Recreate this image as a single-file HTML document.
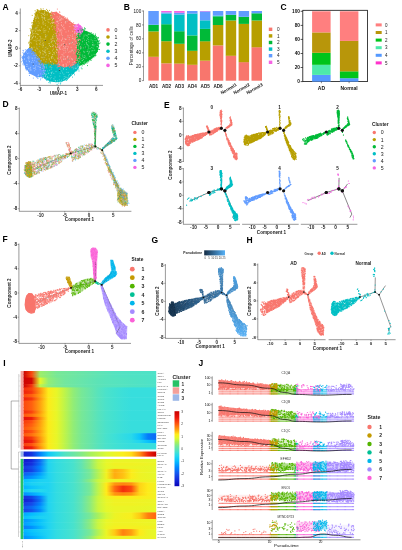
<!DOCTYPE html>
<html><head><meta charset="utf-8"><style>
html,body{margin:0;padding:0;background:#fff;width:402px;height:550px;overflow:hidden}
svg{display:block;will-change:transform}
text{font-family:"Liberation Sans",sans-serif}
path{fill:none;stroke-linecap:round}
</style></head><body>
<svg width="402" height="550" viewBox="0 0 402 550">
<rect width="402" height="550" fill="#fff"/>
<text x="2.5" y="9.5" font-size="8.5" font-weight="bold">A</text>
<line x1="20.3" y1="8.5" x2="20.3" y2="85.6" stroke="#333" stroke-width=".5"/>
<line x1="20.3" y1="85.4" x2="103" y2="85.4" stroke="#333" stroke-width=".5"/>
<line x1="18.8" y1="13" x2="20.3" y2="13" stroke="#333" stroke-width=".4"/>
<text x="17.8" y="14.6" font-size="4.6" text-anchor="end" font-weight="bold" fill="#222">4</text>
<line x1="18.8" y1="30.6" x2="20.3" y2="30.6" stroke="#333" stroke-width=".4"/>
<text x="17.8" y="32.2" font-size="4.6" text-anchor="end" font-weight="bold" fill="#222">2</text>
<line x1="18.8" y1="48.2" x2="20.3" y2="48.2" stroke="#333" stroke-width=".4"/>
<text x="17.8" y="49.8" font-size="4.6" text-anchor="end" font-weight="bold" fill="#222">0</text>
<line x1="18.8" y1="65.8" x2="20.3" y2="65.8" stroke="#333" stroke-width=".4"/>
<text x="17.8" y="67.4" font-size="4.6" text-anchor="end" font-weight="bold" fill="#222">-2</text>
<line x1="18.8" y1="83.3" x2="20.3" y2="83.3" stroke="#333" stroke-width=".4"/>
<text x="17.8" y="84.9" font-size="4.6" text-anchor="end" font-weight="bold" fill="#222">-4</text>
<line x1="20.4" y1="85.4" x2="20.4" y2="86.9" stroke="#333" stroke-width=".4"/>
<text x="20.4" y="91.1" font-size="4.6" text-anchor="middle" font-weight="bold" fill="#222">-6</text>
<line x1="39.1" y1="85.4" x2="39.1" y2="86.9" stroke="#333" stroke-width=".4"/>
<text x="39.1" y="91.1" font-size="4.6" text-anchor="middle" font-weight="bold" fill="#222">-3</text>
<line x1="58.3" y1="85.4" x2="58.3" y2="86.9" stroke="#333" stroke-width=".4"/>
<text x="58.3" y="91.1" font-size="4.6" text-anchor="middle" font-weight="bold" fill="#222">0</text>
<line x1="77.3" y1="85.4" x2="77.3" y2="86.9" stroke="#333" stroke-width=".4"/>
<text x="77.3" y="91.1" font-size="4.6" text-anchor="middle" font-weight="bold" fill="#222">3</text>
<line x1="96.2" y1="85.4" x2="96.2" y2="86.9" stroke="#333" stroke-width=".4"/>
<text x="96.2" y="91.1" font-size="4.6" text-anchor="middle" font-weight="bold" fill="#222">6</text>
<text x="58.3" y="95.3" font-size="4.5" text-anchor="middle" font-weight="bold" fill="#222">UMAP-1</text>
<text x="11.5" y="48" font-size="4.5" text-anchor="middle" font-weight="bold" fill="#222" transform="rotate(-90 11.5 48)">UMAP-2</text>
<polygon points="50.9,14.6 53.1,13.5 56.2,12.7 59.3,15 63.9,18.1 68.5,21.2 73.1,24.3 76.2,26.6 78.3,32.5 78.4,39 77.8,46.7 77.3,54.4 77.4,62.5 74.5,66 65.4,66.7 57.7,66 57,59 56.7,51.3 56.3,43.6 55.5,35.9 54.7,28.1 53.2,20.4" fill="#F8766D" stroke="#F8766D" stroke-width="1.6" stroke-linejoin="round"/>
<polygon points="36.3,12.9 38.8,11.2 43.1,10.9 47,12.4 50.9,14.6 53.2,20.4 54.7,28.1 55.5,35.9 56.3,43.6 56.7,51.3 57,59 56.3,64.4 50.9,63.5 46.2,63.2 43.5,65.5 39.5,60.5 34.5,54.3 30.3,48.8 30.3,42 31.3,35 32.8,27 34.6,19.5" fill="#B79F00" stroke="#B79F00" stroke-width="1.6" stroke-linejoin="round"/>
<polygon points="78.3,32.5 80.9,30.5 84,31.2 88.6,32.8 92.6,35.1 96.1,38.2 97.8,42 98,46.7 96.6,51.3 93.9,55.9 89.6,59 85.5,62.1 80.9,64.4 78.8,65.4 77.4,62.5 77.3,54.4 77.8,46.7 78.4,39" fill="#00BA38" stroke="#00BA38" stroke-width="1.6" stroke-linejoin="round"/>
<polygon points="43.5,65.5 46.2,64.2 50.9,64.8 56.3,66 57.7,67.5 65.4,68 74.5,67 77.4,63.5 78.8,65.4 77.5,68.3 73.1,72.9 68.5,77.5 62.3,80.6 56.2,81.4 50,80.6 44.7,77.5 43.1,76 43.9,69.8" fill="#00BFC4" stroke="#00BFC4" stroke-width="1.6" stroke-linejoin="round"/>
<polygon points="23.1,57.5 24.8,53.5 27.5,50 30.3,48.8 34.5,54.3 39.5,60.5 43.5,65.5 44.3,70.5 43.1,76 37,76.3 30.8,73.2 26.2,67.5 23.7,62" fill="#619CFF" stroke="#619CFF" stroke-width="1.6" stroke-linejoin="round"/>
<polygon points="74.7,25.8 78.5,24.8 81.6,27.4 82.4,30.5 80.1,32.8 77,32 75.5,28.9" fill="#F564E3" stroke="#F564E3" stroke-width="1.6" stroke-linejoin="round"/>
<path d="M53.8 26.2h0m-.2-7.6h0m-.7-1.5h0m.2-.2h0m0-1.5h0m1-1.8h0m1 5.3h0m1 .1h0m-.3 1.7h0m-.3 .7h0m-1.5 .3h0m2.6 2.4h0m-2.4 .7h0m.9 0h0m1.7 0h0m-.6 4.9h0m.5 1.1h0m3 25.4h0m-.3-.3h0m-2-5.8h0m-.2-6.1h0m.6-.3h0m1.1-1h0m-1.9-3.7h0m.3-1h0m1.4-2.8h0m0-.5h0m-.3-3.2h0m-.3-3.1h0m.5-1.2h0m1.2-2.6h0m-1.2-5h0m1.3-1h0m.6-.1h0m-.3 2.5h0m1 6.7h0m1.5 2.1h0m-1.1 3.4h0m-.7 4.8h0m-.1 .7h0m.1 2h0m.3 .2h0m-.6 2.7h0m.7 5.7h0m1.1 4.6h0m-.2 3.4h0m-.3 3.1h0m-1.3 .5h0m1.4 1.1h0m.3 1.6h0m2.5 1.3h0m-1.1 0h0m1.9-1h0m.3-.3h0m-.2-.9h0m-2.5-.4h0m.1-2h0m2.3-.2h0m-.8-5.3h0m1.1-.6h0m-.9-3.9h0m-1.2-.2h0m1.1-4.9h0m-.6-3h0m-.1-.6h0m-.5-2.6h0m1.7-6.1h0m-1.7-.6h0m2.1-1.6h0m-.7-5h0m-1.7-2.7h0m1.2-2.7h0m3.6-.6h0m-1.4 6h0m.5 7.1h0m-.6 .6h0m-.6 2.4h0m.6 2.2h0m1.4 1.5h0m-.8 1h0m-.2 10h0m-.8 4.3h0m2.2 1.5h0m-2 4.1h0m1.5 .4h0m-1.2 .7h0m1.4 2.5h0m1.2 2.2h0m2-4h0m-1.3-1.7h0m-.8-4.4h0m.6-10.9h0m.5-1.4h0m.9-5.7h0m-2.2-1.9h0m.2-.7h0m2.6-6.8h0m1.2-1.1h0m1.7 1.4h0m-1.2 .6h0m.3 9h0m-1.4 1.2h0m.4 4.4h0m-.4 5.4h0m2.1 .7h0m-1.2 1.9h0m1.4 4.2h0m-.9 3.3h0m.5 4.6h0m-1.2 1.1h0m-.7 0h0m3.5-1.2h0m.4-7.9h0m-.8-1h0m1.1-.2h0m-1.2-1h0m2-4.1h0m-1.2-13h0m.5-.4h0m.5-2.5h0m0-2.5h0m-1.7-2.6h0m2.4 20.2h0" stroke="#F8766D" stroke-width="1.1"/>
<path d="M30.8 31.1h0m.7 5.5h0m.5 1.5h0m-1.6 2h0m1.1 .9h0m-1.1 1h0m1.6 3.7h0m-1 3.9h0m2.8-.4h0m-.3-11.3h0m2.4-4.1h0m-.1-.7h0m-1.4-1.1h0m1.5-.9h0m-.6-4.2h0m-1.1-2h0m-.1-1.2h0m-.1-3.1h0m1.7-2.7h0m2.3-7h0m-.3 3.6h0m1.1 1.6h0m-1.2 .2h0m.4 5h0m-.6 3.2h0m-.5 0h0m.6 .6h0m1.4 .2h0m-1.6 4.4h0m1.2 1.2h0m-2.4 .6h0m.3 2.6h0m.6 1.9h0m-.8 1.1h0m2.6 5.5h0m-1.7 .5h0m.2 7.3h0m-.3 2h0m-.5 0h0m1.2 .9h0m.9 2.4h0m2.5 5.7h0m-.3-.3h0m.5-2h0m.3-1.9h0m-.2-1.2h0m.4-9.5h0m-.1-4h0m-2-1.3h0m1.3-1.6h0m.4-2.3h0m-.7 0h0m.1-2.2h0m.2-.8h0m-1.1-1h0m.2-3.9h0m.5-.3h0m-1.1-2.7h0m1.3-.3h0m-.7-1.7h0m.7-1.6h0m-.7-1h0m2.3-8.8h0m-.1 6h0m1.1 2.7h0m-.5 .2h0m.6 .5h0m-1.4 3h0m2.7 6.3h0m-2 9.1h0m1.9 1.6h0m-.5 3.3h0m-.1 1.3h0m0 1.6h0m-1.7 6.8h0m5.3 5.6h0m-2.2-.3h0m-.4-1.3h0m1-6.7h0m1.2-4h0m-1-4h0m-.5-3h0m-.4-11.1h0m-.2-1h0m2-.6h0m-.6-1.5h0m1.3-1.4h0m-.5-5h0m-.4-6.3h0m2.2 2.8h0m-1.1 4h0m1.9 .5h0m-1.5 .2h0m2.3 .6h0m-2.8 8.7h0m2.4 .8h0m-1 2.6h0m1.3 4.4h0m-2.6 8.7h0m2.4 8.1h0m-.6 3.5h0m.4 .3h0m-2.2 .9h0m0 1.6h0m4.8-2.4h0m.6-1.4h0m.1-2.7h0m-1.3-1.6h0m.8-2h0m-.5-1.6h0m-.8-4.7h0m1.6-9.3h0m.2-.1h0m-.3-.4h0m-.8-1.5h0m.2-8.5h0m-1.7-2.7h0m1.3-.5h0m1.6-.1h0m-1.7-1.2h0m.1-2.6h0m2.4 12.5h0m.8 13.1h0m-.8 .1h0m2.1 .7h0m-.8 .9h0m.7 4.1h0m-.7 1.3h0m-.3 4.3h0m1 6.8h0m-.6 .3h0" stroke="#B79F00" stroke-width="1.1"/>
<path d="M77.5 48.5h0m2.2-12.2h0m-.4 1h0m.8 7.5h0m-.7 .7h0m1.1 .6h0m.4 .5h0m-2.1 3.3h0m1.5 2.5h0m.6 .3h0m-.7 5.5h0m-1 .9h0m1.6 .3h0m-.5 4.1h0m-.6 .5h0m2.2-.1h0m-.9-9.6h0m1.2-.9h0m.6-.5h0m.5-.6h0m-2.3-3.9h0m.6-1.1h0m-.6-5.6h0m1.1-.3h0m-.2-2.5h0m1-.5h0m2.7-6.5h0m-.5 5.6h0m1.2 1.8h0m-2.1 2.5h0m2.1 3.2h0m-.9 1.4h0m-.5 9.3h0m.7 1.3h0m.1 2.1h0m-.6 .5h0m.3 3.3h0m1.9-4.4h0m1.5-2.7h0m.5-.1h0m.2-.2h0m-2.2-4h0m2.1-4.7h0m-.4-2.3h0m.2-8.9h0m.8 3.7h0m0 3.9h0m2.7 1h0m-.3 1.4h0m-1.1 .5h0m.2 2.2h0m.4 .6h0m.5 4.3h0m0 1.5h0m-1.1 1.3h0m2-.6h0m-.3-4.5h0m.6-.7h0m1.6-2.1h0m.3-3.7h0m0-5.2h0m1.5 9.4h0" stroke="#00BA38" stroke-width="1.1"/>
<path d="M44.1 65.3h0m-.5 10h0m-.2 .5h0m1.1 1.4h0m.6-1.1h0m0-2.8h0m.3-4.9h0m4.2 2.5h0m-1.1 6.8h0m.7 1.3h0m3.6 .4h0m2.3-10.9h0m.5 2.3h0m-1.1 .2h0m.6 .7h0m0 1.7h0m-.4 .4h0m0 .8h0m.9 .1h0m1 1.2h0m-2.3 1h0m1.5 1.1h0m1 .3h0m.6-2.3h0m1.1-1.6h0m.7-1.1h0m3.2-5.7h0m-1.7 .9h0m1 9h0m-1.5 1.5h0m.3 .9h0m5.3-2.2h0m0-.6h0m-.1-1.5h0m-.4-.5h0m.6-4.6h0m-1.7-1.4h0m-.9-.8h0m.3-.1h0m3.1 3.8h0m-.3 .3h0m2 2.7h0m-2 3.7h0m5.5-4.9h0m0-3.6h0m0-1.1h0m-2.7-1.8h0m3.8 1.3h0" stroke="#00BFC4" stroke-width="1.1"/>
<path d="M26.9 52.1h0m-.9 3.7h0m0 .7h0m.2 .1h0m-.1 5h0m.3 .7h0m3.2 6h0m-.8-7.5h0m-1.3-1.2h0m1.4-5.2h0m-.3-.3h0m-1.6-.5h0m2.3-.5h0m-1.2-.5h0m.4-2h0m-1.4-.3h0m3.5 3.8h0m2 2.9h0m.2 5.2h0m-1.2 3.5h0m-.2 4h0m4.4 5.5h0m-.2-5.9h0m.3-1.5h0m-2.1-3.8h0m-.6-1.2h0m-.1-5.9h0m.6-4.1h0m4.3 7.1h0m-1.9 2.4h0m-.1 1.3h0m3.6 11.7h0m.7-2h0m1.3-.6h0m-.2-.3h0m-1.9-3.9h0m-.1-1.8h0m-.4-2.2h0m.6-.8h0m1.9-.7h0m-.5-2.1h0m1 6.9h0" stroke="#619CFF" stroke-width="1.1"/>
<path d="M77.7 29.7h0m-1.9-1h0m1.6-2.3h0m2.6 2.2h0" stroke="#F564E3" stroke-width="1.1"/>
<path d="M49.8 14h0m-.1 .4h0m.7 .6h0m0 1.3h0m-.3 0h0m.7 1h0m-.3 .5h0m2.8 30.5h0m-.2-1.5h0m-.3-6.4h0m.9-12.1h0m-.1-1.1h0m-1.8-4h0m.4-.3h0m1.2-.6h0m-.3-1h0m-1.7-.7h0m1-.1h0m.4-.5h0m1.1-1.6h0m-2 0h0m0-.7h0m-.9-.5h0m1.2-.1h0m-.7 0h0m1.8-.1h0m-.8-.2h0m.9-.2h0m-1.6-.4h0m.8 0h0m1.1-.7h0m-1.2-.9h0m.5 0h0m-.3-.1h0m.2 0h0m-1.4-.3h0m-.4-.2h0m1.9-.1h0m-2-.2h0m1.3-.3h0m1.5 0h0m-1.6 0h0m.7-.4h0m-1.8-.1h0m2.1-.2h0m.1-.1h0m.4-.1h0m-1.2 0h0m-.5-.3h0m4.1-.2h0m-1.1 .3h0m1.4 .1h0m-2.1 .4h0m.2 0h0m1.7 .5h0m-.5 0h0m-1.2 .4h0m.4 .1h0m1.6 .6h0m-1.1 .2h0m-.3 .5h0m1.2 .6h0m-2 .4h0m.1 3.5h0m.2 1.4h0m-.3 .1h0m.3 .7h0m.7 .7h0m-.1 .7h0m-.2 .4h0m.2 1.2h0m1.5 1.8h0m-1.6 1.3h0m-.8 .4h0m.6 .5h0m-.8 .8h0m1.2 .1h0m-.5 .1h0m-.1 .2h0m2.2 .2h0m-1.7 .4h0m.5 .2h0m-1.7 1.3h0m.4 .9h0m.9 .2h0m1.3 .3h0m-.9 .2h0m.5 1.9h0m-.6 1.1h0m-.4 2.1h0m-1.1 .2h0m2.7 2.6h0m-.2 0h0m-.8 1.2h0m.9 .9h0m-1.4 .4h0m1.6 .7h0m-1.6 1h0m.4 1.4h0m-.3 .3h0m1.4 .5h0m-1.3 1.7h0m1.2 0h0m-.3 2.9h0m.3 1.1h0m-.7 1.8h0m.7 .4h0m0 .6h0m-.4 .2h0m-1.3 2.6h0m1.1 2.1h0m.8 .4h0m-.6 1h0m.6 1.4h0m-.9 .6h0m.9 .1h0m-.9 1.1h0m3.8 3.5h0m-2.8-2.8h0m1.6 0h0m-.2-.1h0m-.5-.6h0m-.3-.1h0m1.2-.6h0m-1-.6h0m-.4-.1h0m1 0h0m-.9-.7h0m-.3-1.5h0m.3-1.1h0m-.2-1.7h0m-.2-2.6h0m1.6-4.3h0m-1.3-4.5h0m.6-1.2h0m-.4-.5h0m.6-1h0m-.2-1.3h0m-.9-2h0m1.6-.5h0m-1.1-5.1h0m.4-5h0m1.3-15.3h0m-.8-.2h0m-1.4-.1h0m1.4-.6h0m-.5-.7h0m.6-.3h0m.4-.1h0m.9-2h0m-.5-.4h0m-2.1-2.8h0m2.9 5.7h0m1.9 1h0m-.6 1.8h0m-1.4 .8h0m0 42.5h0m1.2 3.5h0m-.3 1.8h0m-.8 .8h0m2.3 .5h0m-2 .3h0m4.1-.8h0m-.6-.1h0m.2-1.4h0m-.6-.4h0m-.5-.1h0m1-.2h0m1.6-43.4h0m-1.7-.6h0m.2-.5h0m.5-.1h0m.5-.1h0m.6-.5h0m-.5-1.9h0m-1.6-1.1h0m.4-.2h0m3 1.6h0m.1 .6h0m-.5 1h0m.7 .5h0m.1 0h0m-.6 .1h0m-.9 0h0m1.4 0h0m-.7 1.2h0m1.1 0h0m.6 .2h0m-2.4 .1h0m2.8 .4h0m-2.5 .2h0m1 .3h0m-.8 43.1h0m2 .1h0m-.7 .3h0m-1.4 0h0m1.3 .5h0m-1.3 .8h0m4.9 .3h0m-1.7-.1h0m.2-1.9h0m1.7-40.6h0m-1.8-.6h0m1.9-1.3h0m-1-.4h0m-1.2 0h0m-.1-.2h0m-.3-.5h0m1-1.1h0m3.7 1.8h0m-1.2 1.8h0m1.8 .1h0m-1.1 .2h0m.3 .1h0m-.4 .1h0m-.1 .2h0m0 .7h0m.7 .3h0m.1 .2h0m.6 1h0m-1.8 .2h0m2.3 3.8h0m-1.8 29.5h0m1.4 0h0m.1 3.2h0m-.5 .7h0m-.9 .3h0m.7 1.7h0m1.9-.8h0m1.2-.6h0m.9-.9h0m-2.5-.3h0m.2-.8h0m.8-.1h0m.3-1.1h0m.5-.4h0m-.5-.3h0m-.1-1.3h0m1-.4h0m-1-1.7h0m0-.6h0m1.2-.4h0m-1.4-.4h0m0-2.1h0m.9-.1h0m-1.6-.6h0m1.8-.6h0m-.8-1.7h0m.7-.2h0m-2.3-2h0m2.7-3.8h0m-1.7-.4h0m1.7-1.3h0m-1.1-4.2h0m1.2-.6h0m-.2-.5h0m-1.4-1.1h0m-.8-1.3h0m2.3 0h0m.1-4.3h0m-.3-.3h0m-2.2-1.4h0m-.1-1.1h0m0-.4h0m1.2-.8h0m.2 0h0m-1.1-.1h0m-.6-1.7h0m1.2-.5h0m1-.5h0m-1.6-.2h0m-.6-.1h0m4.2 9.2h0m-.7 .1h0m1.4 .3h0m-.4 1.2h0m.1 1.5h0m-1.6 .3h0m.4 .8h0m1.2 .5h0m-.5 .7h0m.7 .1h0m.5 .7h0m-1.8 .1h0m-.2 1.8h0m.9 1h0m-1.1 1.3h0m-.1 1.7h0m1 .9h0m-.2 2.9h0m.8 .7h0m-1.6 .3h0m.5 .2h0m0 1.3h0m1.6 .4h0m-1.9 1.5h0m1.4 .4h0m.1 1.8h0m-.6 .4h0m.9 .6h0m-1 0h0m-.5 .9h0m1.5 .6h0m-1.9 1.8h0m.4 2.3h0m2.5-15.8h0" stroke="#F8766D" stroke-width="1"/>
<path d="M29.5 47.8h0m.2-.1h0m.1-.1h0m.1-2.6h0m-1.4-2h0m.6-.9h0m-.3-6.4h0m3.4-20.3h0m0 7h0m-.3 .6h0m-.2 2.9h0m-1.6 2.7h0m1.1 1.1h0m-.8 .4h0m2.4 1.5h0m-.1 .9h0m-.7 .3h0m-1.3 2.1h0m1.3 2.4h0m.3 1.7h0m-1.8 1h0m.4 .3h0m.6 .2h0m-.5 1.2h0m-.9 3.1h0m1.8 .3h0m-1 .7h0m.9 3h0m-.8 .3h0m1.2 1.3h0m.1 1.1h0m-.3 1.1h0m.8 1.7h0m3 .2h0m-1-.7h0m0-1.5h0m-1.7 0h0m0-13.6h0m.1 0h0m.7-1h0m-.9-4.8h0m.2-3.3h0m.2-2.2h0m.7-.4h0m-.2-.5h0m-.9-.5h0m2.3-.3h0m-1.5-.4h0m-.8-.2h0m1.1-.2h0m-.6-4.2h0m.1-.2h0m.5-1.7h0m1.6-.2h0m-.4-2.5h0m-.8-2.2h0m.6-3.2h0m1.9-.9h0m.9 .1h0m-.3 .1h0m.2 1h0m-.4 0h0m1 .1h0m-1 0h0m-.2 .2h0m.6 .1h0m1.1 .3h0m-2.9 .3h0m2.6 .2h0m-1.9 .1h0m1.5 .5h0m.1 .3h0m-2.3 .1h0m2.4 .1h0m-2.1 .4h0m1.8 .4h0m-.2 .1h0m-1.8 .4h0m2 4.3h0m-1.9 2.1h0m1.8 34.2h0m-1.5 1.1h0m2.2 .1h0m-1.5 .9h0m-.6 .4h0m1.6 .5h0m-.3 2.3h0m.7 .3h0m.4 3h0m1.9-.4h0m0-.2h0m-.6 0h0m1.5-.6h0m-1.7-.3h0m-1.1-.7h0m.4-.8h0m1.9-.8h0m-.4-.6h0m-.8-.8h0m.2-1.6h0m-.4-43.1h0m-.4-.6h0m1.8-.7h0m-.8-.3h0m-1.3-.4h0m2.5-.3h0m-.1-.2h0m-2.5 0h0m2.4-.5h0m-.6-.2h0m.2-1.2h0m-.2-.8h0m2.3 .2h0m.6 1.6h0m-.3 .1h0m-.1 .1h0m.8 .1h0m.1 .2h0m-.7 .1h0m-.3 .4h0m1.1 .4h0m-.6 0h0m.1 .5h0m-1.4 .9h0m.7 48.9h0m-1.1 .2h0m-.1 .9h0m2 .9h0m-.3 .2h0m0 .2h0m-1.6 .6h0m1.6 .1h0m-1.2 .4h0m.9 1.1h0m2.7 1.5h0m-.7-3.8h0m-.4-.2h0m2.9-.5h0m-1.2-.2h0m.9-.5h0m.1-.2h0m-.6-.2h0m-.8-.1h0m-.4-2.2h0m1.7-44.4h0m-.6-.5h0m.5-2.1h0m-.4 0h0m-1.9-.1h0m2.5-.7h0m-.2-.3h0m-1-.2h0m.9-1.1h0m-1.9-.3h0m2.2-.2h0m-1-1.1h0m2.9 1h0m-1.1 1.5h0m.2 1h0m-.7 .3h0m2.2 0h0m.2 .5h0m-1.3 .8h0m.1 .1h0m-.3 .2h0m1.1 .9h0m-1 1.4h0m.6 44.1h0m.1 1.3h0m.2 1.2h0m-.6 .7h0m1.3 0h0m-2.4 0h0m1.5 .9h0m-1.4 .5h0m2.4 .9h0m3.1-1.9h0m-2.3-.2h0m.9-.1h0m-1.2-.2h0m2.6-.2h0m-.8 0h0m.9-.5h0m-2-.7h0m1.8-.5h0m-.3-20.5h0m.5-5.3h0m-.9-7.3h0m-1.7-.3h0m1.8-1.1h0m-.8-.8h0m1.4-2.3h0m-1.7-.7h0m1.4-.1h0m-.3-1.5h0m.3-.6h0m-1.3-.6h0m1.5-.7h0m0-.1h0m-1.1 0h0m-.6-1.1h0m.7-.9h0m-1.5-1.3h0m.5-1.3h0m-.1-.6h0m1.6-.4h0m-1.7-2.8h0m3.1 7.9h0m.4 1h0m-.9 .3h0m1.1 3.4h0m-.1 .3h0m1 0h0m-1.7 .6h0m-.3 .3h0m1.9 .3h0m-.9 .9h0m.6 .4h0m-.4 0h0m-.2 1.8h0m.2 .2h0m-.9 1.2h0m-.1 .3h0m1.6 1h0m-.3 0h0m-1.2 .3h0m1 .9h0m-.5 .2h0m-.5 .9h0m1.4 .2h0m0 .9h0m.3 .8h0m-.7 .8h0m-1.1 1.3h0m2 .2h0m.6 .3h0m-2.1 .8h0m.1 .2h0m1.7 .6h0m-1.4 .9h0m.6 .3h0m-.3 .4h0m1.1 0h0m-1.6 1.8h0m.7 .4h0m-.7 0h0m1.3 1.1h0m.6 .2h0m-1.5 3.8h0m0 .2h0m1.4 1.2h0m-.2 .7h0m-.5 2h0m.4 2.2h0m.5 .2h0m-.2 .3h0m-.6 .1h0m-.3 .1h0m.4 1h0m.7 .8h0m-.2 2.7h0m-2 0h0m.8 .4h0m1.2 .3h0m-.4 .2h0m.2 0h0m.3 .1h0m-2.8 .2h0m1.5 .9h0m.3 .3h0m-.8 .3h0m-.2 .1h0m1 0h0m-1.7 .1h0m1.3 .3h0m-1 1.2h0m-.4 0h0m4.4-.9h0m-1.4-1.8h0m.3-.5h0m.4-.2h0m2-.1h0m-2.6 0h0m.1-1.1h0m2.7-.2h0m-2.3 0h0m.4-1.6h0m1.4-.4h0m-2.3-.3h0m.4-.1h0m-.5-.3h0m.1-1h0m2.6-.6h0m-1.5-6.5h0m.6-.5h0m-1.2-.4h0m-.4-.1h0m1.1-3.5h0m.1-2.5h0m-1.2-.4h0m.5-2.7h0m-.1-5.4h0m1.1-1.7h0" stroke="#B79F00" stroke-width="1"/>
<path d="M74.3 50.9h0m2.8 14.7h0m.1-.4h0m-.5-1h0m.9-.1h0m-.6-.8h0m.9-.5h0m-.6-.9h0m-.7-.3h0m-.5-.1h0m.4-3.1h0m1-.5h0m.4-2.4h0m-.3-.4h0m-1.2-.4h0m-.3-.7h0m.5-.8h0m.7-.3h0m0-.6h0m.1-.5h0m-.1-4.5h0m0-1h0m.4-.1h0m-1.2-1.4h0m.4-5h0m.8-1.2h0m-1.1-.1h0m1.2-.3h0m-.9-1.6h0m-.5-.9h0m1.1-.1h0m2.7-6.7h0m0 .3h0m.2 .8h0m-2.1 1.8h0m1.2 .1h0m.2 .2h0m-.9 .6h0m1.1 .5h0m-1.5 .7h0m-.3 .1h0m2.7 1.5h0m-1.3 .1h0m-1 1.1h0m.7 .5h0m-.7 .1h0m1.1 0h0m-.4 .9h0m-.1 .3h0m-1.1 6.6h0m1.4 1.2h0m.4 .5h0m-.4 .3h0m.7 .6h0m-2 2.8h0m0 6.5h0m.1 5h0m0 2.5h0m.8 .4h0m0 .3h0m1.1 0h0m-1.9 .5h0m-.1 .2h0m3.9 2.9h0m.1-3h0m-.5-1.4h0m.2-.2h0m1.9 0h0m-2.3-.3h0m2.2-.5h0m-.9-2h0m-1.2-29.8h0m.4-.7h0m-.9-.5h0m1.3-.4h0m.3-.1h0m.5-.2h0m-1.6-.8h0m.4-.7h0m2.7-.3h0m.5 .8h0m-.1 .2h0m-1 1h0m0 .1h0m.8 .8h0m1.9 .6h0m-2.3 .3h0m2.5 .4h0m-1.6 0h0m1.1 .7h0m-1.6 24.2h0m2 3.2h0m-1.3 .4h0m.6 2.2h0m-2 0h0m.7 .5h0m-.6 1.2h0m3.2 1.1h0m-.2-2.7h0m1-1.1h0m.7-.8h0m-.2-.6h0m-.3-.8h0m.3-.5h0m-.4-.1h0m1.6-.7h0m-1.9-.8h0m.4-.2h0m-1.2-1.3h0m1.4-20.7h0m0-.6h0m-.8 0h0m1.2-.3h0m-.1-.2h0m.7-.1h0m.3-.4h0m-2.3-.6h0m1.1-.3h0m-1.1-.4h0m3.5 .1h0m.3 1.6h0m1.1 .8h0m-.8 .3h0m-1.1 .1h0m2.2 .4h0m-2.6 1.4h0m2.5 0h0m.2 1.6h0m-1.3 17.1h0m.6 .6h0m-1.9 .3h0m.8 .3h0m-.9 1.6h0m.8 0h0m.9 .1h0m-1.9 .1h0m0 .8h0m.7 .2h0m.4 .6h0m2.8-3.4h0m-.7-.4h0m-.2-.7h0m2.3 0h0m.5-.5h0m0-.3h0m-2-.4h0m1.8-2h0m-.4-.6h0m.3-1.6h0m.3-1.2h0m.1-4.7h0m-.1-5.7h0m-1.2-.9h0m-.5-.2h0m1.1-1.4h0m-1.1-.7h0m1.5-.2h0m-.6-.3h0m-1.8-.4h0m2.2-.7h0m-2.3-.4h0m3.4 3h0m1.7 .7h0m-.2 .5h0m-.2 .1h0m.2 .1h0m-1.6 .1h0m0 .8h0m-.1 .3h0m.4 0h0m.2 .6h0m-.6 .2h0m1.5 .1h0m.3 .7h0m.3 .5h0m-.6 .9h0m-.1 1.1h0m.8 0h0m-1.5 .7h0m0 .7h0m1 .3h0m.3 1h0m.5 .6h0m-1.2 1.2h0m-1.3 .5h0m.6 .2h0m1 .4h0m.3 .5h0m-1.6 .6h0m1 .7h0m-.9 .1h0m.8 .7h0m-.9 .6h0m-.4 .2h0m3.2-2.9h0m0-5.8h0m.6-.8h0m-.4-2h0" stroke="#00BA38" stroke-width="1"/>
<path d="M39.7 76.8h0m2.2-9.4h0m-.4-1.3h0m-.9-1.8h0m1.6-1.4h0m2 1.3h0m0 .1h0m-1.4 1.2h0m1.4 .7h0m-1.3 2.2h0m-.6 .4h0m-.2 .6h0m2.5 .3h0m-.8 2.1h0m-1.3 .5h0m1.1 1.7h0m-1.2 1.2h0m2 .1h0m-2.1 .4h0m1.7 1.2h0m-1.6 .4h0m2.4 .6h0m.1 .2h0m2.1 2.2h0m.1-.5h0m-.5 0h0m.1-1h0m-1.3-.5h0m.4-.4h0m.7-.2h0m-1.5 0h0m.8-.8h0m.6-1.8h0m-.8-.5h0m.4-.6h0m-.8-2.9h0m-.1-1.3h0m1.9-2.3h0m-.7-2.2h0m1.1 0h0m-.8-.1h0m-.9 0h0m1.9-.2h0m-2.6-.1h0m1.3-.4h0m1.3-.3h0m-1.5-2h0m2.3 .9h0m1.6 1.1h0m.7 .2h0m-2.7 .5h0m2.6 .1h0m-1.1 .7h0m-.5 1.8h0m-.8 9.9h0m2.4 1.3h0m-2.2 .5h0m2.3 .2h0m-1.1 1.8h0m.6 .7h0m-1.3 .7h0m1.3 .4h0m3.5-1.5h0m-.1-1h0m-1.6-.5h0m-.8-1.1h0m2-13.2h0m-1.7-.1h0m2.1-.4h0m-1.3-.1h0m-.1-1.4h0m-.1-.7h0m2.7 1.3h0m-.2 .7h0m1.8 0h0m-.8 0h0m.8 .9h0m-2.1 .1h0m.3 .2h0m.4 .3h0m1.3 .4h0m.5 0h0m-.2 .5h0m-.4 .3h0m-.7 0h0m.8 1.1h0m-1.1 11.2h0m-1 .1h0m2.6 .1h0m-.1 1h0m-1.2 .3h0m.3 0h0m0 .2h0m1.3 2.7h0m1.7-1.4h0m-1.1-1.4h0m-.2-12.6h0m.3-.3h0m1.7-.2h0m-1.1-.4h0m-.3 0h0m-1.1-2.3h0m1-.7h0m0-.1h0m.3-.9h0m2.2 2.6h0m.7 0h0m-1 .3h0m2.1 .2h0m.4 1.3h0m-.1 .4h0m-.7 10.2h0m-.4 .3h0m-.5 1h0m1.8 0h0m-.9 1h0m-1.1 1.5h0m-.4 1h0m2.7-3.3h0m1.7-.4h0m0-.5h0m-.8-10.1h0m1.7-1.8h0m-2.6-.1h0m5.1-.6h0m-.9 .1h0m1.1 0h0m-1 .2h0m-1 0h0m.9 .9h0m-.2 1.7h0m1.1 6.8h0m-1.9 .9h0m2.2 .2h0m-1.1 1.5h0m-.6 .6h0m-.6 .5h0m2.8-3.3h0m2.5-2.4h0m-.1-1.5h0m-.3-1.3h0m-.8-3.6h0m-1.2-.1h0m1.3-1h0m-.8-1.5h0m4.3-1.9h0m.7 1.4h0m-1.2 .6h0m-.3 .3h0m1.1 .1h0m-.5 .2h0m-1 0h0m-.6 .1h0m2.7 0h0m-2.3 .1h0m1.4 1.9h0m-1.7 .9h0m1.2 3.1h0m-.1 .2h0m-1.1 .2h0m.7 0h0m1 .4h0m-.8 .1h0m-.4 0h0m1.7 1.3h0m-1.8 2.3h0m3.3-6.1h0m.8-.3h0m0-.5h0m1.1-.5h0m-2.8-.1h0m1.9-.8h0m-.6 0h0m.9-1.6h0m.1-.2h0m-.4-.1h0m-.5-.5h0m.5 0h0m.7-.1h0m.2-.1h0m-.8-.5h0m-.2-.3h0m-.5 0h0m1.6-.2h0m-2.6-.4h0m.5-.3h0m1.4-.3h0m.7-.1h0m-1.9-.2h0m1.9-1h0m.5-1.2h0m.1 1.9h0m-.2 0h0m0 .4h0m.8 .7h0m-1 .7h0m1.1 .1h0m-.1 .2h0m-1.1 .7h0m.3 .3h0m.2 .3h0m.3 2h0m.2 2h0m2.2-3.1h0" stroke="#00BFC4" stroke-width="1"/>
<path d="M20.8 55.4h0m-.1 3.5h0m2.6 6h0m-.5-.9h0m-1.5-2.2h0m1.6-1.1h0m-.5-2.3h0m1.5-1h0m-1.8-.1h0m-.1-.1h0m1.1 0h0m.7-.6h0m-1 0h0m.4-.5h0m.2-1.3h0m.1-1.4h0m-.6-.7h0m.7-1.8h0m-.6-.5h0m2.3-.6h0m1.6 2.9h0m-.7 .3h0m.5 1.1h0m-.3 1.7h0m-.6 1h0m-1.3 .1h0m0 .4h0m-.2 .3h0m.2 .6h0m-.2 .9h0m.8 .8h0m-.3 0h0m-.2 0h0m-.2 .8h0m-.4 1.1h0m.4 .7h0m.9 .6h0m-1.3 0h0m.1 0h0m.9 .1h0m.6 .1h0m-.6 1.1h0m1.7 .4h0m-.7 1.2h0m-.6 1.5h0m1.5 .8h0m-1.3 .1h0m.5 1.3h0m.5 .2h0m3 5.6h0m.3-1.9h0m-.8-.2h0m-.2-1.6h0m.3-.4h0m.3-.3h0m-.3 0h0m.3-1.5h0m-2.4-.3h0m.3-.8h0m.2-.1h0m-.4 0h0m1.2-.9h0m1.3-.7h0m-2.7-.3h0m1.4-.8h0m-.9-13.6h0m.1-.2h0m1.5-.7h0m.2-.5h0m.5-.4h0m.1-.1h0m-2.6-.2h0m.9-.3h0m.7-1.1h0m-.3-.1h0m1.4 .4h0m2.3 .1h0m.4 .3h0m-1.6 .2h0m-1 .7h0m.8 1.1h0m1.1 .4h0m.8 .7h0m-.1 .4h0m.2 .3h0m-2.1 1.2h0m1.2 .3h0m-1.9 15.7h0m-.1 1.6h0m.1 .2h0m1.3 .1h0m-.7 1.1h0m-.7 .1h0m3.3 4.7h0m1.4-3.4h0m-.9-2.3h0m1.9-14.6h0m-1.7-1.3h0m.7-.7h0m-1.1-1.4h0m2.1-.2h0m-2-.4h0m.2-.8h0m1.3-.3h0m-.6 0h0m-1.4-.7h0m0-.4h0m3.6 3.1h0m.6 1.8h0m-1.2 .5h0m2.4 .3h0m-2.4 .6h0m1.1 .5h0m.8 2.3h0m-.4 .2h0m1.1 2.5h0m-2.5 10.1h0m.4 1.3h0m1.5 .3h0m.2 1.1h0m-2.3 .2h0m.8 1.1h0m1 .5h0m0 .2h0m2.5 1.6h0m.5-1.6h0m.9-1.4h0m-1.4-.3h0m.9-2.2h0m-.2-2.4h0m.7-.3h0m-1.8-1.1h0m1.2-7h0m-.8-1.5h0m-.9-3.1h0m-.1-.2h0m-.3-.2h0m3.2 5.2h0m1.7 .2h0m-1.6 .8h0m-.1 .5h0m.2 .5h0m.1 .3h0m1.1 0h0m-.5 .1h0m.4 .6h0m-.4 .3h0m1.2 .5h0m-2 .5h0m2.3 .5h0m-1.1 .9h0m1.1 .8h0m-1.2 1.5h0m-.1 1.3h0m-.8 .3h0m1.1 2.9h0m-.4 .9h0m-.6 .7h0m2.9 1.4h0m-.3-2.7h0m.6-2.7h0m-.8-2.4h0m.4-.9h0m1.3-2.2h0" stroke="#619CFF" stroke-width="1"/>
<path d="M74 26.3h0m0 3h0m.7 .3h0m-.3 2.9h0m3.1-.7h0m-.1-.1h0m-2-.3h0m1.5-.6h0m0-.8h0m-.2 0h0m1.1-.2h0m-2.4-.2h0m2-1.2h0m-2.4-.2h0m1.4-.2h0m-.1-.3h0m-1-1h0m1.7 0h0m-1.8-.1h0m.9-.7h0m-.9-.2h0m.9-.1h0m-.7-.5h0m2.9-1.2h0m1.9 1.8h0m-1.1 .3h0m.7 .1h0m.7 .5h0m-2.2 .2h0m2.2 .1h0m.2 .8h0m-.5 1.1h0m.4 1.1h0m-1.7 .4h0m1.4 .6h0m-.9 .5h0m-.5 .8h0m-.4 .1h0m.9 0h0m1.3 .6h0m.2 1.1h0m-1.2 .8h0m.3 1.3h0m1.2-3h0m.8-1h0m.4-.2h0m-1.4-.3h0m1.3-.1h0m-.5-.3h0m.9-.7h0m-1.6-1.6h0m.7-.3h0" stroke="#F564E3" stroke-width="1"/>
<path d="M32.7 32.8h0m-1.7 5h0m.8 11.9h0m2.6-20.9h0m-1.4-.7h0m.9-3.6h0m3.7-6.8h0m-.9 5.5h0m-.2 5h0m0 18.5h0m1.9 2.9h0m1.2-3.1h0m-.5 0h0m1.8-4.6h0m-1.1-.8h0m2-7.6h0m.1-15.7h0m-.1-4.7h0m2.7 27.3h0m-2.4 4.5h0m2.4 3.3h0m-.6 1.6h0m-.8 6.3h0m1.6 .9h0m-1.4 .2h0m1.9-3.5h0m1.1-6.7h0m-.9-2.8h0m.7-8.8h0m1.5-.2h0m-.7-17.2h0m.8-4.7h0m1.4 27.7h0m1.5 1.4h0m-1.8 4.4h0m.8 5.3h0m-1.1 10.9h0m4.5-5.3h0m.5-12.5h0m-1.9-29.3h0m4.3 13.2h0m-.9 6.7h0m-.3 .7h0m1.5 2.6h0m-1.5 1.2h0m.5 2.3h0m1 12.5h0m1.1-.3h0m.9-5.7h0m.2-3.5h0m.6-1.7h0m-1.5-11.2h0m1.5-10.5h0m2.1-4.8h0m-.9 9.8h0m3.2 31.3h0m2.5-2.2h0m-1.3-11.3h0m-1.4-8.3h0m1.8-16.7h0m1.9 1.6h0m.7 15.8h0m1.1 4.6h0m-2 6h0m-.6 3h0m2.7 6.9h0m-.6 1.5h0m-.1 0h0m.1 .2h0m3.2 4.5h0m-2.4-20.5h0m2.4-.3h0m.2-.7h0m-1.2-12.4h0m1.6 4h0m.6 7.1h0m1.7 4.1h0m-1.8 3.9h0m-.2 5.6h0m1.1 4.6h0m2.1-16.9h0m1.8-2h0m.2-.5h0m-.5-4.8h0m3.8 11.1h0m-1.5 17.2h0m2.5-18.8h0m.8-2.7h0m-.4-3.2h0m1.6-.7h0m-.6-7.2h0m1.2 13.5h0m.5 7.3h0m-.9 .9h0m.1 2.8h0m1.2 1.2h0m3-1.9h0m.9-2.3h0m.6-10.5h0m-1.4-8.9h0m2.7 4.7h0m3.9 6.7h0m-1.4-.4h0m1.7-5.5h0" stroke="#8FA898" stroke-width=".8" stroke-opacity="0.7"/>
<path d="M35.1 50h0m3.1-38.2h0m-1.1 4.5h0m1.1 5.1h0m-1.2 23.3h0m4.2 12.4h0m-1.8-1.4h0m1.1-13.4h0m-1.2-2.3h0m.2-27.8h0m5.3 5.7h0m-2.5 5.9h0m.2 19.5h0m.5 10.2h0m1.8 4.2h0m.8-2.1h0m-.5-5.9h0m-.1-9.9h0m2.4-24.9h0m1.1 41h0m3.4 6.1h0m-.7-4.8h0m1.2-27.5h0m1.7-7.3h0m1.1 10.8h0m.7 18.2h0m-1.3 .9h0m2.6 5.4h0m.9-32h0m-.9-.6h0m2.5-9.1h0m.3 .5h0m1.3 3.6h0m-.2 24.8h0m1.1 20.5h0m1.4-.4h0m-.4-8.2h0m-.1-12.1h0m1.4-2.9h0m-1.3-.2h0m3.1-2.2h0m4.3 26.5h0m-1-14.5h0m3.7-25.9h0m-.5 12.6h0m1.9 1.4h0m-.2 .4h0m-1.7 18.9h0m3.7-11.6h0m0-19h0" stroke="#F0C8A0" stroke-width=".8" stroke-opacity="0.7"/>
<path d="M26.4 52.1h0m-2 3.6h0m0 2.9h0m0 .9h0m1.9 1.6h0m0 3.3h0m.3 2h0m2.1 2.6h0m1.2-.2h0m-1.4-.5h0m-.7-2.1h0m-.6-1.7h0m2-2.8h0m.3-.1h0m-.7-1.4h0m.1-1.3h0m0-.7h0m-.9-.2h0m0-.4h0m1.8-.5h0m-1.4-.8h0m-1-2.7h0m1.5-.5h0m3.9-22.8h0m-.6 .8h0m.6 .2h0m-.5 1.4h0m.2 1.5h0m-1.1 1.6h0m1.4 1.5h0m-.5 .5h0m-.1 .1h0m-.3 1h0m-1 .8h0m-.2 2.7h0m.6 .7h0m.4 4.2h0m.2 .2h0m-.6 1.2h0m1 .2h0m-.3 4.9h0m-.1 4.3h0m.8 .1h0m-.2 2.1h0m-.8 2h0m-1 5h0m-.5 .7h0m0 1.6h0m1 .4h0m-1.2 .6h0m4.7 .2h0m1.1-1.4h0m-2.4-1.1h0m1.1 0h0m.7-.1h0m.4-1.1h0m-2.2-1.6h0m-.2-3.3h0m1.1-1.9h0m.5-2.3h0m1-.2h0m-1.8-2.5h0m1.9-1.4h0m-.6-3.7h0m-1.2-3h0m0-6.8h0m1.5-3.2h0m-.3-.8h0m-1.7-.2h0m-.4 0h0m.1-2.5h0m1.7-.4h0m.4-1.9h0m-1.5-1.2h0m1.9-1.9h0m-.5-7.4h0m.4-2.1h0m0-2.5h0m1.6-1.3h0m.8 2.2h0m-2 .4h0m2.6 .8h0m-2.6 .1h0m1.9 7.1h0m-.9 1.6h0m-1.1 .8h0m0 1.9h0m1.9 .2h0m.3 .6h0m-1.4 2.9h0m1 .7h0m.3 .2h0m-.9 4.2h0m-1.2 1.5h0m2.1 .2h0m-1.9 1.3h0m.5 2.2h0m.1 4.2h0m.5 .8h0m-1 6.5h0m1.6 3.2h0m-1.7 3.2h0m-.2 3.9h0m2.1 .9h0m.3 8.4h0m0 .1h0m-.5 .6h0m2.8-1.8h0m-.6-4.2h0m.4-2.2h0m-1.1-.3h0m1.7-2.4h0m-1.9-.6h0m-.1-.3h0m2.1-3.6h0m.7-2.6h0m-1.7-3.8h0m.2-1.4h0m-1.3-.5h0m.8-1h0m.3-6.8h0m-.8-.3h0m.6-3.2h0m.4-1.8h0m1.5-.1h0m-1.2-1.6h0m-.7-.8h0m.4-5.8h0m-.4 0h0m-.4-.8h0m2-2.7h0m-2.5-4h0m2.2-7.5h0m-.2-2.3h0m3.4-1.6h0m-.1 1.3h0m-2.1 .8h0m2.4 0h0m-1.6 .3h0m.4 .2h0m.9 1.3h0m-2.3 1.4h0m-.1 .1h0m.7 .8h0m1.8 0h0m-.7 .1h0m.9 .2h0m0 1.5h0m-2.2 .3h0m1 2h0m-.7 .2h0m.6 1.9h0m.6 4.3h0m-.8 1.6h0m1.6 .5h0m-1 1.6h0m.2 7.1h0m-1.8 1.7h0m1.5 2h0m-.4 2h0m-1.2 .2h0m1.3 .5h0m-.5 1.5h0m-.2 3.6h0m2.1 .6h0m-1.6 .2h0m1.2 .6h0m-1.3 2.5h0m-.2 3.1h0m1 2.1h0m0 4.6h0m-.2 .9h0m.5 1.5h0m-.1 .1h0m-1.3 1.6h0m.5 1.8h0m-.2 1.9h0m1.3 1.1h0m.2 .6h0m-1.6 .9h0m3.9 3.3h0m.7-.7h0m0-.7h0m-2.4-.1h0m.3-1.2h0m.7-.8h0m-.3-.5h0m1.8-3.1h0m-2.6-.4h0m1.1-3.2h0m0-1.2h0m-.3-1.6h0m0-2.8h0m.8-2.5h0m-.4-4.5h0m-.5-2h0m-.7-.2h0m.1-1.9h0m1.8-1.7h0m.8-.4h0m-2-1.2h0m0-9.6h0m-.1-1.3h0m.3-.3h0m-.7-1.5h0m-.3-2.7h0m.9-1.8h0m1.9-3.2h0m-2.2-1.5h0m-.5-1.6h0m.6-3.4h0m.2-5.6h0m4.6 .6h0m-.3 3.6h0m-1 .1h0m-1.1 .3h0m-.1 1.7h0m.8 1.4h0m1.6 1.1h0m-1.1 5h0m.2 .4h0m-1.2 2.7h0m1.2 11.9h0m-.7 0h0m.8 1.8h0m1 1h0m.3 .3h0m-1.9 4.8h0m1.3 1.4h0m-1.2 .5h0m.2 0h0m-.1 5.2h0m.1 1.1h0m1.3 1.6h0m0 .3h0m.2 5.1h0m-.9 .2h0m-.3 3.3h0m-.8 2.8h0m-.5 .3h0m2.5 2.2h0m-1.9 2.2h0m1.8 1h0m3.2-.2h0m-2.7-1h0m.3-3.9h0m2.3-.3h0m-2.1-.6h0m-.6-.1h0m1.1-.7h0m-1-2.8h0m.6-1.6h0m-.5-2.6h0m2.3-1.2h0m-2.2-5.4h0m1.7-.2h0m-1.4-.7h0m.4-1h0m-.1-.1h0m.8-1.7h0m0-.1h0m.6-1.9h0m-.8-1.9h0m.6-1.4h0m-.8-2.9h0m1.3-.8h0m-1-.9h0m-1.4-2.1h0m.1-1.3h0m.8-.3h0m-1.1-1.4h0m0-.9h0m2-.5h0m-.7-.2h0m.6-1.2h0m-.4-.7h0m1.1-1.5h0m-2.4-8h0m.8-1.2h0m.8-2.4h0m-.4 0h0m.5-.4h0m.7-.4h0m-2 0h0m.7-1.5h0m.2-1.4h0m-.1-.3h0m.9-.2h0m0-.5h0m-1.6-.5h0m0-2.3h0m1.5-1.8h0m1.2 .5h0m2 7.3h0m.4 3.4h0m-2.3 1.9h0m1.4 6.9h0m.3 1.7h0m.3 1.5h0m-.1 3.6h0m-2.5 .2h0m.7 .7h0m.7 1.8h0m.2 3.4h0m1.1 1.1h0m-.2 1.5h0m.3 .8h0m-.4 2.5h0m-1.9 1.3h0m.2 6.1h0m.6 1.1h0m1.3 .2h0m-.6 10.3h0m-1 5.4h0m-.9 3.1h0m1.5 .5h0m0 .4h0m1.8-.2h0m1.9-.9h0m.5-3.8h0m-2.7-8.3h0m2.6-3.2h0m-1.4 0h0m.4-1.6h0m.5-1.4h0m-.3-2.9h0m-1.6-.2h0m1.5-6.3h0m-1.4-2.2h0m-.4-.2h0m2.2-.4h0m.5-1h0m.1-.5h0m-.6-.3h0m-1.4-.5h0m1.3-1.1h0m-1.7-1.2h0m1.7-5.7h0m-1.5 0h0m-.3-.2h0m2.4-3.9h0m-2.2-3.6h0m2-1.2h0m-1.2-1.2h0m-.2-.2h0m-1-1.7h0m1.5-3.7h0m-1.3-1.3h0m.5-.7h0m.1-.3h0m2-.5h0m-1.2-2.2h0m1.2-1.1h0m-2.8-.4h0m4.3 1.3h0m.6 .8h0m-1.2 .1h0m-.8 .7h0m0 .3h0m1.3 2.4h0m.3 2.6h0m-.3 0h0m1.1 1.3h0m-1.3 3h0m-.7 .9h0m1.5 .6h0m-1.9 .9h0m1.7 1.1h0m-.4 1.3h0m.9 1.4h0m.5 2.4h0m-.3 1.2h0m-1.2 .8h0m.2 .8h0m.6 3.2h0m-.6 1.2h0m-1.2 .9h0m2 3h0m-1.8 .2h0m1.6 5.1h0m-1 2.5h0m-.3 1.1h0m.9 2.1h0m.3 1.7h0m-.1 9.2h0m.8 1.9h0m-2.4 .4h0m1.3 6.9h0m1.8-1h0m1.4-.6h0m1.1-1.6h0m-1.6-.4h0m-.3-2.4h0m-.3-4.9h0m0-.8h0m-.2-2.4h0m-.4-1h0m.2-.4h0m.6-5.2h0m1.5-.5h0m-.2 0h0m-1.4-.1h0m.5-2.2h0m-1.2-1.6h0m.9-2.1h0m1.9-.9h0m-.6-1.9h0m-1.4 0h0m.1-2h0m1.6 0h0m-.8-.2h0m.8-1.3h0m-2-.2h0m1.1-1.3h0m-.9-1.7h0m1.9-3.9h0m.2-.6h0m-1.5-.1h0m.5-9.5h0m-1-1.2h0m.2-.5h0m-.3-2.6h0m2.1-2.2h0m-.6-.1h0m.3-1.3h0m-2.4-2.5h0m4 2.2h0m1.5 9.8h0m-2.6 1h0m2 3.4h0m0 1.7h0m-1.6 7.1h0m.6 2.1h0m1.3 .7h0m-1 1.5h0m.3 1.4h0m1.2 2.4h0m-.7 3.8h0m-.6 .3h0m0 .6h0m-.3 .8h0m.6 4.3h0m-1.8 1.8h0m.4 1.2h0m-.1 1.5h0m0 2.8h0m.6 2.9h0m1.4 .1h0m.3 2.9h0m.1 1.7h0m-2.6 .3h0m1.6 .6h0m1.7-3.3h0m2.1-.3h0m-1.9-12.5h0m.2-2.9h0m1.6-.5h0m-1.3-1.4h0m.7-5.1h0m.4-.9h0m-.1-3.7h0m-1.9-3.3h0m.2-.3h0m1.6-.5h0m-1.8-3.5h0m.4-2h0m.6-2.3h0m-.3-8.9h0m.2-2.9h0m3.2 2h0m1.5 1.2h0m-.7 2h0m-1.6 2.5h0m2.1 .1h0m.1 2.1h0m-2.2 1.5h0m-.3 1.5h0m.4 2.1h0m1.2 .2h0m-1.2 3.7h0m1.4 1.7h0m-2 5.8h0m.3 .3h0m2.4 0h0m-.9 1h0m.1 1.7h0m-1.9 6.4h0m.3 .5h0m2.4 2h0m-.4 .1h0m-1.4 .7h0m.6 1.6h0m-1.4 .5h0m.7 2.4h0m.5 1.7h0m2-.4h0m1.1-.3h0m-1.2-.2h0m2.3-1.1h0m.4-1.6h0m-.1-.6h0m-.2-4.5h0m.1-1.6h0m-1.1-.2h0m.7-4.9h0m-1.3-6h0m.8-2h0m.7-2.1h0m-2.2-2.1h0m-.2-3.3h0m2.4-1.7h0m-.9-.9h0m.6-1.3h0m-.3-.2h0m-.4-.4h0m.9-.6h0m-2.4-.3h0m.7-3.2h0m-.5-2.2h0m2.1-.6h0m-.4-.2h0m-1.5-.4h0m1.1-.1h0m.7 0h0m2.4 5.4h0m.6 1.2h0m-2 6.9h0m1.8 .3h0m-1.9 .3h0m.5 .5h0m1.2 2.7h0m-.2 1.2h0m-1.4 1.1h0m2.4 1.3h0m.2 1.1h0m-.4 1h0m-2 .3h0m.5 3.6h0m1.2 2.1h0m-1.2 3.8h0m1 .1h0m-.4 2.4h0m-.9 .9h0m1.9 .2h0m-2.2 4h0m5.6-3.9h0m-1.9-1.7h0m.4-.3h0m1-.9h0m-1.6-.9h0m2.1-1.2h0m-1.1-.6h0m-.5-1.7h0m1.2-3.8h0m-2.5-2.7h0m2.3-.7h0m-.9-6.6h0m.8-3.3h0m-2.2-4.3h0m1.6-2.1h0m-1.1-4.3h0m4.3 7.7h0m-1.7 .1h0m2.6 .6h0m-2.7 .6h0m.3 3.8h0m2.2 .3h0m-.2 2.3h0m.1 .4h0m.4 1.1h0m-1.2 2.8h0m-.2 1h0m-1.1 4.1h0m.6 3.7h0m-.2 1.6h0m1.4 .8h0m-1.3 3.7h0m4.8-5.5h0m-1.3-2.7h0m.6-.8h0m-1-1.4h0m-.8 0h0m2.5-.1h0m-1.7-1.4h0m.5-2h0m.4-1.9h0m-.8-.4h0m-.7-1.2h0m1.1-2.8h0m.3-2h0m-1.2-.9h0m1-1.5h0m-.9-1.3h0m1.2-1.4h0m-.7-.3h0m1.9 0h0m1.1 5.5h0m1.7 1h0m0 1.7h0m-.1 2.3h0m-.4 .1h0m-.5 2.6h0m-1.7 1.1h0m2.8 2h0m-1 .3h0m0 4.3h0m-1.8 1.4h0m4-2.2h0m.6-4.2h0m-1.6-2h0m.9-2.4h0m-1-.8h0m2-4.4h0m-.2-2.5h0m1.5 2.7h0m1.3 1.8h0m-.3 1.4h0m-.2 2.5h0m.1 .2h0m0 .2h0" stroke="#fff" stroke-width=".8" stroke-opacity="0.55"/>
<circle cx="45.2" cy="40.5" r=".5" fill="#333"/>
<circle cx="64.7" cy="44.8" r=".5" fill="#333"/>
<circle cx="85.8" cy="47.9" r=".5" fill="#333"/>
<circle cx="33.1" cy="64.1" r=".5" fill="#333"/>
<circle cx="59.3" cy="70.6" r=".5" fill="#333"/>
<circle cx="78.1" cy="30.5" r=".5" fill="#333"/>
<circle cx="108" cy="29.9" r="1.8" fill="#F8766D"/>
<text x="114.5" y="31.7" font-size="5.2" fill="#222">0</text>
<circle cx="108" cy="37" r="1.8" fill="#B79F00"/>
<text x="114.5" y="38.8" font-size="5.2" fill="#222">1</text>
<circle cx="108" cy="44.1" r="1.8" fill="#00BA38"/>
<text x="114.5" y="45.9" font-size="5.2" fill="#222">2</text>
<circle cx="108" cy="51.2" r="1.8" fill="#00BFC4"/>
<text x="114.5" y="53" font-size="5.2" fill="#222">3</text>
<circle cx="108" cy="58.3" r="1.8" fill="#619CFF"/>
<text x="114.5" y="60.1" font-size="5.2" fill="#222">4</text>
<circle cx="108" cy="65.4" r="1.8" fill="#F564E3"/>
<text x="114.5" y="67.2" font-size="5.2" fill="#222">5</text>
<text x="123.8" y="9.5" font-size="8.5" font-weight="bold">B</text>
<line x1="143.5" y1="10.5" x2="143.5" y2="80.8" stroke="#333" stroke-width=".5"/>
<line x1="142" y1="80.6" x2="143.5" y2="80.6" stroke="#333" stroke-width=".5"/>
<text x="141.2" y="82.2" font-size="4.6" text-anchor="end" fill="#111">0</text>
<line x1="142" y1="66.7" x2="143.5" y2="66.7" stroke="#333" stroke-width=".5"/>
<text x="141.2" y="68.3" font-size="4.6" text-anchor="end" fill="#111">20</text>
<line x1="142" y1="52.8" x2="143.5" y2="52.8" stroke="#333" stroke-width=".5"/>
<text x="141.2" y="54.4" font-size="4.6" text-anchor="end" fill="#111">40</text>
<line x1="142" y1="38.8" x2="143.5" y2="38.8" stroke="#333" stroke-width=".5"/>
<text x="141.2" y="40.4" font-size="4.6" text-anchor="end" fill="#111">60</text>
<line x1="142" y1="24.9" x2="143.5" y2="24.9" stroke="#333" stroke-width=".5"/>
<text x="141.2" y="26.5" font-size="4.6" text-anchor="end" fill="#111">80</text>
<line x1="142" y1="11" x2="143.5" y2="11" stroke="#333" stroke-width=".5"/>
<text x="141.2" y="12.6" font-size="4.6" text-anchor="end" fill="#111">100</text>
<text x="132.8" y="45.8" font-size="4.6" text-anchor="middle" fill="#222" transform="rotate(-90 132.8 45.8)">Percentage of cells</text>
<rect x="148.3" y="56.7" width="10.5" height="23.9" fill="#F8766D"/>
<rect x="148.3" y="31.4" width="10.5" height="25.4" fill="#B79F00"/>
<rect x="148.3" y="24.9" width="10.5" height="6.5" fill="#00BA38"/>
<rect x="148.3" y="24.6" width="10.5" height=".3" fill="#00BFC4"/>
<rect x="148.3" y="11" width="10.5" height="13.7" fill="#619CFF"/>
<text x="153.6" y="88" font-size="4.6" text-anchor="middle" font-weight="bold" fill="#222">AD1</text>
<rect x="161.2" y="63.3" width="10.5" height="17.4" fill="#F8766D"/>
<rect x="161.2" y="41.2" width="10.5" height="22.1" fill="#B79F00"/>
<rect x="161.2" y="24.2" width="10.5" height="17" fill="#00BA38"/>
<rect x="161.2" y="13.5" width="10.5" height="10.8" fill="#00BFC4"/>
<rect x="161.2" y="12.4" width="10.5" height="1.2" fill="#619CFF"/>
<rect x="161.2" y="11" width="10.5" height="1.4" fill="#F564E3"/>
<text x="166.5" y="88" font-size="4.6" text-anchor="middle" font-weight="bold" fill="#222">AD2</text>
<rect x="174.1" y="63.5" width="10.5" height="17.1" fill="#F8766D"/>
<rect x="174.1" y="43.8" width="10.5" height="19.8" fill="#B79F00"/>
<rect x="174.1" y="31.2" width="10.5" height="12.6" fill="#00BA38"/>
<rect x="174.1" y="14.5" width="10.5" height="16.8" fill="#00BFC4"/>
<rect x="174.1" y="12.7" width="10.5" height="1.8" fill="#619CFF"/>
<rect x="174.1" y="11" width="10.5" height="1.8" fill="#F564E3"/>
<text x="179.4" y="88" font-size="4.6" text-anchor="middle" font-weight="bold" fill="#222">AD3</text>
<rect x="187" y="64.7" width="10.5" height="15.9" fill="#F8766D"/>
<rect x="187" y="50.7" width="10.5" height="14.1" fill="#B79F00"/>
<rect x="187" y="35.4" width="10.5" height="15.4" fill="#00BA38"/>
<rect x="187" y="13.5" width="10.5" height="21.9" fill="#00BFC4"/>
<rect x="187" y="11" width="10.5" height="2.6" fill="#619CFF"/>
<text x="192.2" y="88" font-size="4.6" text-anchor="middle" font-weight="bold" fill="#222">AD4</text>
<rect x="199.9" y="60.7" width="10.5" height="20" fill="#F8766D"/>
<rect x="199.9" y="41.2" width="10.5" height="19.5" fill="#B79F00"/>
<rect x="199.9" y="28.9" width="10.5" height="12.4" fill="#00BA38"/>
<rect x="199.9" y="20.3" width="10.5" height="8.6" fill="#00BFC4"/>
<rect x="199.9" y="11.3" width="10.5" height="9" fill="#619CFF"/>
<rect x="199.9" y="11" width="10.5" height=".4" fill="#F564E3"/>
<text x="205.2" y="88" font-size="4.6" text-anchor="middle" font-weight="bold" fill="#222">AD5</text>
<rect x="212.8" y="45.4" width="10.5" height="35.3" fill="#F8766D"/>
<rect x="212.8" y="24.9" width="10.5" height="20.5" fill="#B79F00"/>
<rect x="212.8" y="16.3" width="10.5" height="8.7" fill="#00BA38"/>
<rect x="212.8" y="15.6" width="10.5" height=".7" fill="#00BFC4"/>
<rect x="212.8" y="11" width="10.5" height="4.6" fill="#619CFF"/>
<text x="218.1" y="88" font-size="4.6" text-anchor="middle" font-weight="bold" fill="#222">AD6</text>
<rect x="225.7" y="55.7" width="10.5" height="25" fill="#F8766D"/>
<rect x="225.7" y="20.5" width="10.5" height="35.3" fill="#B79F00"/>
<rect x="225.7" y="14.9" width="10.5" height="5.6" fill="#00BA38"/>
<rect x="225.7" y="14.8" width="10.5" height=".2" fill="#00BFC4"/>
<rect x="225.7" y="11" width="10.5" height="3.8" fill="#619CFF"/>
<text x="237.3" y="85.6" font-size="4.5" text-anchor="end" font-weight="bold" fill="#222" transform="rotate(-30 237.3 85.6)">Normal1</text>
<rect x="238.6" y="62.1" width="10.5" height="18.6" fill="#F8766D"/>
<rect x="238.6" y="23.9" width="10.5" height="38.3" fill="#B79F00"/>
<rect x="238.6" y="16.9" width="10.5" height="7" fill="#00BA38"/>
<rect x="238.6" y="16.8" width="10.5" height=".2" fill="#00BFC4"/>
<rect x="238.6" y="11" width="10.5" height="5.8" fill="#619CFF"/>
<text x="250.2" y="85.6" font-size="4.5" text-anchor="end" font-weight="bold" fill="#222" transform="rotate(-30 250.2 85.6)">Normal2</text>
<rect x="251.5" y="47.2" width="10.5" height="33.5" fill="#F8766D"/>
<rect x="251.5" y="20.5" width="10.5" height="26.8" fill="#B79F00"/>
<rect x="251.5" y="13.3" width="10.5" height="7.2" fill="#00BA38"/>
<rect x="251.5" y="13.2" width="10.5" height=".2" fill="#00BFC4"/>
<rect x="251.5" y="11" width="10.5" height="2.2" fill="#619CFF"/>
<text x="263.1" y="85.6" font-size="4.5" text-anchor="end" font-weight="bold" fill="#222" transform="rotate(-30 263.1 85.6)">Normal3</text>
<rect x="268.8" y="27.6" width="3.5" height="3.4" fill="#F8766D"/>
<text x="277" y="31" font-size="4.7" fill="#222">0</text>
<rect x="268.8" y="34.2" width="3.5" height="3.4" fill="#B79F00"/>
<text x="277" y="37.6" font-size="4.7" fill="#222">1</text>
<rect x="268.8" y="40.8" width="3.5" height="3.4" fill="#00BA38"/>
<text x="277" y="44.2" font-size="4.7" fill="#222">2</text>
<rect x="268.8" y="47.4" width="3.5" height="3.4" fill="#00BFC4"/>
<text x="277" y="50.8" font-size="4.7" fill="#222">3</text>
<rect x="268.8" y="54" width="3.5" height="3.4" fill="#619CFF"/>
<text x="277" y="57.4" font-size="4.7" fill="#222">4</text>
<rect x="268.8" y="60.6" width="3.5" height="3.4" fill="#F564E3"/>
<text x="277" y="64" font-size="4.7" fill="#222">5</text>
<text x="280.5" y="9.5" font-size="8.5" font-weight="bold">C</text>
<rect x="302.8" y="10.3" width="64.6" height="71.3" fill="none" stroke="#111" stroke-width=".8"/>
<line x1="300.6" y1="81.6" x2="302.8" y2="81.6" stroke="#111" stroke-width=".7"/>
<text x="300" y="83.3" font-size="4.8" text-anchor="end" font-weight="bold" fill="#111">0</text>
<line x1="300.6" y1="67.5" x2="302.8" y2="67.5" stroke="#111" stroke-width=".7"/>
<text x="300" y="69.2" font-size="4.8" text-anchor="end" font-weight="bold" fill="#111">20</text>
<line x1="300.6" y1="53.5" x2="302.8" y2="53.5" stroke="#111" stroke-width=".7"/>
<text x="300" y="55.2" font-size="4.8" text-anchor="end" font-weight="bold" fill="#111">40</text>
<line x1="300.6" y1="39.4" x2="302.8" y2="39.4" stroke="#111" stroke-width=".7"/>
<text x="300" y="41.1" font-size="4.8" text-anchor="end" font-weight="bold" fill="#111">60</text>
<line x1="300.6" y1="25.4" x2="302.8" y2="25.4" stroke="#111" stroke-width=".7"/>
<text x="300" y="27.1" font-size="4.8" text-anchor="end" font-weight="bold" fill="#111">80</text>
<line x1="300.6" y1="11.3" x2="302.8" y2="11.3" stroke="#111" stroke-width=".7"/>
<text x="300" y="13" font-size="4.8" text-anchor="end" font-weight="bold" fill="#111">100</text>
<rect x="312.1" y="74.9" width="18.5" height="6.7" fill="#5599FF"/>
<rect x="312.1" y="64.7" width="18.5" height="10.2" fill="#4DEAAA"/>
<rect x="312.1" y="52.8" width="18.5" height="12" fill="#00C41A"/>
<rect x="312.1" y="32.4" width="18.5" height="20.4" fill="#B8960A"/>
<rect x="312.1" y="11.3" width="18.5" height="21.1" fill="#FF7F7F"/>
<line x1="321.4" y1="81.6" x2="321.4" y2="83.2" stroke="#111" stroke-width=".5"/>
<rect x="339.9" y="78.2" width="18.5" height="3.4" fill="#5599FF"/>
<rect x="339.9" y="71.3" width="18.5" height="6.9" fill="#00C41A"/>
<rect x="339.9" y="40.8" width="18.5" height="30.6" fill="#B8960A"/>
<rect x="339.9" y="11.3" width="18.5" height="29.6" fill="#FF7F7F"/>
<line x1="349.1" y1="81.6" x2="349.1" y2="83.2" stroke="#111" stroke-width=".5"/>
<text x="321.4" y="89.6" font-size="5" text-anchor="middle" font-weight="bold" fill="#111">AD</text>
<text x="349.1" y="89.6" font-size="5" text-anchor="middle" font-weight="bold" fill="#111">Normal</text>
<rect x="375.7" y="23.4" width="6" height="3" fill="#FF7F7F"/>
<text x="385" y="26.5" font-size="4.5" fill="#222">0</text>
<rect x="375.7" y="31" width="6" height="3" fill="#B8960A"/>
<text x="385" y="34.1" font-size="4.5" fill="#222">1</text>
<rect x="375.7" y="38.6" width="6" height="3" fill="#00C41A"/>
<text x="385" y="41.7" font-size="4.5" fill="#222">2</text>
<rect x="375.7" y="46.2" width="6" height="3" fill="#4DEAAA"/>
<text x="385" y="49.3" font-size="4.5" fill="#222">3</text>
<rect x="375.7" y="53.8" width="6" height="3" fill="#5599FF"/>
<text x="385" y="56.9" font-size="4.5" fill="#222">4</text>
<rect x="375.7" y="61.4" width="6" height="3" fill="#FF33CC"/>
<text x="385" y="64.5" font-size="4.5" fill="#222">5</text>
<text x="2.5" y="106.5" font-size="8.5" font-weight="bold">D</text>
<line x1="19.3" y1="107.5" x2="19.3" y2="211.5" stroke="#333" stroke-width=".5"/>
<line x1="19.3" y1="211.3" x2="131.4" y2="211.3" stroke="#333" stroke-width=".5"/>
<line x1="18" y1="108.5" x2="19.3" y2="108.5" stroke="#333" stroke-width=".4"/>
<text x="17.4" y="110.1" font-size="4.5" text-anchor="end" font-weight="bold" fill="#222">8</text>
<line x1="18" y1="133.6" x2="19.3" y2="133.6" stroke="#333" stroke-width=".4"/>
<text x="17.4" y="135.2" font-size="4.5" text-anchor="end" font-weight="bold" fill="#222">4</text>
<line x1="18" y1="158.6" x2="19.3" y2="158.6" stroke="#333" stroke-width=".4"/>
<text x="17.4" y="160.2" font-size="4.5" text-anchor="end" font-weight="bold" fill="#222">0</text>
<line x1="18" y1="183.6" x2="19.3" y2="183.6" stroke="#333" stroke-width=".4"/>
<text x="17.4" y="185.2" font-size="4.5" text-anchor="end" font-weight="bold" fill="#222">-4</text>
<line x1="18" y1="208.7" x2="19.3" y2="208.7" stroke="#333" stroke-width=".4"/>
<text x="17.4" y="210.3" font-size="4.5" text-anchor="end" font-weight="bold" fill="#222">-8</text>
<line x1="40.4" y1="211.3" x2="40.4" y2="212.6" stroke="#333" stroke-width=".4"/>
<text x="40.4" y="216.5" font-size="4.5" text-anchor="middle" font-weight="bold" fill="#222">-10</text>
<line x1="64.7" y1="211.3" x2="64.7" y2="212.6" stroke="#333" stroke-width=".4"/>
<text x="64.7" y="216.5" font-size="4.5" text-anchor="middle" font-weight="bold" fill="#222">-5</text>
<line x1="88.9" y1="211.3" x2="88.9" y2="212.6" stroke="#333" stroke-width=".4"/>
<text x="88.9" y="216.5" font-size="4.5" text-anchor="middle" font-weight="bold" fill="#222">0</text>
<line x1="113.2" y1="211.3" x2="113.2" y2="212.6" stroke="#333" stroke-width=".4"/>
<text x="113.2" y="216.5" font-size="4.5" text-anchor="middle" font-weight="bold" fill="#222">5</text>
<text x="79.5" y="221" font-size="4.6" text-anchor="middle" font-weight="bold" fill="#222">Component 1</text>
<text x="11" y="160" font-size="4.6" text-anchor="middle" font-weight="bold" fill="#222" transform="rotate(-90 11 160)">Component 2</text>
<polygon points="26.5,163.6 28.4,161.1 30.1,161.6 31.5,164.1 32.2,168.8 32.4,174.4 31.7,177.3 29.6,178 27.4,177 25.7,174.5 25.2,170.8 25.5,166.2" fill="#B79F00" fill-opacity="0.8"/>
<polygon points="117,192.9 121.6,188.8 127.7,193.2 127.5,205.5 122.4,205.9 117.5,201" fill="#B79F00" fill-opacity="0.55"/>
<polyline points="34.6,168.6 70.7,153.3 95.4,146.4 102.2,150.1 121.1,193.8 117.3,200.4" fill="none" stroke="#111" stroke-width="0.4"/>
<polyline points="95.4,146.4 95.9,126" fill="none" stroke="#111" stroke-width="0.4"/>
<polyline points="102.2,150.1 112.7,137.3" fill="none" stroke="#111" stroke-width="0.4"/>
<circle cx="70.7" cy="153.3" r=".9" fill="#111"/>
<circle cx="95.4" cy="146.4" r=".9" fill="#111"/>
<circle cx="102.2" cy="150.1" r=".9" fill="#111"/>
<path d="M26.8 162.6h0m-.1 1.9h0m-1.7 2.4h0m-.5 .1h0m-.1 1.5h0m.2 3.9h0m-.1 0h0m1.6 1.8h0m2.4 2.7h0m.4-2.2h0m-.7-1.6h0m1.3-5.6h0m-.7-.5h0m-.2-.4h0m1-1.6h0m.3-.5h0m-2.3-.1h0m3.2-.3h0m-.8 1.6h0m2.6 6.5h0m-2 4.4h0m4-2.6h0m.1-5.2h0m1.1-.9h0m-.9-1.3h0m2.9-5.4h0m.2 1.8h0m.3 6.2h0m-.7 1.7h0m-.9 .5h0m5.2 .1h0m-2.1-.9h0m-.2-.3h0m2.3-.9h0m-2.9-.1h0m2.5-.1h0m-1.5-.3h0m-.7-2.3h0m2.3 0h0m-1.3-7.1h0m1.7-1.3h0m.3 2.1h0m2.3 .1h0m-.4 1.6h0m-1.4 .6h0m1.9 7h0m-2.5 1h0m4.3-2.2h0m-.5-1.1h0m-.2-1.6h0m1.9-3h0m-1.5-2.2h0m-1.2-2.5h0m4.4-.9h0m-1 2.6h0m1.7 2.1h0m-2 3h0m0 .3h0m.8 .2h0m-.8 .3h0m1.5 0h0m-1.1 2.2h0m3.3-1.3h0m.2-.3h0m-.9-3.4h0m2.7-2h0m-2.2-.1h0m-.2-.9h0m4.8-4.5h0m-2.2 1.3h0m.5 2h0m1.6 2.4h0m.8 .5h0m-1.1 3.5h0m1.8-.2h0m2.9-9.8h0m1.7 3.7h0m-.3 .4h0m3.6-1.2h0m-2.1-1.5h0m2.7-2.7h0m1.2 2h0m-.2 1.3h0m.2 .5h0m5.9-5.6h0m-.4 9.6h0m3.1-2.2h0m1.7-2.9h0m-.9-7.5h0m1.6 3.7h0m3.2 .7h0m1.6-.2h0m-.4 0h0m-1.6-.4h0m.1-4h0m2.4-2.4h0m2.4 6h0m3.7-5.1h0m-2-1.3h0m1.4-2.2h0" stroke="#619CFF" stroke-width="1" stroke-opacity="0.5"/>
<path d="M26.2 162.6h0m0 .1h0m-.4 .1h0m.9 .2h0m-1 .6h0m.5 .4h0m-1 1.1h0m-.5 .4h0m1.3 .1h0m-.6 .1h0m1.1 0h0m.2 .7h0m.2 .1h0m-2.5 .6h0m1.3 0h0m.4 .5h0m.8 .8h0m-1 .4h0m-.4 .2h0m-.6 .1h0m1.4 .6h0m-1.1 0h0m-1.2 .1h0m.5 .4h0m1.1 .1h0m-.7 0h0m-.1 .2h0m1.4 .3h0m-.4 .1h0m.6 .8h0m-.6 .1h0m-1.3 .1h0m1 1.5h0m1.3 .2h0m-1.3 .4h0m1 1h0m-.3 .7h0m3.4 1.4h0m.1-.2h0m0-.5h0m-1.6-.1h0m.9-.2h0m-1.6-.4h0m2.5 0h0m-2-.1h0m1.8-.1h0m-.8-.2h0m.5-.1h0m-.1-.3h0m-.9-.5h0m1-.3h0m-1.5-1h0m.2-.2h0m.1-.1h0m-.9-.1h0m2.3-.1h0m-.1-.4h0m-1.1 0h0m.6-1.2h0m.9-.2h0m-2.5-.2h0m2.1-.1h0m-.7-.1h0m.1-.1h0m.3-.2h0m.7-.2h0m-2.8-.2h0m.3-.1h0m1.9-.2h0m.6-.1h0m-.9-.1h0m.6 0h0m-.5-.2h0m-.9-.7h0m-.8-.2h0m1.3-.3h0m.8-.7h0m.4-.4h0m-2.7-.5h0m1.6-.6h0m-1.6 0h0m1.3-.1h0m1.3-.1h0m0-.3h0m-1.1 0h0m-.4-.1h0m-1.3-.4h0m.6-.1h0m1.4 0h0m-1-.7h0m0-.1h0m1.2-.2h0m-1.9-.6h0m.8 0h0m-.6-.1h0m2.4-.2h0m-.1-.2h0m.9-.4h0m.4 .4h0m-.6 .2h0m.5 .2h0m-.3 .6h0m1.7 .7h0m-1.4 .1h0m.1 .5h0m-.5 .3h0m1.4 .9h0m-1.1 .2h0m1.1 .1h0m.2 .7h0m-2.2 .3h0m1.7 0h0m-1.5 .2h0m1.9 0h0m.3 .2h0m-1.9 .3h0m.5 0h0m-.3 .2h0m-.5 0h0m.3 .1h0m1.6 .1h0m-.7 .4h0m-.8 .2h0m-.6 0h0m.6 .4h0m2.1 .4h0m-1.8 0h0m1 .8h0m-.6 .3h0m-.3 0h0m-.1 .2h0m1.2 .1h0m.3 0h0m-.2 .6h0m-1.9 .2h0m1.1 .1h0m-.9 .5h0m.5 1h0m.3 .4h0m1.5 .1h0m-2.7 0h0m.4 .1h0m.7 .1h0m.4 .2h0m-.8 0h0m.8 .1h0m-.1 .8h0m1.4 .5h0m-.2 .1h0m-1 .2h0m-.3 0h0m-.5 .1h0m-.4 .1h0m.6 .2h0m1.3 .1h0m.7-.7h0m1-1.8h0m-.8-.7h0m.7-.3h0m.1-1.3h0m1-.4h0m-.2-.1h0m-1.5-.4h0m-.3-1.1h0m.2-.8h0m0-.2h0m-.3-1.3h0m2.5-.3h0m-1.1-.4h0m-.8-.4h0m.9-.1h0m1.1-2.1h0m-2.6-3.1h0m5.3-1.3h0m-.9 .3h0m.9 1.3h0m.3 .8h0m-1.4 2.3h0m.5 2h0m.8 1.1h0m-.1 .4h0m-1.7 .2h0m1.1 .2h0m-.4 .3h0m-.9 4.1h0m2.7-.2h0m0-2.4h0m2.2-.3h0m-.6-1.4h0m.7-.4h0m-1-.5h0m-.5 0h0m-.7-.2h0m1.4-1.2h0m-.4-.1h0m-1-3.1h0m2.2-.5h0m-1.6-.2h0m.1-1.2h0m-.6-.3h0m1.4-2.3h0m3.8-.1h0m-1.3 .5h0m-1 0h0m2 .3h0m-1.2 .1h0m.2 .7h0m-.5 .1h0m.1 .9h0m-.9 3h0m2.3 1.9h0m.4 .9h0m-2 2.2h0m2.1 .8h0m1.7-.8h0m.4 0h0m.6-.3h0m-.8-.2h0m1.2-.3h0m-.8-.7h0m-.5-.1h0m-.1-1.6h0m1.3-1.1h0m-1.1-4.2h0m.2-1.3h0m-.3-.3h0m-1.5-.7h0m1.2-.6h0m1.4-.4h0m1.7-.7h0m-.7 .3h0m-.1 .4h0m.7 .7h0m.8 .5h0m-2.1 3.2h0m1.3 1.9h0m.6 1.2h0m-1.7 1.4h0m.1 .2h0m1.8 1.7h0m-.3 .3h0m-1.3 .8h0m4.5-4.3h0m-1.7-.3h0m1.2-.1h0m.7-1.8h0m-.9-4.2h0m-1.1-.2h0m3-1.1h0m.4 2.6h0m1.1 0h0m.2 2.4h0m-.7 1.6h0m-.2 1.1h0m3.9-1.1h0m.3-.6h0m.3-.2h0m.3-1.6h0m-2.1-3.4h0m1.2-.5h0m-1.1-.3h0m2.1 0h0m-2.6-.9h0m.8-.4h0m2 .7h0m1.6 .6h0m1.2 .4h0m-2.2 .4h0m1.3 .9h0m-.8 3h0m1.9-3h0m1.4-1.4h0m.1-.1h0m.1-.1h0m.4-.5h0m.8-.2h0m-1.7-.3h0m.7-.1h0m.8 0h0m2.1-2.6h0m-.5 1h0m1.8 .6h0m1.3-.5h0m-.7-.3h0m.4-1h0" stroke="#B79F00" stroke-width="1" stroke-opacity="0.5"/>
<path d="M25.6 165.5h0m.4 .4h0m-.2 .7h0m-.2 .7h0m-.3 2h0m-.4 .7h0m.9 .6h0m1 .6h0m-2.5 2.4h0m1.4 1h0m-.2 .2h0m4.3-2h0m-1.9-1.5h0m-.5-1.3h0m1.7-.9h0m0-2h0m1.5-5.4h0m.9 5.5h0m-.2 3.6h0m.1 2.2h0m.8 .6h0m2.8-.3h0m-.8-.7h0m-.5-.5h0m-.5-.3h0m1.9-2.2h0m-1.8-1.3h0m1.4-3.3h0m-1.3-.4h0m-.4-.7h0m2.6-1.1h0m-2.4-1.1h0m4.8 .6h0m-1 .3h0m-.1 .9h0m0 1.9h0m.8 .9h0m.2 2.1h0m-.5 .2h0m-.9 .4h0m2.3 .7h0m-.3 1.2h0m-.6 .9h0m-.5 .7h0m-.6 1.3h0m2.2-.7h0m0-1h0m2-2.1h0m.4 0h0m.2-1.3h0m-.6 0h0m-1.5-.4h0m.8-1.2h0m.3-1.8h0m-.1-.4h0m-1.4-.8h0m.8-3.2h0m.6-1.1h0m1.4-.3h0m2.3-1.3h0m.4 .8h0m-1.9 2.5h0m-.3 .6h0m-.1 .1h0m.8 .7h0m-.2 1h0m2 .3h0m-.2 .7h0m-.8 .3h0m.3 1h0m-.1 .3h0m-.6 1.2h0m.9 1.6h0m3.1 0h0m0-.6h0m-1.2-.8h0m1.3-.5h0m-.3-.3h0m.6-.4h0m-2.4-.8h0m.8-3.5h0m0-.7h0m.1-.7h0m-.8-1.5h0m-.4 0h0m.3-.2h0m1.8-1.5h0m-2-.3h0m5.3 .3h0m-.7 .8h0m1 2.3h0m-1.8 1.1h0m-.9 1.1h0m.2 .1h0m.9 1.7h0m-.5 1.7h0m.2 .3h0m1.7 .5h0m1.1 .3h0m.4-.8h0m-.9 0h0m-.3-.8h0m.8-1.2h0m1-.6h0m.6-1.5h0m-1.6-.2h0m1.1-.3h0m-1.8-.2h0m1.5-1.7h0m2.1-5.1h0m.9 .6h0m.1 .9h0m.6 1.3h0m-.4 .8h0m-1.6 4.1h0m2.1 .6h0m.4 1.4h0m1-3.7h0m.7-.9h0m.8-.5h0m-1.1-.2h0m.2-1h0m-.3-1.2h0m-.4-2.2h0m.6-.7h0m1.2-.1h0m3.4 .6h0m0 .1h0m-2.1 .3h0m2 .1h0m-1.1 1.3h0m-.5 1.3h0m-.9 1.3h0m4.3-1.9h0m-.5-1.6h0m1.2-.5h0m1-12.5h0m.1 1h0m.8 9.7h0m1.1 2.7h0m-.7 .2h0m-.2 .8h0m4.3 .5h0m-.1-1.4h0m-2.3-.7h0m2.1-.5h0m-2.1-.8h0m.4-.6h0m.2-.5h0m-.1-1.9h0m-.7-2.3h0m1.3-1.7h0m4 2.9h0m-2.3 1.4h0m.3 .4h0m.5 .9h0m1.2 3.1h0m-.3 1.2h0m.1 .6h0m1.3 1h0m.3-2.7h0m.3-.3h0m-.6-.8h0m-.1-.1h0m.5-3h0m1.2-1.7h0m-.5-.1h0m-.5-.3h0m.5-.9h0m4.3-3h0m-1.7 1.1h0m-.5 .5h0m1.3 .7h0m1 .5h0m-2.7 2.4h0m.6 .4h0m.3 .5h0m.7 .8h0m-.3 .7h0m.4 1.4h0m-.7 1.1h0m1.2 .9h0m.1 .2h0m-1.2 .7h0m-.9 .4h0m2.9-4.1h0m2.1-1.9h0m-2.2-.2h0m.6-1.1h0m.4 0h0m1.4-1.1h0m-2.3-1.9h0m1.4-.1h0m0-.3h0m-.1-1.4h0m4.3-.4h0m-.5 1.5h0m-2.1 .7h0m.8 1.6h0m-.5 .5h0m1.2 .7h0m-.6 .4h0m-.2 .3h0m1.1 .6h0m-1.7 2.9h0m3.9-2.6h0m.1-.9h0m0-.4h0m-.5-.4h0m.1-.7h0m.2-.5h0m1.2-2.7h0m-1.7-1.2h0m1-.3h0m4.1 2.1h0m-.7 .2h0m-1.7 .9h0m1.3 .5h0m-.2 .1h0m-.3 .1h0m2.9-1.5h0m.6-1.1h0m.2-.1h0m-1.7-.5h0" stroke="#00BA38" stroke-width="1" stroke-opacity="0.5"/>
<path d="M24.5 166.4h0m.5 2.9h0m.4 2.1h0m.4 1.7h0m3.2-2.5h0m1.6-6.9h0m0 1.2h0m2.1 1.7h0m2.6 3.4h0m-2.2-.6h0m4.3-5.4h0m-.4 2.9h0m.1 6h0m4-3.1h0m-1.9-.2h0m5.6-11.6h0m2.6 9.2h0m6.1-5.9h0m-.8-4.2h0m3.8 1.5h0m.1 6.8h0m5.5-6.3h0m-1.4 2.8h0" stroke="#F564E3" stroke-width="1" stroke-opacity="0.5"/>
<path d="M25.5 170h0m-.7 3.3h0m.8 .3h0m1 2.5h0m2.3 .3h0m-.5-2.8h0m-1.2-.7h0m2.7-1.8h0m-2-1.5h0m1.4-.1h0m-1.6-3.3h0m.1-1.7h0m4.6-.1h0m.1 .3h0m-1.5 1.2h0m1.3 2.2h0m-2.3 .7h0m.5 3.3h0m2 3.1h0m-.8 1.1h0m-.3 .6h0m3-3.6h0m-1.3-2.8h0m1.4-7h0m-.5-2.2h0m-1-.1h0m5.6-.5h0m-1.7 1.2h0m1.3 1.5h0m-.5 3.3h0m-.9 1.9h0m0 3.2h0m0 1.9h0m-.1 .1h0m3.7-3.4h0m.3-8.1h0m.7-1.7h0m-2-.9h0m.1-.7h0m2.2-.1h0m1.3 2h0m0 .8h0m-.6 2.7h0m1 .8h0m1.1 2.2h0m-.6 .6h0m1.2 1.2h0m1.5-.8h0m.1-2.2h0m.6-3.8h0m-1.8-2.7h0m1.2-.6h0m-.6-.7h0m-.6-.9h0m5.1 3.8h0m-1.4 3.8h0m1.8 1.4h0m1.7-2.9h0m3.8-3.8h0m-1.2 1.1h0m.2 .7h0m-.3 .7h0m.7 .8h0m-1.6 2.9h0m.4 .1h0m3.5-3.1h0m-.8-1.9h0m.3-.8h0m1.3-3.7h0m2.4-.2h0m-.9 3.8h0m1.6 .6h0m2-2.1h0m-1.1-1h0m3 .3h0m8.8-8.2h0m-.8 1.2h0m-1.6 1.6h0m-.1 3.9h0m2.2 .3h0m-2.3 .2h0m2.1 1.6h0m1.2 1.5h0m2.1-3.9h0m-1.3-1.3h0m1.5-1.2h0m.1-2h0m-.6-.7h0m-1.8-.8h0m3.7-3h0m.7 2.9h0m-.9 .7h0m1 2h0m.9 .7h0m2.3 1.5h0m.3-.3h0m-.6-.6h0m-1.4-1.6h0m1.6-.4h0m-1-6.5h0m2.2-.7h0m2.4 3.7h0m-.7 3.3h0m-1.4 1.9h0m3.5-4.8h0m-1-.6h0m3-2.6h0m.4 2.3h0m0 1.6h0m4-3h0m1.3-.6h0m1.5 2.6h0m7.6-2h0m-2.1 1.6h0m7.2-5.6h0m-.7 .6h0m-.6 1h0m4.3-3.3h0m.7-.5h0m-.1-.9h0m.2-5.1h0m-1.4-5.4h0m-.6-1.4h0m2.7 13.2h0m-.5 .3h0m3.1-3.2h0" stroke="#00BFC4" stroke-width="1" stroke-opacity="0.5"/>
<path d="M26.8 162.4h0m0 1.3h0m-.3 1.8h0m-2 2.4h0m2.4 1.9h0m-.5 .6h0m-.6 2.6h0m.3 1.1h0m.3 .5h0m-.8 0h0m4.3-4.5h0m-1-2.5h0m-1.7-.3h0m.9-.8h0m.6-.3h0m.4-1.3h0m.3-1.6h0m-.5-1.1h0m2.1-.1h0m1 1.5h0m-.9 .2h0m1.7 .4h0m-.2 0h0m.3 .2h0m-.2 1.7h0m-2.5 2.2h0m2.7 1.5h0m-1.1 1h0m-.1 .6h0m.2 2.1h0m1 1.7h0m2.6-.7h0m-.7-.2h0m-.6-.9h0m-.9-2h0m.1-.2h0m.2-1.1h0m1.4-.2h0m-1.8-.4h0m1.7-.1h0m.6-.4h0m-.5-.3h0m-1.3-.3h0m-.2-.7h0m-.5-.1h0m1.5-1.4h0m-.6-.1h0m-.4-1h0m.9-.8h0m-.2-.1h0m.1-1.2h0m.7-.1h0m-1.8-.4h0m1.2-.2h0m4.2-1.9h0m-1 2.7h0m-.7 .2h0m-.4 1.9h0m.6 .6h0m.7 5.1h0m-1.6 1.4h0m1.1 .1h0m1.6 .7h0m-1.7 .4h0m2.4-.5h0m-.5-.9h0m2.5-1.5h0m-2.3-.4h0m1.6-3h0m-.5-1.8h0m-.8-.1h0m1-.1h0m.6 0h0m-1.3-.3h0m-.5-.1h0m1.6-.3h0m.3-.1h0m-1.4-1.1h0m1.4-1h0m-1.3-.8h0m.2-.3h0m-.4-.9h0m1.2-1.1h0m3-1.3h0m-.5 1.8h0m1.2 2h0m-2.1 .8h0m.8 .2h0m-.4 .3h0m-.7 .6h0m1.9 .2h0m-.3 .2h0m.2 .2h0m.3 0h0m-2.4 .4h0m2.2 .7h0m-1 1.3h0m-.8 .6h0m1.8 .1h0m-1 1.6h0m.3 .9h0m-.2 1.4h0m3.1-1.6h0m-.5-.4h0m.6-.5h0m1.1-.3h0m-2.2-.1h0m-.2-.7h0m.1-1.6h0m1.1-.4h0m-.2-.6h0m-.2-1.5h0m-.3-.7h0m1.3-.8h0m-.6-.1h0m1.5-1.2h0m-.1-.1h0m-1.9-2.4h0m1.1-.5h0m3.7-.8h0m-1.6 1.3h0m-.1 1.7h0m.1 .7h0m-.1 .9h0m.9 1.8h0m-.8 2.2h0m1.4 .7h0m-.1 1.1h0m.5 .1h0m-.6 .9h0m-1.7 0h0m3.4-1.6h0m1.5-.3h0m-1.7-.6h0m2.1-.7h0m-.6-.6h0m-.2-1.1h0m-.3 0h0m-1.5-.7h0m2-.5h0m-1.9-1.5h0m.2-2.6h0m1.5-1.7h0m-1.2-.1h0m1.6-.3h0m2.7-1h0m-1.7 .6h0m.4 .3h0m.4 2.7h0m.1 .6h0m-.2 .7h0m.6 .1h0m.7 .5h0m.1 .9h0m-.5 .2h0m-1.7 .1h0m.9 .3h0m.3 .5h0m-.4 .6h0m-.9 .1h0m.6 1.4h0m2 .3h0m1.4-3.2h0m.4-.2h0m.6-2.5h0m-.9-.1h0m3.4-.5h0m-1 .9h0m-.3 1.1h0m2.7-1.7h0m2.3-.6h0m-1-.1h0m1.1 0h0m0-.3h0m-1.4-1.2h0m1.5-2.3h0m-.1 0h0m.3-.6h0m2.7-.3h0m.2 0h0m-1.6 .6h0m-1 .4h0m.4 1.4h0m2.1 .4h0m2-2h0" stroke="#F8766D" stroke-width="1" stroke-opacity="0.5"/>
<path d="M74.9 157.4h0m.7-5.1h0m1.4-2.9h0m2.9-.6h0m-1.3 4.3h0m-.1 1h0m2.4 .9h0m2.1-1.6h0m-.8-1.8h0m5.9 .1h0m3.5-6.4h0m1.5 .6h0m1.1-31.5h0m4 33.1h0m-1.9 .6h0m2.3 .6h0m1.7 .5h0m.2-.5h0m4.1-2h0m-.2 .4h0m.2 .1h0m-.2 0h0m-.1 0h0m.1 .3h0m-1.5 .4h0m1.4 0h0m-1.5 0h0m.1 0h0m.5 0h0m.6 .1h0m1-.9h0m.4-.1h0m.1-.5h0m.2-.4h0m1.1-.2h0m-.5 0h0m.8-.2h0m-.3-.1h0m-1.2-.2h0m.5 0h0m-.4-.2h0m2.1 0h0m-1.3 0h0m-.3-.1h0m1.1-.1h0m.4 0h0m-1.2-.1h0m1 0h0m.1-.1h0m.2-.1h0m-1.7-.1h0m1.4-.1h0m-.2 0h0m-.3-.1h0m-.5-.2h0m1.4-.1h0m-.2 0h0m-.2 0h0m.3-.2h0m0-.3h0m-.2-.1h0m2.9-1.9h0m-.3 .1h0m.5 .2h0m-.3 .3h0m-.4 0h0m.7 0h0m-1.9 .3h0m1.6 .1h0m-1.4 .3h0m-.1 .3h0m1.8 0h0m-1.8 .2h0m-.9 .1h0m1.6 0h0m.3 .1h0m.2 .1h0m-.1 0h0m.1 .1h0m-2.1 .1h0m1.3 0h0m-.9 0h0m1.3 .1h0m-1.2 0h0m.1 .2h0m-.3 .2h0m.3 .4h0m2.4-1.5h0m.6-.4h0m-.4-.1h0m.6-.6h0m-.8-.1h0m1.1-.1h0m-.7 0h0m.9 0h0m-1.3-.1h0m.8-.1h0m-.3-.2h0m.1 0h0m-.5-.2h0m2.8-.1h0m-1.8-.2h0m1.3-.1h0m-.1-.1h0m-1.7 0h0m2.1 0h0m-1.5-.2h0m-.3 0h0m1.2 0h0m-1.4 0h0m2.1-.1h0m-.8-.1h0m.2-.2h0m-1.5 0h0m1 0h0m-.9-.1h0m.3-.5h0m-.3-.1h0m2.1-.5h0m-1.1-.3h0m.2 0h0m.4-.5h0m.2-.1h0m.3-2.1h0m-.6-.3h0m.5-1.2h0m.1-.4h0m-1.1-1.3h0m.3-.4h0m.1-.1h0m.2-.2h0m-.9-.3h0m.9-.4h0m.5-.1h0m-.7-.1h0m.1 0h0m.1-.6h0m-.5-.2h0m-.6-.3h0m.6-.2h0m.8-.1h0m-1-.1h0m.5 0h0m-.3 0h0m-.6-.2h0m1.4 0h0m-1.1-.3h0m.3-.1h0m-.3-.1h0m.3-.3h0m-1 0h0m1.8-.1h0m-.3 0h0m-1.5-.3h0m.5 0h0m.7-.1h0m-1-.1h0m1.1-.3h0m-.1 0h0m0-.3h0m-.4-.2h0m1.1 0h0m-2-.5h0m2-.3h0m-1-.2h0m-1-.5h0m2.4 2.7h0m.2 .2h0m-.4 .1h0m.2 1.2h0m.2 .2h0m.1 .2h0m.2 .5h0m.3 0h0m.2 .1h0m-.6 .1h0m.3 0h0m-.3 .5h0m.7 .5h0m-.9 .3h0m1.1 .7h0m-.2 .1h0m.2 0h0m-.5 .2h0m.7 0h0m-1.6 .1h0m.9 0h0m-.5 .2h0m.1 .2h0m-.1 0h0m0 .4h0m-.1 .3h0m.4 .5h0m-.2 .2h0m1 .1h0m.5 .1h0m-.2 .2h0m-1.6 .1h0m.6 .7h0m.9 .3h0m.4 .1h0m-.3 .1h0m.3 .5h0m.7 .8h0m-.3 .2h0m-.5 .1h0m.3 0h0m-.7 .1h0m.2 .2h0m-.2 0h0m-1.7 0h0m1.7 0h0m-.1 0h0m-1.6 .1h0m1 .2h0m1.5 0h0m-1.4 .1h0m.6 0h0m-1.5 0h0m-.1 .8h0m.6 .4h0m-.4 .1h0m.9 0h0m-.8 .4h0" stroke="#00BA38" stroke-width="1" stroke-opacity="0.5"/>
<path d="M74.1 152.1h0m.8 2.1h0m-2.6 3.2h0m.8 2.2h0m2.4-.4h0m.4-1h0m2-.6h0m-2.4-2.5h0m1-3.2h0m1.1-2.2h0m1.3-.2h0m.1 6.4h0m-.9 .2h0m.2 .7h0m1.5 .8h0m3.1-10.4h0m7 1.2h0m1.4-35h0m-.5 30.6h0m1.8 .9h0m-2.6 2.6h0m4.7-1.4h0m-1.4-.5h0m1.6-3.2h0m.5-12.3h0m-.1-3.8h0m-2-2.3h0m.2-3.4h0m.4-4.7h0m-.8-2h0m1.6-1.1h0m1.7 4.2h0m.7 .5h0m-1.1 2.4h0m1.8 29.5h0m6.7-3.3h0m0 1.3h0m-1.2 0h0m.1 .6h0m-1.2 .5h0m3.1-1.7h0m1.3-.8h0m-.8 0h0m-.4-.2h0m1.5-.5h0m.5 0h0m-1.2-.1h0m.7 0h0m-.2-.3h0m.8-.3h0m2.1-2.8h0m.4 1h0m.7 .2h0m-.8 .2h0m-.8 0h0m-.6 .3h0m.6 0h0m1 .1h0m-1.6 .4h0m-.3 .3h0m2.5 27h0m-.3 2.5h0m3.2 3h0m-1.7-.7h0m-.7-33.4h0m-.1-.2h0m2.8-1.3h0m-1.1 0h0m0-2.3h0m.8-3.3h0m-.7-7.5h0m-1.1-.2h0m.6-.6h0m-.6-.9h0m1-1.6h0m1.4 2.7h0m-.1 5.9h0m1.5 1.1h0m-.1 .6h0m.5 .1h0m-.7 1h0m-.3 .2h0m1.2 1.8h0m-1.8 .3h0m.5 0h0m1.1 .3h0m-.7 0h0m.8 1h0m-2.1 41h0m2 .4h0m2.5 17.1h0m.4-4.5h0m-1.5-4.1h0m1.4-2.9h0m1.5 5.2h0m-.2 1.3h0m.9 1h0m1.2 5.6h0m5.3 3.9h0m.1 1.3h0" stroke="#619CFF" stroke-width="1" stroke-opacity="0.5"/>
<path d="M91.5 114.3h0m1.4 2.7h0m-.2 .9h0m2.1 27.9h0m0-1.1h0m.2-2.8h0m.5-2.1h0m-.8-1.3h0m.6-1.7h0m-.6-3h0m.9-1.4h0m-.8-.8h0m.8-.1h0m0-1.3h0m-1.4-.1h0m1.7-2.9h0m-.2-.8h0m-.4-.1h0m-.7-.7h0m1.1-.4h0m-1.8-.7h0m-.3-.7h0m.6-.3h0m-.8-.5h0m.1-.5h0m1-.1h0m.7-.7h0m-1-1.3h0m-1.2-.5h0m.2-.1h0m2.6-1h0m-.5-.9h0m-1.5-.4h0m-.2-.3h0m.2-.5h0m.9-1.9h0m-.6-2.3h0m2.1 .7h0m.8 2.7h0m0 1h0m-.3 2.8h0m-.7 .3h0m8.7 26.1h0m-.8 .9h0m-.2 .2h0m-.1 .4h0m-.3 .1h0m.4 .5h0m-.9 .2h0m-.1 .6h0m3.2-2.6h0m-.6-.1h0m1.5-.5h0m-1.7 0h0m1.6-.4h0m-.2-.9h0m1.2-.7h0m.1-.4h0m.1-.2h0m2.4-1.8h0m-.8 .7h0m.7 .2h0m-1.6 .3h0m-.3 .3h0m-.2 .1h0m2.2 .2h0m-.9 .4h0m.2 .5h0m-1.3 .7h0m3-1.8h0m-.2-.1h0m.7-.1h0m-.5-1.3h0m2.1-.2h0m-1.3-.1h0m.9-1.5h0m-.8-.3h0m1.5-.1h0m-.5-.1h0m-.8-.1h0m-.2-.1h0m.3-.2h0m1.3-.4h0m-.6-.4h0m.6-3.6h0m-.1-.3h0m-1.2-2.4h0m.7-.5h0m-.9-.4h0m.6-.3h0m1-.2h0m-1.4-1h0m-.2-.1h0m.8-.6h0m.1-.3h0m-1.2-.5h0m1.3 0h0m-1-1.3h0m-.5-.5h0m1.9-.7h0m-1.1-.3h0m1.4 3.2h0m.8 2.5h0m-.4 .5h0m.5 .9h0m0 .2h0m-.9 .3h0m1.1 .7h0m.4 .1h0m.5 1.2h0m-.8 .1h0m-.1 .1h0m0 .1h0m-.3 .5h0m.5 0h0m-.1 .5h0m-.9 0h0m2 .2h0m-1.3 .2h0m1 1.1h0m-.1 .2h0m-1.3 .6h0m1.9 .8h0m-.1 .1h0m-1.6 .9h0m2.2-1.5h0" stroke="#00BFC4" stroke-width="1" stroke-opacity="0.5"/>
<path d="M33.7 169.6h0m3.9-8.6h0m-.8 3.9h0m.1 .5h0m.2 2.1h0m.4 3.5h0m3.8-6.3h0m1.4-5.6h0m1.2 2.6h0m1 2.7h0m.9 4.6h0m.9-8.4h0m.4-1.2h0m2.3 4.2h0m-1.1 3h0m4.7 .4h0m-.6-4.7h0m3.6-.9h0m-.2 3.3h0m-.1 .1h0m1.4-.5h0m6.9-5.3h0m21-4.3h0m6.5-8.9h0" stroke="#F564E3" stroke-width="1" stroke-opacity="0.5"/>
<path d="M32.7 165.2h0m1.8 9.2h0m1.2-2.2h0m-1.8-.3h0m1.9-.2h0m-1.8-.7h0m.1-2h0m-.3-2.3h0m1.4-.7h0m-1.2-1.3h0m1.6-2.4h0m2.7 .3h0m.2 .1h0m3.4 5.6h0m-1.8-3h0m-.2-.7h0m-.2-1.2h0m2-1.9h0m-.6-2.5h0m-.8-.1h0m3.1-.7h0m1.4 2.8h0m-1.3 5h0m.5 .5h0m-.3 2.2h0m2.2-1.2h0m1.3-6.6h0m1.4-3.6h0m-.6 3.5h0m1 .7h0m1.4 5.6h0m1 .6h0m1.4-1.6h0m-1.6-7.3h0m1.4-1.9h0m3.9 4.9h0m-2.5 4.4h0m4.7-3.2h0m.8-1h0m-1.3-.3h0m.6-4.6h0m-.2-.8h0m0-1.1h0m.1-.4h0m2.6 3.3h0m.2 3.4h0m2.5-3.5h0m1.2-.8h0m.1-.4h0m-1.9-.1h0m1.4-.1h0m3.5-14.2h0m-1.9 .2h0m1.3 0h0m-1.7 .1h0m2.7 .3h0m-2.2 .1h0m-.5 0h0m2.3 .9h0m.3 .1h0m.2 0h0m-1.4 .5h0m.5 0h0m-1.3 .2h0m1.1 .1h0m.1 .4h0m.4 .1h0m-.6 .7h0m-.3 .1h0m.4 0h0m1.2 1.1h0m-.9 .1h0m.9 1.4h0m-.3 .9h0m.3 .6h0m-2.2 3.9h0m4.8 .3h0m.1-.5h0m-.1-1.4h0m0-.1h0m-1.5-.1h0m1.6-.1h0m-.2-.2h0m.2 0h0m-1.3-.1h0m-.5-.1h0m.7-.2h0m1-.2h0m-2.1-.5h0m.3-.2h0m1.5-.1h0m-.3 0h0m-1.7-.1h0m.4-.3h0m-.3 0h0m-.2-.7h0m.3-.1h0m0-.1h0m1-.2h0m-.2-.1h0m-.2-.2h0m-.2-.2h0m-.4-.2h0m1.3-.4h0m-.3-.1h0m-1-1h0m0-.8h0m0-.1h0m-.4-.2h0m.3-.2h0m-.1-.1h0m.2-.7h0m-.1-.2h0m5.6 5.5h0m-2.5 1.5h0m.4 .3h0m.3 1.4h0m.9 .3h0m.3 1.1h0m-1.2 .3h0m-.5 2.5h0m-.4 .3h0m.7 1.5h0m-.8 .9h0m3.1-2.7h0m2.7-1.2h0m-1.6-.5h0m.7-.1h0m-1-1h0m.9-1.3h0m-1.3-1h0m1.7-2.5h0m-.6-1.2h0m3.9-.3h0m-1.3 5.3h0m.1 .1h0m1.3 0h0m-.6 .3h0m-1.9 .2h0m.1 1.6h0m.9 .1h0m1.3 .1h0m-2.3 2.8h0m4.3-3.1h0m-.6-.9h0m-.6-.8h0m1.7-8.4h0m3.5-1.1h0m-.7 .7h0m-1.7 2h0m2.8 .3h0m0 .8h0m-2.2 .5h0m.2 .1h0m-.6 .7h0m.9 1.4h0m1 1.2h0m-1.6 0h0m0 .8h0m-.1 .6h0m2.8-.7h0m2.4-1.7h0m-.8-.7h0m-1.8-.6h0m2.1-.4h0m.6-.1h0m-.2 0h0m-.9-.9h0m-.9-1.8h0m.5-1.4h0m1.9-1.3h0m1.7 .1h0m.3 .3h0m-1.2 .8h0m.7 .7h0m1 1.4h0m-.7 .2h0m-1.4 2.4h0m4-2.1h0m.8-1.4h0m-2.2-.3h0m.1-.3h0m2-.4h0" stroke="#F8766D" stroke-width="1" stroke-opacity="0.5"/>
<path d="M32.7 162.4h0m1.3 12.5h0m1.8-.4h0m.1-1.1h0m-1.4-.2h0m-.1-.7h0m.3-1.2h0m.1-1.9h0m-1.4-3.5h0m1.8-.1h0m-.6-.8h0m-.9-1h0m2.9-3.1h0m2 .4h0m-1.2 .8h0m.5 .5h0m-.1 0h0m-.1 1.7h0m1.2 .7h0m-1 .9h0m0 .8h0m.9 .7h0m-2.4 .5h0m2.3 3.8h0m-2 1.9h0m4.3-3.1h0m.2 0h0m.6-1.6h0m-.4 0h0m.4-5.9h0m-1-1.6h0m-.6-.5h0m1.3-.1h0m1.8-2.9h0m-.5 2.3h0m-.4 1.6h0m1.1 2.6h0m.4 1.1h0m-1.1 1.9h0m2.6 3h0m0-4.9h0m.6-.7h0m-.1-.1h0m1.2-1.3h0m.3-.2h0m.2-.3h0m-.2-.8h0m-1-1.3h0m1.4-.6h0m-1.2-.8h0m-.8-1.4h0m4.6-1.7h0m-1.4 .4h0m.4 .3h0m1.5 2.1h0m-1 .8h0m.2 1h0m1.3 5.1h0m.6-2.1h0m1.8-.6h0m-.8-1h0m-.7-3h0m-.4-2.1h0m3.7 .9h0m.7 .4h0m-1.6 2.6h0m-.6 2h0m5-.5h0m.1-2.8h0m-.4 0h0m-1.7-2.6h0m4-1.4h0m-.4 .7h0m.7 1.2h0m-1.1 .2h0m-.3 .3h0m1.7 2.6h0m-1 1.7h0m4.5-5.2h0m-2.2-.6h0m.1-.2h0m.7-1.9h0m4.8-8.8h0m-1.4 .1h0m-.8 7.5h0m2.5 .9h0m-2 .2h0m1 0h0m-1.3 0h0m-.5 2h0m1.9 0h0m3.9 1h0m-2.3-2.4h0m2.2-.3h0m-1.6-2.4h0m-1.1-5.4h0m.1-3h0m3.7 7.2h0m.6 .3h0m-1.3 1.3h0m.6 .3h0m1.2 4.2h0m-.4 .7h0m.9 .1h0m-.5 1.5h0m-.6 .1h0m-.7 .5h0m0 .7h0m5-2.1h0m-1.3-.3h0m-.4-.1h0m-.8-.8h0m1.4-.3h0m-.9-.7h0m-.2-1.2h0m.2-.1h0m.2-1h0m1.4-.3h0m.2-1.2h0m-1.8-.6h0m-.2-.5h0m0-.4h0m1.3-1.2h0m-1.6-.1h0m.4-.6h0m0-.2h0m4.7-2.1h0m-2.3 2.3h0m2.9 .1h0m-2 1.9h0m2 .1h0m-.9 .5h0m-.8 3h0m-.2 .7h0m-.5 0h0m.3 .7h0m1.5 .3h0m-1.4 .1h0m-.4 .4h0m1.4 .1h0m-.9 .7h0m-1 .2h0m.3 .6h0m5.4-4.6h0m-.5 0h0m.7-.3h0m-2-.5h0m.5-.3h0m-1.3-1.8h0m1.8 0h0m1-2h0m-2.3-.1h0m1.9-.8h0m-.9-1.4h0m-.6-.2h0m0-.5h0m-.1-.1h0m4.6-.8h0m-1 .1h0m.4 2.4h0m-1.2 .1h0m-.3 .2h0m.8 1.6h0m-.1 2.1h0m-.8 .2h0m.5 .5h0m1.2 0h0m-1.7 1.3h0m1.3 .2h0m-1.6 .2h0m5.4-2.8h0m-2.2-.2h0m.7-.1h0m0-.7h0m-.5-.2h0m-.2-.1h0m1.6-1.5h0m-1.1-.3h0m.3-.1h0m.7-1.8h0m.6-1.9h0m-.3-.2h0m-.2-.3h0m3.9-23.6h0m-2.5 25.3h0m1.2 .3h0m.2 .1h0m-.3 .3h0m.7 .1h0m-1.5 1.5h0m-.1 .3h0m1.4 0h0m.9 .1h0m-2.5 .9h0m1.3 .6h0m4.1-2.6h0m-2.1-1.1h0m2.3-.3h0m-1.5-.1h0m.8-4.3h0m.3-1h0m.1-2.2h0m-.2-4.1h0m-.2-.9h0m-.7-5.2h0m1.2-5.5h0m-2.4-3.1h0m2.3-2.8h0m-.3-.1h0m0-1.7h0m1.4 .6h0m4.3 34.4h0m-1-1h0m3.9 6.4h0m.3 .7h0m.5 1.5h0m2.6 8.4h0m-.3-1.4h0m-1.4-4.8h0m1.8-14.3h0m-1.6 0h0m2.1-1h0m1.4 24.1h0m-.3 .8h0m1.1 1.2h0m-.8 .2h0m1.4 2.9h0m3.3 8.4h0m-1.1-7.2h0m-1-1.4h0m-.8-1.6h0m0-.4h0m.5-29.1h0m.5 0h0m-.7-1.5h0m2.4-9.5h0m-1-.4h0m-.6-.6h0m1.2-2.6h0m.1-.5h0m-1.3-2.3h0m2.2 5.7h0m-.1 2.3h0m.6 2.8h0m1.3 1.2h0m-1 2.5h0m-.9 38.4h0m0 2.2h0m.2 .4h0m1.7 1.3h0m-1.4 .4h0m.7 1.2h0m1.5 .7h0m-1.1 2.5h0m3.3 11.9h0m-.5-2.7h0m.5-.4h0m.5-2.4h0m-1.4-.2h0m.9-4.6h0m-1.3-.9h0m-.6-3.2h0m3.3 5.9h0m.7 .3h0m.9 .6h0m-.2 1.1h0m-.2 1.1h0m0 2.8h0m-1.4 1.2h0m2.4 .6h0m-1.7 .7h0m-.4 2.3h0m.1 .1h0m.5 .4h0m1.5 .8h0m.6 1.5h0m2.6 0h0m-1.2-5.7h0m-1.7-1.6h0m.8-3h0m3 5.4h0m-.1 .1h0m.2 5.1h0m.4 1.7h0" stroke="#B79F00" stroke-width="1" stroke-opacity="0.5"/>
<path d="M92.9 112.1h0m-1 .8h0m.9 .5h0m-.5 .2h0m0 .2h0m-.8 .4h0m-.1 1.1h0m.3 0h0m.2 .2h0m.6 .3h0m0 .1h0m.4 1.4h0m-1.1 .3h0m.7 1.9h0m-.4 .1h0m.6 .3h0m-.1 .4h0m.2 .7h0m2.1 25.7h0m.2-.7h0m-.1 0h0m.1-.1h0m-.2 0h0m0-.1h0m.3-.2h0m-.5-.1h0m.3-.1h0m.2-.3h0m-.4-.1h0m.3-.4h0m.1-.1h0m-.1-1h0m-.3 0h0m-.1-.1h0m.2-.1h0m.4-.2h0m-.5-.5h0m.2-.3h0m.1-.4h0m0-.1h0m.2-.1h0m0-.1h0m.1-.6h0m-.3-.2h0m-.2-.2h0m.3 0h0m0-.8h0m.1-.6h0m-.2-.1h0m-.1 0h0m0-.2h0m-.3-.3h0m0-.8h0m.6-.4h0m-.1 0h0m.2-.9h0m-.1 0h0m-.1-.3h0m-.6-.3h0m.6 0h0m.1-.1h0m-.5-.3h0m.3-.5h0m.2-.3h0m-.6-.1h0m.7-.1h0m-.9-.1h0m.9-.7h0m-.8-.1h0m.1-.3h0m.3-.1h0m-.6 0h0m.8-.2h0m-.4-.4h0m.6 0h0m.3-.8h0m-1.4 0h0m.7-.1h0m.4-.1h0m-.3-.1h0m.7-.6h0m-1.1-.6h0m.7-.2h0m-.5-.3h0m.9-.5h0m-.8-.1h0m.8-.4h0m-1-.1h0m1-.1h0m-.4-.3h0m.2-.2h0m-1-.4h0m-.3-.1h0m1.2 0h0m.4-.3h0m-2-.1h0m.3-.1h0m.4 0h0m.2-.1h0m-.2-.2h0m.4-.1h0m-.6-.1h0m1.5-.1h0m-1.3-.3h0m-.6 0h0m1.7 0h0m-.9-.1h0m.8 0h0m-1.5-.3h0m1.7 0h0m-1.4-.2h0m.7-.5h0m-1.1-.1h0m1.7-.1h0m-1.8-.1h0m-.2 0h0m-.1-.1h0m2.1 0h0m-.1-.2h0m-1.5 0h0m-.8-.7h0m-.1 0h0m.8-.2h0m.2-.1h0m1.6-.2h0m-.2-.6h0m-.3-.1h0m-2.3-.6h0m1.5 0h0m.8 0h0m.4-.3h0m-1.6-.5h0m-.1-.3h0m-.3-.2h0m-.5-.2h0m1.4-.1h0m-.2-.2h0m-1.2 0h0m1.4 0h0m-1-.4h0m1.4-.1h0m-2-.3h0m2.4-.2h0m-.2-.5h0m-1.2-.2h0m1.4 0h0m-1-.7h0m-.1 0h0m-.2-1.1h0m-1-.1h0m1.4-.2h0m.7-.1h0m.6-.2h0m-1.9-.2h0m.2-.3h0m.9-.4h0m-.3-.1h0m-.3 0h0m.1-.1h0m-.4-.1h0m-1 0h0m1.5-.4h0m-1.2-.1h0m2.4 0h0m-2-.1h0m1 0h0m-.2 0h0m.4-.1h0m.6-.1h0m.2-.2h0m-1.2-.2h0m.8 0h0m-2.2-.1h0m2-.2h0m-1.8-.2h0m-.1-.5h0m.9-.1h0m-1-.2h0m3.9 2.5h0m-.1 .2h0m-.5 .2h0m-.5 .4h0m.1 .3h0m1 .3h0m-.1 .1h0m-.7 .3h0m.3 .4h0m.3 .1h0m-.8 .2h0m.4 1h0m-.5 1.4h0m.2 .7h0m-.1 0h0m0 1.3h0m0 1.3h0m-.1 3.1h0m4.9 26.4h0m5.9 12.7h0m.6-1.1h0m-.6-.3h0m-1.7-3.4h0m4.6 8.7h0m2 .5h0m2.8 12.2h0m.9 .6h0m2.5 19.5h0m0-3.2h0m.1-3.2h0m-.7-3.9h0m1.3-4.1h0m-.8-2.8h0m2.9 3.3h0m0 .6h0m2.1 4.2h0m-2.1 1.8h0m.9 .6h0m-.3 .5h0m-1.1 .3h0m2 1.3h0m-1.5 .3h0m1.7 6.8h0m2.1-4.5h0m.6-1.1h0m.8-5h0" stroke="#00BA38" stroke-width="1" stroke-opacity="0.5"/>
<path d="M74.8 157.4h0m-.3 .7h0m-2.1 .5h0m1.4 .9h0m-1.5 1.8h0m5.4-6h0m-2.5-1.2h0m.2-1h0m1.1-4.4h0m2 8.1h0m1.2 .1h0m2.7-4.4h0m.4-.5h0m-1.7-5.7h0m8.5-.6h0m2.1-30h0m.2 1h0m-.1 27.1h0m.4 .7h0m-.7 3.1h0m-.2 .9h0m-1.3 1.3h0m4.8-4.4h0m.3-.7h0m-.2-3h0m-.2-3h0m.4-.6h0m-.3-1.2h0m.4-.1h0m-.7-2.4h0m.6-1.8h0m-.9-1.1h0m.8-.2h0m-.5-.3h0m0-.8h0m1.2-.6h0m-.8-.2h0m-.2-.6h0m-.2-.8h0m.1-1.7h0m-.3-.9h0m1.4-.8h0m-1.7-1.5h0m.7-.1h0m-.9-1h0m.3-.1h0m-.1-.2h0m-.1-.7h0m.8-1.9h0m-.2-.1h0m-1.4-.3h0m1-.6h0m1.1-.3h0m-.5-1.4h0m.4-.4h0m.6-2.5h0m-2.6-1.1h0m1.9-.1h0m1.7 2.8h0m-.1 33.8h0m4.9 4.7h0m-.7-1.6h0m.9-1.2h0m-2-1.6h0m.3-.9h0m4.6-2h0m.1 .3h0m-.4 1.2h0m-1.8 5.1h0m1.2 2.5h0m-1.3 1h0m2.3 1.8h0m-.6 1.9h0m3.3 10.3h0m.5-3.1h0m-.2-2.7h0m-2-.7h0m.2 0h0m1.2-.4h0m-2.1-.3h0m1.4-1.6h0m-1.1-1.7h0m0-.5h0m1.1-13.3h0m1.4-1.3h0m-1.2-.5h0m2.5-1.9h0m.9 .6h0m.1 .2h0m-1.6 1.2h0m.7 23.9h0m.4 2.4h0m-1.3 .6h0m.1 1h0m1.4 .3h0m-1 .1h0m.9 2.2h0m1.2 .1h0m-.4 .5h0m.1 .1h0m.1 1.5h0m2.8 7.2h0m.4 0h0m-.2-1.7h0m-1.7-2.9h0m0-.7h0m1.6-.1h0m-1.8-.4h0m1.4-1.4h0m.2-.8h0m-.6-1.3h0m0-33.1h0m-1.1-.3h0m.2-.4h0m1.8-.7h0m-1.9-.4h0m2-.3h0m-.7-6.2h0m.3-1.9h0m.3-1.6h0m-.1-.4h0m-.6-2h0m-.3-1.4h0m-.5-.6h0m1.9 4.4h0m.4 .4h0m.6 .3h0m.7 4.4h0m-1.1 .1h0m1.3 4.3h0m-.9 40h0m-.2 3.4h0m-.6 1.7h0m1.3 .6h0m.3 2.1h0m.9 1.5h0m3.1 10.8h0m-1.6-4.2h0m1.2-.4h0m.2-1.8h0m-.1-.1h0m-2.1-1.3h0m2.3-1.4h0m-.5-1.5h0m-1.7-1.3h0m.8-.1h0m.4-1.8h0m2.5 4.3h0m.7 3.1h0m-1.3 .5h0m.6 .2h0m.2 .6h0m-.4 .4h0m1 1h0m.6 3.1h0m-.4 .5h0m.3 .3h0m-1.8 1.1h0m.5 3.4h0m.9 .4h0m.1 1.6h0m2.1 .2h0m.6-.8h0m.4-.9h0m-.3-.3h0m.3-1.2h0m-1.7-.6h0m.1-.7h0m.2-1.7h0m1.6-.1h0m-1.7-.4h0m1-2.6h0m-.3-.1h0m.6-.2h0m-1.5-.3h0m.8-.9h0m-.4-.1h0m-.7-.1h0m1.6-.1h0m.9-.1h0m-2.8-.3h0m-.1-.2h0m1.2-1h0m2.5 3.3h0m.8 4.5h0m-1 2.3h0" stroke="#F8766D" stroke-width="1" stroke-opacity="0.5"/>
<path d="M92.5 114.4h0m0 1.9h0m0 .6h0m.1 5.3h0m2.3 21.1h0m.2-5.3h0m-.5-10.1h0m.4-.4h0m.2-2.3h0m-2.1-1.8h0m2.5-.4h0m-.6-4.5h0m.8-4.4h0m1.1 2.9h0m-.5 0h0m7.3 34.2h0m3.7 14.2h0m.5-4h0m-1.9-.8h0m1.5-.5h0m-.8-.4h0m0-.4h0m.4-.2h0m-1.1-2.1h0m-.8-1.7h0m3.1 7.5h0m.9 2.3h0m.1 .2h0m.6 1.1h0m.3 .5h0m-.7 .9h0m-.4 .4h0m.6 1.4h0m1.1 1.6h0m3.1 10.9h0m-.5-1.5h0m.1-.3h0m-.3-1.1h0m-.6-2.4h0m.8-1.2h0m-.1-.8h0m-1.3-.5h0m1.4-1.2h0m-1.4-.3h0m1.1-.2h0m-1.5-.1h0m.1-.6h0m-.5-.9h0m3.1 4.4h0m.3 1.1h0m.6 1h0m.1 .4h0m-.1 2.4h0m1.7 .5h0m-1.4 .2h0m-1.5 .2h0m2.5 1.3h0m-1.5 0h0m-.4 .1h0m1.7 1h0m-1 1.9h0m.6 1.7h0m2.8 11.5h0m.4-.5h0m.1-2.8h0m-.5-2.1h0m.4-1h0m.3-.8h0m-1.1-1.3h0m1.4-1.6h0m-1.3-1h0m-1.1-.2h0m-.1-.3h0m.1-1.1h0m.8 0h0m-.8-2.2h0m.1-2.7h0m3.7 8h0m1 .6h0m-1.9 0h0m2.1 .9h0m-1.1 0h0m-1 1.2h0m1 .2h0m.4 .4h0m.7 0h0m-1.7 .6h0m1.9 .3h0m-1.6 .4h0m-.2 .2h0m-.1 .3h0m1.4 1.1h0m-.4 2.2h0m-.1 3.1h0m.1 .1h0m.3 1.2h0m3.3 2.4h0m-1.1-1.1h0m.8-.6h0m.5-.3h0m.2-.2h0m-.2-.6h0m-2.3-.1h0m1.1-.6h0m-1.2-.9h0m.5-1.3h0m0-.3h0m-.2-1h0m2-1.2h0m.4-3.5h0m-2.7-.9h0m1.3-1h0m-1.1-1.8h0m3.9 4.8h0m-.5 .1h0m-.1 .3h0m0 .8h0m.4 2.4h0m.1 .5h0m.7 .6h0m-.1 2.5h0m-.6 .9h0m1.5 .3h0m-.9 1.1h0m-1.6 .1h0m2.9 .1h0" stroke="#00BFC4" stroke-width="1" stroke-opacity="0.5"/>
<path d="M101.2 153.3h0m.6-2.6h0m.4 1h0m.1 .2h0m.6 1.8h0m.2 .2h0m-.1 .4h0m.2 .6h0m.9 1.4h0m0 .3h0m.4 1.6h0m.4 .4h0m0 .4h0m-1.2 .3h0m4.2 9.1h0m-.1-1.5h0m-.5-.2h0m.5-1.6h0m-.9-.1h0m0-.2h0m.4-.7h0m-.7 0h0m.1-.2h0m-.1-.3h0m-.1-.1h0m-.7-.9h0m-.6-.1h0m.5-.4h0m.2-.5h0m-.2-1.2h0m-.7-.5h0m.3-1.1h0m-.3-.3h0m.8-2.4h0m2.2 10.9h0m1.7 .1h0m-1 .2h0m-.1 .4h0m.4 .2h0m-.1 .7h0m-.4 0h0m-.2 .5h0m.3 0h0m-.2 .2h0m0 .3h0m.2 .1h0m1.4 .1h0m-.3 0h0m-.2 .1h0m-.8 .2h0m.4 .2h0m1.4 .3h0m-.2 .6h0m.3 0h0m-1.5 0h0m.2 0h0m-.2 .1h0m.1 0h0m1.2 .3h0m-.2 .3h0m-.2 .5h0m.3 0h0m0 .3h0m.6 2.2h0m2.7 9.8h0m-.1-1.4h0m-.6-3.3h0m.4-.9h0m.6-.3h0m-1.9-.9h0m1.5-.2h0m-.9-.1h0m1.1-.6h0m-1.7-.2h0m1.5-.2h0m-.7 0h0m-.1-.6h0m.2-.2h0m-.4-.2h0m0-.6h0m-.4-.3h0m-.2-.8h0m-.9-.1h0m.3-.2h0m.1-.7h0m.4-.6h0m3.2 6.2h0m-.9 .1h0m.6 .5h0m-.7 .8h0m.7 .1h0m.5 .1h0m-.6 .2h0m.5 .2h0m-.4 0h0m.2 .1h0m.8 .3h0m.3 .2h0m-.2 .4h0m-.9 .5h0m1.3 .2h0m-1.4 .1h0m1.7 .1h0m-.8 .1h0m.2 .1h0m.8 .2h0m-.5 .3h0m-1.6 0h0m1.3 .5h0m.9 .2h0m-.6 .2h0m.2 .1h0m-1.3 .2h0m.7 .2h0m-.6 0h0m1.7 .7h0m-1.1 0h0m.5 .3h0m-.4 0h0m.8 .1h0m-.6 .1h0m-.3 0h0m.7 .4h0m-.7 0h0m.6 0h0m-.6 1h0m1.1 0h0m-1.7 .9h0m1.7 2.2h0m3 12.8h0m0-.4h0m-.7-.8h0m.2-1.6h0m.3-1.3h0m-.6 0h0m.3-1.1h0m-2-2.7h0m1.8-.7h0m.3-.3h0m-.6-.2h0m-.8-.1h0m1.4-.3h0m-1.2-.6h0m-.2-.9h0m.6-.1h0m.6-.2h0m.5-.1h0m-.6-.3h0m-.7-.3h0m.5-.1h0m-1.1-.3h0m.4-.1h0m-.4-.4h0m-.8-.2h0m1.6 0h0m-.5-.7h0m-1.1-.3h0m0-.4h0m1.1-.5h0m-.4 0h0m1.4-.6h0m-1.8-.8h0m.5-.2h0m.3-.2h0m-.8-.2h0m1.1 0h0m.5 0h0m-1.9-.2h0m1.5-.4h0m-1.6 0h0m1.2-.5h0m-.4-.2h0m-.6-.2h0m.1 0h0m-.1-.7h0m-.1-.5h0m3.1 5h0m.2 .6h0m.1 .8h0m.9 .5h0m-.7 .5h0m1.2 .1h0m-1.1 .1h0m-.6 0h0m1 .3h0m1.1 .3h0m-.6 .2h0m-1.1 0h0m1.7 .2h0m-1.3 .2h0m0 .1h0m-.5 .2h0m2.2 .2h0m-2.1 1h0m.9 0h0m-1.4 .1h0m2.5 1.2h0m-1.8 .1h0m-.8 .1h0m2.1 .1h0m-.4 .4h0m0 1.4h0m-1.3 .1h0m2.3 .1h0m-2.5 .8h0m.8 0h0m1.2 .4h0m-2 .3h0m1.4 .3h0m-1.1 .3h0m-.4 .7h0m1.1 .5h0m-.4 0h0m.7 .1h0m-.3 0h0m-.7 .1h0m1.3 .3h0m-.3 .5h0m-1.4 .1h0m1 .1h0m1.6 0h0m-1.2 .6h0m-.1 .2h0m1.2 .3h0m0 .2h0m-2.4 .6h0m1.9 .3h0m-.2 .2h0m.8 .5h0m1.9 1.5h0m.4-.9h0m.1-.4h0m-.7 0h0m.5 0h0m.3-.2h0m-2-.2h0m1.5-.4h0m-.5-.6h0m.8 0h0m-1.9-.1h0m2.3-.4h0m.1-.1h0m-.6-.1h0m-.3-1h0m-1.6-1.7h0m2.3-.4h0m-.3-.3h0m-.3-.1h0m-1.6-.1h0m.6-.4h0m.8 0h0m.5-.3h0m-.6-.2h0m-.9-1h0m.9-.2h0m-.1-.7h0m-.4-.3h0m-.1-.1h0m.1-.3h0m-.4-.5h0m1.5-.1h0m.9-.2h0m-1.5-1.3h0m-1.1-.1h0m.4-.2h0m1.5 0h0m-.9-.3h0m.5-.4h0m-1-.1h0m.6-.1h0m1.7 2.8h0m.7 .4h0m-.8 0h0m.6 .5h0m-.1 .6h0m.3 .6h0m-.5 .6h0m-.2 1.1h0m1.3 1h0m-.4 .5h0m.6 1.5h0m-1.5 1.2h0m.5 .1h0m.3 2.1h0" stroke="#B79F00" stroke-width="1" stroke-opacity="0.5"/>
<path d="M74 153.3h0m-.8 .1h0m.9 1.4h0m-.8 .1h0m.1 .8h0m2.9-3.2h0m.1-1.1h0m.1-1.8h0m3.7-1.6h0m-1.3 1h0m-.3 1.1h0m2.1 4.7h0m-.7 .7h0m3.4-2.9h0m2.9-6h0m-2.1 5.7h0m1.9 .9h0m2.2-2h0m1.5-1.1h0m-.7-2h0m.4-3.4h0m2.7 5.2h0m1.9-1.4h0m-.2-2.1h0" stroke="#F564E3" stroke-width="1" stroke-opacity="0.5"/>
<path d="M103.2 154.3h0m1.5 0h0m-1 1.6h0m4.1 9.6h0m-.8-.7h0m-.8-3.3h0m1.7-.4h0m-1.5-1.9h0m-.1-1.7h0m-1.3-2.6h0m3.5 9h0m.2 1.6h0m0 4.3h0m1.5 .2h0m-.2 2.1h0m.9 1.8h0m1.5 4.7h0m.7-3.5h0m-1.6-.5h0m2.1-.3h0m-1.8-3.1h0m3 4.8h0m-.3 1.9h0m.3 .8h0m.8 2.1h0m-.1 .8h0m.1 .2h0m-1.3 1.1h0m1.4 .3h0m-1.2 .3h0m1.8 .2h0m.6 .8h0m-.2 .7h0m-.1 1.1h0m1.4 4.5h0m-.9-.3h0m-.1-2.1h0m.9-.8h0m-.2-1.9h0m2.1-.8h0m-2.6-.7h0m1.5-.6h0m-1.6-.7h0m1.2-.2h0m3.2 5.6h0m-.4 .2h0m.9 1.2h0m-.1 0h0m.7 .6h0m-.8 .6h0m-1.6 .4h0m-.1 .1h0m.4 .1h0m1.5 .4h0m.2 0h0m.4 .1h0m-.8 1.4h0m-1.3 .1h0m-.4 .1h0m.1 2.4h0m1.7 .1h0m-.7 .1h0m1.5 .4h0m.2 .6h0m-.1 2.1h0m-.8 1.6h0m-1.9 1.5h0m2.5 .5h0m1.7 1.7h0m-.7-1.7h0m.9-1.9h0m-.1-2.1h0m-1.4-.9h0m.4-.1h0m0-.4h0m1-.1h0m-.9-.5h0m-.3-.3h0m-.1-1.4h0m.3-1.2h0m2.4-.7h0m-1.3-.2h0m.2-.3h0m-1.6-.2h0m2.1-.4h0m-1.2 0h0m1.8-.3h0m-2.6-2.5h0m3.6 3h0m.3 .9h0m-.8 .9h0m.1 .1h0m-.2 2h0m.2 .9h0m-.2 2.8h0m2 .5h0m-1.8 2.6h0m2.5 .2h0m-1.4 .8h0" stroke="#619CFF" stroke-width="1" stroke-opacity="0.5"/>
<circle cx="70.7" cy="153.3" r=".9" fill="#111"/>
<circle cx="95.4" cy="146.4" r=".9" fill="#111"/>
<circle cx="102.2" cy="150.1" r=".9" fill="#111"/>
<text x="131.4" y="125.2" font-size="4.8" font-weight="bold" fill="#222">Cluster</text>
<circle cx="134.9" cy="132.4" r="1.7" fill="#F8766D"/>
<text x="141.5" y="134.3" font-size="5.2" fill="#222">0</text>
<circle cx="134.9" cy="139.4" r="1.7" fill="#B79F00"/>
<text x="141.5" y="141.3" font-size="5.2" fill="#222">1</text>
<circle cx="134.9" cy="146.4" r="1.7" fill="#00BA38"/>
<text x="141.5" y="148.3" font-size="5.2" fill="#222">2</text>
<circle cx="134.9" cy="153.4" r="1.7" fill="#00BFC4"/>
<text x="141.5" y="155.3" font-size="5.2" fill="#222">3</text>
<circle cx="134.9" cy="160.4" r="1.7" fill="#619CFF"/>
<text x="141.5" y="162.3" font-size="5.2" fill="#222">4</text>
<circle cx="134.9" cy="167.4" r="1.7" fill="#F564E3"/>
<text x="141.5" y="169.3" font-size="5.2" fill="#222">5</text>
<text x="164" y="107.5" font-size="8.5" font-weight="bold">E</text>
<line x1="183.4" y1="107.6" x2="183.4" y2="162" stroke="#333" stroke-width=".5"/>
<line x1="182.1" y1="108.1" x2="183.4" y2="108.1" stroke="#333" stroke-width=".4"/>
<text x="181.6" y="109.8" font-size="4.7" text-anchor="end" font-weight="bold" fill="#222">8</text>
<line x1="182.1" y1="121.4" x2="183.4" y2="121.4" stroke="#333" stroke-width=".4"/>
<text x="181.6" y="123.1" font-size="4.7" text-anchor="end" font-weight="bold" fill="#222">4</text>
<line x1="182.1" y1="134.8" x2="183.4" y2="134.8" stroke="#333" stroke-width=".4"/>
<text x="181.6" y="136.5" font-size="4.7" text-anchor="end" font-weight="bold" fill="#222">0</text>
<line x1="182.1" y1="148.2" x2="183.4" y2="148.2" stroke="#333" stroke-width=".4"/>
<text x="181.6" y="149.9" font-size="4.7" text-anchor="end" font-weight="bold" fill="#222">-4</text>
<line x1="182.1" y1="161.5" x2="183.4" y2="161.5" stroke="#333" stroke-width=".4"/>
<text x="181.6" y="163.2" font-size="4.7" text-anchor="end" font-weight="bold" fill="#222">-8</text>
<text x="211.8" y="109" font-size="4.6" text-anchor="middle" font-weight="bold" fill="#222">0</text>
<path d="M185.9 144.1h0m-.1-.2h0m-.2-.4h0m-.1-1h0m.3-.1h0m-.2-.3h0m-.2-.4h0m.1-.2h0m.1-.4h0m-.4-1.5h0m.7 0h0m-.2-.4h0m-.4-.3h0m.1-.5h0m.5-1.2h0m2.6-1.5h0m-.1 .1h0m-.5 0h0m-1.4 0h0m2.2 .1h0m-2.2 .1h0m.1 0h0m.3 .1h0m1.9 .2h0m-2.4 .1h0m.8 .1h0m1.7 .2h0m-.7 .6h0m-1.4 .1h0m-.3 .2h0m1.4 .1h0m.9 .1h0m-2 .1h0m.6 .1h0m1.4 .2h0m-1 .1h0m-.8 0h0m1 0h0m-1.2 .1h0m.9 .1h0m.2 .1h0m-1.9 .2h0m1.9 .1h0m-1.7 0h0m1.1 .7h0m0 .1h0m-1.3 .2h0m1.6 .1h0m-.6 .2h0m.3 .4h0m1.5 0h0m-2.1 .1h0m-.5 0h0m2.5 0h0m-1.4 .1h0m-1 .3h0m2.6 0h0m-.5 .2h0m-2.3 0h0m.3 .1h0m1 .1h0m-1.4 0h0m2.7 .1h0m-.4 0h0m.3 .3h0m-1.7 .1h0m2 .1h0m-2 .4h0m.3 .2h0m1.7 0h0m-.4 .6h0m-2.3 .1h0m2.1 0h0m-.9 .2h0m-.7 .1h0m.3 0h0m0 .3h0m1.3 .2h0m-.1 .1h0m.2 .1h0m-.5 .1h0m-1 0h0m-.2 .1h0m.1 .2h0m1.3 .4h0m-1 .2h0m.6 .1h0m1 .1h0m-.3 .1h0m-.7 0h0m.4 0h0m.9-.2h0m.6-.4h0m-.5-1h0m-.1-.4h0m.5-.1h0m.3 0h0m0-.4h0m-.8-.1h0m1.7 0h0m-1.6-.1h0m1-.1h0m.2 0h0m-.3-.1h0m-.9-.3h0m.1 0h0m-.2-.1h0m1.3 0h0m-.1 0h0m-1.2-.2h0m.2-.1h0m0-.1h0m2.4 0h0m.1 0h0m-1.8-.2h0m1.4 0h0m.5-.2h0m-.8-.1h0m.1-.2h0m.5 0h0m-.9 0h0m-1.4-.1h0m2.2-.2h0m.2-.1h0m.2-.1h0m-.3-.1h0m.2 0h0m0-.1h0m.1 0h0m-.8 0h0m-.8 0h0m-.7-.1h0m1 0h0m-.7-.2h0m-.8-.1h0m1.6 0h0m1.2 0h0m-1.2-.1h0m1.1 0h0m-2 0h0m2.1-.1h0m-1.1-.2h0m-.5-.1h0m-.3-.2h0m1.3 0h0m-.2-.2h0m-.7 0h0m.7-.3h0m-1.8-.1h0m0-.2h0m1.5-.3h0m-1.6-.1h0m2.1 0h0m-1.6-.2h0m.8-.1h0m-.4-.1h0m-.2 0h0m.2-.1h0m.8 0h0m-1.8-.1h0m.6-.1h0m.9 0h0m.1-.1h0m-1.1 0h0m.1-.1h0m.5-.1h0m.6-.2h0m-.1 0h0m.8 0h0m-.8-.1h0m-1.4-.1h0m2 0h0m-2.1-.1h0m1.8-.1h0m-1.4 0h0m1.7-.3h0m-.5-.2h0m.8-.2h0m3.2-1.1h0m-.1 0h0m-.6 .1h0m-1.1 .3h0m-.3 .3h0m1.8 0h0m-2 0h0m.2 0h0m1.7 .1h0m-.3 .1h0m-1.2 0h0m-.8 0h0m2 0h0m-1.1 .1h0m.2 0h0m-.3 0h0m1.2 .1h0m-1.2 .2h0m-.6 .2h0m2.6 .1h0m-.3 .1h0m.2 .1h0m-.9 0h0m-1.8 0h0m0 .2h0m2.5 0h0m-.4 .1h0m-1.8 .1h0m1 .1h0m-.9 .2h0m-.5 .1h0m.1 0h0m1.4 .1h0m-1.5 .1h0m1 .1h0m-.5 0h0m.6 .1h0m-.4 0h0m1.5 .1h0m-1.8 0h0m.6 0h0m.6 .1h0m.5 0h0m-1.7 .2h0m.8 0h0m-.8 .2h0m1.3 0h0m1 .1h0m-1.7 0h0m.5 .1h0m-1.2 .2h0m.8 .1h0m.1 .1h0m-.2 .1h0m-1 .1h0m2.1 .3h0m-.9 .1h0m-.3 0h0m1.9 0h0m-2.6 .1h0m1.2 .1h0m1.5 0h0m-.8 0h0m-1.6 .1h0m1.9 0h0m-2.2 .1h0m1.6 0h0m-1.3 0h0m-.5 0h0m2.2 .1h0m-1.1 .1h0m-.4 0h0m-.5 .2h0m2.3 0h0m-1.3 0h0m1.1 .4h0m-.2 0h0m-1.6 0h0m1.7 .6h0m-1.6 0h0m1 .1h0m-.6 0h0m.7 0h0m-1.3 .2h0m.6 0h0m-.3 .1h0m-.2 .2h0m0 .1h0m-.3 0h0m2.9-1.4h0m.6-.2h0m-.6-.1h0m-.1-.1h0m.5-.1h0m.7-.1h0m.8 0h0m-.1-.1h0m.6-.1h0m-1.6 0h0m1.8-.2h0m-1.9-.3h0m1.8 0h0m-2-.1h0m2-.1h0m-2.6-.1h0m.3-.1h0m2.1 0h0m-1.9-.1h0m.4-.3h0m.5 0h0m-.6-.2h0m.9-.2h0m.9 0h0m-.2-.1h0m-1.7-.2h0m.3-.1h0m.6 0h0m-.2 0h0m-.2-.1h0m.9-.1h0m.1 0h0m0-.2h0m-1.6 0h0m.7-.1h0m-.3-.2h0m.8-.1h0m-1.2 0h0m1.2 0h0m.8 0h0m-1.3-.1h0m1.2-.2h0m-1 0h0m.5-.2h0m-1.9-.1h0m.8 0h0m1.3-.1h0m-1.8 0h0m.6 0h0m-.3-.2h0m2.1-.1h0m-1.9 0h0m-.7-.3h0m.3 0h0m-.2 0h0m1.5-.2h0m1-.1h0m-1.7-.1h0m.3-.1h0m.2-.1h0m1.1-.1h0m-.2 0h0m-.4 0h0m-1.9 0h0m.3 0h0m0-.1h0m2.4-.2h0m-1.8-.1h0m-.8-.1h0m2.4 0h0m-1.3 0h0m-.6-.1h0m1.6-.1h0m-.4-.1h0m.5-.1h0m3.2-.8h0m-.2 .1h0m-1.5 .2h0m1.9 .1h0m-1.3 0h0m-.8 .2h0m1.2 .3h0m-.1 0h0m-.4 .1h0m1.2 .1h0m-1 0h0m-1.3 0h0m1.8 .1h0m-.6 .1h0m-.4 0h0m-1.1 .1h0m2 .1h0m-.8 .1h0m-.5 .1h0m0 .1h0m.6 0h0m1.5 .1h0m-.9 .1h0m.7 .1h0m-1.2 .3h0m-.6 .1h0m-.6 0h0m2.1 0h0m-.8 0h0m1 .1h0m-1.5 0h0m-.2 0h0m1.2 0h0m-.7 .1h0m-1 0h0m2.5 0h0m-.7 0h0m-.2 .1h0m-.8 .1h0m-.5 0h0m-.1 0h0m2.2 .2h0m-1.5 0h0m-.3 .1h0m1.3 0h0m-1.1 0h0m1 0h0m-.6 0h0m.8 .2h0m-.8 .2h0m-.6 .2h0m-.1 0h0m1.1 0h0m-1.5 0h0m2.1 .1h0m-.4 .2h0m0 .2h0m-2.1 0h0m1.9 .2h0m-.8 0h0m.1 .1h0m-1.3 .1h0m1.6 0h0m-1.4 0h0m2.3 .1h0m0 .1h0m-2 0h0m1.8 .1h0m-.6 0h0m-1.6 0h0m.8 .1h0m-.5 0h0m.7 0h0m-.2 .1h0m-.3 .1h0m-.3 .1h0m.1 .1h0m1.3 .1h0m-1.4 .4h0m.5 0h0m-.8 .2h0m.6 0h0m2.5-1.4h0m.4-.1h0m.4-.2h0m-.4-.5h0m-.4-.1h0m1.3 0h0m-.3-.2h0m1.2-.7h0m-.6-.2h0m-.1 0h0m.3 0h0m.8-.3h0m-1.1 0h0m-.9 0h0m1.2 0h0m-.4 0h0m.9-.1h0m.1 0h0m-1.6-.1h0m-.1 0h0m2 0h0m-.7-.1h0m-.9-.1h0m-.6 0h0m0-.2h0m.9-.1h0m.7 0h0m-1.5-.1h0m-.5-.1h0m2.7 0h0m-1.5-.1h0m-1.2 0h0m1.9 0h0m-.7-.1h0m-1.4 0h0m1.7-.3h0m.7 0h0m.3-.1h0m-.3-.1h0m.3 0h0m-1.4-.3h0m1.6-.2h0m-1.3 0h0m.4-.1h0m-1.1-.1h0m.3 0h0m-.6 0h0m-.6-.1h0m2.7 0h0m-2-.1h0m-.2 0h0m2.4-.2h0m-1.1 0h0m.7-.1h0m-.7-.2h0m4.1-7h0m-.2 .1h0m-.2 .7h0m.2 .1h0m-1.5 5.7h0m.9 .1h0m-1.1 .2h0m.9 0h0m-1 .2h0m1.7 0h0m-1.1 .1h0m1 0h0m-.4 0h0m-.7 .2h0m-.4 .1h0m-.2 0h0m-.2 .1h0m.9 .1h0m-1.2 .1h0m1.8 0h0m-1.3 0h0m-.7 .3h0m.4 0h0m2.4 0h0m-1.9 .1h0m1 .1h0m-1.9 0h0m2.8 .1h0m-2.1 0h0m0 .1h0m1.3 .1h0m-2 0h0m-.1 .1h0m1.9 0h0m-1.8 .3h0m1.6 .1h0m-1.3 .1h0m1 .1h0m-1.2 0h0m1.3 .1h0m-.5 0h0m.1 .2h0m-.8 .2h0m5.6-.4h0m-.3-.9h0m-.2-.2h0m-2.4-.6h0m.2-.1h0m2.3 0h0m-2.5-.4h0m1.1-.2h0m-1-.1h0m1.2-.1h0m-.2 0h0m-.2-.1h0m-.4 0h0m-.2-.2h0m2.6 0h0m-2.5-.2h0m-.3 0h0m.7-.1h0m.8-.1h0m-.4 0h0m1.3 0h0m-.3-.8h0m0-.1h0m-.3-.1h0m0-.1h0m-.4-.1h0m.5-.3h0m-.8-.1h0m-.2 0h0m.2-.1h0m.9-.1h0m-.5-.1h0m.4-.1h0m-.4 0h0m-.2-.2h0m.6 0h0m-.9-.1h0m.1 0h0m.6 0h0m-.2 0h0m.2-.2h0m-1.2-.6h0m.8-.1h0m-.3-.4h0m-.6-.4h0m-.2 0h0m-.2-.1h0m.9-.1h0m-.9-.2h0m1-.1h0m-1 0h0m1.1 0h0m-.8-.4h0m.2 0h0m-.1-.8h0m.1 0h0m-.2-.2h0m4.8 3.9h0m.1 .3h0m-.4 .4h0m-1.1 .1h0m1.1 0h0m.6 .1h0m-.9 .2h0m-.8 0h0m.8 0h0m-1 .1h0m.1 .2h0m1.2 .1h0m.7 .1h0m.2 0h0m-.6 .1h0m-1.5 0h0m1.5 .1h0m-2 .1h0m2.2 0h0m-1.1 .2h0m-.1 .2h0m.5 .2h0m-1 .1h0m-.6 0h0m2.8 .1h0m-2.7 0h0m-.1 .4h0m2.5 .2h0m-2.4 0h0m1.1 .2h0m-1.1 0h0m.5 0h0m.4 .2h0m1.7 .2h0m-2.4 .2h0m.5 .3h0m.8 0h0m-1.2 .1h0m-.3 .1h0m1 .2h0m2.2-1.2h0m.8-.7h0m-.6-.1h0m-.1-.4h0m-.4 0h0m2.2 0h0m-.6 0h0m.5-.2h0m-1.2 0h0m1.2-.3h0m-1.1-.3h0m-.1-.2h0m.5 0h0m1.3 0h0m-2.5-.3h0m1.4-.1h0m-1.2 0h0m.2-.1h0m1.9 0h0m-.9-.1h0m1.2-.3h0m-2.6 0h0m1 0h0m1.4-.1h0m-.9-.2h0m.1-.3h0m.6-.1h0m-1.8 0h0m.6-.1h0m1.6 0h0m-2.1-.1h0m1.6-.5h0m-.2 0h0m-.1-.1h0m-1.1 0h0m.7-.2h0m1.1-.1h0m-.2-.1h0m-.6 0h0m3.9-1.3h0m-.3 .2h0m.1 .1h0m-1.9 .2h0m2 0h0m-.2 0h0m-.7 .1h0m.3 0h0m-1 .2h0m-1.1 0h0m.7 0h0m-.7 .1h0m2.6 .2h0m-.4 .1h0m-1.2 .2h0m-.7 0h0m2.3 0h0m-2.3 0h0m-.4 0h0m1.4 .2h0m.5 0h0m-.8 .3h0m-1.1 .1h0m2.1 0h0m-.1 .1h0m.2 .1h0m-1.9 .1h0m.1 0h0m1 .1h0m1.4 .2h0m-1.3 .3h0m-.8 0h0m.2 .1h0m-.5 .1h0m1.1 .2h0m-.5 0h0m.2 .1h0m-.5 .1h0m.1 .1h0m.6 .3h0m-.8 .4h0m2.8-1.9h0m.6-.2h0m0-.2h0m.2-.1h0m-.6-.6h0m.8-.1h0m-1 0h0m-.4-.2h0m.7 0h0m1.1 0h0m-1.1-.2h0m-.6 0h0m1 0h0m.2-.1h0m-.4-.1h0m-.7 0h0m2-.1h0m.1 0h0m-2-.1h0m.1-.2h0m.4-.1h0m1.7-.3h0m0-.1h0m0-.2h0m.1 0h0m-.4-.1h0m-.1-.1h0m.2-.2h0m.4-1.4h0m-.8-.4h0m.3-.6h0m.2-.5h0m.1-.2h0m-.6-.3h0m.5-.6h0m.1 0h0m.1-.4h0m-.3 0h0m0-.2h0m.2-.1h0m-.6-.3h0m-.1-.2h0m.9 0h0m.1 0h0m-.2-.1h0m-.1-.1h0m.3-.3h0m-.1-.2h0m-.9-.1h0m.1-.6h0m.1-.3h0m.4-.1h0m-.8-.8h0m.8 0h0m-.4-.1h0m0-.1h0m-.1-.1h0m-.4 0h0m1 0h0m-.1-.1h0m-.6-.3h0m.9-.3h0m-.7-.4h0m.4-.1h0m-1.1-.2h0m.1-.1h0m-.1 0h0m.9-.2h0m.2-.1h0m.3-.1h0m-.4-.1h0m-.9-.4h0m1-.5h0m-1.4 0h0m0-.2h0m1.3-.3h0m0-.1h0m.6 0h0m-1.8-.1h0m1.8 0h0m-.7 0h0m.7-.6h0m-1.4 0h0m.8 0h0m.3-.1h0m-.7-.1h0m-1 0h0m1-.1h0m-.1 0h0m.2-.4h0m-.1-.1h0m.7 0h0m-.8-.2h0m-.1-.1h0m-.4-.2h0m.1-.3h0m.1-.1h0m-.4 0h0m1.4-.2h0m-1.3 0h0m1.1 0h0m-.1-.3h0m0-.1h0m.5-.2h0m.2-.2h0m-1-.5h0m-.3 0h0m-.3 0h0m1-.7h0m.7 4.6h0m2.9 16h0m0 .1h0m3 10.2h0m-.8-1.1h0m0-.1h0m0-.1h0m-.3-.3h0m.5-.1h0m0-.2h0m.2 0h0m.2-.1h0m-.9-.3h0m.2-.4h0m-.3 0h0m.4-.2h0m-.3-.5h0m0-.1h0m.3-.2h0m-.1-.2h0m-.1-.1h0m-.3-.7h0m-.2-.3h0m-.6-.4h0m0-.2h0m.6-.5h0m-.2-.3h0m.1-.1h0m-.6-.1h0m.6-.2h0m-.3-.4h0m-.4-.1h0m.1-.4h0m-.2-.3h0m-.5-.9h0m.4-.1h0m.2-2.8h0m0-.2h0m1.5-.8h0m-.5-.3h0m-.7 0h0m2-.2h0m-1.8 0h0m-.1 0h0m.7-.1h0m1.1-.1h0m-1.1-.1h0m.4-.1h0m.5-.1h0m-.7-.3h0m.3-.2h0m.5-.5h0m2.7-9.4h0m-.5 .4h0m0 .1h0m0 .3h0m.3 .2h0m-.2 .1h0m.2 .1h0m-.1 .3h0m.2 .4h0m.6 .3h0m0 .5h0m-.4 .2h0m-.1 0h0m.1 0h0m-.4 .4h0m.1 .1h0m0 .1h0m.1 .1h0m.5 0h0m-.2 .1h0m-.3 .4h0m.4 .1h0m.2 .3h0m-.2 .5h0m-.2 .1h0m.4 .2h0m-.3 .1h0m.2 .2h0m-.8 1.3h0m.1 .2h0m-.1 .1h0m.6 .1h0m-.7 .4h0m.4 .2h0m.2 .1h0m-.6 .2h0m.5 .1h0m-1.2 .2h0m.8 .1h0m.9 .2h0m-2.1 0h0m-.2 .1h0m.7 .1h0m-.9 0h0m.5 0h0m1.2 0h0m-.6 .1h0m.8 .1h0m-1.7 0h0m1 0h0m-1.5 .1h0m1.3 0h0m.6 0h0m-1.5 0h0m1.2 .1h0m-.3 .1h0m-1.3 .3h0m1.4 0h0m-1.4 .1h0m.2 .3h0m.8 0h0m-.7 .3h0m-.4 11.1h0m0 .2h0m.1 .2h0m-.1 .7h0m.5 .3h0m-.3 .3h0m.5 .1h0m-.1 .1h0m.4 0h0m-.2 .2h0m.4 .3h0m-.8 .1h0m0 .1h0m-.1 .2h0m.6 .4h0m-.1 .3h0m-.8 .1h0m.8 .1h0m-.7 0h0m.5 0h0m.7 0h0m-.3 .1h0m1 .4h0m-.1 0h0m-.2 .2h0m.5 .2h0m-1.8 0h0m.1 .1h0m-.1 .1h0m1.8 0h0m-.4 .1h0m.8 .3h0m-1.5 .1h0m-.6 .1h0m.4 .2h0m1.4 .1h0m-.5 0h0m-.2 .2h0m-.3 0h0m-.1 .1h0m-.2 .2h0m1.8 .1h0m-1.8 .2h0m.6 0h0m.5 .1h0m-.2 .1h0m.7 .6h0m.3 0h0m-.9 .1h0m.4 .1h0m.2 .1h0m-.3 .1h0m-.1 0h0m0 .2h0m-.4 .1h0m-.1 0h0m1.2 .3h0m-.2 .2h0m0 .3h0m.1 .2h0m.1 .7h0m-.2 .1h0m0 .5h0m3.1 8.7h0m-.2-.8h0m0-.2h0m-.1-.3h0m.3-.4h0m.1-.5h0m-.6-1.5h0m-.5-.2h0m.2-.2h0m.4-.1h0m-.7 0h0m.2-.2h0m0-.2h0m.2-.4h0m-1-.4h0m.1-.1h0m-.1 0h0m.5 0h0m1.3 0h0m-.5-.1h0m-.7 0h0m.9-.6h0m-.9 0h0m1-.1h0m-.7 0h0m-.3-.4h0m-1.2 0h0m1.9-.1h0m-1.1-.1h0m-.6-.2h0m-.5 0h0m1.4-.1h0m-.2 0h0m-1.2-.1h0m.5-.1h0m1.1-.2h0m.5-.4h0m-1.7-.1h0m1.1-.2h0m.8 0h0m-2.2 0h0m.2 0h0m1.4-.2h0m.2 0h0m-.3-.3h0m-1.2-.1h0m1.2-.2h0m-.6 0h0m.2-.1h0m0-.1h0m-1 0h0m.1-.1h0m1-.1h0m-.1-.2h0m-1.4-.3h0m.5-.2h0m-.2 0h0m.6-.2h0m-.2-.1h0m-.7 0h0m.5-.1h0m-.1-.2h0m0-.3h0m.4 0h0m-.3-.1h0m0-.1h0m.1-.1h0m-.6-.1h0m.1-.2h0m-.1-.2h0m.2-20h0m.4-.4h0m.2-.3h0m-.3-.3h0m.5-.1h0m-.1 0h0m-.1-.3h0m-.5-.2h0m-.2-.2h0m.8-.4h0m-.3-.1h0m-.2 0h0m.6-.7h0m-.5-.1h0m0-.6h0m-.2-.5h0m.2-.6h0m-.1-.6h0m-.2-.1h0m2.8 30.4h0m.5 .4h0m-.1 .5h0m-.4 .3h0m.4 0h0m-.4 .4h0m0 .1h0m.3 .3h0m.5 .2h0m.2 .2h0m1.2 .1h0m.1 0h0m-1.8 .2h0m-.2 .1h0m2 0h0m.4 0h0m-1 .2h0m.4 0h0m-.8 .1h0m-1.1 0h0m1.3 .5h0m1.4 .1h0m-2.9 .1h0m.6 0h0m.2 0h0m.6 .1h0m.3 .1h0m.5 .1h0m-.2 0h0m-1.3 .1h0m.5 0h0m-1 .1h0m.9 0h0m.9 .1h0m-.1 .1h0m-1.6 .2h0m1.1 0h0m-1 .4h0m2.5 0h0m-2.9 .4h0m2.5 .1h0m-1.7 .1h0m1.4 0h0m-1.6 .1h0m1.8 0h0m-.2 .1h0m.1 0h0m-.4 .1h0m-1 .1h0m.6 .1h0m-.6 .1h0m.6 .1h0m.3 .1h0m.2 0h0m-.4 .1h0m-1.1 0h0m1.4 .1h0m.7 .2h0m-2.5 .1h0m2.6 .1h0m-.2 0h0m-1.3 .1h0m-1.2 0h0m2.6 .1h0m-.9 0h0m-.6 .1h0m1.8 0h0m-1.7 .1h0m-.4 0h0m.2 .2h0m1 .2h0m.2 0h0m-.6 .1h0m.7 .1h0m-1.2 .5h0m1 .2h0m.3 .1h0m.1 .1h0m-.1 .2h0m-.2 0h0m.8-.7h0m.2-.3h0m0-.2h0m.1-.5h0m-.1-.2h0m-.2-.4h0m0-.5h0m0-1h0m.2-1.8h0m-.2-.6h0" stroke="#F8766D" stroke-width="1.2"/>
<circle cx="208.9" cy="132" r="1.6" fill="#111"/>
<circle cx="221.4" cy="128.3" r="1.6" fill="#111"/>
<circle cx="224.9" cy="130.3" r="1.6" fill="#111"/>
<text x="279.5" y="109" font-size="4.6" text-anchor="middle" font-weight="bold" fill="#222">1</text>
<path d="M245.2 145h0m.5-.1h0m-.3-.3h0m-.7-.1h0m.1-.1h0m-.4-.2h0m.8 0h0m-.7 0h0m.7 0h0m.6-.6h0m-.7 0h0m.6 0h0m-1.1 0h0m.3-.3h0m.5-.2h0m-1-.2h0m.4 0h0m.9-.1h0m-1.1-.3h0m-.6-.1h0m1.9-.4h0m-1.9 0h0m1-.1h0m-.9-.1h0m.6-.1h0m-.3-.1h0m-.3 0h0m-.3 0h0m.7-.1h0m.9 0h0m.5-.3h0m-1.4-.2h0m-.5-.7h0m1.6-.1h0m-.8-.1h0m.7-.1h0m0-.1h0m0-.1h0m-.4 0h0m.5 0h0m-.1-.2h0m-.5 0h0m-1 0h0m1.7 0h0m-.8-.3h0m.2 0h0m-.9-.1h0m1.6-.4h0m-1.5 0h0m.6-.1h0m.4 0h0m.6-.2h0m-.7 0h0m.1-.1h0m-1-1h0m1.2 0h0m-.2-.3h0m-.9 0h0m1.5-.2h0m-1-.2h0m.6-.2h0m-.5-.2h0m0-.2h0m-.2 0h0m.4-.1h0m-.2 0h0m.7-.2h0m0-.2h0m.6-.4h0m-.2 0h0m.6 .1h0m.4 .2h0m-.9 0h0m.7 .1h0m-.6 .2h0m1.1 0h0m-1.4 .1h0m1.1 0h0m-1 .1h0m.5 0h0m2.3 .1h0m-.6 .1h0m.6 0h0m-1.6 .3h0m1.2 .2h0m-2.2 .1h0m1.9 0h0m-.7 .2h0m-1.1 .3h0m2.2 0h0m.3 .1h0m-1.6 .5h0m-.9 .1h0m1.5 .1h0m-.1 0h0m1.1 0h0m-2.9 .2h0m2.3 0h0m-2.2 .1h0m1.3 0h0m0 .3h0m-1.1 0h0m-.2 .1h0m-.1 0h0m1 0h0m1.7 0h0m-2.2 .1h0m.1 0h0m-.4 .2h0m2.7 .1h0m-.5 0h0m-.2 .1h0m-1.6 .1h0m2.2 0h0m-2.1 .1h0m1.5 0h0m-1.8 .1h0m.5 0h0m1.9 0h0m-.4 .1h0m-1.8 0h0m2 0h0m-.1 .1h0m-.6 0h0m.3 .1h0m.6 .1h0m-2.7 .1h0m1.9 0h0m.2 0h0m-.1 0h0m-.5 .1h0m-.4 0h0m1.6 .2h0m.1 0h0m-2.6 .1h0m2.2 0h0m-1.1 .1h0m.6 .1h0m-.8 0h0m1.5 0h0m-1 .1h0m.1 0h0m-.9 0h0m.2 .1h0m.8 0h0m.6 0h0m-2.4 0h0m2.2 .2h0m-.6 .1h0m-.2 0h0m.5 .1h0m-2 .2h0m.1 .1h0m1.3 .1h0m-.6 .6h0m.8 .1h0m-1.4 0h0m.2 .1h0m-.2 0h0m.3 0h0m0 .1h0m.7 .1h0m1.6 0h0m-.1 .2h0m-2.3 .1h0m-.1 .2h0m.5 0h0m.3 .1h0m1.7 0h0m-1.2 .1h0m-1.3 .1h0m1.7 0h0m.4 1h0m.1 .2h0m-2.2 .1h0m1.4 .2h0m-1.2 0h0m1.3 .3h0m2.2-2.2h0m-.8 0h0m1.4-.1h0m0-.1h0m-1 0h0m.2-.2h0m-.1-.1h0m1.8 0h0m.2 0h0m-1.9 0h0m.2-.1h0m.6-.1h0m-1.3 0h0m.8-.1h0m0-.2h0m1.3 0h0m-2.3-.1h0m1.4 0h0m-.6 0h0m1.2 0h0m.5 0h0m-1.6-.1h0m.3-.2h0m.3-.2h0m.9-.2h0m-2.2-.1h0m.5 0h0m1.3-.1h0m.4 0h0m-.7 0h0m-.3-.1h0m-.4 0h0m-.4 0h0m.9-.1h0m-1 0h0m2.3 0h0m-1.1 0h0m-.6-.1h0m-.6-.1h0m1.5 0h0m.4 0h0m-.6 0h0m-1.2-.1h0m2.2 0h0m-2.9-.2h0m2.2 0h0m-.5-.1h0m-.7 0h0m1.5-.1h0m-.1-.1h0m-.7 0h0m-.1-.1h0m-1.3 0h0m1.5-.1h0m-.9 0h0m-.1 0h0m1-.1h0m1-.1h0m-2.3-.2h0m1.8-.4h0m-1.2-.2h0m-.9 0h0m.3 0h0m1.9-.1h0m-2.1 0h0m-.3-.1h0m1.8 0h0m.7-.1h0m-2.3-.1h0m2.2-.1h0m-.1-.1h0m-1.6-.1h0m1 0h0m.9-.4h0m-.9 0h0m-1.7 0h0m2.4-.1h0m-1.5 0h0m1.5 0h0m-2.4 0h0m2.4-.1h0m-2.2-.2h0m.2 0h0m1.1-.1h0m-.1 0h0m-.5-.1h0m.5-.2h0m.5 0h0m.9-.2h0m-.6 0h0m-.1-.2h0m.2-.2h0m-.4-.1h0m-.1-.2h0m-.2-.2h0m-.4-.2h0m1.7-.1h0m-.4-.5h0m3.1-.8h0m-1 .1h0m1.1 .1h0m-.5 0h0m.4 .2h0m-.8 .1h0m-1.7 0h0m1.7 0h0m-1 0h0m1.1 .1h0m-1.3 .1h0m-.6 .1h0m2 .1h0m-1.9 .2h0m-.1 0h0m.3 .1h0m2.5 0h0m-1.6 .1h0m1.7 .1h0m-1.2 0h0m.7 0h0m-1.1 .2h0m-.9 0h0m2 .1h0m-2.4 0h0m1.5 .2h0m.1 .2h0m-.9 .1h0m.8 0h0m.8 0h0m-1.5 .2h0m1 0h0m-1.5 .2h0m1.4 .1h0m.9 0h0m.3 .2h0m-.9 0h0m-1.9 .3h0m.4 .2h0m2.2 0h0m-2.1 .1h0m-.4 0h0m2.6 0h0m-2 .1h0m1 .1h0m0 .1h0m-.7 .2h0m-.3 0h0m.1 .1h0m.3 0h0m1.1 .1h0m-.2 .1h0m-2 0h0m1.7 0h0m.8 .2h0m-2.4 0h0m2.7 0h0m-1.8 0h0m-.2 .1h0m-.3 .1h0m.3 .3h0m.6 0h0m.5 .1h0m-1.5 .1h0m.4 .1h0m1.7 .3h0m-.6 0h0m.6 0h0m-.8 0h0m-1.6 0h0m1.9 .2h0m-1.5 0h0m.8 0h0m-.4 .1h0m1.2 0h0m.2 .2h0m-1.6 0h0m2.1 .2h0m-.5 .1h0m.5 0h0m-.2 0h0m-.9 .1h0m.9 0h0m-.6 .1h0m-1.7 .2h0m1.4 0h0m-1.7 .1h0m2.2 .1h0m-.2 .1h0m-1 .1h0m.2 0h0m-.2 0h0m-.2 .3h0m-.5 0h0m.7 .2h0m-1.1 .5h0m3.9-2.1h0m-.9 0h0m.8 0h0m-.8-.1h0m.1 0h0m1.7-.1h0m.2-.2h0m-.1-.1h0m-1 0h0m0-.1h0m-.4-.1h0m2.3 0h0m-.9 0h0m-.9-.1h0m-.3-.1h0m-.6 0h0m2.4-.1h0m-.5 0h0m.8 0h0m-1.5 0h0m-1.3-.1h0m2.8-.1h0m-.9 0h0m-1.1-.1h0m.6-.2h0m1.4 0h0m-2.4-.1h0m1.3-.2h0m.6-.1h0m-1.1 0h0m.1-.1h0m-.6-.1h0m1.7-.1h0m-1 0h0m-1.3-.1h0m2.5 0h0m-2.3-.1h0m.5 0h0m-.6-.1h0m1.7-.1h0m-.9 0h0m1.1-.2h0m-.5-.1h0m-.9-.1h0m1.8-.1h0m.3 0h0m-.1 0h0m-1.8-.1h0m-.5 0h0m2.2 0h0m.3-.2h0m-1.6-.1h0m-.4-.1h0m.4 0h0m-.7-.2h0m2.1 0h0m-1.8-.1h0m1.4-.2h0m-1.3 0h0m1.7 0h0m-1.6-.4h0m-.2 0h0m1.1 0h0m-1.3 0h0m2.2-.1h0m-2.6 0h0m1.1 0h0m1.3-.1h0m-2.2-.1h0m-.3 0h0m.1 0h0m.6 0h0m1.7-.1h0m-.8-.1h0m.7-.1h0m-1 0h0m.8-.2h0m-1 0h0m.8 0h0m.6 0h0m-.7-.2h0m.7 0h0m-1.3 0h0m-1.1-.1h0m1.3 0h0m.9-.1h0m-.3-.1h0m-.5 0h0m-.6 0h0m-.4 0h0m-.4-.1h0m1.7 0h0m.5 0h0m-.2 0h0m-.1-.2h0m-2-.1h0m-.2-.1h0m.2 0h0m.6-.1h0m1.4 0h0m-1-.1h0m1.4-.1h0m-.6-.1h0m-.4 0h0m1.1 0h0m-.2-.2h0m3.1-.7h0m.1 .2h0m-1.7 .1h0m-.4 .1h0m.2 0h0m1 0h0m.4 0h0m-.8 0h0m.6 .1h0m-.2 .1h0m.3 0h0m.3 .4h0m-.1 .4h0m-2.2 0h0m2 .1h0m-.3 .3h0m.3 0h0m-.5 .1h0m1 0h0m-.6 .1h0m-.3 .1h0m.3 0h0m-.5 .1h0m.9 0h0m.4 .1h0m-1 0h0m.9 .2h0m-2.5 .1h0m2.3 .1h0m-1.6 .1h0m-.9 0h0m2.7 .1h0m-.1 0h0m-2.6 .1h0m1.7 0h0m-1.6 .1h0m2.8 .1h0m-2.1 0h0m1.4 .1h0m.7 0h0m-1.4 .1h0m-.2 0h0m-.4 .1h0m1.2 .1h0m-.6 .1h0m1.4 .1h0m-1.8 0h0m-.2 .2h0m.4 0h0m1.5 .1h0m-2.2 .1h0m.3 0h0m.5 0h0m-.8 0h0m-.1 .1h0m.3 0h0m-.7 0h0m.4 .1h0m2 .1h0m-1.2 0h0m-1.3 .1h0m.6 .1h0m.3 0h0m.7 0h0m.2 .2h0m.3 0h0m-1.3 0h0m.2 .1h0m-.9 0h0m2.7 .1h0m.1 0h0m-2.1 0h0m1.1 0h0m-.7 .1h0m-1.2 0h0m1.3 .1h0m-.9 0h0m1.4 0h0m.3 .2h0m.5 0h0m-.5 .1h0m.3 0h0m.1 0h0m-.2 0h0m-.3 .2h0m.1 0h0m-1.6 0h0m1.3 .2h0m-1 0h0m-.8 0h0m.1 .3h0m3.2-1.2h0m.2-.3h0m.8-.6h0m-.8-.1h0m.8 0h0m-1-.1h0m1.1 0h0m-.2 0h0m-.8 0h0m1.1-.1h0m.2 0h0m-1 0h0m-.4 0h0m.6-.2h0m-.4 0h0m-.2 0h0m1.7-.1h0m-1.6-.1h0m1.4 0h0m-1.3-.1h0m-.5-.1h0m.9 0h0m.4 0h0m.3 0h0m.5-.1h0m-1.8-.2h0m2.3 0h0m-1.6 0h0m1.7 0h0m-1.1-.1h0m-.2 0h0m-.3-.2h0m1.8 0h0m-1.8 0h0m.2-.1h0m.5 0h0m-.7-.1h0m.6 0h0m.5-.1h0m-2.1-.1h0m2.1-.1h0m-.2 0h0m-1.4-.1h0m2.3 0h0m-.9 0h0m-1-.2h0m-1-.1h0m2.6 0h0m-2.3-.2h0m2.2 0h0m-2.2 0h0m2-.1h0m.3 0h0m.2-.2h0m.1-.4h0m-2.1 0h0m1.8 0h0m.1-.1h0m-1.7 0h0m1.5-.1h0m-2.2 0h0m.8-.1h0m1.7-.5h0m-2.4 0h0m2.2 0h0m-.4-.2h0m-.4 0h0m-.8-.1h0m.9 0h0m3.5-6.3h0m.1 0h0m-.9 .2h0m.1 .1h0m.6 .3h0m-.7 .6h0m1.2 .1h0m0 .3h0m-.4 .5h0m0 .2h0m.3 .3h0m-.2 .4h0m.2 .3h0m-.2 .1h0m-.5 2.3h0m0 .2h0m-.1 .2h0m.4 .1h0m-1.5 .1h0m-.5 .2h0m.4 .2h0m1.1 .2h0m-1.2 .1h0m0 .1h0m.7 0h0m-.8 0h0m.5 .3h0m.6 0h0m-1.2 .2h0m-.4 .1h0m.3 0h0m-.2 0h0m1.4 .2h0m-.9 .1h0m-.2 .6h0m.3 .1h0m.1 .1h0m-.7 .3h0m4.2 .1h0m.3 0h0m-.2-.4h0m.1 0h0m1.3-.2h0m-1.7-.2h0m.4-.1h0m1.1-.3h0m-1.5-.1h0m0-.1h0m1.3-.3h0m-.5 0h0m0-.2h0m-1 0h0m.4-.1h0m-.2-.2h0m1.1 0h0m-.2-.2h0m-.4 0h0m-.2-.1h0m.7 0h0m-.7-.1h0m.3-.1h0m-.1-.1h0m-1.6-.1h0m1.8 0h0m.8-.1h0m-.1 0h0m-2-.1h0m2.3 0h0m-1.4 0h0m1.3-.1h0m0-.2h0m-2.2-.2h0m1.8 0h0m-.4-.1h0m-.3 0h0m.6-.1h0m.5-.1h0m-.3 0h0m-1 0h0m1.5 0h0m-2.6-.1h0m.4 0h0m1.7-.1h0m-.9-.1h0m-.8-.1h0m2.2 0h0m-2.1-.1h0m1-.1h0m.2 0h0m.1 0h0m-1.5-.2h0m-.3-.2h0m2.1 0h0m.5-.1h0m-2.7-.3h0m.4-.1h0m-.6-.1h0m.2-.5h0m.2-.4h0m5.1-.3h0m.4 1.1h0m-2.4 .2h0m1.2 .1h0m-1.4 .1h0m2 .2h0m-.4 .1h0m.8 0h0m-.3 .1h0m.1 0h0m-2.2 0h0m-.2 0h0m.4 0h0m.3 0h0m2 .3h0m-.4 0h0m-1.3 0h0m1.1 .2h0m.4 0h0m-2.2 0h0m.2 .1h0m2.2 0h0m-2.4 0h0m-.1 .2h0m2.2 .1h0m-1.9 .4h0m1.8 .2h0m-.8 0h0m-.9 0h0m1.2 0h0m-.4 .1h0m.8 0h0m-.8 0h0m-.4 .1h0m1.8 0h0m-.2 .2h0m-1 .1h0m-1.3 0h0m.8 .1h0m1.6 .2h0m-1.6 .1h0m-1.2 0h0m2.5 .3h0m-1.5 .2h0m.2 .2h0m-.9 .1h0m1.2 .1h0m-.7 0h0m1.2 0h0m-1.6 0h0m-.2 .3h0m3.4-1.3h0m-.2-.2h0m.2-.1h0m-.1 0h0m-.3-.4h0m2-1h0m-.4-.2h0m-1.5-.1h0m.4-.1h0m-.3 0h0m2.3-.2h0m-1.2-.1h0m1 0h0m-2-.1h0m1.4 0h0m.1 0h0m-1.8-.1h0m.4-.4h0m1-.5h0m1.3-.2h0m-1.6 0h0m1.4-.1h0m-.8-.1h0m.1-.2h0m.7-.2h0m-.5 0h0m.2 0h0m-1.6-.1h0m-.8 0h0m0-.1h0m.6 0h0m-.5 0h0m.7-.1h0m1.5 0h0m.3 0h0m-1.1-.1h0m.6-.1h0m-.2-.2h0m-.1-.1h0m1.9-.5h0m2.2 0h0m-.5 .6h0m-1.1 0h0m1 0h0m-.8 .7h0m-.2 0h0m-.5 .2h0m.9 .1h0m-.2 0h0m-.9 .2h0m.5 .1h0m.9 0h0m.2 .1h0m-.1 .2h0m.4 0h0m-1.1 .2h0m.7 0h0m-1.5 0h0m1.9 0h0m-2.2 .1h0m-.2 .1h0m1.9 .3h0m-1 0h0m-.8 .5h0m.1 .5h0m3.3-2.2h0m0-.1h0m-.1-.4h0m-.2 0h0m-.3-.2h0m1-.5h0m-.9-.1h0m0-.3h0m1-.8h0m-.4-.6h0m.1 0h0m0-1h0m-.2-.8h0m.2-.3h0m.1-.2h0m.2-.3h0m-.1-.3h0m.1-.5h0m-.2 0h0m-.1-.2h0m-.1-.7h0m-.1 0h0m.3-1.2h0m.2-.1h0m-.1-.1h0m-.2-.6h0m-.2-.1h0m.1-1.2h0m.1-.4h0m-.2-.6h0m.2-.1h0m0-.2h0m-.4-.3h0m.5-.5h0m0-.1h0m.3 0h0m-1-1h0m-.1-.1h0m.1-.2h0m.8-.1h0m-.7 0h0m-.1-.3h0m.4 0h0m-.2-.7h0m-.2-1h0m.1-.2h0m.5 0h0m-.4-.3h0m.8-.1h0m-.4 0h0m0-.1h0m-.1-.2h0m-.4-.1h0m-.2-.3h0m1.2-.2h0m-1.2-.3h0m0-.1h0m-.1-.1h0m.4-.4h0m.5 0h0m-.2 0h0m-.1-.2h0m5.1 18.5h0m-.9 .1h0m.7 .1h0m-.5 0h0m.7 0h0m.1 0h0m-.1 0h0m-1.1 .6h0m.2 .1h0m-.6 .6h0m.3 .2h0m-.1 .8h0m.2 0h0m-.2 0h0m.4 .1h0m-.4 .2h0m.3 .1h0m0 .1h0m.1 .1h0m.2 .3h0m-.1 .5h0m.5 0h0m-.6 .1h0m.2 .5h0m-.3 0h0m.8 .9h0m.3 .2h0m-.2 .2h0m-.2 .5h0m.5 .2h0m-.6 .5h0m.4 .1h0m.1 .1h0m-.2 .2h0m.3 .6h0m0 1.4h0m2.4 6.9h0m.1-.1h0m.1-.2h0m-.2-.5h0m-.2-.2h0m.5 0h0m-.7-.1h0m.1-.2h0m.6-.3h0m-.2-.1h0m.3-.2h0m-.4-.3h0m.2 0h0m-.9-.1h0m-.2 0h0m1.4 0h0m-.1-.2h0m.2-.4h0m-.3-.3h0m-1.5-.1h0m.8 0h0m.8-.1h0m-1.4-.1h0m1.4-.1h0m.1-.2h0m-.3-.1h0m.4-.1h0m-1.6-.2h0m-.1-.2h0m.8-.4h0m.6 0h0m.1 0h0m-.1 0h0m-2.1-.1h0m1.4-.1h0m-1.5-.1h0m.1-.1h0m1.9-.1h0m-1.6-.1h0m-.1 0h0m1.1-.1h0m.2 0h0m-.2-.1h0m-1.4-.1h0m1.8-.1h0m-.2-.1h0m.1-.2h0m-1.8 0h0m1.8-.2h0m-.4 0h0m-.2-.1h0m-.1-.3h0m-.6-.3h0m-.8-.1h0m1.6-.1h0m-1.6 0h0m.8-.2h0m-.3-.2h0m.9-.1h0m-.8-.2h0m-.1 0h0m.7-.2h0m-.9-.1h0m.3-.1h0m-.1-.4h0m-.5-.3h0m.8 0h0m-.6-.2h0m-.2-.1h0m.3-.5h0m-.3-.5h0m.2-6.3h0m-.1-.4h0m.1 0h0m.5 0h0m-.4 0h0m1-.2h0m.4-.1h0m-.6-.1h0m-.5 0h0m-.2 0h0m.9-.1h0m-.3 0h0m-1 0h0m1.3-.2h0m.2-.2h0m-.8-.2h0m.2-.1h0m.7 0h0m.7 0h0m-1.8 0h0m1.2-.3h0m.8-.1h0m.2 0h0m0-.2h0m.1-.1h0m-.6-.1h0m-.4-.2h0m.9-.6h0m.9-8.5h0m.5 0h0m-.2 .1h0m-.4 0h0m.2 .4h0m.4 .2h0m.2 .2h0m-.8 0h0m.8 .2h0m-.4 .1h0m0 .1h0m.3 .4h0m.1 0h0m-.6 .1h0m.8 0h0m-.1 .2h0m-.3 0h0m.3 0h0m-.5 .2h0m.1 0h0m-.3 .3h0m.1 .1h0m0 .1h0m.5 .5h0m-.4 .1h0m.7 .2h0m-.6 0h0m1 .2h0m-.4 .3h0m.2 0h0m.4 .1h0m-1 .1h0m.6 0h0m-.5 0h0m.7 .3h0m-.7 0h0m-.2 .3h0m0 .1h0m.6 .1h0m.2 .1h0m-.2 0h0m0 .1h0m-.3 .2h0m.8 .1h0m0 .1h0m-1 0h0m1.1 .1h0m-.6 .2h0m1.1 .2h0m-.7 .2h0m.8 .6h0m-1.7 0h0m1.3 .2h0m-.5 .2h0m-.8 0h0m1.3 .1h0m0 .3h0m-2 .1h0m.8 .1h0m-.6 0h0m.8 .3h0m.9 .1h0m-.1 0h0m-2.2 .4h0m.9 0h0m-.8 0h0m1.6 .2h0m-.3 0h0m-.2 .2h0m-.2 0h0m-.8 .4h0m0 15.1h0m.1 1h0m.4 .1h0m-.2 .2h0m-.1 .6h0m-.1 .1h0m-.4 .2h0m.1 .2h0m.1 .5h0m-.1 .2h0m.7 .2h0m-.2 0h0m-.4 .1h0m1.1 0h0m-.9 .1h0m.8 .1h0m.6 .3h0m-.4 .2h0m-.8 0h0m.9 0h0m-1.5 .1h0m2.3 .1h0m-.1 0h0m-1.6 .1h0m.1 .1h0m.3 .1h0m0 .1h0m-.8 0h0m.4 .1h0m.9 .3h0m.1 0h0m-1.4 0h0m2 .1h0m-1.1 0h0m-.5 .1h0m2.1 0h0m-1.8 .1h0m1.2 0h0m-1.8 .4h0m.4 0h0m1.3 .3h0m-.4 0h0m.5 .1h0m.1 .1h0m-1.1 0h0m1.8 .1h0m-.8 0h0m-1.3 0h0m1.6 .1h0m-.1 0h0m.3 0h0m-.5 .1h0m-.2 0h0m-.1 .1h0m.8 .2h0m-.7 .1h0m-.9 0h0m1.2 .1h0m-.9 .1h0m.9 0h0m.4 0h0m.1 0h0m-.9 .1h0m.9 0h0m-1.6 .1h0m1 0h0m.4 .2h0m-.5 0h0m.5 .3h0m-.6 0h0m-.5 .1h0m.8 0h0m-.8 0h0m.7 .1h0m-.8 .1h0m.6 .1h0m.8 0h0m-1.1 .1h0m-.3 .1h0m1.1 .3h0m-.4 0h0m-.4 .4h0m.3 .4h0m.3 .1h0m.2 .2h0m.5 .4h0m-.7 .3h0m.7 1h0m-.1 .3h0m2.5 5.9h0m.1 0h0m-.2-.2h0m0-.3h0m.3-.6h0m-.5-.1h0m.1-.2h0m-.4 0h0m.6 0h0m-1-.1h0m.8 0h0m.2 0h0m-.4 0h0m-.2-.1h0m1.2-.2h0m-1.6-.1h0m1.3-.2h0m-.8-.1h0m.7-.2h0m-.2 0h0m.3-.1h0m-2 0h0m2.2-.1h0m-.3-.1h0m-1.7-.1h0m.1-.1h0m1.9-.1h0m-.5 0h0m.3-.1h0m-.8-.3h0m.5 0h0m-.5 0h0m-.6 0h0m-.6-.1h0m2-.1h0m-1.8 0h0m2-.1h0m-1-.1h0m-.4-.1h0m-.3-.2h0m1.3-.1h0m.1-.1h0m.2-.1h0m-1-.2h0m.4 0h0m.2-.1h0m-.3-.1h0m-1.9-.1h0m1-.3h0m.4-.1h0m.2 0h0m-1.6 0h0m2-.1h0m-2-.2h0m2.3-.2h0m-.6-.2h0m.2-.1h0m.4-.1h0m-1.5-.1h0m.6 0h0m1 0h0m-1.2-.4h0m-1.1-.2h0m-.2-.1h0m2.4-.1h0m-1.4-.2h0m.7-.2h0m-1.2-.1h0m1.3-.1h0m.7 0h0m.3 0h0m-.1 0h0m-1.2 0h0m-1.2-.7h0m1.5-.2h0m.5 0h0m-1.5-.1h0m.3-.1h0m-.1 0h0m1.2-.1h0m0-.1h0m-.2-.1h0m-.1-.2h0m0-.1h0m-1.4-.1h0m1.2 0h0m0-.2h0m-.2-.1h0m-1-.1h0m-.3-.1h0m.9 0h0m-.3-.1h0m-.8-.3h0m.1-.3h0m.5-.1h0m-.4-.2h0m-.1-.6h0m0-23.6h0m2.9 27.4h0m.7 .7h0m-.1 .2h0m.6 .4h0m0 .1h0m-.2 0h0m.7 .4h0m.3 .3h0m-1.2 .1h0m-.3 .1h0m1.6 0h0m-1.7 .1h0m.4 0h0m.7 .1h0m-.6 0h0m-.5 0h0m1.1 .1h0m-.9 0h0m.2 .1h0m-.2 .3h0m1 .8h0m.2 .3h0m0 .2h0m-.6 .2h0m-.9 0h0m.6 .1h0m-.3 0h0m.1 0h0m1.3 .2h0m-.8 .2h0m.2 .2h0m-1.3 0h0m.3 .2h0m-.1 .1h0m1.7 .1h0m-.8 .1h0m1 0h0m-2.1 .1h0m1.8 .1h0m-1.7 .3h0m1.9 .1h0m-.4 .1h0m.1 0h0m-1.6 .4h0m0 .1h0m.8 .2h0m1 .6h0m-1.6 0h0m.2 .1h0m-.6 .1h0m2.1 .1h0m-1.7 .4h0" stroke="#B79F00" stroke-width="1.2"/>
<circle cx="267.6" cy="132" r="1.6" fill="#111"/>
<circle cx="280.1" cy="128.3" r="1.6" fill="#111"/>
<circle cx="283.6" cy="130.3" r="1.6" fill="#111"/>
<text x="337.5" y="109" font-size="4.6" text-anchor="middle" font-weight="bold" fill="#222">2</text>
<path d="M302.6 139.6h0m2.1 4.5h0m.7-.1h0m-1-.1h0m.6-.2h0m.7-.7h0m-.8-.4h0m.3-1h0m-.9-.5h0m1.4-.1h0m-2.4-.4h0m2.5-.2h0m-.9-.3h0m-1.9-.9h0m1.1-.2h0m-.5-.2h0m2-.8h0m-.1-.1h0m2.7-.8h0m.2 .2h0m-1 .2h0m.3 .1h0m.6 .2h0m.1 .4h0m.2 .2h0m-.5 0h0m-1.1 .2h0m-.4 .2h0m.8 0h0m.5 .2h0m.8 .1h0m-.9 .1h0m-1.1 .2h0m2.2 .2h0m-1.8 .1h0m.4 .1h0m-.3 .1h0m1.6 .1h0m-.7 .5h0m.3 .1h0m-1.8 .1h0m2.3 .2h0m-1.6 .2h0m1.2 .4h0m0 .1h0m-1.6 .2h0m.5 0h0m.2 0h0m.4 0h0m-.6 .2h0m0 .2h0m-.3 .1h0m.2 .2h0m-1.2 .4h0m.7 .8h0m-.8 .7h0m3.4-3.4h0m-.2-.1h0m.1-.3h0m0-.2h0m1.8-.1h0m.6-.1h0m-1-.1h0m.4-.4h0m-1.6 0h0m1.6-.1h0m-1.2 0h0m-.6-.2h0m2-.1h0m-1.2-.1h0m.2-.1h0m-1.2-.1h0m1.6 0h0m-.2-.4h0m0-.2h0m.5-.2h0m-.9-.1h0m1.7 0h0m-1.7-.3h0m-.6 0h0m1.3-.1h0m1.1 0h0m-1.8-.4h0m.8-.1h0m-.1-.1h0m-.5 0h0m1.2-.2h0m-1.7 0h0m-.4 0h0m1.3 0h0m-.3-.1h0m-.2-.1h0m-.4-.1h0m.9 0h0m-1-.1h0m1-.2h0m.3-.1h0m.1 0h0m.4-.1h0m1.5-.6h0m.4 0h0m.6 0h0m-.7 .1h0m.6 .3h0m-1.6 0h0m1.4 .1h0m.4 .1h0m-2.1 0h0m1.6 0h0m1.3 0h0m-2.4 .2h0m-.1 .1h0m2.4 0h0m-1.1 .1h0m-1 0h0m.9 .1h0m1.1 .4h0m.2 0h0m-2.3 .3h0m.4 0h0m.7 .1h0m1 0h0m-1.7 .1h0m-.8 .3h0m.4 .3h0m-.6 0h0m1.4 .1h0m-.2 .1h0m-.2 .1h0m1.6 0h0m-1.4 .1h0m1.7 .4h0m-1.9 0h0m-.8 .1h0m.2 0h0m-.1 .1h0m.4 0h0m.3 .5h0m-.4 0h0m-.6 0h0m4.1-1.1h0m-1.1 0h0m1.7 0h0m-1.2-.1h0m1.8-.2h0m-1-.1h0m.3-.2h0m-1 0h0m1.3-.1h0m.2 0h0m-.5 0h0m-1.1-.4h0m.9-.1h0m1.3 0h0m-1 0h0m.6-.1h0m-.9-.1h0m-1.2 0h0m2.4 0h0m-2-.1h0m0-.2h0m1.1-.1h0m-1.6 0h0m.5-.1h0m.1-.1h0m2-.3h0m-2.1 0h0m1.7-.1h0m-1.6-.1h0m.2 0h0m1.5-.2h0m-1-.1h0m-.1-.2h0m1.3 0h0m-.1 0h0m.2-.1h0m-2.3-.2h0m.5-.3h0m1.3-.1h0m-.1 0h0m.6 0h0m-.8-.1h0m.6-.1h0m-.5-.3h0m3.6-1.1h0m-.3 .2h0m.4 .1h0m-.3 .1h0m-1.2 .1h0m1.6 .2h0m-.8 .1h0m-1.7 .1h0m.3 .2h0m.5 .1h0m-1.1 .2h0m1.5 .1h0m-.6 0h0m.8 .1h0m1 .2h0m-2.7 0h0m2.5 0h0m-1.1 .2h0m.2 0h0m1.2 .1h0m-2.5 .2h0m.3 .1h0m-.6 0h0m2.8 .1h0m-2.4 .1h0m2.5 .2h0m-1.1 .2h0m-.3 .1h0m-.1 .1h0m-.3 .2h0m.4 0h0m-1.3 .6h0m0 .4h0m2.9-1.9h0m.5-.3h0m.3 0h0m-.6-.7h0m-.1-.1h0m2.2-.2h0m-.1-.1h0m-1.3-.1h0m1.5-.1h0m-2.2 0h0m2.6-.1h0m-.4-.2h0m-1 0h0m-1.4-.1h0m1.8-.1h0m.9-.2h0m-.6 0h0m.6-.1h0m-.2-.1h0m.2-.7h0m2-.5h0m1.1 0h0m-1.1 .3h0m-.7 0h0m-.5 .1h0m2.1 0h0m-1.4 .3h0m-.9 .2h0m-.1 .2h0m.7 .1h0m-.8 .3h0m2.5 .5h0m.2 .1h0m-.2 .1h0m.6 1h0m1-.6h0m0-.1h0m-1-.3h0m1.7-.1h0m-.1-.1h0m-1.2-.1h0m-.7-.1h0m1.3-.1h0m.3 0h0m-1.2-.1h0m1.7-.1h0m-.5-.1h0m-.2-.1h0m1.1-.1h0m-.6-.1h0m-1.5-.2h0m1.8 0h0m-.1-.3h0m-2 0h0m1 0h0m-.5-.4h0m.2-.1h0m.5 0h0m.9-.2h0m-.7-.2h0m1.2-.3h0m-1-.1h0m-.7 0h0m.6-.5h0m.3-.2h0m.5-.2h0m3.5-1.9h0m-.3 .4h0m-1.3 .2h0m1.5 0h0m-1 0h0m-.4 .1h0m.9 .2h0m.3 .1h0m-.1 .2h0m-.4 0h0m-.7 .5h0m-.7 .5h0m.2 .2h0m1.6 0h0m-.4 .2h0m-.1 .3h0m.1 0h0m-1.5 0h0m2 0h0m-1.7 .1h0m.3 .1h0m-1.1 0h0m2.5 .2h0m-1 .2h0m-1 .1h0m0 .1h0m1.6 .2h0m-1.8 1.3h0m3.4-2h0m.3-.8h0m.4-.1h0m-1.4-.1h0m.9 0h0m.9-.1h0m-.5 0h0m.2-.6h0m.4-.2h0m-1.3-.1h0m.7 0h0m.2-.1h0m-1.4 0h0m1.6-.1h0m-.9-.2h0m1.4 0h0m.1-.1h0m-1 0h0m1.5-.1h0m-2.9 0h0m.5 0h0m.7-.1h0m1.7 0h0m-1.7-.1h0m-.8 0h0m-.1 0h0m2.1 0h0m.5 0h0m-2.8-.1h0m1.3-.3h0m-1.4-.1h0m1.4 0h0m1.4 0h0m-1 0h0m-1.5-.1h0m1 0h0m1.2-.2h0m3.1-18h0m.1 .2h0m-.8 .1h0m0 .1h0m.7 0h0m-.1 0h0m-.8 .1h0m.7 .1h0m.2 0h0m-.7 .2h0m-.8 0h0m.4 0h0m.4 .1h0m.3 0h0m.4 0h0m-1.3 .1h0m1.1 .1h0m.4 0h0m-.4 .1h0m.1 0h0m.1 .1h0m.2 .2h0m-.4 0h0m-.4 0h0m.5 .1h0m-1.3 .4h0m.3 .1h0m1.2 .1h0m-1.6 .1h0m.3 .1h0m1.1 0h0m-.6 .7h0m.7 .1h0m-.8 0h0m-.1 .1h0m.9 .1h0m-.6 .1h0m.3 0h0m.4 0h0m-1.1 0h0m-.4 .1h0m.1 .3h0m.5 0h0m.8 .3h0m-.9 .1h0m.6 .1h0m.3 0h0m.2 .1h0m-.7 .2h0m.6 0h0m-.5 .3h0m.7 0h0m-1.3 .1h0m.7 0h0m.1 0h0m.2 .1h0m.3 .2h0m-.9 0h0m.3 .1h0m.3 0h0m0 .1h0m.3 .1h0m-1 .1h0m.1 0h0m-.3 .1h0m.4 .3h0m-.4 0h0m.3 .1h0m-.4 .1h0m1 .1h0m-.1 .2h0m.4 .1h0m-.4 .1h0m-.6 .2h0m.1 .4h0m.1 .1h0m.7 0h0m-.5 .6h0m.4 .2h0m0 .1h0m-.5 .1h0m-.1 .1h0m.8 0h0m-.7 0h0m0 .7h0m.6 .3h0m-.6 .2h0m.1 0h0m.4 .4h0m-.2 .2h0m.2 .1h0m-.6 0h0m0 .3h0m0 .2h0m.6 .2h0m-.3 .2h0m.3 .3h0m-.4 0h0m.4 .4h0m-.6 .2h0m.1 .2h0m.4 .4h0m-.2 .1h0m-.1 .1h0m-.1 .1h0m0 .1h0m.7 .8h0m-.5 1.1h0m.4 0h0m-.4 .4h0m.4 .1h0m-.4 .2h0m.2 .6h0m.1 .2h0m-1.7 .5h0m-.6 .1h0m2.1 0h0m-2 .2h0m1.8 .2h0m.1 .1h0m.1 .1h0m-1.4 0h0m-.2 .1h0m-.4 .1h0m-.1 0h0m2.1 0h0m-1.7 0h0m1.8 .1h0m-1 .1h0m-.9 .2h0m1.4 .1h0m-1.9 0h0m1.7 0h0m-1.1 .3h0m-.3 .1h0m-.4 .1h0m1.2 .1h0m-1 0h0m.4 .1h0m-.7 .3h0m.8 0h0m-.8 .4h0m3.2-4.2h0m-.2-.2h0m0-.1h0m.2-.3h0m-.1-.1h0m0-.1h0m0-2.3h0m.1-.8h0m-.2-1.4h0m.2-.6h0m-.2-.2h0m0-.3h0m0-.1h0m0-.1h0m.2-.6h0m-.2-1.1h0m.2-.1h0m.1-.3h0m-.1-.7h0m0-.3h0m-.2-.5h0m.3-.3h0m-.2-.1h0m.3-.5h0m-.2-.4h0m-.1-.1h0m.3-.5h0m-.2 0h0m.2-.1h0m-.1 0h0m-.1-.2h0m.2-.4h0m-.4-.8h0m.2-.2h0m.2-.3h0m-.3-.1h0m-.1-.4h0m.4-.3h0m-.2-.2h0m0-.1h0m5.7 16.1h0m-.3 0h0m0 .2h0m.1 0h0m-.5 .2h0m-.2 .5h0m.8 .2h0m-.9 .1h0m-.6 .1h0m1 .1h0m-1.2 .1h0m.1 .1h0m1.1 0h0m-.1 0h0m-.3 .1h0m-.3 .2h0m-.6 .1h0m0 .1h0m-.3 .6h0m-.2 2.3h0m-.1 .1h0m.1 .4h0m.9 2.6h0m.1 .1h0m4.3 11h0m-.1-.6h0m.2-.4h0m-.4-.1h0m-.1-.2h0m.2-.7h0m-.8-.6h0m.2-.1h0m-.1-.6h0m.1-.2h0m-.1-.4h0m0-.1h0m-.7-.1h0m-.4-.5h0m.6-.1h0m.2 0h0m-.8-.8h0m-.2-.4h0m.1-.4h0m.1-12.4h0m.1-.2h0m-.3-.1h0m.1-.1h0m0-.2h0m.9-.1h0m-1.5-.1h0m1.2-.1h0m.4 0h0m-1.7 0h0m1.4-.2h0m-.3 0h0m-.9 0h0m.7 0h0m1-.2h0m.4-.1h0m-1.6 0h0m1.4-.2h0m.3-.1h0m-1.5 0h0m1.8-.3h0m-.9 0h0m.7-.4h0m.1 0h0m.3-.3h0m-.9-.1h0m.2 0h0m.7-.4h0m0-.1h0m-.3 0h0m.1-.4h0m.2-2.3h0m0-.3h0m-.1-1.4h0m-.3-.8h0m-.2-.7h0m.4 0h0m-.2-.1h0m.3-.2h0m-.1-.1h0m0-.9h0m.3 1.8h0m.5 .9h0m-.3 .5h0m.6 .5h0m-.2 0h0m-.2 .1h0m-.2 .2h0m.5 .1h0m-.5 .3h0m.6 .2h0m.3 .4h0m-.7 .3h0m.5 .1h0m.1 .1h0m-.3 .1h0m.4 .2h0m-.6 0h0m.3 .3h0m.3 0h0m.4 .3h0m-.6 0h0m.5 .2h0m-1.2 .4h0m.6 0h0m-.6 0h0m1.5 .4h0m-.2 .1h0m-1 0h0m.7 .1h0m-.4 .1h0m0 .1h0m.5 .2h0m-.4 .2h0m-.9 0h0m1 0h0m-.7 .2h0m-.3 .1h0m.1 .1h0m.2 .1h0m-.2 19.6h0m.5 .5h0m.2 .8h0m-.6 .2h0m.2 .4h0m.7 .3h0m.5 .5h0m-.2 .9h0m-.2 0h0m.4 .5h0m.8 0h0m-1 0h0m1.2 .4h0m-.5 .1h0m.6 .2h0m-.2 .1h0m.2 .3h0m-.3 .1h0m-.2 .3h0m.2 .1h0m.1 .3h0m.1 .5h0m2.7 7.2h0m.2 0h0m-.3-.1h0m.3 0h0m.3-.1h0m.1 0h0m-1 0h0m.3-.1h0m.6-.2h0m-.1-.1h0m-.4 0h0m-.4-.5h0m-.3-.2h0m.7-.2h0m-.2-.1h0m-1-.4h0m1.4 0h0m0-.7h0m-1.1 0h0m1-.1h0m-1.4-.3h0m1.4-.3h0m-1-.1h0m.6-.1h0m-.6-.1h0m-.1 0h0m.1-.1h0m-.5-.1h0m1.2-.1h0m-1.3 0h0m.5-.4h0m.1-.7h0m-.2-.1h0m.4-.1h0m-.2-.2h0m-.8-.1h0m-.5-.6h0m1-.5h0m-.6 0h0m-.2-.7h0m.4 0h0m-.2-.3h0m-.5-.2h0" stroke="#00BA38" stroke-width="1.2"/>
<circle cx="326.3" cy="132" r="1.6" fill="#111"/>
<circle cx="338.8" cy="128.3" r="1.6" fill="#111"/>
<circle cx="342.3" cy="130.3" r="1.6" fill="#111"/>
<line x1="183.4" y1="168.1" x2="183.4" y2="224.5" stroke="#333" stroke-width=".5"/>
<line x1="182.1" y1="168.6" x2="183.4" y2="168.6" stroke="#333" stroke-width=".4"/>
<text x="181.6" y="170.3" font-size="4.7" text-anchor="end" font-weight="bold" fill="#222">8</text>
<line x1="182.1" y1="181.9" x2="183.4" y2="181.9" stroke="#333" stroke-width=".4"/>
<text x="181.6" y="183.6" font-size="4.7" text-anchor="end" font-weight="bold" fill="#222">4</text>
<line x1="182.1" y1="195.3" x2="183.4" y2="195.3" stroke="#333" stroke-width=".4"/>
<text x="181.6" y="197" font-size="4.7" text-anchor="end" font-weight="bold" fill="#222">0</text>
<line x1="182.1" y1="208.7" x2="183.4" y2="208.7" stroke="#333" stroke-width=".4"/>
<text x="181.6" y="210.4" font-size="4.7" text-anchor="end" font-weight="bold" fill="#222">-4</text>
<line x1="182.1" y1="222" x2="183.4" y2="222" stroke="#333" stroke-width=".4"/>
<text x="181.6" y="223.7" font-size="4.7" text-anchor="end" font-weight="bold" fill="#222">-8</text>
<line x1="183.4" y1="224.3" x2="240" y2="224.3" stroke="#333" stroke-width=".5"/>
<line x1="193.5" y1="224.3" x2="193.5" y2="225.6" stroke="#333" stroke-width=".4"/>
<text x="193.5" y="228.6" font-size="4.7" text-anchor="middle" font-weight="bold" fill="#222">-10</text>
<line x1="205.8" y1="224.3" x2="205.8" y2="225.6" stroke="#333" stroke-width=".4"/>
<text x="205.8" y="228.6" font-size="4.7" text-anchor="middle" font-weight="bold" fill="#222">-5</text>
<line x1="218.1" y1="224.3" x2="218.1" y2="225.6" stroke="#333" stroke-width=".4"/>
<text x="218.1" y="228.6" font-size="4.7" text-anchor="middle" font-weight="bold" fill="#222">0</text>
<line x1="230.4" y1="224.3" x2="230.4" y2="225.6" stroke="#333" stroke-width=".4"/>
<text x="230.4" y="228.6" font-size="4.7" text-anchor="middle" font-weight="bold" fill="#222">5</text>
<text x="211.8" y="170" font-size="4.6" text-anchor="middle" font-weight="bold" fill="#222">3</text>
<polyline points="190.5,200.6 208.9,192.5 221.4,188.8 224.9,190.8 234.4,214.1 232.5,217.6" fill="none" stroke="#111" stroke-width="0.5"/>
<polyline points="221.4,188.8 221.7,177.9" fill="none" stroke="#111" stroke-width="0.5"/>
<polyline points="224.9,190.8 230.2,183.9" fill="none" stroke="#111" stroke-width="0.5"/>
<circle cx="208.9" cy="192.5" r="1.6" fill="#111"/>
<circle cx="221.4" cy="188.8" r="1.6" fill="#111"/>
<circle cx="224.9" cy="190.8" r="1.6" fill="#111"/>
<path d="M188.6 198.3h0m-1.1 .9h0m-.9 6h0m4.4-4.2h0m-1.3 0h0m1.7 0h0m-.1-.6h0m-.6-.3h0m.5-1h0m-.2 0h0m-2-1.3h0m5.8-.1h0m-.4 1.6h0m-1.8 .5h0m-.1 .8h0m2.5-.8h0m1.9-.9h0m-.2 0h0m.3 0h0m.5-.7h0m-2.5 0h0m.6-.2h0m5.2-1.7h0m-2.3 .7h0m2.6-.4h0m2.8-2.1h0m5.6 .7h0m.4-.3h0m-.2-.6h0m-.4-.5h0m.5-.5h0m0-.3h0m2.7-1.8h0m0 1.7h0m-2.2 .1h0m.9 .1h0m-.3 .2h0m.2 .6h0m-1 .5h0m.3 .4h0m3.3-1.8h0m-.4-.2h0m1.7-.5h0m-.6-.1h0m-.6-.8h0m-.1 0h0m1-1.1h0m-.7-.3h0m.2-.1h0m3.7-1h0m.4 .6h0m-.7 .1h0m1.1 .3h0m-1.6 .2h0m-.1 .1h0m0 .1h0m0 .2h0m2.3-.4h0m0-.2h0m0-.3h0m.2-.1h0m.9 0h0m-1-.7h0m.6 0h0m1.1-.1h0m-1.8-.1h0m.9-.2h0m1.3-.1h0m-.3-.1h0m.1-.1h0m-.2-.2h0m-.1-.5h0m.3-.2h0m.4 0h0m-.7-.1h0m.4-.2h0m.3 0h0m-.6-.4h0m.4-.4h0m-.6-.4h0m.2-.4h0m-.3-.1h0m.7 0h0m-.3-.1h0m-.2-.1h0m.4-.3h0m.2 0h0m-.8-.3h0m.5-.5h0m.1 0h0m-.4-.3h0m.3-.3h0m.3-.4h0m.1 0h0m0-.4h0m-.7 0h0m.5-.5h0m-.3-.6h0m.5-.1h0m-.4-.1h0m.1-.1h0m.3-.1h0m-.6 0h0m.6-.1h0m-1.1-.4h0m.5-.2h0m-.4-.2h0m1-.1h0m-.8-.1h0m-.1-.3h0m.5-.2h0m.3-.1h0m-.8-.3h0m.5-.3h0m-.4-.6h0m.2-.3h0m-.4-.4h0m-.3 0h0m0-.2h0m.7-.1h0m.1-.2h0m.7 0h0m-.4-.2h0m-.5-.2h0m-.4-.1h0m1.3-.1h0m-1 0h0m-.1 0h0m.3-.2h0m.1-.2h0m-.2-.1h0m-.7-.2h0m.6-.1h0m-.8 0h0m.7 0h0m-.7-.1h0m1.7-.2h0m-.3-.2h0m-.9 0h0m-.2-.1h0m.6-.1h0m-.3-.2h0m-.7 0h0m.1-.1h0m.1 0h0m1.3-.2h0m-1.6-.1h0m.9-.2h0m.3-.1h0m-.4-.2h0m.9-.3h0m.3 0h0m-1.7-.1h0m1.2-.3h0m-.8-.1h0m-.1-.1h0m1.1-.1h0m-1.5 0h0m1.5-.2h0m-.8-.1h0m-1-.1h0m1.1-.1h0m-1 0h0m1.7-.1h0m-.5-.1h0m-.4-.2h0m.6-.2h0m-.9-.3h0m-.5 0h0m.3-.1h0m.5 0h0m-.3-.1h0m.1 0h0m-.8 0h0m1.1 0h0m-.5 0h0m-.2-.1h0m.7 0h0m.7-.2h0m-.5-.1h0m-.2 0h0m-.4-.1h0m1.6 2.8h0m.1 .3h0m-.1 2.1h0m2.5 15.2h0m.1 .2h0m-.1 0h0m.2 .1h0m.2 .8h0m2.9 9.5h0m-.3-.6h0m.3-.9h0m-.6-.2h0m.2-.5h0m.2 0h0m-.6-1.4h0m.3-.8h0m-.7-.2h0m.5-.1h0m-.4-.3h0m.2 0h0m-.7-.3h0m0-.4h0m0-.2h0m-.2-.4h0m-.2-.5h0m.4-.2h0m-.1-.2h0m-.7-.4h0m.1-.2h0m0-.1h0m-.2 0h0m.3-.1h0m-.1-.2h0m0-.1h0m0-.2h0m-.3-.2h0m0-2.6h0m0-.2h0m.2-.5h0m.1 0h0m.6 0h0m-.1-.1h0m-.9-.1h0m.3 0h0m1.6-.2h0m-1.7 0h0m.6-.1h0m1.2 0h0m-.3 0h0m.4-.1h0m-.2 0h0m-.4 0h0m-1-.1h0m1.4 0h0m.2 0h0m.3-.1h0m-1.1-.1h0m-.8-.1h0m2.2-.2h0m-.4 0h0m-1.2 0h0m.6-.2h0m-.8 0h0m1.4-.2h0m-1.2-.1h0m1.1-.2h0m-.3 0h0m.1-.1h0m-.2-.3h0m.8 0h0m-1.1-.1h0m.4 0h0m.6 0h0m-.3 0h0m-.2-.1h0m-.3-.1h0m.7-.6h0m3-9.2h0m-.4 .4h0m-.1 .1h0m.1 .1h0m.1 .4h0m.5 .1h0m-.9 .1h0m.4 0h0m.1 .8h0m-.4 .2h0m.7 .2h0m-.5 .3h0m.7 .1h0m-.1 .1h0m-.2 0h0m-.1 .1h0m-.2 .1h0m.6 .1h0m-.5 .2h0m.5 0h0m-.7 .1h0m.1 .1h0m-.1 .2h0m.7 .2h0m-.3 .1h0m.2 0h0m-.6 .8h0m.8 0h0m0 .5h0m-.2 .1h0m.2 .2h0m-.6 .4h0m-.1 .1h0m.5 .1h0m-.3 .1h0m.3 .1h0m-.1 .2h0m-.5 .2h0m.6 .1h0m.2 .1h0m-.2 .1h0m-.1 0h0m-.4 .3h0m.5 .1h0m-.3 .1h0m0 .1h0m-1.7 .4h0m2.2 .1h0m-1.4 0h0m1.3 .1h0m-1.8 0h0m.7 0h0m-1 .1h0m.7 0h0m.8 .1h0m-.2 0h0m-1.6 .1h0m1.4 0h0m-1.3 .1h0m-.1 0h0m-.3 .1h0m2.4 .1h0m-1.3 0h0m-.6 0h0m.2 .1h0m.1 .1h0m1.1 0h0m.7 0h0m-1.1 0h0m1.1 .1h0m-.4 0h0m-1.3 .1h0m-.9 .3h0m2.4 .1h0m-.9 .4h0m-1.4 .3h0m.1 .1h0m-.1 0h0m.5 .1h0m-.6 11.2h0m.2 .7h0m-.1 .4h0m0 .6h0m.4 .1h0m.3 .1h0m-.6 .1h0m.3 0h0m-.5 .1h0m1.1 .9h0m-.2 .1h0m-.2 .1h0m.2 .1h0m.8 .4h0m-.5 .2h0m.4 0h0m-.3 0h0m-.3 .2h0m-.5 .5h0m1 .2h0m.6 .2h0m-1.5 0h0m1.7 0h0m-1.4 .1h0m.7 .1h0m-.8 .1h0m1 .1h0m-.7 .2h0m.4 .4h0m1 0h0m-.1 .3h0m.2 .1h0m0 .1h0m-1.2 .2h0m-.1 0h0m.6 .4h0m.1 .3h0m.8 .7h0m-.1 .1h0m-.3 .5h0m.3 0h0m-.3 .1h0m.4 .7h0m-.2 .5h0m2.8 9.5h0m.2-.2h0m.1-.4h0m-.5-1.1h0m0-1h0m.6-.8h0m-.4-.3h0m.3 0h0m-.4 0h0m.3-1.4h0m-.3-.1h0m-.2-.1h0m-.4 0h0m1.1-.1h0m-1.2-.1h0m.6-.1h0m.1-.1h0m.3 0h0m-.5 0h0m-.4-.1h0m-.3-.6h0m-.3 0h0m.1-.1h0m.3 0h0m-.5-.1h0m.7-.1h0m.8-.1h0m-.1-.1h0m-1.4 0h0m1-.1h0m-1.1-.1h0m1-.2h0m-.4 0h0m.9-.2h0m-.3-.3h0m.5 0h0m-.9-.2h0m.7-.2h0m-2.2-.1h0m1.1 0h0m-.3 0h0m.5-.1h0m-.7-.2h0m.4 0h0m-.8 0h0m-.1-.2h0m.8 0h0m-.7 0h0m.5-.4h0m.9-.1h0m-1.9-.1h0m1.4-.1h0m.1 0h0m-.6-.1h0m.8 0h0m-.9-.1h0m.8-.2h0m-1.5-.7h0m1-.3h0m-.2-.5h0m-.6-.8h0m-.2-.4h0m0-19.5h0m.6-.3h0m.4-.7h0m-1.1-.4h0m1.2-.1h0m-.7 0h0m.5 0h0m-.9-.1h0m-.1-.1h0m.7-.1h0m.6-.1h0m-.6 0h0m0-.1h0m-.4 0h0m.1-.1h0m1.2-.1h0m-1.3-.1h0m.3-.1h0m.3-.2h0m.1 0h0m.3 0h0m-.6-.1h0m.1 0h0m-.5-.4h0m-.1-.1h0m.6-.1h0m-.5-.3h0m.4-.1h0m.2-.1h0m-.3 0h0m-.4-.1h0m0-.5h0m-.1 0h0m.7 0h0m0-.1h0m-.6-.1h0m.2 0h0m-.4-.1h0m.7-.5h0m.1 0h0m-.3-.3h0m.2 0h0m-.3-.2h0m-.1-.5h0m-.1-.1h0m-.2-.6h0m3.4 31.9h0m.4 .1h0m-.6 .6h0m1.1 .1h0m-.2 .2h0m.1 .2h0m.2 0h0m-.9 .1h0m.3 .4h0m.5 0h0m-.5 .1h0m1.1 .3h0m-1.4 0h0m.5 .1h0m1.3 .1h0m-.7 .1h0m.8 .1h0m-1.7 .6h0m0 .2h0m1.5 .1h0m-2.2 0h0m1.4 .2h0m-.9 .1h0m2 .2h0m0 .2h0m-.6 0h0m-1.3 .1h0m-.4 .2h0m1.5 0h0m-.5 .1h0m1.2 .1h0m-1.8 0h0m-.4 .1h0m.2 .1h0m1.3 .1h0m-1.4 .1h0m1.8 0h0m-.9 0h0m1 .1h0m-2.1 .1h0m1.9 0h0m-1.8 .2h0m2.1 0h0m-.9 0h0m.9 .1h0m-1.3 0h0m-.6 .1h0m.1 .1h0m.9 0h0m1.4 .1h0m-1.4 .1h0m-.9 .2h0m-.1 .1h0m1.6 0h0m.8 0h0m-.7 .1h0m-1.2 0h0m.3 0h0m-.9 .6h0m.6 0h0m1.4 .2h0m-1 .3h0m-.2 .1h0m.9 .2h0m.1 .2h0m-.5 0h0m1.2 0h0m-2.4 .5h0m1.8 .3h0m-.3 .3h0m-1 0h0m1 .2h0m-.5 .1h0m1.6-.8h0m.6-.1h0m0-.7h0m-.3 0h0m.5-.4h0m-.4-.9h0m-.3-.1h0m.5-.3h0m-.4-.2h0m.4-.4h0m.1-.2h0m-.4-.2h0m-.2-.2h0m.5-.5h0m-.1-.7h0m-.5-.5h0m.3-.4h0" stroke="#00BFC4" stroke-width="1.2"/>
<circle cx="208.9" cy="192.5" r="1.6" fill="#111"/>
<circle cx="221.4" cy="188.8" r="1.6" fill="#111"/>
<circle cx="224.9" cy="190.8" r="1.6" fill="#111"/>
<line x1="242.1" y1="224.3" x2="298.7" y2="224.3" stroke="#333" stroke-width=".5"/>
<line x1="252.2" y1="224.3" x2="252.2" y2="225.6" stroke="#333" stroke-width=".4"/>
<text x="252.2" y="228.6" font-size="4.7" text-anchor="middle" font-weight="bold" fill="#222">-10</text>
<line x1="264.5" y1="224.3" x2="264.5" y2="225.6" stroke="#333" stroke-width=".4"/>
<text x="264.5" y="228.6" font-size="4.7" text-anchor="middle" font-weight="bold" fill="#222">-5</text>
<line x1="276.8" y1="224.3" x2="276.8" y2="225.6" stroke="#333" stroke-width=".4"/>
<text x="276.8" y="228.6" font-size="4.7" text-anchor="middle" font-weight="bold" fill="#222">0</text>
<line x1="289.1" y1="224.3" x2="289.1" y2="225.6" stroke="#333" stroke-width=".4"/>
<text x="289.1" y="228.6" font-size="4.7" text-anchor="middle" font-weight="bold" fill="#222">5</text>
<text x="279.5" y="170" font-size="4.6" text-anchor="middle" font-weight="bold" fill="#222">4</text>
<path d="M245.6 203.2h0m-.3-.3h0m-.2-.1h0m-.5-.1h0m1.2-.1h0m.1-.7h0m-.4-.1h0m.3-.2h0m-1.4-.2h0m.2-.3h0m-.5-.2h0m-.3 0h0m2.1-.1h0m-.2-.8h0m0-.3h0m0-1h0m-.3-.5h0m.2-.1h0m-.3-1.1h0m.5-.3h0m.7 .1h0m-.5 .7h0m.9 .2h0m.5 0h0m-1.1 .2h0m.6 .8h0m1 .2h0m-.8 .2h0m1.5 .1h0m.1 .1h0m.1 .1h0m.1 .4h0m-2.3 .3h0m2.3 0h0m-.4 .3h0m-.7 0h0m.6 .1h0m.2 0h0m-.2 .3h0m-1.3 .2h0m-.9 .3h0m2.4 0h0m-.4 .7h0m-1.4 .3h0m.3 .4h0m.2 .1h0m.9 .1h0m-1.3 .1h0m-.6 .1h0m.8 .1h0m-.9 .7h0m1.4 .2h0m-.8 .4h0m0 .6h0m2.2-3.1h0m.6-.4h0m.2 0h0m.2-.1h0m-.3-.1h0m.7 0h0m-1.1-.5h0m.1-.2h0m2-.1h0m.2 0h0m-2.1-.1h0m.2-.1h0m1.6 0h0m-.5-.1h0m1-.1h0m-.3-.2h0m-1.5-.2h0m-.4-.1h0m-.6-.1h0m1.5 0h0m.7-.1h0m-.9-.1h0m-.4 0h0m-.9-.1h0m1.1 0h0m1-.1h0m-.4 0h0m1.1-.2h0m.1 0h0m-2.2 0h0m2.1-.1h0m-1.4 0h0m1.4 0h0m.1-.2h0m-2.4 0h0m-.2-.1h0m.2-.1h0m2 0h0m.3-.2h0m-1.8-.1h0m1.9-.2h0m-.5-.4h0m.1-.1h0m3-1.2h0m.4 .3h0m-.3 0h0m0 .4h0m-.8 0h0m-.8 0h0m1.1 .1h0m-.9 .1h0m-.1 0h0m-.7 .1h0m-.2 0h0m2.1 0h0m-1 .1h0m1.3 0h0m-2.4 .1h0m1.7 .1h0m.6 0h0m-.5 0h0m-.9 .1h0m-.3 0h0m2.1 0h0m-1.1 0h0m-.9 .4h0m-.8 0h0m2.2 .1h0m.6 0h0m-1.5 0h0m.7 .1h0m-1.5 0h0m.7 .1h0m1 0h0m.2 .1h0m-.5 .1h0m-.3 .1h0m-1.1 .4h0m1.1 0h0m-.8 .1h0m1.6 .1h0m-.8 .1h0m-1.6 0h0m.3 0h0m1.2 .1h0m-.3 .1h0m-.8 .1h0m1.1 .1h0m-.9 0h0m1.6 .1h0m-.5 .2h0m-1.1 .3h0m3.4-1.3h0m.3-.2h0m-1.3 0h0m1.7-.2h0m-.3-.1h0m1.3-.2h0m-2.5-.1h0m.5-.3h0m1.8 0h0m-2-.7h0m2.1-.2h0m-.7 0h0m-1.7 0h0m.4-.1h0m.7-.1h0m.8 0h0m-1.9 0h0m2-.2h0m.3-.1h0m-.6-.1h0m0-.2h0m-1.3-.1h0m.1 0h0m-.2-.1h0m1.2 0h0m.8-.1h0m-1.1-.1h0m-.1 0h0m1.4-.5h0m2.6-.9h0m0 .2h0m-1.3 .3h0m.1 0h0m.5 .1h0m.6 0h0m-1.6 0h0m1.2 .1h0m-.3 0h0m-1.3 .1h0m.6 .1h0m1.5 .1h0m-2.3 .1h0m.5 .1h0m-.1 0h0m.9 0h0m.8 0h0m.1 .2h0m-.8 .1h0m.3 0h0m-.7 .2h0m1.7 .2h0m.1 0h0m-.7 0h0m-1.8 .1h0m-.1 .1h0m.6 0h0m-.4 0h0m1.1 .1h0m.1 .1h0m.6 .3h0m.2 .1h0m-2.2 .1h0m1.4 0h0m-.5 .1h0m.6 0h0m.1 .1h0m-1.7 0h0m3-1h0m.2-.3h0m1.2-.2h0m-1 0h0m1.1-.2h0m-1-.4h0m.6 0h0m.1-.2h0m-.8 0h0m1.2-.2h0m-.1 0h0m.6 0h0m-.4-.2h0m-1.3-.1h0m1.9-.1h0m-1.3-.1h0m.8-.1h0m-1.1 0h0m-.7 0h0m1.4-.2h0m.7 0h0m-.4-.3h0m1-.1h0m2.4-.9h0m-.1 .1h0m-.9 .4h0m.1 .1h0m-.6 .4h0m1.2 0h0m-1 0h0m.5 .1h0m-1.5 0h0m.4 0h0m-.1 0h0m-.3 .1h0m1.1 .1h0m-.1 .1h0m-.6 .3h0m-.3 .4h0m4-.5h0m1.1-.1h0m.5 0h0m-1.5-.1h0m.5-.2h0m.3-.3h0m-1.5-1.1h0m1.3-.1h0m-1.4-.1h0m1.3-.2h0m.3-.3h0m2.5-1.5h0m-.9 .6h0m1.8 0h0m-2 .1h0m1.5 0h0m-.4 .1h0m1 .3h0m-.9 .3h0m-1 0h0m-.1 .3h0m1.1 .1h0m1.3 .6h0m-2.8 .1h0m2.1 0h0m-.8 .4h0m.5 .2h0m-1.2 .2h0m4-2.2h0m-1.2-.1h0m.3 0h0m1.2-.1h0m.9-.2h0m-.1-.1h0m-.8-.1h0m-.7-.3h0m.6-.1h0m-1-.3h0m1.8-.1h0m-1.8 0h0m.4 0h0m.5-.8h0m.9 0h0m1.6-.7h0m-.4 .3h0m.7 0h0m.9 0h0m-1.6 .1h0m1.5 .2h0m.2 .1h0m-1.7 .1h0m.4 .7h0m.2 0h0m-1.2 .1h0m.3 .2h0m.7 .1h0m1.7-.9h0m.2-.6h0m.3-.1h0m-.2-.1h0m.7-.5h0m-.8-.3h0m.6-.9h0m.3-.7h0m-.2-.5h0m.2-.8h0m-.1-1h0m-.2-.7h0m.2-.2h0m-.3-.3h0m0-.8h0m.3-.7h0m-.1-.2h0m.2-.4h0m.1-.2h0m-.5-.4h0m-.1-.4h0m.2-.8h0m-.3 0h0m.4-1.7h0m-.6-.7h0m0-.4h0m.5-.2h0m.1-.6h0m.2 0h0m-.5-.1h0m-.4 0h0m.8-.8h0m-.8 0h0m.5-.2h0m-.5-.6h0m.8-.2h0m.1-.2h0m-.5 0h0m-.2 0h0m.3-.4h0m.3-.4h0m-.4-.3h0m-.4-.1h0m.2-.1h0m-.3 0h0m0-.4h0m.1-.1h0m.6-.2h0m.1-.1h0m-.8-.1h0m5.4 18.2h0m-.4 0h0m-.6 1.9h0m.7 2h0m.1 1.5h0m.1 .2h0m.5 .1h0m-.1 .4h0m2.9 9.6h0m.2-.3h0m0-.3h0m0-.1h0m0-.3h0m-.5-.3h0m-.2-.1h0m-.1 0h0m.7-.1h0m-.7-.1h0m-.2-.2h0m-.1-.3h0m.7-.1h0m.4-.2h0m-1.4-.4h0m0-.2h0m-.3-.4h0m1.1-.1h0m-.9-.1h0m1.1-.1h0m-.1-.3h0m-.8-.3h0m.5-.2h0m-.6-.1h0m.4-.2h0m.3-.2h0m-.5 0h0m.1-.2h0m-.8-.1h0m.8-.1h0m-.4-.5h0m.2-.1h0m-1.4-.3h0m-.1-.3h0m1.4 0h0m-.7-.2h0m-.2-.1h0m.4-.2h0m0-.2h0m0-.4h0m0-.1h0m-.5-.4h0m-.5 0h0m.3-.4h0m-.2 0h0m-.1 0h0m.2-.2h0m-.1-.9h0m-.1-6.6h0m.9-.4h0m.3-.6h0m-.2-.2h0m.1-.2h0m.8 0h0m-.2-.3h0m.7-.6h0m1.4-9.1h0m-.1 .1h0m.2 .2h0m.1 .4h0m-.2 .2h0m.3 .6h0m-.2 .8h0m.3 1h0m.7 .4h0m-.1 .2h0m-.1 .1h0m.2 .5h0m-.1 .3h0m.1 .1h0m0 .2h0m.2 .2h0m-.4 .1h0m.2 0h0m.2 .1h0m-.3 0h0m1.1 1.5h0m0 .1h0m-.7 .1h0m.4 .1h0m-.6 .3h0m0 .1h0m-1.2 .2h0m.8 .1h0m-1.1 .1h0m.9 .4h0m-.7 0h0m-.6 .3h0m.2 .3h0m.4 0h0m-.7 .2h0m0 15.4h0m.4 .3h0m-.3 .2h0m.3 .1h0m-.4 .9h0m.8 .3h0m.3 .7h0m-.9 .2h0m1.4 .2h0m-.2 .1h0m-.7 .1h0m.1 .8h0m-.3 .1h0m1.3 .1h0m-.1 0h0m-.3 .1h0m-.7 .1h0m.5 .3h0m-.8 0h0m1.3 .1h0m-1.1 .2h0m.9 0h0m.5 .2h0m-1.2 .1h0m1.6 0h0m.1 0h0m.2 .1h0m-1.9 0h0m1.4 0h0m-.1 .2h0m.1 .1h0m.4 .1h0m.2 .1h0m-.3 .2h0m-1.6 0h0m1.4 .1h0m-1.5 0h0m.9 .1h0m.5 0h0m-.4 .1h0m.4 0h0m-1 .1h0m.3 .1h0m1.2 .1h0m0 .2h0m-1.4 .2h0m.4 .2h0m-.4 0h0m.1 .1h0m.8 .1h0m-.3 .2h0m.8 .1h0m-.1 .2h0m-.3 1.1h0m0 .1h0m.5 .1h0m.1 .1h0m-.1 0h0m.1 1h0m-.2 .1h0m3.2 7.6h0m-.5-.6h0m0-.1h0m0-.2h0m.3-.3h0m-1.3-1h0m.4-.1h0m-.5-.3h0m1.3-.3h0m-1.3 0h0m1.3 0h0m-.3 0h0m0-.8h0m-.8-.1h0m1.2-.1h0m-.6-.1h0m.7-.1h0m-.7-.2h0m.8 0h0m-.6 0h0m-1.5 0h0m.3-.6h0m1.4 0h0m-1.3-.1h0m.2-.2h0m0-.4h0m0-.2h0m.2-.4h0m-.2-.1h0m.6-.2h0m.7 0h0m-1.2-.3h0m1.4-.1h0m-1.9-.2h0m1-.1h0m-.6-.1h0m-1.2 0h0m.9-.1h0m-.9-.1h0m1.4-.1h0m.8 0h0m-1.5-.1h0m-.2 0h0m.2-.1h0m-.6-.1h0m2.2 0h0m-2.2 0h0m1-.1h0m-.8-.1h0m1.4-.3h0m-.2 0h0m-.5-.1h0m.6-.1h0m0-.1h0m-1.3-.2h0m-.3-.5h0m1.1 0h0m-.9-.3h0m.4 0h0m-.1 0h0m.8 0h0m0-.2h0m-.7-.1h0m.5 0h0m-.2-.4h0m-.7-.2h0m-.2-.7h0m-.2-.3h0m3 4.8h0m0 .1h0m.9 .5h0m.7 .2h0m-1.6 .1h0m0 .5h0m1.1 .3h0m.1 0h0m.1 .2h0m-.7 .2h0m.3 .1h0m.8 .3h0m-.5 0h0m-.7 0h0m.8 .1h0m-.9 .7h0m.7 0h0m-.5 .1h0m.6 .1h0m-.4 .1h0m-.2 0h0m.8 0h0m-.7 .1h0m.2 .2h0m1 .4h0m-1.9 .2h0m.8 .1h0m.4 .1h0m-1 0h0m1.6 .2h0m-.2 0h0m-1.2 .1h0m.7 .2h0m0 .3h0m-.7 .4h0m1.2 0h0m-.6 .1h0m.1 0h0m.7 .2h0m-1.7 .5h0m.6 .1h0m-.1 .1h0" stroke="#619CFF" stroke-width="1.2"/>
<circle cx="267.6" cy="192.5" r="1.6" fill="#111"/>
<circle cx="280.1" cy="188.8" r="1.6" fill="#111"/>
<circle cx="283.6" cy="190.8" r="1.6" fill="#111"/>
<line x1="300.8" y1="224.3" x2="357.4" y2="224.3" stroke="#333" stroke-width=".5"/>
<line x1="310.9" y1="224.3" x2="310.9" y2="225.6" stroke="#333" stroke-width=".4"/>
<text x="310.9" y="228.6" font-size="4.7" text-anchor="middle" font-weight="bold" fill="#222">-10</text>
<line x1="323.2" y1="224.3" x2="323.2" y2="225.6" stroke="#333" stroke-width=".4"/>
<text x="323.2" y="228.6" font-size="4.7" text-anchor="middle" font-weight="bold" fill="#222">-5</text>
<line x1="335.5" y1="224.3" x2="335.5" y2="225.6" stroke="#333" stroke-width=".4"/>
<text x="335.5" y="228.6" font-size="4.7" text-anchor="middle" font-weight="bold" fill="#222">0</text>
<line x1="347.8" y1="224.3" x2="347.8" y2="225.6" stroke="#333" stroke-width=".4"/>
<text x="347.8" y="228.6" font-size="4.7" text-anchor="middle" font-weight="bold" fill="#222">5</text>
<text x="337.5" y="170" font-size="4.6" text-anchor="middle" font-weight="bold" fill="#222">5</text>
<polyline points="307.9,200.6 326.3,192.5 338.8,188.8 342.3,190.8 351.8,214.1 349.9,217.6" fill="none" stroke="#111" stroke-width="0.5"/>
<polyline points="338.8,188.8 339.1,177.9" fill="none" stroke="#111" stroke-width="0.5"/>
<polyline points="342.3,190.8 347.6,183.9" fill="none" stroke="#111" stroke-width="0.5"/>
<circle cx="326.3" cy="192.5" r="1.6" fill="#111"/>
<circle cx="338.8" cy="188.8" r="1.6" fill="#111"/>
<circle cx="342.3" cy="190.8" r="1.6" fill="#111"/>
<path d="M304.9 203h0m-1.9-.4h0m5.1-3.3h0m-.6 .7h0m-1.3 3.9h0m4-4.3h0m.6-.6h0m3.3-2h0m.4 .2h0m-2.4 .2h0m.1 .4h0m.1 .2h0m2.7 .5h0m4-2.1h0m-.5 .6h0m3.3-2.1h0m-.1-.8h0m2.2-.3h0m3.7-.2h0m-.6-.3h0m2 0h0m.4-.1h0m2.8-2.9h0m-1 1.8h0m-1 .2h0m3.1-1.8h0m4.7-16.7h0m-.2 .6h0m.7 .3h0m-.4 .8h0m.6 5.4h0m.1 5h0m-.2 .8h0m-.1 .1h0m-1.8 2.4h0m.5 .2h0m7.2-1.5h0m-2.1 4.2h0m2.7-4.3h0m.8-.6h0m.7-.3h0m1.9-5.9h0m.8 2.5h0m-.3 0h0m-.9 22.7h0m1 1.6h0m1.5 2.5h0m.2 .4h0m-.4 .4h0m-.2 .1h0m3.1 8.6h0m.3-2h0m-.2-1.7h0" stroke="#F564E3" stroke-width="1.2"/>
<circle cx="326.3" cy="192.5" r="1.6" fill="#111"/>
<circle cx="338.8" cy="188.8" r="1.6" fill="#111"/>
<circle cx="342.3" cy="190.8" r="1.6" fill="#111"/>
<text x="271.5" y="233.5" font-size="4.6" text-anchor="middle" font-weight="bold" fill="#222">Component 1</text>
<text x="172.3" y="165" font-size="4.6" text-anchor="middle" font-weight="bold" fill="#222" transform="rotate(-90 172.3 165)">Component 2</text>
<text x="372" y="126.2" font-size="4.8" font-weight="bold" fill="#222">Cluster</text>
<circle cx="374.3" cy="132.5" r="1.7" fill="#F8766D"/>
<text x="380.8" y="134.4" font-size="5.2" fill="#222">0</text>
<circle cx="374.3" cy="139.6" r="1.7" fill="#B79F00"/>
<text x="380.8" y="141.5" font-size="5.2" fill="#222">1</text>
<circle cx="374.3" cy="146.7" r="1.7" fill="#00BA38"/>
<text x="380.8" y="148.5" font-size="5.2" fill="#222">2</text>
<circle cx="374.3" cy="153.7" r="1.7" fill="#00BFC4"/>
<text x="380.8" y="155.6" font-size="5.2" fill="#222">3</text>
<circle cx="374.3" cy="160.8" r="1.7" fill="#619CFF"/>
<text x="380.8" y="162.7" font-size="5.2" fill="#222">4</text>
<circle cx="374.3" cy="167.9" r="1.7" fill="#F564E3"/>
<text x="380.8" y="169.8" font-size="5.2" fill="#222">5</text>
<text x="2.5" y="241.5" font-size="8.5" font-weight="bold">F</text>
<line x1="18.9" y1="243.5" x2="18.9" y2="343.6" stroke="#333" stroke-width=".5"/>
<line x1="18.9" y1="343.4" x2="131" y2="343.4" stroke="#333" stroke-width=".5"/>
<line x1="17.6" y1="244.5" x2="18.9" y2="244.5" stroke="#333" stroke-width=".4"/>
<text x="17" y="246.1" font-size="4.5" text-anchor="end" font-weight="bold" fill="#222">8</text>
<line x1="17.6" y1="268.8" x2="18.9" y2="268.8" stroke="#333" stroke-width=".4"/>
<text x="17" y="270.4" font-size="4.5" text-anchor="end" font-weight="bold" fill="#222">4</text>
<line x1="17.6" y1="293" x2="18.9" y2="293" stroke="#333" stroke-width=".4"/>
<text x="17" y="294.6" font-size="4.5" text-anchor="end" font-weight="bold" fill="#222">0</text>
<line x1="17.6" y1="317.2" x2="18.9" y2="317.2" stroke="#333" stroke-width=".4"/>
<text x="17" y="318.8" font-size="4.5" text-anchor="end" font-weight="bold" fill="#222">-4</text>
<line x1="17.6" y1="341.5" x2="18.9" y2="341.5" stroke="#333" stroke-width=".4"/>
<text x="17" y="343.1" font-size="4.5" text-anchor="end" font-weight="bold" fill="#222">-8</text>
<line x1="41.5" y1="343.4" x2="41.5" y2="344.7" stroke="#333" stroke-width=".4"/>
<text x="41.5" y="348.6" font-size="4.5" text-anchor="middle" font-weight="bold" fill="#222">-10</text>
<line x1="65.1" y1="343.4" x2="65.1" y2="344.7" stroke="#333" stroke-width=".4"/>
<text x="65.1" y="348.6" font-size="4.5" text-anchor="middle" font-weight="bold" fill="#222">-5</text>
<line x1="88.7" y1="343.4" x2="88.7" y2="344.7" stroke="#333" stroke-width=".4"/>
<text x="88.7" y="348.6" font-size="4.5" text-anchor="middle" font-weight="bold" fill="#222">0</text>
<line x1="112.3" y1="343.4" x2="112.3" y2="344.7" stroke="#333" stroke-width=".4"/>
<text x="112.3" y="348.6" font-size="4.5" text-anchor="middle" font-weight="bold" fill="#222">5</text>
<text x="79.5" y="353.2" font-size="4.6" text-anchor="middle" font-weight="bold" fill="#222">Component 1</text>
<text x="10.6" y="293" font-size="4.6" text-anchor="middle" font-weight="bold" fill="#222" transform="rotate(-90 10.6 293)">Component 2</text>
<polygon points="26.7,296 29,293.5 31.9,293.8 33.7,296.8 34.6,302.6 34.9,309.4 34.2,312.3 31.2,313.1 28.2,311.9 26,309.4 25.2,304.9 25.7,299.8" fill="#F8766D" stroke="#F8766D" stroke-width="1.2" stroke-linejoin="round"/>
<polygon points="66.3,276.7 69.3,276.9 70.5,280.5 71.7,283.5 72.3,287.2 70.5,287.6 68.5,284.5 67.3,281 66,278.5" fill="#C49A00" stroke="#C49A00" stroke-width="0.6" stroke-linejoin="round" opacity="0.8"/>
<polygon points="71.7,287.6 72.6,285.7 80.3,281 86,279.1 91.7,278.1 95.1,280 95.1,282.3 91.7,284.8 86,288.5 80.3,292.4 72.6,296.2 71.5,291.9" fill="#53B400" stroke="#53B400" stroke-width="0.6" stroke-linejoin="round" opacity="0.3"/>
<polygon points="101.2,282.9 105.1,278.1 109.8,274.3 111.7,270.5 110.8,264.9 110.8,260.1 112.7,260.1 115,266.8 115.5,270.5 116.9,273.4 115.5,276.2 110.8,279.1 106,282 102.2,284.8" fill="#00B6EB" stroke="#00B6EB" stroke-width="0.6" stroke-linejoin="round" opacity="0.8"/>
<polygon points="90.7,249.2 92.5,247.8 95.5,248 97.4,250.2 97.2,256.1 96.8,261.1 96.5,270.1 96.3,278 95.5,281.5 94,281.5 93.6,275 93.2,268.1 92.5,261.1 91,257.1" fill="#FB61D7" stroke="#FB61D7" stroke-width="0.6" stroke-linejoin="round" opacity="0.8"/>
<polygon points="100.5,284.8 101.6,284.8 108.9,300.8 116.5,316 123.2,323.6 127,326.5 126.4,338.8 121.3,339.2 116.5,334 115.5,329.3 110.8,317.9 105.1,304.6" fill="#A58AFF" stroke="#A58AFF" stroke-width="0.6" stroke-linejoin="round" opacity="0.7"/>
<polyline points="35.8,302.7 71,287.8 95.1,281.2 101.7,284.8 120,327.1 116.3,333.5" fill="none" stroke="#111" stroke-width="0.4"/>
<polyline points="95.1,281.2 95.5,261.5" fill="none" stroke="#111" stroke-width="0.4"/>
<polyline points="101.7,284.8 111.8,272.4" fill="none" stroke="#111" stroke-width="0.4"/>
<circle cx="71" cy="287.8" r=".9" fill="#111"/>
<circle cx="95.1" cy="281.2" r=".9" fill="#111"/>
<circle cx="101.7" cy="284.8" r=".9" fill="#111"/>
<path d="M104.5 279.1h0m0 1.3h0m-1.4 .2h0m.8 .5h0m-1.5 .5h0m1.6 1h0m-1 .6h0m.4 .5h0m3-2.2h0m-.3-.5h0m.5-.4h0m.6-.1h0m-1.3-.4h0m-.8-.2h0m.7-.4h0m.1-.2h0m-.2-.6h0m-.1 0h0m1.2-.2h0m-.5 0h0m.7-.2h0m-.3-.2h0m.6-.2h0m-.3-.1h0m-.2 0h0m-.9-.2h0m1.4-.4h0m.6-.7h0m-.4-.3h0m3.4-16h0m-.3 13.2h0m0 1.2h0m-.6 .3h0m.9 .5h0m-1.6 .4h0m.2 .1h0m.1 .5h0m-.4 0h0m-.4 .5h0m1.4 0h0m.5 .1h0m-.8 .4h0m.1 .2h0m-1.8 0h0m1.1 0h0m.4 .1h0m-1 .2h0m1.3 0h0m-1.2 .1h0m-.7 0h0m2.4 .1h0m-2.5 .3h0m.6 .5h0m-.2 1.2h0m3.7-2.3h0m.5-.6h0m-1.1-.2h0m.5-.5h0m-.2 0h0m1.6-.4h0m-2.1-.2h0m1.5-.1h0m.9-.5h0m-1.8-.1h0m1.7-.1h0m-.9-.8h0m-.8-.2h0m.2-.1h0m-.3-.9h0m1.5 0h0m-2.3-.1h0m.4 0h0m2.1-.5h0m-2.2-.3h0m.2-.2h0m-.4-.1h0m1.9-.3h0m.4 0h0m-.9-.1h0m-.4-1.4h0m.1-.4h0m1.7-.2h0m-1 0h0m-.4-.9h0m.5 0h0m-.9-.5h0m1.6-.2h0m-2.2-.7h0m1 0h0m1.1-.4h0m.1-.3h0m-.2-.1h0m-2-.8h0m1.3-.3h0m.4-.2h0m-.9 0h0m-.6-.1h0m2.2 0h0m-2-.5h0m1.6-.2h0m-2.3-.5h0m1.6-.1h0m-.4-.1h0m.3-.1h0m-.9 0h0m.9 0h0m.5-.2h0m-1.5-1.1h0m1.5 0h0m-2.2-.1h0m1.7-.4h0m-1.3-.5h0m-.3-.4h0m1.2-.2h0m.5-.2h0m1.5 5.7h0m-.2 .1h0m.4 .5h0m.3 0h0m-.4 .6h0m.6 .4h0m-.8 .2h0m.3 .2h0m.3 .1h0m-.7 .3h0m.8 .5h0m1.3 2.9h0m-1.1 .1h0m.8 .1h0m-.3 .1h0m-.2 .1h0m-1 .6h0m-.1 .4h0m.4 0h0m-.7 .3h0m1.2 .1h0m.2 .2h0m.8 .4h0m-2.1 .6h0m.7 .2h0m.6 0h0m-1 .6h0m.7 0h0m-.9 0h0m.5 .1h0m.1 0h0m-.2 .7h0m-.1 0h0" stroke="#00B6EB" stroke-width="1"/>
<path d="M91.7 248.7h0m.9 .4h0m.1 .7h0m-.5 .4h0m-.8 .6h0m-.2 0h0m1.5 .4h0m-.9 .5h0m-.8 0h0m.3 .4h0m1.3 1.1h0m.3 0h0m-1.4 1.1h0m.6 .1h0m0 .3h0m.7 .2h0m-1.1 .2h0m-.4 .5h0m.4 .2h0m1 .1h0m-.4 0h0m.5 2.9h0m-.2 .4h0m.1 2.4h0m2.5 19.6h0m.3-.1h0m-.1-3.2h0m-1.2-.4h0m1.1-.1h0m.5-.2h0m-.5-.8h0m-1-.1h0m0-.8h0m.3-.3h0m.1-.1h0m0-.5h0m-1.1-.7h0m.2 0h0m-.3-.7h0m.2-.5h0m1.8-.1h0m-.6-.1h0m-.6-.1h0m-.3-.5h0m1.5-.5h0m-1.4-.6h0m-.3-.2h0m1.1 0h0m-1.3-.4h0m.6-.1h0m-.7-.1h0m.9-.4h0m-.9-.2h0m2.1-.2h0m-1.8-.2h0m.9-.1h0m-.4-.1h0m1.3-.3h0m-1.7 0h0m.5-.6h0m.8-.3h0m-1-.2h0m-1.1-1h0m1.5-.4h0m-1.5-.1h0m1.2-.1h0m1.5-.2h0m-.4-.1h0m-1.9-1h0m.7-.4h0m.2 0h0m-.6-.3h0m-.1 0h0m1.3-.4h0m-1.7-.1h0m2-.5h0m-1.2 0h0m.3-.2h0m-.5-.4h0m-.5-.6h0m1.8-.1h0m.1-.3h0m0-1h0m.6-.2h0m-.2-.2h0m-.3-.6h0m-1.2-.6h0m-.3 0h0m1.9-.2h0m-2-.7h0m1.4-.1h0m-1.6-.5h0m.5 0h0m1.4-.2h0m.2-.3h0m-1.1-.3h0m-1.5-.9h0m.9-.2h0m1.6 0h0m-2.2-.7h0m2.5 0h0m-2.2-.1h0m.2-.3h0m1.8 0h0m-.7-.7h0m-.8-.2h0m-.9-.4h0m2-.1h0m-2.1-.1h0m2.3-.6h0m-.7-.2h0m-.3-.8h0m-.8-.1h0m1-.3h0m-.4-.8h0m1.6-.1h0m-2.4-.2h0m1.2-.2h0m-1.3-.5h0m1.7-.1h0m-1.9-.4h0m2.5 0h0m1.2 3.6h0m.3 .3h0m.1 .1h0m-1 .1h0m.1 .9h0m.2 .4h0m.3 .4h0m-.5 2.2h0m.4 .1h0m0 1.4h0m-.4 1.9h0m-.2 .4h0m.4 4.1h0m-.5 .9h0m-.1 1.7h0m.5 1.2h0m-.2 9.7h0m-.3 .5h0" stroke="#FB61D7" stroke-width="1"/>
<path d="M95.4 282.5h0m-.1-.3h0m-.3-.3h0m.8 0h0m.6-.5h0m-.4 .7h0m1.2 .2h0m-.4 .1h0m1.4 .1h0m-2.2 .1h0m.8 .4h0m.7 .2h0m-1.5 .1h0m1.4 .1h0m-.3 0h0m.2 .2h0m-1.1 0h0m2.3 .5h0m-.2 .1h0m-.8 0h0m3 0h0m-.2-.2h0m-.6-.1h0m.2-.2h0" stroke="#00C094" stroke-width="1"/>
<path d="M26.2 298h0m.1 .8h0m0 .6h0m.2 .6h0m.4 .1h0m-1 .3h0m.5 2h0m-.8 .6h0m.3 1.1h0m.3 .1h0m-.9 .1h0m1.3 .2h0m.2 1.2h0m-.2 .2h0m-.9 .1h0m.6 0h0m-.5 .3h0m.7 .8h0m-.5 .1h0m.7 .5h0m-.3 1.1h0m.5 0h0m-.3 1h0m2.8 2.4h0m.2-.1h0m.2-.9h0m-.1 0h0m-2-.4h0m.9-.3h0m-.2-.1h0m.9 0h0m-.4-.4h0m.6 0h0m-1.1-.1h0m-1.4-.1h0m.6-.2h0m2.2-.1h0m-.8-.1h0m-.3-.5h0m.4-.4h0m.2 0h0m-1-.6h0m-1-.2h0m2.6 0h0m-1 0h0m.3-.3h0m-.6-.2h0m.9-.1h0m-1.4 0h0m-.5-.2h0m.7-.1h0m1.3 0h0m-.3-.1h0m-1.8-.4h0m.1-1h0m2.1 0h0m-2.3 0h0m2.5-.9h0m-.2-1h0m-.9-.4h0m-1.4-.6h0m.6-.2h0m.5-.1h0m-1.3-.2h0m1.3-.3h0m-.1 0h0m-.4-.1h0m1.6-.2h0m-2-.1h0m2.3-.1h0m-.9-.4h0m.2-.6h0m-1-.1h0m-.4-.1h0m1.7-.6h0m-.7-.2h0m-.2-.2h0m-.7-.3h0m-.8-.6h0m.7-.6h0m1-1h0m-1.8 0h0m2 0h0m.7-.4h0m-1.8-.3h0m.7-.4h0m1.2 0h0m-2-.2h0m1.5-.3h0m-.7-.8h0m1.2-.2h0m1.9 .4h0m.5 .4h0m-.6 .2h0m.5 0h0m.5 .3h0m-2.4 .1h0m2.3 0h0m-1.2 .3h0m-.1 .6h0m-.6 .1h0m-.5 .2h0m2.4 .4h0m-2.3 .3h0m.9 .6h0m1.1 .3h0m0 .6h0m-1.7 .1h0m2 .1h0m-1.7 .1h0m-.5 .3h0m.4 .1h0m2.2 .3h0m-2.2 .2h0m-.3 0h0m1.1 .5h0m.9 0h0m-.7 0h0m-1.4 .5h0m.7 .1h0m1.5 .1h0m-.8 .1h0m.8 .3h0m0 .3h0m-1.7 .1h0m1.7 1h0m-.5 0h0m-.6 .4h0m-1.4 .3h0m1.5 .2h0m-.5 0h0m1.9 .2h0m-1 0h0m-.5 0h0m1.3 .2h0m-.9 .2h0m-.3 0h0m.5 .3h0m-1.1 .4h0m-.9 .1h0m.7 0h0m1.1 .2h0m-.6 0h0m-.3 .4h0m1 1.1h0m.5 .1h0m-1.9 .1h0m1 0h0m-.5 .2h0m-.3 0h0m2.2 .1h0m-2 .1h0m2 1h0m-1 .9h0m-1.6 .1h0m.3 0h0m1.1 .5h0m-.3 0h0m-1 .4h0m.8 .3h0m-.1 .4h0m1.5 .4h0m-2.4 0h0m.9 .1h0m.6 .3h0m-1.7 .1h0m3.7-.4h0m.3-.1h0m-.1-.2h0m-.1-.1h0m-.7-.2h0m.6-.6h0m.9-.1h0m-1.6-1h0m2.3 0h0m-1.7-.5h0m1.3-.1h0m.5-.1h0m-.6-.3h0m.6-.4h0m-2-.1h0m1.7 0h0m0-.2h0m.6-.4h0m-1.7-.3h0m1.8 0h0m-1.3-.2h0m.2-.1h0m-1.6-.3h0m.5 0h0m-.2-.3h0m.5 0h0m1.9 0h0m0-.2h0m-2.3-.3h0m1.3-.1h0m-1.8-.4h0m.6-.4h0m.2-.2h0m0-.1h0m1.4 0h0m-.1-.1h0m0-.1h0m-.7-.5h0m.1 0h0m1.3-.6h0m-2.4-.5h0m.4-.1h0m1.8-.1h0m-2.4-.2h0m.4-.2h0m-.1-.1h0m1.2-.1h0m.3-.3h0m.5 0h0m-.4-.1h0m-.6-.1h0m1-.5h0m-.1 0h0m-1.8-.2h0m1.9 0h0m-.1-.7h0m-1.3-.1h0m-.9-.2h0m2.6-.5h0m-2-.5h0m-.1-.3h0m.1 0h0m2-.1h0m-.2-.1h0m-.9-.2h0m.4-.3h0m.6-.4h0m-1.6-.1h0m.6 0h0m-1.5-.2h0m2.3-.1h0m-1.4-.2h0m.3-.1h0m-.8-.5h0m2-.6h0m-.4-.2h0m.7-.1h0m2.4-.9h0m.5 .5h0m-2.6 .6h0m1.9 .1h0m-.7 .4h0m-.1 .1h0m.5 .1h0m-1 .2h0m1.2 .3h0m-1.8 .9h0m2.7 .4h0m-2.5 .5h0m1.1 .5h0m.9 .7h0m-2.3 .1h0m1.2 0h0m-.5 .3h0m.4 0h0m-1.2 .2h0m2.1 .4h0m.6 .3h0m0 .1h0m-.3 .3h0m-.6 .1h0m-.9 .4h0m.1 .3h0m.4 .3h0m-.5 .4h0m-.7 0h0m1.3 .2h0m-1.5 .3h0m1 .4h0m1.4 .3h0m-1.3 .2h0m1 .1h0m-1.9 .1h0m1 .1h0m.1 0h0m.7 .2h0m-1.6 .1h0m2.4 .4h0m-1.7 .3h0m1.8 .4h0m-.2 .4h0m.1 0h0m.1 .4h0m-1.7 .5h0m.3 .1h0m.6 .2h0m-1.5 0h0m.1 .1h0m2.2 .1h0m-.4 .4h0m-1 .3h0m-.4 .1h0m2.5-1.2h0m.4-.4h0m-.6 0h0m.2-.4h0m2.1 0h0m-.1-.2h0m-2.1-.1h0m.5-.6h0m-1-.4h0m1.9-.2h0m.3-.3h0m-1-.2h0m1.1-.1h0m-2.3-.2h0m2.6-.2h0m.2-.3h0m-2.3-.7h0m.5 0h0m1-.4h0m-.1-.1h0m-.7 0h0m-1.2-.2h0m.8-.1h0m1-.1h0m.8-.1h0m-.9-.2h0m.7-.4h0m-.4 0h0m-1.3-.4h0m.5-.1h0m-.9-.3h0m1.5-.5h0m-.2-.2h0m-1.4 0h0m1.6-.1h0m.2-.4h0m-.5-.3h0m1.1-.3h0m-2-.1h0m1.1-.1h0m1.1-.5h0m-2-1.2h0m1-.5h0m.6 0h0m-.6-.1h0m-1.5-.2h0m1.5-.1h0m-1.8-.3h0m1.6-.2h0m.1-.4h0m1-.4h0m-2.3-.1h0m1.8-.3h0m-.2 0h0m-.9-.1h0m.2-.1h0m.6-.6h0m3.5-.8h0m-.5 .2h0m-.3 .2h0m-1.2 .6h0m1.4 .5h0m-1 .4h0m1.4 .1h0m.2 .1h0m-.6 0h0m-1 .3h0m-.8 0h0m1.5 .2h0m.8 0h0m-2.3 .1h0m.7 .6h0m.7 .2h0m.3 .3h0m.8 0h0m-1.4 .2h0m-.2 0h0m-.3 .1h0m.9 .6h0m.2 .8h0m-.2 .2h0m-.2 .1h0m-.8 .3h0m1.4 0h0m.6 .3h0m-.7 .1h0m-1.6 .1h0m1.3 0h0m.6 .2h0m.2 .3h0m-1.2 .1h0m.3 .3h0m-1.1 .1h0m.9 0h0m-.5 .2h0m.4 .2h0m1.8 0h0m0 .1h0m-2.1 .1h0m1.5 .1h0m-2.1 0h0m1.3 .4h0m-.7 .4h0m1.8 0h0m-.5 .6h0m-1.1 0h0m-.1 .2h0m1.4 .1h0m-.4 .1h0m.8 .5h0m-.7 .5h0m-1 .3h0m1.4 0h0m.4 .1h0m0 .2h0m-1.6 .3h0m-1 0h0m0 .4h0m1.4 .2h0m.4 .1h0m.2 .2h0m-.7 .1h0m-.6 .1h0m-.4 .5h0m2.8-1.7h0m.4-.2h0m.8-.3h0m.8-.1h0m-1 0h0m1.1-.2h0m-.6 0h0m-.2-.4h0m-.8-.1h0m-.3-.5h0m.5 0h0m.8-.1h0m.7-.4h0m-1.8-.1h0m-.4-.2h0m-.2 0h0m1.9-.1h0m-.9-.4h0m-.6-.1h0m2.4-.2h0m-2.1 0h0m-.2-.1h0m1.2-.1h0m.5-.6h0m0-.1h0m-1.7-.3h0m.3 0h0m.8-.1h0m-1.6 0h0m2.6 0h0m-1.9-.6h0m-.8-.3h0m1.2-.6h0m.6-.8h0m-1.7 0h0m.1-.1h0m1 0h0m.8-.4h0m.9-.1h0m-.7-.3h0m-1.4-.1h0m1.3-.9h0m-.5-.4h0m-.6-.2h0m-.1 0h0m1.1-.3h0m0-.1h0m.1 0h0m-.4-.4h0m-.2-.3h0m-.7 0h0m-.4-.2h0m.9-.2h0m-.3-.4h0m-.7-.4h0m.1-.1h0m1.8 0h0m.6-.6h0m2.6-.6h0m-1.9 .2h0m.6 .1h0m1.5 .2h0m-.1 .1h0m-1.9 .2h0m.6 .3h0m.3 0h0m.6 0h0m.8 .1h0m-.6 .1h0m.1 .1h0m-.3 .4h0m.4 0h0m-1.9 .1h0m1 .1h0m-1.4 .3h0m1.5 0h0m-1.7 0h0m.7 0h0m1.6 .1h0m-1.2 .1h0m.5 0h0m-.2 .7h0m.3 .4h0m-.2 0h0m-.5 0h0m-.2 .1h0m.3 .1h0m-.5 .4h0m1.7 .1h0m-1.6 .2h0m.6 0h0m-1.2 .1h0m1.7 .2h0m-1 0h0m-.1 .2h0m1.1 .2h0m1 .1h0m-2.4 .1h0m.6 .2h0m1.8 .1h0m-1.9 .3h0m.6 .5h0m1.3 .1h0m-.2 0h0m-2.1 .3h0m1.9 0h0m-.9 .7h0m.3 .4h0m-.9 .1h0m1 .1h0m.4 .1h0m0 .3h0m.1 .1h0m-.5 .2h0m-.1 0h0m.7 .2h0m-.3 0h0m-1.2 .3h0m1.5 .1h0m.1 .2h0m-1.5 .2h0m-.5 .3h0m.9 .4h0m-1 .3h0m-.4 .1h0m1.6 .7h0m1.3-.7h0m1.8-.9h0m-1.4-.3h0m.8-.5h0m-.2 0h0m1.8-.5h0m-1.6-.4h0m-.1-.4h0m-.3-.5h0m-.6 0h0m2.5-.1h0m-1.8-.3h0m1.1-.2h0m-.7-.2h0m1.1-.1h0m-.6-.3h0m.1-.3h0m-1.6 0h0m2.3-.1h0m-1-.2h0m.7-.3h0m-.9-.3h0m1.3-.2h0m-.1-.2h0m-2-.1h0m-.4-.2h0m-.2 0h0m2.5-.3h0m0-.4h0m.3 0h0m.1-.2h0m-1.9 0h0m-.3-1.1h0m.2-.5h0m.7-.1h0m-.7-.4h0m1.5-.2h0m-.3-.1h0m-.6-.1h0m-.2-.1h0m-.4-.1h0m.2-.3h0m1.1 0h0m-2 0h0m2.7-.1h0m-2.7-.4h0m0-.2h0m2.6-.7h0m2.3-.4h0m-2.1 .5h0m1.6 .1h0m-.2 .2h0m.4 0h0m.1 .1h0m-1.2 1h0m1.4 .1h0m-.3 .2h0m.8 .3h0m-1.6 0h0m.6 .7h0m.5 0h0m.3 .3h0m.3 .1h0m-2.1 .5h0m1 .2h0m1.2 .1h0m.1 .1h0m-2 0h0m0 .2h0m-.9 .4h0m2.6 0h0m.3 .2h0m-2 .1h0m.3 .1h0m1.1 .1h0m.3 .2h0m-1.7 .2h0m.5 .2h0m-1 .1h0m2.4 .1h0m-1 .1h0m.4 .1h0m-1.9 .3h0m.2 .1h0m2.4 .3h0m-.8 .1h0m-.2 .2h0m.4 2.2h0m-.8 .1h0m-.7 .7h0m-.3 .2h0m.6 0h0m1.9-1.9h0m0-.8h0m2.9-.3h0m-.2-.3h0m-2.3-.5h0m1.3-.2h0m-.1-.3h0m-.4-.3h0m1.6-.2h0m-1.8-.3h0m0-.2h0m.5-1.1h0m0-.2h0m-.3-.1h0m1.6-.3h0m.1 0h0m-.6 0h0m-1.4-.4h0m1.4 0h0m-1.5-.1h0m2.1-.1h0m0-.3h0m-2.9-.2h0m2-1.7h0m-.9-.6h0m-.8-.3h0m.1-.1h0m.3-.1h0m1.3-.1h0m.7-.6h0m-.1 0h0m2.1-.4h0m-1 .6h0m-.4 .1h0m-.3 .3h0m2.4 .5h0m.2 .5h0m.3 .3h0m-.5 0h0m-2.2 0h0m2 .1h0m.4 0h0m-1.8 .3h0m1.8 .4h0m-2.5 .3h0m1.6 0h0m-.3 .2h0m1.2 .2h0m-1.7 .3h0m.1 .4h0m.1 .1h0m-.9 .3h0m2.4 .2h0m-1.3 0h0m-.7 1h0m-.2 0h0m1 .3h0m.5 .4h0m-.3 .1h0m-1.2 0h0m.6 .3h0m-.7 1.6h0m2.7-2.7h0m.7-.1h0m0-.1h0m.5-.7h0m-.5 0h0m.9-.1h0m.2-.3h0m.2-.3h0m-1.8-.2h0m1.1-.5h0m.8-.1h0m-1.2-.1h0m0-.1h0m.1-.2h0m.3-.4h0m-.2-.1h0m-.5 0h0m1.1-.4h0m1.2-.2h0m-2 0h0m2-.2h0m-2.9 0h0m.6-.4h0m1.8-.4h0m-.7-.9h0m-.6 0h0m-1-.2h0m1.1-.1h0m.5 0h0m-.1-.1h0m-1.3 0h0m2.6-.3h0m2.6-.5h0m-.5 .4h0m-1.9 .3h0m2.2 0h0m-.9 .6h0m.8 0h0m-1.2 .2h0m1 .1h0m.2 .1h0m-1.7 .3h0m.1 0h0m1.4 .3h0m-1.4 .3h0m1 .4h0m1 .5h0m2-2.6h0m-.4-.1h0m1.2-.1h0m-.4 0h0m-1.2-.6h0m.7-.2h0" stroke="#F8766D" stroke-width="1"/>
<path d="M71.9 293.5h0m0-4.4h0m-.1-.5h0m1.9-3.3h0m.9 .8h0m-2.4 .6h0m.4 .2h0m.6 .1h0m.6 .7h0m-1.4 .3h0m1.3 .7h0m-1.3 .7h0m1.5 .4h0m-.7 .1h0m-.2 0h0m1.4 .3h0m-.5 .2h0m-1.4 .2h0m2.3 0h0m0 1.3h0m-1.8 .6h0m.2 .4h0m1.1 .1h0m-2.3 .1h0m1.4 .1h0m1.4 .6h0m-1 .4h0m.8 0h0m-2.2 0h0m.2 .9h0m.1 .6h0m2.5-.9h0m-.1-.5h0m.6-1h0m1.6-2.5h0m-.7-.5h0m.6 0h0m-.7-.1h0m1-.1h0m-.5 0h0m-.2-.2h0m.8-.3h0m-2.2-.8h0m2.2-.7h0m-2.5-.1h0m1.9-.3h0m-.9-.2h0m.9-.1h0m.4-.1h0m-.9-.6h0m-1.3-.2h0m-.1-1h0m2.1 0h0m-1.3-.4h0m1.2-.1h0m-.3 0h0m-1.2-.3h0m.4-1h0m.6-.1h0m.4-.4h0m2.8-.4h0m1 .2h0m-.7 .6h0m.7 .2h0m-.2 0h0m.1 .5h0m-.9 .1h0m.6 .5h0m-.4 0h0m.6 .8h0m-2.1 0h0m1.5 .1h0m-1.8 .2h0m1.1 .2h0m-.5 .5h0m-.8 .1h0m1.8 0h0m.6 .1h0m.5 .1h0m-.8 .1h0m-.7 .7h0m-1 0h0m1.2 .2h0m-.1 0h0m1 .7h0m-2.3 .5h0m2 .6h0m-1.7 .4h0m1.5 .2h0m-.9 1.5h0m1.2 .1h0m-.2 0h0m-.6 .2h0m-1 .1h0m-.4 .9h0m.3 .1h0m3.7-2.5h0m.1-1.8h0m0-1.7h0m1.2-.5h0m-2.2-.1h0m.7 0h0m1.1-.1h0m.7-.5h0m-1.6-.3h0m-1.1-.6h0m1.7-.2h0m-1.7-.1h0m2.9-.1h0m-1.2-.1h0m-1.1 0h0m1.5-.3h0m-1.7-.2h0m1.8-.1h0m-2.1-1.1h0m-.1-.1h0m0-.9h0m1.5-.2h0m.3-.5h0m.9-.3h0m-2.2-.4h0m1.7-.1h0m-.4 0h0m2.7-.6h0m-1.5 .2h0m.6 .1h0m.1 .6h0m.1 .8h0m.2 .2h0m1.9 .2h0m-2.3 .3h0m.6 .3h0m.9 .4h0m-.2 .1h0m0 1.1h0m.5 0h0m-.4 .1h0m-1 .4h0m1.7 .1h0m-1.1 .7h0m.9 .8h0m-1.3 .1h0m1.3 .6h0m-1.7 .4h0m-.7 .6h0m1.1 .1h0m-.2 .1h0m.4 .6h0m2.2-1.4h0m-.5-.4h0m1.2-.6h0m1-.2h0m-1.9-.1h0m2-.3h0m-2-.5h0m.5 0h0m1.3-.1h0m-.6 0h0m.9-.1h0m-2.5-.2h0m.1-.1h0m2.6-.5h0m-1-.4h0m.8-2.8h0m-2.2-.6h0m1.6-.2h0m-1.9-.6h0m2.3 0h0m-1.8-.1h0m2.3-.3h0m-2-.1h0m3.1-.8h0m0 .3h0m-.6 .6h0m1.7 .1h0m.2 .1h0m-1.8 .5h0m1.5 .4h0m.7 .4h0m-2.3 1h0m.7 .2h0m-.4 .4h0m-.3 .6h0m2.2 .2h0m-2.5 .1h0m0 .5h0m2.1 .6h0m-1.4 .5h0m2.7-1.5h0m-.3-.4h0m.9-.2h0m.9-.5h0m-1.8-.2h0m1.8-.1h0m-.3-.4h0m-.4-.9h0m-.9-.3h0m0-1.3h0" stroke="#53B400" stroke-width="1"/>
<path d="M68.8 277.8h0m-2.5 .1h0m1.3 .5h0m-.4 .8h0m-.2 0h0m-.4 .2h0m.1 .1h0m.9 .3h0m1.3 0h0m-1 .4h0m.4 .2h0m-.1 .6h0m.1 .8h0m-.5 .2h0m.9 .2h0m-.7 .2h0m0 .1h0m.8 .6h0m2.8 3.3h0m-1.6-.1h0m0-1.2h0m-.6 0h0m.7-.1h0m.5-.2h0m1-1.2h0m-1.2-.1h0m.5 0h0m-1.3-.2h0m1.4-.4h0m-.7 0h0m-.8-.4h0m1.7-.2h0m-.8-.8h0m-.4 0h0m-.3-1.8h0m.2-.9h0m-.8-.8h0m.3-.7h0m2.6 8.4h0m0 1.5h0" stroke="#C49A00" stroke-width="1"/>
<path d="M101.5 288.2h0m.3-.8h0m.1-1.5h0m-.3-.1h0m-.7-.1h0m1.3 .9h0m.5 1.1h0m-.2 .1h0m-.5 .6h0m.9 .2h0m0 .1h0m-.8 .4h0m1.1 .5h0m.5 .2h0m-.7 .4h0m.1 .5h0m-.6 .1h0m.4 0h0m.3 .3h0m.5 .1h0m-.2 .3h0m-.3 .2h0m.4 1.2h0m.8 .3h0m-.1 .1h0m-1.3 .3h0m1 .4h0m.2 .4h0m.7 .2h0m-.7 .3h0m-.3 .1h0m.8 .7h0m-1.4 .4h0m1.5 1h0m-1.2 .3h0m0 .3h0m.3 .6h0m-.1 .2h0m.1 .2h0m0 .4h0m.9 1.7h0m-.2 .1h0m-.2 .8h0m3.5 9.3h0m-.4-1.4h0m-.5-1.3h0m0-2.3h0m0-.4h0m-1.7-.7h0m2.5-.4h0m-2.2-.7h0m1.6-.4h0m-1.4 0h0m1.3-.5h0m-1.9-.1h0m.1 0h0m0-.4h0m1.8-.1h0m-.7-.1h0m1.5 0h0m-.3-.1h0m-1.8-.2h0m1.4-1h0m-1.2-.5h0m1.6-.1h0m-2.4-.2h0m-.2-.3h0m1.7 0h0m-.3-.3h0m1.4-.2h0m-.8-.3h0m-1.5-.1h0m2-.1h0m.1-.2h0m-2.4-.5h0m1-.2h0m.7-.2h0m-1.4-.5h0m.8-.4h0m.2-.5h0m0-.7h0m-1-.3h0m0-.5h0m0-.4h0m-.5-.4h0m.4-.6h0m3.2 7.2h0m-.5 1h0m.3 .3h0m.6 1.3h0m-1 .5h0m.3 .3h0m2 .2h0m-1.7 .6h0m2.3 .2h0m-1.7 .1h0m.2 0h0m1.5 .3h0m-2.1 .6h0m-.2 .3h0m.5 .2h0m-.9 .7h0m.8 .4h0m1.9 .5h0m-1 .2h0m.4 .3h0m-1.9 .2h0m.8 .4h0m-.5 0h0m.5 .1h0m-1.2 .8h0m1.1 .1h0m1.4 .1h0m0 .3h0m-.3 .5h0m-.6 .2h0m-.1 .8h0m.4 .5h0m.6 1.2h0m-.1 1.6h0m.1 1.7h0m2.7 6h0m.1-.2h0m.5-.2h0m-1-.3h0m-.2-.2h0m1.1-.2h0m-1.2-.4h0m.6 0h0m.4-.8h0m-.6-.8h0m-1.1-.2h0m1.4-.5h0m-.8-.3h0m-.8 0h0m1.5-.5h0m-2-1.1h0m.7 0h0m.8-.1h0m-1.4-1h0m1-.2h0m-.4-.1h0m.9-.1h0m1.1-.1h0m-1.2 0h0m0-.5h0m-.2-.4h0m.2-.2h0m-1.2-.1h0m2.3 0h0m-2-.1h0m.8-1.3h0m-.8-.1h0m.8-.3h0m-.4 0h0m.7-1h0m-1.3 0h0m2-.5h0m-.6-.1h0m-1.9-.3h0m.5-.5h0m1.1-.9h0m.3-.2h0m-.1 0h0m0-.4h0m-1.5-1.8h0m.3-.2h0m2.4 5.6h0m.8 .7h0m-.2 .2h0m-.1 .2h0m.7 .1h0m-.4 .1h0m.1 .4h0m.1 .2h0m-.9 0h0m.8 .5h0m-.8 .5h0m.7 .3h0m.7 .4h0m1.1 .3h0m-1 .3h0m-1.2 .1h0m2.5 .3h0m-1.9 .5h0m1.8 .3h0m-2.5 .3h0m1.2 .4h0m.5 1.1h0m-2 .6h0m1.7 .1h0m.1 0h0m1.1 .2h0m-2.2 .1h0m2.1 0h0m-.1 .1h0m-2.7 .1h0m2.3 .2h0m-1.3 .9h0m.9 .7h0m-1 1.2h0m-.8 .6h0m1.7 0h0m1 .3h0m-1.4 .1h0m-.2 .2h0m1.7 .6h0m-2.4 .1h0m2 .1h0m.1 0h0m-.1 0h0m-.2 0h0m-1.3 .4h0m1.8 .2h0m-1.2 .3h0m.2 .3h0m.7 .1h0m-.6 0h0m-.6 .1h0m1.4 .3h0m-.5 .9h0m-.2 .3h0m-.6 .1h0m0 .1h0m.9 1h0m.3 .6h0m.2 .1h0m-.4 2.1h0m0 .7h0m3.4 3.7h0m0-.6h0m-.7-.1h0m.4-.8h0m-1.4 0h0m.6 0h0m1-.5h0m-.9-.1h0m.3-.1h0m-.2-.2h0m.3-.1h0m-1.5 0h0m-.5-.5h0m.6-.2h0m2.1-.1h0m0-.3h0m-.4-.3h0m-.5-.4h0m.2-.2h0m-.9-.2h0m0-.3h0m1.4-.2h0m-1.7-1.2h0m.8-.2h0m-1.8-.1h0m2.9-.3h0m-.1-.1h0m-1.4-2.1h0m.6-.1h0m-.1-1.3h0m-1.7-.5h0m2.6 0h0m-.1-.1h0m0-.3h0m-.4-.3h0m-.6-.1h0m-1-.2h0m1.6-.5h0m-1 0h0m.1-.2h0m.4-.3h0m-1.6-.4h0m2.5-.1h0m-1.5 0h0m.7-.1h0m.4-.8h0m-1.6-.4h0m-.2-.1h0m2.2 0h0m-.5-.6h0m-1-.3h0m1.7-.1h0m-2.9-.1h0m.2-.4h0m-.2-.1h0m2.1-.1h0m.7-.4h0m-2.7-.4h0m.3-1.1h0m.6-.4h0m2.1 2.4h0m.2 .4h0m.3 .5h0m-.1 .5h0m0 .3h0m-.2 .1h0m1.3 .3h0m.1 0h0m-1.5 .5h0m.6 .9h0m.3 .7h0m-.6 .1h0m.7 .1h0m1.5 .6h0m-1.6 .5h0m1.8 0h0m-2.7 .7h0m.5 .3h0m1.6 .1h0m.6 .5h0m-1.9 .6h0m.9 .5h0m.4 .2h0m.4 .1h0m-1.2 0h0m0 .1h0m.5 0h0m.8 .6h0m-.8 .3h0m.9 .6h0m-1.1 .8h0m-.1 .1h0m-1.5 .1h0m2 1h0m-.6 .2h0m-1 .1h0m.1 .9h0m.6 .8h0m.4 .2h0m.5 .2h0m-.3 0h0m.1 .1h0m-1.1 .1h0m1.4 .6h0m-.8 0h0m-.8 0h0m-.4 0h0m.2 0h0m.7 .1h0m-1.1 .7h0m.1 .2h0m1.7 .1h0m.7 0h0m-1.1 .1h0m-.7 0h0m.8 .2h0m.7 .1h0m-1.5 .1h0m-.5 .4h0m2.2 .2h0m-1.4 .2h0m.2 0h0m.7 .2h0m-.7 .1h0m3.3 .3h0m-1.6-.2h0m1.7-.5h0m.3-.3h0m.1-.1h0m-1.2-.4h0m1.1 0h0m-1.8-.1h0m.5-.1h0m.6 0h0m.9-.5h0m-.3 0h0m-1.8-.4h0m1.6-.6h0m-.4-.8h0m-1-1h0m.8-.4h0m.6 0h0m-.2-.3h0m.3-.3h0m.8 0h0m-1.5-.2h0m-.3 0h0m1.1-.7h0m-1.7-.1h0m.5-.2h0m1.3-.4h0m.7-.1h0m-1.8-.6h0m2-.3h0m-1.8-.3h0m.3-.1h0m-.7-.5h0m1.9-.6h0m-1.4-.3h0m1.7-.5h0m-.6-.1h0m-1.8-.4h0m.3-.1h0m-.5-.7h0m.3 0h0m1.2-.1h0m.7 0h0m-.8-.3h0m-.2-.6h0m.2-.5h0m-.6-.2h0m-.9-.6h0m.4-.2h0m.1-.2h0m3.2 2.6h0m-.4 .7h0m-.3 .9h0m0 .6h0m.3 4.8h0m.1 0h0m-.3 .1h0m.2 .5h0m-.2 .1h0m-.2 .4h0m.4 .1h0m-.1 2.2h0m-.2 1h0m-.1 .7h0" stroke="#A58AFF" stroke-width="1"/>
<circle cx="71" cy="287.8" r=".9" fill="#111"/>
<circle cx="95.1" cy="281.2" r=".9" fill="#111"/>
<circle cx="101.7" cy="284.8" r=".9" fill="#111"/>
<text x="131.6" y="260.6" font-size="4.8" font-weight="bold" fill="#222">State</text>
<circle cx="132.3" cy="269.2" r="2.4" fill="#F8766D"/>
<text x="141.6" y="271.1" font-size="5.2" font-weight="bold" fill="#222">1</text>
<circle cx="132.3" cy="277.7" r="2.4" fill="#C49A00"/>
<text x="141.6" y="279.6" font-size="5.2" font-weight="bold" fill="#222">2</text>
<circle cx="132.3" cy="286.2" r="2.4" fill="#53B400"/>
<text x="141.6" y="288.1" font-size="5.2" font-weight="bold" fill="#222">3</text>
<circle cx="132.3" cy="294.7" r="2.4" fill="#00C094"/>
<text x="141.6" y="296.6" font-size="5.2" font-weight="bold" fill="#222">4</text>
<circle cx="132.3" cy="303.2" r="2.4" fill="#00B6EB"/>
<text x="141.6" y="305.1" font-size="5.2" font-weight="bold" fill="#222">5</text>
<circle cx="132.3" cy="311.7" r="2.4" fill="#A58AFF"/>
<text x="141.6" y="313.6" font-size="5.2" font-weight="bold" fill="#222">6</text>
<circle cx="132.3" cy="320.2" r="2.4" fill="#FB61D7"/>
<text x="141.6" y="322.1" font-size="5.2" font-weight="bold" fill="#222">7</text>
<text x="151.5" y="242.5" font-size="8.5" font-weight="bold">G</text>
<line x1="165.4" y1="264" x2="165.4" y2="338.6" stroke="#333" stroke-width=".5"/>
<line x1="165.4" y1="338.4" x2="248.1" y2="338.4" stroke="#333" stroke-width=".5"/>
<line x1="164.1" y1="265.2" x2="165.4" y2="265.2" stroke="#333" stroke-width=".4"/>
<text x="163.5" y="266.8" font-size="4.5" text-anchor="end" font-weight="bold" fill="#222">8</text>
<line x1="164.1" y1="283.3" x2="165.4" y2="283.3" stroke="#333" stroke-width=".4"/>
<text x="163.5" y="284.9" font-size="4.5" text-anchor="end" font-weight="bold" fill="#222">4</text>
<line x1="164.1" y1="301.4" x2="165.4" y2="301.4" stroke="#333" stroke-width=".4"/>
<text x="163.5" y="303" font-size="4.5" text-anchor="end" font-weight="bold" fill="#222">0</text>
<line x1="164.1" y1="319.4" x2="165.4" y2="319.4" stroke="#333" stroke-width=".4"/>
<text x="163.5" y="321" font-size="4.5" text-anchor="end" font-weight="bold" fill="#222">-4</text>
<line x1="164.1" y1="337.5" x2="165.4" y2="337.5" stroke="#333" stroke-width=".4"/>
<text x="163.5" y="339.1" font-size="4.5" text-anchor="end" font-weight="bold" fill="#222">-8</text>
<line x1="181" y1="338.4" x2="181" y2="339.7" stroke="#333" stroke-width=".4"/>
<text x="181" y="343.6" font-size="4.5" text-anchor="middle" font-weight="bold" fill="#222">-10</text>
<line x1="198.9" y1="338.4" x2="198.9" y2="339.7" stroke="#333" stroke-width=".4"/>
<text x="198.9" y="343.6" font-size="4.5" text-anchor="middle" font-weight="bold" fill="#222">-5</text>
<line x1="216.8" y1="338.4" x2="216.8" y2="339.7" stroke="#333" stroke-width=".4"/>
<text x="216.8" y="343.6" font-size="4.5" text-anchor="middle" font-weight="bold" fill="#222">0</text>
<line x1="234.7" y1="338.4" x2="234.7" y2="339.7" stroke="#333" stroke-width=".4"/>
<text x="234.7" y="343.6" font-size="4.5" text-anchor="middle" font-weight="bold" fill="#222">5</text>
<text x="210.1" y="348.4" font-size="4.6" text-anchor="middle" font-weight="bold" fill="#222">Component 1</text>
<text x="159.2" y="301" font-size="4.6" text-anchor="middle" font-weight="bold" fill="#222" transform="rotate(-90 159.2 301)">Component 2</text>
<polygon points="170.4,304.2 171.9,302.4 173.6,302.8 174.7,305 175.3,308.7 175.5,313.1 174.9,315.2 173,315.8 171.1,315 169.7,313.1 169.2,310.2 169.5,306.5" fill="#17304A" fill-opacity="0.9"/>
<polygon points="174.9,303.4 181.7,301 193,298.6 203.1,297.1 203.8,297.9 202.1,299.7 193,306.4 181.7,311.4 176,313.6" fill="#244D71" stroke="#244D71" stroke-width="0.5" stroke-linejoin="round" opacity="0.35"/>
<polygon points="203.9,297.3 204.6,295.9 210.4,292.4 214.8,291 219.1,290.2 221.7,291.6 221.7,293.3 219.1,295.2 214.8,298 210.4,300.9 204.6,303.7 203.8,300.5" fill="#326996" stroke="#326996" stroke-width="0.5" stroke-linejoin="round" opacity="0.4"/>
<polygon points="226.3,293.8 229.2,290.2 232.8,287.4 234.2,284.6 233.6,280.4 233.6,276.8 235,276.8 236.7,281.8 237.1,284.6 238.2,286.8 237.1,288.8 233.6,291 229.9,293.1 227,295.2" fill="#4793CF" stroke="#4793CF" stroke-width="0.5" stroke-linejoin="round" opacity="0.5"/>
<polygon points="218.3,268.7 219.7,267.6 222,267.8 223.4,269.4 223.2,273.9 222.9,277.6 222.7,284.2 222.6,290.2 222,292.8 220.8,292.8 220.5,287.9 220.2,282.8 219.7,277.6 218.5,274.6" fill="#3F84BB" stroke="#3F84BB" stroke-width="0.5" stroke-linejoin="round" opacity="0.5"/>
<polygon points="225.8,295.2 226.6,295.2 232.1,307.2 237.9,318.5 243,324.2 245.8,326.3 245.4,335.5 241.5,335.8 237.9,332 237.1,328.4 233.6,319.9 229.2,310" fill="#4C9DDC" stroke="#4C9DDC" stroke-width="0.5" stroke-linejoin="round" opacity="0.5"/>
<polyline points="176.7,308.6 203.4,297.5 221.6,292.5 226.6,295.2 240.5,326.8 237.7,331.5" fill="none" stroke="#111" stroke-width="0.4"/>
<polyline points="221.6,292.5 222,277.8" fill="none" stroke="#111" stroke-width="0.4"/>
<polyline points="226.6,295.2 234.3,286" fill="none" stroke="#111" stroke-width="0.4"/>
<circle cx="203.4" cy="297.5" r=".8" fill="#111"/>
<circle cx="221.6" cy="292.5" r=".8" fill="#111"/>
<circle cx="226.6" cy="295.2" r=".8" fill="#111"/>
<path d="M170.4 305.3h0m2.7 10.3h0m-1.7-2.7h0m-.1-1.2h0m.1-.6h0m1.3-5.4h0m-.9-.3h0m1.4 0h0m.1-.5h0m.4-.1h0m-2.7-.5h0m1.8-1.6h0m.2-.3h0m1.3 5h0m1.3 6.5h0" stroke="#132B43" stroke-width="1"/>
<path d="M171.1 313.2h0m1.2-6.8h0m-.6-.5h0m2.4 1.4h0m.4 6.2h0" stroke="#132B44" stroke-width="1"/>
<path d="M170.5 305.8h0m-1.6 5.4h0m1.9 .9h0m-1.7 .1h0m2.5-1.7h0m.5-1.4h0m-.5-2.9h0m-.6-.4h0m1-3.8h0m2.2 9.3h0m-.2 2.4h0" stroke="#132C44" stroke-width="1"/>
<path d="M170.7 305.6h0m2.2 10.3h0m1-.1h0m-.6-1h0m0-5.4h0m.1-1.5h0m-2.4-.4h0m1.2-1.6h0m1.3-1.7h0m1.5 4.7h0m-.5 2.8h0" stroke="#132C45" stroke-width="1"/>
<path d="M169.7 306.6h0m.7 3.4h0m-1.3 2.9h0m1.3 1.8h0m.7-1h0m1.9-2.3h0m1.6 1h0" stroke="#142D45" stroke-width="1"/>
<path d="M169.7 303.9h0m.4 5.2h0m1.6 6.6h0m1.1-4.6h0m1-.9h0m-.4-.1h0m-2.1-1.8h0m2.6-2.9h0m-1.4-1h0m3.2 4.9h0m-1.1 3.2h0m.7 2h0m-1.2 1.4h0" stroke="#142D46" stroke-width="1"/>
<path d="M172.2 307.2h0" stroke="#142D47" stroke-width="1"/>
<path d="M168.9 307.4h0m.6 1.9h0m-.5 1.3h0m2.1 3.1h0m.6-2.7h0m1.7-2.3h0m-1.3-3.1h0m-.1-3.6h0m2.7 11.2h0m.4 1.7h0m-.2 .3h0" stroke="#142E47" stroke-width="1"/>
<path d="M169.2 306.5h0m2.5 7.7h0m3.7-3.3h0" stroke="#142E48" stroke-width="1"/>
<path d="M170.3 305.5h0m.3 7.3h0m1-8.3h0m-.4 0h0m3.4 5.2h0" stroke="#152F48" stroke-width="1"/>
<path d="M169.7 308.4h0m1.6 .1h0m.9-2.7h0m2.9 1.9h0m-1 4.5h0" stroke="#152F49" stroke-width="1"/>
<path d="M170 310h0m1.1 4.1h0m1.2-3.2h0m-1.2-3.9h0m.9-4.8h0" stroke="#153049" stroke-width="1"/>
<path d="M172.8 315.8h0m-1.7-5h0m1.2-.2h0m1.2-.2h0m-1.7-5h0m-.4-3.1h0" stroke="#15304A" stroke-width="1"/>
<path d="M173.9 313h0" stroke="#15304B" stroke-width="1"/>
<path d="M169.9 309.7h0m.5 .1h0m.5 1.8h0m3 .6h0m-.5-5h0m-.9-3.1h0m-.8 0h0m2.6 8.6h0" stroke="#16314B" stroke-width="1"/>
<path d="M170.1 313h0m3.3-10.2h0" stroke="#16314C" stroke-width="1"/>
<path d="M170.9 305.3h0m-.4 4.1h0m-.3 3.4h0m3.6 3h0m-1.3-4h0m2.9 2.2h0" stroke="#16324C" stroke-width="1"/>
<path d="M170 305.3h0m.6 2.1h0m2.3 2.5h0m-1.8-3.2h0m.2-3.9h0m4.4 8.2h0m-1 1.3h0m-.4 2.8h0" stroke="#16324D" stroke-width="1"/>
<path d="M168.9 308.9h0m.1 2.1h0m1.1 0h0m1.3-6.2h0m3.1 5h0m.2 4.3h0" stroke="#17334D" stroke-width="1"/>
<path d="M169.5 307h0m-.4 2.2h0m.9 3.9h0m3.5 2.3h0m-2.4-1.1h0m2.8-3.7h0m-2.3-4.6h0m1.7-.6h0m-.2-.7h0m-1.2-2.3h0m.3-.4h0m2.7 2.2h0" stroke="#17334E" stroke-width="1"/>
<path d="M170 311h0m1.8 2h0m1.6-.2h0m-.2-.8h0m-.1-2h0m.3-2.8h0m1.7 2.4h0" stroke="#17344F" stroke-width="1"/>
<path d="M170.1 308.3h0m-.8 .5h0m2.7 4.2h0m.6-5.3h0m2.4-3.6h0m.6 11.1h0" stroke="#173450" stroke-width="1"/>
<path d="M169.9 305.1h0m3.8 3.1h0m-1.5-1.2h0m1.6-1.8h0m.8-1h0m-.5 11h0" stroke="#183550" stroke-width="1"/>
<path d="M169.6 304.2h0m1.3 1.9h0m1 7.5h0m-.5-8.5h0m4.2 4.2h0m-1.2 .2h0m.6 2.8h0m.1 3.2h0" stroke="#183551" stroke-width="1"/>
<path d="M169.8 303.7h0m-.8 7.6h0m2 3.3h0m2.3-3h0m-2.3-3.1h0m.4-4.8h0" stroke="#183651" stroke-width="1"/>
<path d="M169.3 309h0m.1 3.7h0m4.5-4.1h0m-.7-.1h0m-.4-.1h0m1.1-3.5h0m2.2 3.2h0m-.4 .8h0m.1 .9h0m-.9 1h0m.9 1.5h0m.1 .7h0m-1.3 .4h0" stroke="#183652" stroke-width="1"/>
<path d="M169.6 305.1h0m-.3 2.7h0m1.5 .7h0m-1.9 3h0m4.4 4.4h0m-.9-.1h0m1.1-1.5h0m-.9-1.6h0m-1.3-1.5h0m-.2-.9h0m2.8-.7h0m-1.7-1.3h0m1.3-.1h0m-.5-.5h0m-1.7-1.2h0m1-.9h0m0-2.2h0m2.2 3.1h0m2.3 6.4h0m.1 .2h0" stroke="#193753" stroke-width="1"/>
<path d="M170.1 305.2h0m-.2 6.1h0m2.8 4.3h0m.7-.6h0m-2.1-3.6h0m4.3-3.3h0m.2 .6h0m.3 .2h0m-.1 2.2h0m.9 .9h0m-1.6 3.1h0" stroke="#193754" stroke-width="1"/>
<path d="M169.5 313.3h0m3.5 1.6h0m-.6-4.5h0m-.5-5.1h0m-.8-2.4h0m5.3 9.8h0" stroke="#193854" stroke-width="1"/>
<path d="M169.8 306.4h0m1 .9h0m-1.4 1.9h0m.8 .9h0m1.9 3.4h0m1.6-.7h0m-2.4-.2h0m4.8-5.4h0m-.2 2.6h0m.9 1.4h0m1.4-.8h0" stroke="#193855" stroke-width="1"/>
<path d="M171.1 312h0m6.7-1h0" stroke="#1A3955" stroke-width="1"/>
<path d="M170.3 304.4h0m-1.2 7.6h0m.8 1.8h0m2.2 1h0m1.4-1.6h0m-2.3-4.4h0m-.1-.2h0m4.3-5h0m-.5 2h0m1.2 6.8h0m2.1-4.1h0" stroke="#1A3956" stroke-width="1"/>
<path d="M174.7 304.3h0m.2 9.4h0m2.6-10.2h0" stroke="#1A3957" stroke-width="1"/>
<path d="M172.3 315.8h0m-1.2-.7h0m4.9-4h0m-.4 1.5h0m3.2-2.4h0m-1-1.8h0m-.7-2.2h0" stroke="#1A3A57" stroke-width="1"/>
<path d="M171.6 315h0m-.1-.7h0m2.2-2h0m.2-1h0m-2.1-.3h0m.5-.6h0m1.4-.4h0m-.2-1.1h0m2.5-5.5h0m-.5 8.7h0m.4 .8h0m-1 .6h0" stroke="#1A3A58" stroke-width="1"/>
<path d="M169.3 307.9h0m.7 .9h0m1.3 6.3h0m2.4-8h0m-.2-5.1h0m5.5 4.3h0" stroke="#1B3B58" stroke-width="1"/>
<path d="M169.4 306h0m1.4 .6h0m1.3-.9h0m1.7-2.6h0m-.1-.4h0m.3 1.4h0m1.2 1.4h0m1.1 3.9h0m-2 5h0m4-5.2h0m1.3-.8h0" stroke="#1B3B59" stroke-width="1"/>
<path d="M174.4 305.9h0m.3 .5h0" stroke="#1B3C59" stroke-width="1"/>
<path d="M170.7 314.2h0m1.4-1h0m3.6-3.6h0m1.7-.3h0" stroke="#1B3C5A" stroke-width="1"/>
<path d="M178.2 304.2h0" stroke="#1B3C5B" stroke-width="1"/>
<path d="M176.8 309.1h0m1.3 2.9h0m1.5-1.9h0m-2.4-4.2h0m4.2-1.7h0m-1.4 2.1h0m.9 .3h0m-.4 1.1h0m.4 1.4h0" stroke="#1C3D5B" stroke-width="1"/>
<path d="M175.8 304.9h0m0 2h0m2.3 2.5h0m-.9-2.8h0m1.1-4h0m3.5 5.5h0" stroke="#1C3D5C" stroke-width="1"/>
<path d="M177 306.6h0m2.6-3.4h0m1.6-.9h0m.1 5.2h0" stroke="#1C3E5C" stroke-width="1"/>
<path d="M175 304.7h0m1 1.8h0m.3 .3h0m-.5 .9h0m-.2 .7h0m4.2 2.5h0m.1-.3h0m-2.8-2.8h0m2.1-1h0m-.6-.3h0m1-3.3h0m.6 7.6h0" stroke="#1C3E5D" stroke-width="1"/>
<path d="M176.1 303.2h0m.6 .8h0m-.6 3.2h0m1.1 5.7h0m.2-2.3h0m1.5-5.5h0m-.6-1.2h0m-.8-.2h0m.5-1h0m2.2-.2h0m1.2 6.6h0" stroke="#1D3F5E" stroke-width="1"/>
<path d="M176.1 305.2h0m2.5 2.4h0m2.1-2.1h0" stroke="#1D3F5F" stroke-width="1"/>
<path d="M176.5 310.4h0m.6 1.7h0m.1-4.2h0m.2-2.4h0m-.2-1.1h0m2.9-1h0m.1 4.1h0m.4 .2h0m-.5 .8h0m.7 1.3h0m2.4-.7h0" stroke="#1D405F" stroke-width="1"/>
<path d="M181.1 302.5h0m-.6 1.7h0m2.4 3h0m-2.2 3.8h0m2.9-2.1h0" stroke="#1D4060" stroke-width="1"/>
<path d="M176.4 303.8h0m-.3 2.9h0m-.4 .4h0m1.2 2.2h0m2.2 1.3h0m-.9-1.6h0m3.5-4h0m-1.7 1.6h0m1.4 4.8h0m2.7-3.3h0m-.2-6.7h0" stroke="#1E4160" stroke-width="1"/>
<path d="M176.2 307.8h0m3.5 2.5h0m-.5-3.9h0m-.3-2.4h0m-1.9 0h0m4.9-1.4h0m-.3 2.9h0m1.8 4.5h0m.8-.9h0m-.1-1h0" stroke="#1E4161" stroke-width="1"/>
<path d="M175.8 307.1h0m4.1-4.6h0m.7 4.9h0" stroke="#1E4261" stroke-width="1"/>
<path d="M176.1 304h0m-.6 .2h0m1.2 6.6h0m3 .9h0m.2-3.9h0m-.8-1.9h0m2.4-3.7h0m.9 .6h0m-.1 3.3h0m-2 1.6h0m1.6 .8h0m-1.7 1.2h0m1.5 1.6h0m1.9-2.9h0m-.3-.8h0m1.4-3.3h0m-1.3-1h0m-.4-1.6h0m.3-.3h0" stroke="#1E4262" stroke-width="1"/>
<path d="M182.9 310.4h0m.1-.8h0m2.1-5.8h0m-.1-2.1h0" stroke="#1E4263" stroke-width="1"/>
<path d="M175.1 303.9h0m1.1 8.4h0m3.3-8.1h0m3.8 1.8h0m1.7-1.9h0" stroke="#1F4363" stroke-width="1"/>
<path d="M176.4 308h0m2.1-3.7h0m-.9-1.3h0m4.6-.7h0" stroke="#1F4364" stroke-width="1"/>
<path d="M177.4 312.5h0m.2-1.8h0m2.2-.4h0m-1.6-1h0m.1-7.1h0m.4-.1h0m2.8 .4h0m1.6 2.9h0m1.3-1h0" stroke="#1F4464" stroke-width="1"/>
<path d="M176.6 303.7h0m-1.1 1.4h0m.4 3.4h0m0 .6h0m.3 1.2h0m1.7-3.5h0m1.2-1.3h0m-1.8-.3h0m.4-2.4h0m4.2 3.4h0m-1.9 .5h0m1.3 1.1h0m4.3-3.2h0m-2.6-1.8h0" stroke="#1F4465" stroke-width="1"/>
<path d="M177.4 311.2h0m-.1-4.5h0m1.7-1.8h0m-1.4-.7h0m2.2-.4h0m-.5-.2h0m-1.3-.9h0m3.1-.1h0m-.9 3.3h0m1.3 1.3h0m.1 2.2h0m3.2-1.2h0m-.6-1.1h0m.8-.6h0m-1.3 0h0m.4-1.3h0m1.5-1.8h0m-2-1h0m2.4-1.1h0m1.1 1.6h0m-.4 5.9h0" stroke="#204566" stroke-width="1"/>
<path d="M175.9 303.8h0m2.1 2.4h0m4.9-.1h0m.3-3.4h0" stroke="#204567" stroke-width="1"/>
<path d="M175.9 304.5h0m2.1 4.8h0m-.2-6.1h0m2.4-.8h0m4 5h0m-.6-3.5h0m1.8-2.3h0m-1.2-.2h0m3.3 2.7h0m-.6 2.2h0" stroke="#204667" stroke-width="1"/>
<path d="M175.3 305.6h0m1.5 4h0m.8 2.1h0m-.4-2h0m1.6-2.8h0m1.1-1.1h0m-1.2-.2h0m3.6-1.5h0m.3 .5h0m3 .4h0m-.1-1.2h0m1.3 .8h0" stroke="#204668" stroke-width="1"/>
<path d="M176.1 306.1h0m.1 1.5h0m1.9 1.9h0m.2-1.2h0m5.8 .2h0m-.6-6.3h0m3.1-1.7h0" stroke="#214768" stroke-width="1"/>
<path d="M176 303.6h0m.8 3h0m-.1 .5h0m2.7 5.1h0m.3-2h0m-.7-2.1h0m-1.8-2.9h0m1.3-1.6h0m.9-1.5h0m0-.3h0m1.4 .3h0m1.3 .7h0m-1.9 1.9h0m.7 .8h0m0 5.7h0m2.5-1.3h0m.8-2.7h0m-.4-.6h0m1.7-3.4h0m-.3-1.6h0m2.9 0h0m-2 4.8h0m1 2.2h0" stroke="#214769" stroke-width="1"/>
<path d="M175.9 305.8h0m2.3 6.6h0m1.6-5h0m-1.6-1.1h0m1.2 0h0m-1.9-1.5h0m5.3 1h0m-2.1 3.4h0m2.4-.9h0m.9-.5h0m.6-5.7h0m.8-.6h0m.3-1.1h0m1.2 3.6h0m1.9 .9h0m-.9 2.6h0m.7 .1h0" stroke="#21486A" stroke-width="1"/>
<path d="M176.4 305.6h0m.7 2h0m1.3-5.2h0m1.2-.7h0m.8 3.3h0m.9 4.9h0m1.7-5.7h0m.4-1.3h0m3.6-.8h0m-.6 7h0" stroke="#21486B" stroke-width="1"/>
<path d="M176.8 307.2h0m.8 3h0m1.1-6h0m-.3-1.4h0m1.7 .3h0m.7 1.2h0m-.6 1.3h0m2.6 1.1h0m-.3 1.4h0m-2.4 .2h0m3.9 2h0m1.4-2.9h0m-2.3-2.6h0m.3-1.1h0m3-1.1h0m.9 3.8h0m2.2 .6h0" stroke="#22496B" stroke-width="1"/>
<path d="M177.4 305.8h0m-.2-.5h0m3.6-1.1h0m1.7 .1h0m2.4 2.2h0m-.3-.5h0m-.7-2.1h0m.9-.9h0m3.8 1.9h0m-.2 1.2h0m-1.4 2.4h0m2.2-8.8h0" stroke="#22496C" stroke-width="1"/>
<path d="M178.5 307.1h0m3.4-3.1h0m5.3 .1h0m1.4 .4h0m1.3-2.3h0" stroke="#224A6C" stroke-width="1"/>
<path d="M178.8 304.5h0m-.1-.7h0m-.2-.5h0m4.1 4.5h0m-.2 .8h0m-1.7 .8h0m2 .8h0m.7-3.3h0m3.4-1.9h0m3.5 0h0m.8-4.1h0" stroke="#224A6D" stroke-width="1"/>
<path d="M179.1 308.7h0m-.2-.7h0m2.8-1.6h0m1 .9h0m-1.4 1.4h0m-.9 .3h0m2.7 1.4h0m1.5-4.4h0m.2-1h0m.7-1.2h0m2.3-2.4h0m-.3 1.2h0m1.4 1.5h0m-.2 2.8h0m.6-1h0m.3-.6h0m2-.3h0m-.5-.7h0m-.8-.5h0" stroke="#234B6E" stroke-width="1"/>
<path d="M182.1 307.4h0m3-3.4h0m2.6 .1h0" stroke="#234B6F" stroke-width="1"/>
<path d="M179.2 311.9h0m.2-5.6h0m-.6-.9h0m1.9 .1h0m-.6 3.4h0m.1 .5h0m5.2-3.8h0m-.6-.4h0m-.4-3.3h0m3.9-1.8h0m-.8 1.7h0m-1.4 1.6h0m1.8 3.9h0m3.9-1.3h0m-2.3-.7h0m2.2-2.2h0" stroke="#234C6F" stroke-width="1"/>
<path d="M179.1 304.2h0m2.3-2.4h0m-1 3.9h0m.3 1.1h0m3 .8h0m1-6.9h0m4.1 1.8h0m-.2 1.1h0m-1 3.5h0m-1 1h0m4.7-2.7h0m0-3.9h0m.7-1.9h0" stroke="#234C70" stroke-width="1"/>
<path d="M179.1 310.5h0m5.5-3.5h0m.2-5.3h0m2.7 .3h0m-1.2 1h0m5.5-1h0m-.2-2.7h0" stroke="#244D70" stroke-width="1"/>
<path d="M180.3 302.4h0m0 .1h0m.6 1.7h0m1.7 3.4h0m-1.9 .5h0m0 .4h0m-.5 .3h0m3.1-5.1h0m5.5-2h0m-1.8 1.4h0m1.2 .2h0m3.1 3.4h0m-.7-.1h0m-1.1-1.4h0m.3-2.8h0m.7-.6h0m1.7 2.6h0" stroke="#244D71" stroke-width="1"/>
<path d="M179.8 308.3h0m1.1-5.7h0m1.5 .4h0m-2.2 1.6h0m2.3 .2h0m-2 .5h0m1.5 1.9h0m.1 2.2h0m1.9 .2h0m1.7-3.6h0m-.8-.5h0m3.7-5.1h0m-2.3 2.3h0m.8 .7h0m3.3 1.7h0m1.4-.5h0m-2.6-4.2h0m3.5 .6h0m-.5 .7h0m-.2 2.7h0" stroke="#244E72" stroke-width="1"/>
<path d="M182.2 302.4h0m.2 4.2h0m.4 2.5h0m1.2-2.6h0m10-3.9h0" stroke="#244E73" stroke-width="1"/>
<path d="M181 307.5h0m2.1-.3h0m4.1-2.7h0m0 .7h0m.2 .7h0m-1.1 0h0m3.8-.3h0m1.7-.5h0m-.2-.5h0m.6-.7h0" stroke="#254F73" stroke-width="1"/>
<path d="M181.4 301.9h0m.8 .1h0m.1 1h0m-.2 7.2h0m2-2.9h0m2.8-6h0m1.8 3.4h0m-2.3 1h0m1.9 .4h0m1.2-3.7h0m5.2-.2h0m-.9 3.5h0" stroke="#254F74" stroke-width="1"/>
<path d="M185.2 308.6h0m6.3-4.9h0m-1.7-3.2h0" stroke="#255074" stroke-width="1"/>
<path d="M182.2 303.3h0m.6 4.3h0m-1.4 .9h0m3.8 .5h0m-.3-7.2h0m2.6-.9h0m0 5h0m1.1 .8h0m1.4-1.7h0m1.1-3h0m-1.5-2.5h0m2.5 .4h0m-.1 2h0m.9 1.6h0m-.7 1.7h0m2.9-2.9h0" stroke="#255075" stroke-width="1"/>
<path d="M182.8 309.3h0" stroke="#255076" stroke-width="1"/>
<path d="M182.9 306h0m5.8-6.2h0m-1 8.2h0m1.3-3.1h0m2-.5h0m.1-2.2h0m2-3h0m-.2 1.2h0m1.2 1.1h0m-1.2 4.3h0" stroke="#265176" stroke-width="1"/>
<path d="M184.1 306.5h0m1-5.5h0m2.1 7.6h0m2-2.7h0m4.9-2.5h0" stroke="#265177" stroke-width="1"/>
<path d="M182.4 309.7h0m2.6-1.5h0m3-4.5h0m-.8 2.8h0m-1.1 1h0m4.9-4.7h0m-1.9-2.3h0m4.8 3.9h0m1.9-.8h0" stroke="#265277" stroke-width="1"/>
<path d="M182.9 301.1h0m2.3 8.6h0m-.6-1.8h0m-1-.2h0m-.1-1.3h0m.2-.4h0m2.7-2.6h0m1.9 .7h0m-1.3 .3h0m2 3.3h0m4.4-2.6h0" stroke="#265278" stroke-width="1"/>
<path d="M184.9 305.9h0m4.4 0h0m7.8-6.4h0" stroke="#275378" stroke-width="1"/>
<path d="M184.1 304.7h0m.3-2.6h0m0-1.6h0m1.7 .6h0m2.3 .4h0m.1 2.7h0m-1.8 2.3h0m.8 0h0m3.2-3.3h0m-.6-3.5h0m2.9 .4h0m-.9 1.2h0m2.3 .1h0m-.8 3.6h0" stroke="#275379" stroke-width="1"/>
<path d="M184.7 309.1h0m-.9-6.1h0m1.6-2.2h0m1.5-.1h0m1.1 1.9h0m2.1 4.5h0m.9-2.7h0m.3-3.6h0m.3-.1h0m-2.4-.7h0m5.7 3.3h0m-.9 .8h0m2.7-2.7h0m1.2-3.1h0" stroke="#27547A" stroke-width="1"/>
<path d="M186 306.9h0m2.7 1.3h0m3.1-1.7h0m-2.1-5.5h0m2.9-1.2h0m.8 5.5h0m1.6-4.7h0" stroke="#27547B" stroke-width="1"/>
<path d="M186.7 308.7h0m3.4-1.1h0m-.4-5.3h0m-.7-2.5h0m3.5-.4h0m1.6 .2h0m1-.5h0m3.4 2.8h0" stroke="#28557B" stroke-width="1"/>
<path d="M186.3 304.7h0m1.3 1.5h0m-.6 .1h0m.9 .2h0m-1.9 .8h0m4.7-3.7h0m-1.5 0h0m3.1 .4h0m2.7-.8h0m2.5-.8h0m-1.4-.6h0m2-3.3h0m.3 2.5h0m-.4 1.1h0" stroke="#28557C" stroke-width="1"/>
<path d="M186.4 302.7h0m1.6 4.5h0m7.6-4.9h0" stroke="#28567C" stroke-width="1"/>
<path d="M185.6 307.4h0m2.9-6.7h0m-1.7 4h0m6.4-3.2h0m-.9 1.2h0m.2 .8h0m1 1.5h0m3.3-1.6h0m.4-1.5h0m.6 0h0m-2.6-.7h0m.6-2h0m3.1 1.7h0" stroke="#28567D" stroke-width="1"/>
<path d="M187.1 302.7h0m6.7 2.7h0" stroke="#28567E" stroke-width="1"/>
<path d="M186.9 300h0m-.4 2.6h0m1.5 3.9h0m-1.5 1.9h0m2.9-.7h0m-.4-2.6h0m3.4-5h0m3.5 2.2h0m1-3.6h0m1.6 .3h0m1.5 .8h0" stroke="#29577E" stroke-width="1"/>
<path d="M189.1 304.6h0m1.1-.1h0m4-.5h0" stroke="#29577F" stroke-width="1"/>
<path d="M186.7 304.5h0m3.3-2.5h0m4-3.2h0m-2 6.4h0m5.3-6.3h0m1.5 1.7h0" stroke="#29587F" stroke-width="1"/>
<path d="M187.9 300.9h0m.4 5.2h0m2.8-6.5h0m1.1 7.1h0m5.3-4.1h0m.2-1.8h0m1.7 .6h0" stroke="#295880" stroke-width="1"/>
<path d="M191.1 305.2h0m2.7-3.8h0" stroke="#2A5980" stroke-width="1"/>
<path d="M187.6 300.5h0m.3 .7h0m.8 5.9h0m2.7-.8h0m-2-3.7h0m-.4-.3h0m3.7-2.4h0m.7 3.2h0m0 1.1h0m-.2 1.1h0m2.8-1.4h0m.9-.9h0m.3-.9h0m-1.8-1h0m3.4-.9h0" stroke="#2A5981" stroke-width="1"/>
<path d="M190.6 304.7h0" stroke="#2A5982" stroke-width="1"/>
<path d="M189.1 305h0m.8-1h0m1-4.5h0m3.9 3.6h0m-1 .2h0m-1.4 .3h0m.4 .6h0m2.7-1.9h0m0-.5h0m1.4-.5h0m.2-.7h0m-1.3-1.6h0m2.2 3.2h0m3.5-4.8h0" stroke="#2A5A82" stroke-width="1"/>
<path d="M189.3 304.7h0m.1-1.3h0m.6-1.9h0m.8-1.5h0m7.6 .5h0" stroke="#2A5A83" stroke-width="1"/>
<path d="M197.1 298.6h0m3.6 .5h0" stroke="#2B5B83" stroke-width="1"/>
<path d="M189.8 304.8h0m4.8-1.9h0" stroke="#2B5B84" stroke-width="1"/>
<path d="M191.3 307.1h0m.1-4.8h0m-1-2.2h0m-.5-.1h0m3 4.5h0m-.2 1.3h0m3.8-3.9h0m-1.4-2.5h0m4 2.4h0m3.4-3.6h0m1.9 1.4h0m-.2 .9h0" stroke="#2B5C85" stroke-width="1"/>
<path d="M190 305.6h0m6.8-6.8h0m.2-.4h0m-.1-.3h0m5.3 1.4h0m-.6-.2h0" stroke="#2B5C86" stroke-width="1"/>
<path d="M190.8 303.3h0m2.2 2.1h0m5.1-6.9h0m2.4 1.5h0m.8-1.6h0m3.4-2h0m.4 .7h0m-.3 3.2h0" stroke="#2C5D86" stroke-width="1"/>
<path d="M195.9 304.2h0m.1-1.4h0m.5-.3h0m4-4.4h0m5.7 .1h0" stroke="#2C5D87" stroke-width="1"/>
<path d="M191.1 303.2h0m2.8-3.2h0m.8 1.3h0m-1.3 2.3h0m.7 .1h0m-2.1 1.1h0m3.4-3.5h0m9.3-4.4h0" stroke="#2C5E87" stroke-width="1"/>
<path d="M191.5 304.4h0m5.1-2.4h0m.9-.8h0m3.2-2.3h0m6.3-.8h0m.5-1.8h0" stroke="#2C5E88" stroke-width="1"/>
<path d="M194.9 298.6h0m-1.9 1.6h0m1.3 .2h0m-2.3 2.3h0m3.4-4.4h0m5.1 1h0m-.2 .3h0m4.6 2.6h0m1.2 .2h0" stroke="#2D5F89" stroke-width="1"/>
<path d="M192.2 304.9h0m3.8-4.3h0m8.2-3h0m3.8-2.8h0" stroke="#2D5F8A" stroke-width="1"/>
<path d="M194.5 303.5h0m-.8 1.6h0m2.8-3.7h0m-1.5-2.7h0m3.6 2.1h0m-.3 1.3h0m4.8-3.8h0m1.7-2h0" stroke="#2D608A" stroke-width="1"/>
<path d="M194 300h0m4.3-1.8h0m7.8 1.6h0m2.2-.2h0" stroke="#2D608B" stroke-width="1"/>
<path d="M199.5 299.2h0m4.2-1.2h0m4-2.7h0m2.2-.5h0" stroke="#2E618B" stroke-width="1"/>
<path d="M195.9 302.9h0m5.7-4.6h0m7.7-.5h0m.8-2.9h0m-.1 1.6h0" stroke="#2E618C" stroke-width="1"/>
<path d="M208.3 295.5h0" stroke="#2E628C" stroke-width="1"/>
<path d="M194.8 299.5h0m.3 2.3h0m0-2.1h0m2.5-.4h0m4.1 0h0m2.9-2.8h0m-.6 2.3h0m4.3 .2h0m-.3-.6h0m.7-.5h0m1.2-.7h0m1-4.9h0m.4 3.1h0" stroke="#2E628D" stroke-width="1"/>
<path d="M197.9 301.5h0m-1.8-1h0m10.7-1.9h0m-2.3 4.6h0m4.5-1.6h0" stroke="#2E628E" stroke-width="1"/>
<path d="M195.9 298.7h0m4.1 .4h0m-1 .9h0m3.1-.4h0m7.7-4.8h0m1 4.6h0m-.5 1.5h0" stroke="#2F638E" stroke-width="1"/>
<path d="M203.9 299.6h0" stroke="#2F638F" stroke-width="1"/>
<path d="M197 301h0m.4-1.8h0m12.2-.7h0m1.4-5.2h0" stroke="#2F648F" stroke-width="1"/>
<path d="M196.1 303.8h0m3.9-5.8h0m2.6 .7h0m-.6-1.3h0m4 4.6h0m1.8-3.6h0m2.1-1.7h0m2.5-2.8h0m-1.3 5.7h0m-.8 .3h0" stroke="#2F6490" stroke-width="1"/>
<path d="M196.5 303.6h0" stroke="#306590" stroke-width="1"/>
<path d="M196.4 303h0m-.4-4.5h0m4.2-.3h0m-1.6 .3h0m.1 3.4h0m2.4-3.5h0m5-2.8h0m2.2 4.2h0m-1.2-3.4h0m2.2-1.5h0m1.1 2.7h0m3-3.5h0" stroke="#306591" stroke-width="1"/>
<path d="M201.7 299h0m6.9-3.3h0" stroke="#306592" stroke-width="1"/>
<path d="M200.2 299.6h0m-2.1 2.4h0m6.5-1.1h0m1.8 1.9h0m1.6-7.9h0m.6-.3h0m1.4-.4h0m2.5 2.1h0" stroke="#306692" stroke-width="1"/>
<path d="M200.8 289.3h0m-1.1 .4h0m.8 0h0m.4 .3h0m-.5 .3h0m-.5 .3h0m.7 0h0m-.3 .9h0m.5 .5h0m-.3 .2h0m-1.6 7.8h0m2.4-.4h0m1.5-2.8h0m.8-.3h0m.3-.2h0m-1.5-.1h0m1.2-.1h0m-.6-.7h0m-.4-.6h0m-.2-.3h0m.3 0h0m.3-.3h0m.3-.2h0m-1-.1h0m-.1-.7h0m0-.2h0m.5-.3h0m-1-.1h0m1-.1h0m-1.7-.1h0m1-.1h0m.9-.3h0m-1-.2h0m1 0h0m-.1-.1h0m-.6-.1h0m.6-.2h0m-.8-.3h0m.6-.1h0m-.8-.7h0m-.5-.1h0m.8-.1h0m-.4 0h0m.3-.1h0m-.1-.3h0m-.7 0h0m4.1 6.7h0m-.1 5h0m7-3.4h0m2.8-.6h0" stroke="#306693" stroke-width="1"/>
<path d="M198.9 300.4h0m-.5 0h0m13.4-3h0m-1.6 2h0m.7 .4h0m3.1-3.5h0" stroke="#316793" stroke-width="1"/>
<path d="M199.4 298.2h0m-.4 3h0m7.6-5.2h0m0 4h0m-1.8 .2h0m1.1 .5h0m0 2h0m3.9-4.8h0m0-.4h0m-2.7-.2h0m2.7-.1h0m-1.7-1.6h0m3.4-2.7h0m-1.1 3.2h0" stroke="#316794" stroke-width="1"/>
<path d="M204.5 297.6h0m.8 1.8h0m-.4 2.2h0m6.9-3.2h0m4-5.9h0" stroke="#316895" stroke-width="1"/>
<path d="M210.1 296.1h0" stroke="#316896" stroke-width="1"/>
<path d="M201.5 298.4h0m2.7 3.6h0m4.4-.5h0m.9-5.2h0m3.4-3.1h0m1.3 1.8h0m2.7-.1h0" stroke="#326996" stroke-width="1"/>
<path d="M200.7 300.2h0m4.2-1.3h0m.8 1.6h0m3.6-4.8h0m-.9-1h0m.8-1.3h0m2.1-1h0m.7 1.3h0m-.1 2.4h0m-1.2 1.3h0m-.4 3.2h0m5.4-4.5h0m-2.2-2.7h0m4.2-2.4h0m-.8 2.4h0m.7 1.1h0m-.5 1.1h0m-.9 .6h0" stroke="#326997" stroke-width="1"/>
<path d="M201.1 299.1h0m2.5-1.2h0m3.8 4.5h0m4.2-7.2h0m.6 1.2h0m1.6 .9h0m1.3-2.1h0m-.2-.1h0m1.5-3.2h0" stroke="#326A98" stroke-width="1"/>
<path d="M200.7 298h0m0 .9h0m.5 .7h0m11-5.6h0m-2 .5h0m.3 2.8h0m.7 2.7h0m1.9-2.1h0m.9-.3h0m1.5-3h0m-1.7-2.8h0m3.6-.3h0" stroke="#336B99" stroke-width="1"/>
<path d="M200.9 299.3h0m.4 .2h0m6.5-5.1h0m7.7 2h0" stroke="#336B9A" stroke-width="1"/>
<path d="M202.2 299h0m.6-.7h0m6.2 1.3h0m-.4-2h0m.6-.8h0m5.6-4.4h0m4.9 .1h0" stroke="#336C9A" stroke-width="1"/>
<path d="M211.2 295.1h0m1.2 .6h0m2.5 .9h0m-1.3-3.7h0" stroke="#336C9B" stroke-width="1"/>
<path d="M203.6 298.1h0m5.4-.3h0m3.7-1.1h0m3-.2h0m-.7-.6h0m.8-3.1h0m-2-.8h0m3.8-.7h0m.1 .3h0m.7 1.4h0m-.4 .3h0m2.1 .1h0m.4-.5h0" stroke="#346D9C" stroke-width="1"/>
<path d="M209.9 294.9h0m-.1-1.1h0m1.3 3.7h0m2.4-5h0m2.2-1.7h0m3 3.4h0m-2.4 .7h0m.1 0h0m-.4 1.1h0" stroke="#346E9D" stroke-width="1"/>
<path d="M210.7 300.7h0m4.1-7.1h0m5.3-.7h0m-.4-.5h0" stroke="#346E9E" stroke-width="1"/>
<path d="M210.1 294.7h0m1.2 .3h0m4-.1h0m.9-3.7h0" stroke="#356F9E" stroke-width="1"/>
<path d="M210.1 295.6h0m6 .6h0" stroke="#356F9F" stroke-width="1"/>
<path d="M214.4 297.5h0" stroke="#35709F" stroke-width="1"/>
<path d="M215.8 295.8h0m-1.3-.9h0m4.4-.4h0m1.7-2.1h0m-.8-.9h0" stroke="#3570A0" stroke-width="1"/>
<path d="M214.6 296.5h0m.9-3.4h0m.2-1.4h0m1.2 4.5h0m3.2-4.4h0m-.6-.6h0" stroke="#3671A1" stroke-width="1"/>
<path d="M219.7 292.6h0m.5-.5h0" stroke="#3671A2" stroke-width="1"/>
<path d="M213.8 297h0m-.3-.3h0m3.6-2.8h0" stroke="#3672A2" stroke-width="1"/>
<path d="M214.3 294.2h0m1.1-1.8h0m3.1-1.6h0m-.8 3.5h0m-1.7 2.5h0m3.1-2.9h0m2.7-.7h0m0-.3h0m-.2-.3h0m.9 .1h0m-.1 0h0m.8 .1h0m.3 .3h0m-.1 .3h0m.4 0h0m.5 .3h0m-.3 0h0m-.1 .1h0m-1.7 .2h0m.3 .1h0m1.9 0h0m-.1 .1h0m-2 .2h0m2.6 .2h0m-.5 0h0m-.7 .1h0m1.5 .2h0" stroke="#3672A3" stroke-width="1"/>
<path d="M214.3 296.9h0m4.5-5.2h0m-.6 1.3h0m-2 .6h0" stroke="#3773A3" stroke-width="1"/>
<path d="M215.2 297.6h0m4-3.7h0" stroke="#3773A4" stroke-width="1"/>
<path d="M214.6 297.3h0m-.1-.8h0m.8-3.8h0m2 3.3h0" stroke="#3774A5" stroke-width="1"/>
<path d="M221.4 292.7h0" stroke="#3774A6" stroke-width="1"/>
<path d="M215.7 291.2h0m2.8-.3h0m1.6 1.9h0m-1.1-.2h0m2.1-.3h0" stroke="#3875A6" stroke-width="1"/>
<path d="M215.7 295.5h0m1.7-4.8h0m-.6 2.1h0m1.7 2.5h0m-1.9 .2h0m4.2-3.5h0m.5-.2h0" stroke="#3875A7" stroke-width="1"/>
<path d="M217 296.4h0m4.1-4.7h0" stroke="#3876A7" stroke-width="1"/>
<path d="M221.3 291.5h0m-.2 0h0m.9-.1h0" stroke="#3876A8" stroke-width="1"/>
<path d="M217 292h0m1 3.8h0m1.2-2.1h0m.1-2.7h0m1.8-.1h0" stroke="#3977A9" stroke-width="1"/>
<path d="M221.7 290.3h0m.7-.1h0m.1 0h0" stroke="#3977AA" stroke-width="1"/>
<path d="M217.6 291.7h0m1.9-.7h0m2.3-.8h0m-.8-.1h0m.9-.3h0" stroke="#3978AA" stroke-width="1"/>
<path d="M222.1 289.7h0" stroke="#3978AB" stroke-width="1"/>
<path d="M220.8 293.5h0" stroke="#3A79AB" stroke-width="1"/>
<path d="M220.8 289.1h0m1-.4h0m-1.1 0h0m-.1 0h0m1.5-.1h0m-.1 .2h0m.2 .1h0" stroke="#3A79AC" stroke-width="1"/>
<path d="M222.3 288.5h0" stroke="#3A79AD" stroke-width="1"/>
<path d="M219.4 292.2h0m1.7-3.8h0m.6-.3h0m.1 0h0m-1.1 0h0m1.3 .1h0" stroke="#3A7AAD" stroke-width="1"/>
<path d="M222.1 287.7h0" stroke="#3B7BAE" stroke-width="1"/>
<path d="M221.3 287.2h0m1.1-.2h0" stroke="#3B7BAF" stroke-width="1"/>
<path d="M221.1 286.7h0m.2 0h0m.2-.6h0" stroke="#3B7CB0" stroke-width="1"/>
<path d="M221 286h0m0-.3h0m-.1-.2h0" stroke="#3C7DB1" stroke-width="1"/>
<path d="M222.7 285.4h0" stroke="#3C7DB2" stroke-width="1"/>
<path d="M221.4 285h0m1.1 .1h0" stroke="#3C7EB2" stroke-width="1"/>
<path d="M221.6 283.9h0m.7 .1h0m.1 .2h0m3.4 11.5h0m.3-.1h0m.7-.1h0m-.4 0h0m-.1-.2h0" stroke="#3D7FB4" stroke-width="1"/>
<path d="M222.4 283.5h0" stroke="#3D7FB5" stroke-width="1"/>
<path d="M221.4 283.5h0m-1.1-.1h0" stroke="#3D80B5" stroke-width="1"/>
<path d="M220.3 282.8h0m2-.1h0" stroke="#3D80B6" stroke-width="1"/>
<path d="M227.4 296.7h0" stroke="#3E81B6" stroke-width="1"/>
<path d="M220.7 282.1h0" stroke="#3E81B7" stroke-width="1"/>
<path d="M221.9 281.8h0m.4 0h0m.2 0h0" stroke="#3E82B7" stroke-width="1"/>
<path d="M220.1 281.5h0m.3-.2h0m2.4 .3h0m3.9 15.9h0" stroke="#3E82B8" stroke-width="1"/>
<path d="M221.3 280.4h0m1.2-.2h0m4.4 18.8h0" stroke="#3F83BA" stroke-width="1"/>
<path d="M220.2 279.9h0" stroke="#3F84BA" stroke-width="1"/>
<path d="M220.5 279.8h0m-.3-.1h0m-.2-.2h0m.1 0h0m2.6 0h0m-.3 .1h0m.2 0h0m4.6 20.2h0m.2-.2h0m.3-.2h0m.5 .4h0" stroke="#3F84BB" stroke-width="1"/>
<path d="M221.3 279h0m.4 0h0m5.2 21.5h0m.9-.1h0m-.2 0h0m.2-.2h0m-.6 0h0m.5-.2h0m1.2 .4h0m-.6 0h0" stroke="#4085BC" stroke-width="1"/>
<path d="M220.6 278.6h0m.4 0h0" stroke="#4085BD" stroke-width="1"/>
<path d="M220.5 278.3h0m.8 0h0m1.2 .1h0m6.2 22.6h0m-.4 .1h0" stroke="#4086BD" stroke-width="1"/>
<path d="M220.7 278h0m0-.3h0m1.4 0h0m4.8 23.7h0m1.2-.1h0" stroke="#4086BE" stroke-width="1"/>
<path d="M227.2 301.7h0m1.6-.2h0" stroke="#4187BE" stroke-width="1"/>
<path d="M221.6 277.1h0m-1.3-.1h0m.4-.2h0m1.7 .1h0m-.3 .5h0m5 24.9h0m.3-.4h0m.8 .1h0m1.6 0h0m-.1 .1h0m.3 0h0m-1.6 .1h0m1.1 0h0" stroke="#4187BF" stroke-width="1"/>
<path d="M221.4 276.7h0m-1.1-.3h0m-.7 0h0m1.8 0h0m-.6 0h0m6.8 26.3h0m-.4-.2h0m2.8 0h0m-1.7 .3h0m1.4 0h0m-.1 .1h0" stroke="#4188C0" stroke-width="1"/>
<path d="M221.9 276.1h0m-1.6 0h0m-.3 0h0m.7-.1h0m6.7 27h0m2.3 0h0m-.6 .1h0" stroke="#4188C1" stroke-width="1"/>
<path d="M227.3 303.5h0m2.2 0h0" stroke="#4289C1" stroke-width="1"/>
<path d="M222.4 275.5h0m7.1 28.2h0" stroke="#4289C2" stroke-width="1"/>
<path d="M222.2 275.1h0m4.8 19.7h0m3.2 9.2h0m-.4 0h0m-.6 .2h0" stroke="#428AC2" stroke-width="1"/>
<path d="M221.9 274.7h0m-1.4 0h0m.1-.1h0m-1.6-.1h0m8.3 29.8h0m0-9.6h0m-.7-.2h0m1.4 9.9h0m2.1 .2h0m.4 .1h0m-1.5 .1h0m2 0h0" stroke="#428AC3" stroke-width="1"/>
<path d="M220.6 274.2h0m.8 0h0m-2.1-.3h0m1.1-.1h0m7.1 31.5h0m-.1-11.6h0m1 0h0m-.3 .1h0m.4 11.1h0m.1 .2h0m.5 0h0m.4 0h0m.4 .1h0m-1.3 .1h0m2.6 0h0" stroke="#438BC4" stroke-width="1"/>
<path d="M219 273.6h0m2.5-.1h0m6.1 20h0m2.8 11.9h0m-1.2 .2h0" stroke="#438BC5" stroke-width="1"/>
<path d="M221.8 273.3h0m-.4-.2h0m1.2 .2h0m-.5 0h0m5.7 20.1h0m1.3-.3h0m-1 .1h0m.7 0h0m-.2 .2h0m-.1 12.3h0" stroke="#438CC5" stroke-width="1"/>
<path d="M219.9 272.8h0m2.6-.1h0m5 20.1h0m2.7 .2h0m-.8 13h0m1 .2h0m1.3 0h0m.2-.1h0" stroke="#438CC6" stroke-width="1"/>
<path d="M222 272.5h0m5.8 34.1h0m1.1-14h0m.6 0h0m.6 .1h0m-2 0h0m-.1 .1h0m.7 13.7h0" stroke="#448DC6" stroke-width="1"/>
<path d="M218.6 271.8h0m.1 .2h0m-.2 .1h0m3.1 .3h0m-1-.1h0m.5-.1h0m-.4-.1h0m-.3 0h0m.8 0h0m-1.2-.1h0m.1 0h0m1.2-.1h0m1.8 .3h0m0 .1h0m5.5 20h0m1 .1h0m-.9 0h0m-.2 14.3h0m2.3 0h0m-1 .2h0m1 .3h0m1-.4h0" stroke="#448DC7" stroke-width="1"/>
<path d="M218.5 271.6h0m.4 0h0m.4 0h0m1.9-.1h0m6.7 20.4h0m.4-.3h0m1.2 .2h0m-.3 .2h0m-.9 15.3h0m2.2 0h0m-2.1 .1h0m.1 0h0m.5 0h0m1.7 .3h0m-2.3 0h0m1 0h0m2.8-.4h0m-1.1-15.4h0m.8-.2h0m.3-.2h0" stroke="#448EC8" stroke-width="1"/>
<path d="M219 271.1h0m4.2 0h0m-1 .1h0m.1 0h0m7.3 20.1h0m-1 .1h0m2.3 16.5h0m.4 0h0m.3-16.5h0" stroke="#448EC9" stroke-width="1"/>
<path d="M218.7 270.6h0m2.4 .4h0m-.4-.2h0m1.1 0h0m-1.9-.1h0m.8-.1h0m-.7 0h0m2.6 .1h0m.2 .1h0m.3 .1h0m6 20.1h0m-.5 17.2h0m.7 .1h0m.9 .1h0m.6 0h0m1-.2h0m-.8-17.2h0" stroke="#458FC9" stroke-width="1"/>
<path d="M220.6 270.4h0m-.5-.1h0m.9 0h0m-1.1 0h0m2.4 0h0m6.9 20.4h0m1.1 0h0m-.7 .2h0m.2 17.8h0m.4 .1h0m1.2-.3h0m1.6-17.6h0m-1.1 0h0" stroke="#458FCA" stroke-width="1"/>
<path d="M218.8 269.9h0m-.1 .1h0m3.3-.1h0m0 .2h0m1 0h0m7.8 38.8h0m-.8 .1h0" stroke="#4590CA" stroke-width="1"/>
<path d="M218.5 269.4h0m2 .3h0m-.9-.1h0m-.3 0h0m-.3 0h0m2-.1h0m-1 0h0m3.2 .1h0m6.9 20.5h0m-.6 .2h0m-.2 18.8h0m1.3 .1h0m-.3 .1h0m-1.2 .1h0m.6 .1h0m.1 0h0m1 .1h0m1.3 0h0m1.1-.5h0m.6-19.2h0m1.1 .1h0m-.9 .1h0" stroke="#4590CB" stroke-width="1"/>
<path d="M234.1 289.9h0" stroke="#4590CC" stroke-width="1"/>
<path d="M218.5 268.8h0m3.2 .5h0m-1.4-.1h0m-.6 0h0m1.5-.3h0m-.6-.1h0m-1.4 0h0m3.5 .2h0m.4 .2h0m7.6 20.3h0m-.4 .1h0m.3 0h0m-.2 20.3h0m.2 0h0m.2 .3h0m-.5 0h0m-1.7 .1h0m2.6-.1h0m.7-20.4h0m.7-.1h0m-1.6-.1h0m1.8-.2h0m-.1 0h0m2.4 0h0m-.1 .2h0m.3 .2h0m-.3 .1h0" stroke="#4691CC" stroke-width="1"/>
<path d="M221.8 268.5h0m9 20.7h0m-.3 .1h0m.3 21h0m-.7 .1h0m2.3 0h0m.6-21.1h0m1-.1h0" stroke="#4691CD" stroke-width="1"/>
<path d="M230.9 289h0m.5 0h0m2.2-.1h0m-1.5-.1h0m2.3 .2h0m.8 .1h0" stroke="#4692CD" stroke-width="1"/>
<path d="M221.3 268h0m.2-.2h0m7.6 43.3h0m2.7 .2h0m.4-.1h0m-.2-.1h0m1.4 0h0m-.1-.1h0m-.1 0h0m-1.1-.1h0m1.2-22.1h0m.5-.1h0m-.3-.2h0m-1.8-.1h0m4.1 .1h0m-.3 .1h0" stroke="#4692CE" stroke-width="1"/>
<path d="M229.8 311.4h0m3.4 0h0m-1.3-23h0m.6-.1h0m3.4 0h0m-1.4 23.2h0m2.8-23.2h0" stroke="#4793CE" stroke-width="1"/>
<path d="M230.3 311.8h0m-.2 0h0m-.5 .2h0m2.8-.1h0m-.7 0h0m2.2-.2h0m-2.1-.1h0m.6-23.4h0m.1 0h0m.7-.4h0m-.5-.1h0m3.5 0h0m-1.7 .1h0m-.3 .1h0m2.4 .3h0m-.2 0h0m-2.3 23.5h0m3.2-23.9h0" stroke="#4793CF" stroke-width="1"/>
<path d="M233.4 287.7h0" stroke="#4793D0" stroke-width="1"/>
<path d="M229.5 312.5h0m1.4 0h0m-.1 .2h0m.3 0h0m.3-.3h0m1.1-24.7h0m1.1-.1h0m2.4 .1h0m-.8 24.9h0m0 .1h0m1.8-25.1h0m.5-.4h0" stroke="#4794D0" stroke-width="1"/>
<path d="M230.3 312.8h0m-.4 .1h0m3.1 0h0m2.2-25.9h0m-.8 0h0m1.1 .1h0m.1 0h0m-.2 0h0" stroke="#4794D1" stroke-width="1"/>
<path d="M230.8 313.1h0m1.8 .1h0m.8-26.4h0m1-.1h0m-.2 .1h0m1.7 0h0m-.8 .1h0m-.6 26.4h0" stroke="#4895D1" stroke-width="1"/>
<path d="M230.2 313.7h0m-.1 .1h0m3.6 0h0m-.2-.1h0m-1.3-.3h0m4.5-27h0m.2 .1h0m-2 26.9h0m2.5-26.8h0" stroke="#4895D2" stroke-width="1"/>
<path d="M231.6 313.9h0m-.1 0h0m1.5 0h0m0-.1h0m1.1-27.7h0" stroke="#4896D2" stroke-width="1"/>
<path d="M230 314.3h0m.6 .1h0m-.4 .1h0m1.1-.1h0m.4 0h0m.2-.1h0m1.9-.1h0m3.1-28.6h0m-2.7 0h0m1.6 .2h0m.3 .1h0m-1 .1h0m.6 .1h0m-1.4 28.4h0m3.1-28.9h0" stroke="#4896D3" stroke-width="1"/>
<path d="M231.7 315.1h0m-.2 0h0m.7 0h0m-.6 0h0m2.1-.3h0m-1.5-.1h0m2.9-29.7h0m.7 .1h0m-1.7 .1h0m1.3 0h0m-1 .1h0m.7 0h0m.2 0h0m-1.3 .2h0m.9 29.2h0m.7 .2h0m.4 0h0m-1.4 .1h0m1.6 .1h0m1.2-30h0" stroke="#4997D4" stroke-width="1"/>
<path d="M230.5 315.4h0m1.7-.2h0m3.5-30.4h0m.7 .1h0m-1.4 30.4h0m-.9 .1h0" stroke="#4997D5" stroke-width="1"/>
<path d="M231.6 315.5h0m4.5 .2h0m1-31.1h0" stroke="#4998D5" stroke-width="1"/>
<path d="M231 316.1h0m.1 0h0m.1 0h0m2.7-.1h0m-1 0h0m-.3 0h0m.9-.1h0m2.8-31.8h0m.6 .1h0m-2.2 0h0m.4 31.6h0m1.4 .1h0m-1.9 .1h0m1.8 .2h0" stroke="#4998D6" stroke-width="1"/>
<path d="M232.2 316.3h0m3.3-32.3h0m-.5 32.3h0" stroke="#4A99D6" stroke-width="1"/>
<path d="M231.3 316.9h0m.5 0h0m1.2-.1h0m-.9-.1h0m-1-.1h0m.4 0h0m1.6-.1h0m1-33h0m1.9 .1h0m-1.9 .1h0m2.1 0h0m-1.3 0h0m1.1 .1h0m.4 0h0m.5 .1h0m-2.6 32.5h0m1 .1h0m-.6 .1h0m1.9 .2h0m-.9 0h0" stroke="#4A99D7" stroke-width="1"/>
<path d="M232.1 317.5h0m2.6-34.7h0m.9 0h0m-.4 .1h0m1.5 .1h0m-.5 34.1h0m-2.1 .1h0m.2 .1h0m.5 0h0m-.8 .1h0m2.1 .2h0m.9-.1h0m.3-.2h0" stroke="#4A9AD8" stroke-width="1"/>
<path d="M236.6 282.6h0m-1.1 0h0m-1.2 .2h0m.7 34.8h0m1 .3h0m.5 0h0" stroke="#4A9AD9" stroke-width="1"/>
<path d="M233.9 318.1h0m2.2-35.7h0m-1 0h0m-.4 0h0m-.4 .1h0m1.7 35.4h0" stroke="#4B9BD9" stroke-width="1"/>
<path d="M234.7 281.9h0m1.5 0h0m-.9 0h0m-.4 0h0m-.2 .1h0m1.4 .1h0m-2.1 36.2h0m.6 0h0m.6 .4h0" stroke="#4B9BDA" stroke-width="1"/>
<path d="M232.4 318.8h0m3.8-37h0m-1.3 37h0m2.7 0h0m.2 0h0" stroke="#4B9CDA" stroke-width="1"/>
<path d="M233.9 319.3h0m-1.1-.3h0m1-37.4h0m1.3-.4h0m-1.1 0h0m.9 .1h0m.7 0h0m.2 0h0m.8 .4h0m-.5 37.2h0m-1.3 .2h0m1.3 .2h0" stroke="#4B9CDB" stroke-width="1"/>
<path d="M234.3 281.2h0m3 38.3h0" stroke="#4B9CDC" stroke-width="1"/>
<path d="M233.9 280.7h0m-.1-.1h0m2 .2h0m-.8 .2h0m.5 38.7h0m1 .1h0m-1 .2h0m.2 0h0m3.8 0h0m-.5-.2h0m-1.6 0h0m-.4 0h0m.3-.2h0m.9 0h0m1.1 0h0" stroke="#4C9DDC" stroke-width="1"/>
<path d="M232.5 320.2h0m3.1-39.8h0m.2 .2h0m-.5 0h0m.5 39.6h0m-1.7 .1h0m5.1-.2h0m.5 0h0m-1.9 0h0" stroke="#4C9DDD" stroke-width="1"/>
<path d="M232.4 320.4h0m1.5-40.2h0m1-.1h0m.6 0h0m.2 .2h0m-.7 0h0m.1 .1h0m1.3 40h0m-.6 .2h0m3.9 0h0m.3-.1h0" stroke="#4C9EDD" stroke-width="1"/>
<path d="M233.2 320.7h0m1.1-41h0m.5 .3h0m1.2 .1h0m.5 40.6h0m.3 .1h0m-2.3 .1h0m.5 .2h0m3.2-.1h0m.9-.2h0m-1.8-.1h0m.4 0h0m2.5 0h0m.5 .1h0" stroke="#4C9EDE" stroke-width="1"/>
<path d="M233.4 321.3h0m3.2-.1h0m3.4 0h0m.4 .1h0" stroke="#4D9FDE" stroke-width="1"/>
<path d="M233.8 321.8h0m-.2 0h0m-.6-.5h0m1.3-42.2h0m.6 42.3h0m-.6 0h0m.2 .2h0m.1 .1h0m.6 .1h0m-.2 0h0m.9 .1h0m2.6-.1h0m.3-.1h0m.5 0h0m-2-.1h0m1-.1h0m1.6-.1h0m.3 .1h0m.3 .1h0m-.2 0h0m.7 .1h0m.5 .1h0" stroke="#4D9FDF" stroke-width="1"/>
<path d="M234.9 279h0m.2 0h0m-.1 43h0m5.5-.1h0m1.1 0h0" stroke="#4D9FE0" stroke-width="1"/>
<path d="M233.4 322h0m.3-43.2h0m-.1-.2h0m1.4 0h0m-.9 0h0m.7 43.5h0m.7 .2h0m-.2 0h0m.9 0h0m1.2-.1h0m-.2 0h0m0-.1h0m2.2-.1h0m2.4 0h0m-1.1 .4h0m-.1 0h0m.6 0h0m.2 0h0" stroke="#4DA0E0" stroke-width="1"/>
<path d="M233.9 278.4h0m1.2-.2h0m-.2 .1h0m-.3 44.3h0m.8 .1h0m4.2 .1h0m-.2-.1h0m.3-.1h0m-1.4 0h0m-.5-.1h0m4.2 .1h0" stroke="#4DA0E1" stroke-width="1"/>
<path d="M233.7 278.1h0m-.1-.1h0m.4-.1h0m.9 45h0m0 .1h0m2.5 .1h0m1.3 0h0m-1.6 0h0m.6-.2h0m3.8 .1h0m-.8 0h0" stroke="#4EA1E1" stroke-width="1"/>
<path d="M234.5 277.7h0m.3 .1h0m1 45.7h0m-1.5 .1h0m5.1-.1h0m-1.6 0h0m-.5-.2h0m1.4 0h0m3.5-.1h0m-1.5 .4h0m1.7 0h0m.9-.3h0" stroke="#4EA1E2" stroke-width="1"/>
<path d="M236.6 323.6h0" stroke="#4EA2E2" stroke-width="1"/>
<path d="M233.8 277h0m-.1-.1h0m.6 0h0m-.1 .2h0m.1 47h0m-.2 .2h0m3 0h0m.1-.1h0m1.1-.1h0m.2-.1h0m.9-.2h0m3.4 0h0m-1.7 0h0m1 0h0m.8 .3h0m-1.1 .1h0m.6 0h0m-.3 0h0m-.2 .1h0m2.6-.3h0m0-.1h0m-1.5-.1h0m1-.1h0" stroke="#4EA2E3" stroke-width="1"/>
<path d="M235 324.4h0m2.8 0h0m6.4 0h0m-.9 0h0" stroke="#4EA2E4" stroke-width="1"/>
<path d="M236.1 324.5h0m-1 0h0m-.6 .1h0m1.4 .3h0m3.4-.1h0m-.5-.1h0m4.1-.1h0m-1.3 0h0m.3 0h0m-1.9 .3h0m5.4-.1h0m-.5-.3h0" stroke="#4FA3E4" stroke-width="1"/>
<path d="M234.5 325h0m1.5 .3h0m2.1-.1h0m1.1-.2h0m1 0h0m.8 .1h0m1.8 0h0m-.9 .2h0m2.1-.3h0" stroke="#4FA3E5" stroke-width="1"/>
<path d="M234.5 325.3h0m1.2 0h0m.8 .1h0m-1.7 0h0m.9 .1h0m2.8-.2h0" stroke="#4FA4E5" stroke-width="1"/>
<path d="M235.9 325.6h0m-.2 .4h0m2.2-.1h0m.5-.1h0m-1.3 0h0m1.5-.2h0m.1 0h0m.6 0h0m3.4 .2h0m-2.3 0h0m.2 .1h0m2.7 0h0m2.2-.2h0m1.9 .1h0m-1.4 0h0m.6 .1h0" stroke="#4FA4E6" stroke-width="1"/>
<path d="M241.8 326.1h0" stroke="#50A5E6" stroke-width="1"/>
<path d="M236.4 326.2h0m-1 .3h0m-.2 0h0m3.5 .2h0m.1-.3h0m.7 0h0m-2.3 0h0m.9 0h0m-1.1-.2h0m3.9 0h0m.9 0h0m-1.2 .1h0m.6 0h0m.3 .2h0m-1.1 .1h0m5.1 .1h0m.3-.3h0m-2.8-.1h0m2.1-.1h0m-.3 0h0" stroke="#50A5E7" stroke-width="1"/>
<path d="M240.7 326.8h0m4.6 .1h0m-1.3 0h0" stroke="#50A5E8" stroke-width="1"/>
<path d="M235.9 327.3h0m2.9 .1h0m.5-.3h0m3-.1h0m-2.3 .1h0m2.4 .3h0m1.4-.1h0m2.2-.1h0" stroke="#50A6E8" stroke-width="1"/>
<path d="M238.3 327.6h0m-.5 0h0m.2-.1h0m1.7 0h0m1.7-.1h0m.5 .2h0m-1 0h0m4.5-.2h0m.9 0h0" stroke="#50A6E9" stroke-width="1"/>
<path d="M238.2 328h0m-.7 0h0m1.9 0h0m-1.8-.1h0m3.7-.1h0m-.2 0h0m3.8 .2h0m.7-.2h0" stroke="#51A7E9" stroke-width="1"/>
<path d="M236.3 328.1h0m3.3 0h0m-1.9-.1h0m5.2 0h0m-2.8 .1h0m1 0h0m.7 0h0m0 .1h0m-1.7 0h0m2.5 0h0m-.7 .1h0m2.2 .1h0m-.9-.1h0m3-.2h0m.4 .2h0m-.2 0h0" stroke="#51A7EA" stroke-width="1"/>
<path d="M236.9 328.6h0m.3 .2h0m-.2-.1h0m.3 0h0m5.1 0h0m-2 0h0m2.4 .1h0m2.8 0h0m-1.4-.1h0m2.7 .2h0m-.9 .3h0" stroke="#51A8EB" stroke-width="1"/>
<path d="M239.9 329.4h0m-2-.1h0m1.7-.1h0m1.1 .1h0m2.3 0h0" stroke="#51A8EC" stroke-width="1"/>
<path d="M236.7 329.8h0m2.1-.1h0m-1.8 0h0m1.1 0h0m-.4 0h0m2.1-.1h0m-2.4-.1h0m2.3 0h0m-2.2 0h0m.4-.1h0m.8 0h0m2.9 0h0m-.8 .3h0m1.4 0h0m3.6 .1h0m-2.2-.2h0m2.8-.2h0m.3 .1h0" stroke="#52A9EC" stroke-width="1"/>
<path d="M236 330h0m3.1 0h0m2.8-.2h0m-.9 .1h0m0 .2h0m3.8-.2h0" stroke="#52A9ED" stroke-width="1"/>
<path d="M238.8 330.4h0m1.6-.1h0m1.7 0h0" stroke="#52AAED" stroke-width="1"/>
<path d="M236.1 330.5h0m3.2 .5h0m-1.2-.1h0m-1.1-.2h0m1.6 0h0m2.1-.2h0m-.1 0h0m1.5 .1h0m-.7 .1h0m1.4 .2h0m-.9 .1h0m-1.5 0h0m4.1-.1h0m1.4 0h0m-1.6-.1h0" stroke="#52AAEE" stroke-width="1"/>
<path d="M237 331h0" stroke="#53ABEE" stroke-width="1"/>
<path d="M236.8 331.2h0m0 .1h0m2 0h0m-.6-.1h0m-.3-.1h0m4.2 .1h0m-1.5 0h0m1.8 .1h0m-1.7 0h0m.2 0h0m.5 .3h0m3.5 0h0m-1.2-.1h0m1.3 0h0m-.5 0h0m-1-.1h0m1.2 0h0m0-.1h0m-1.3-.1h0m1.1-.1h0m2 0h0m.1 .1h0" stroke="#53ABEF" stroke-width="1"/>
<path d="M239 331.7h0m-1.9 0h0m3.6 .1h0m5.1 0h0m-2.7 0h0m1-.1h0" stroke="#53ABF0" stroke-width="1"/>
<path d="M238.6 332.1h0m-.8-.2h0m3.6 0h0m.6 .2h0m.3 0h0m3 0h0m1.1-.1h0" stroke="#53ACF0" stroke-width="1"/>
<path d="M237.6 332.6h0m1.7-.2h0m.6 0h0m-2.5-.1h0m5.5 .3h0m.4 0h0m0-.2h0m2.2-.1h0" stroke="#53ACF1" stroke-width="1"/>
<path d="M239.3 332.8h0" stroke="#54ADF1" stroke-width="1"/>
<path d="M237.8 333.2h0m2.1 0h0m-1.7-.2h0m2.2 0h0m1.4 .3h0m-1.7 0h0m.4 0h0m2.4 .1h0m2.9-.1h0m-2.5-.2h0m2.5-.1h0" stroke="#54ADF2" stroke-width="1"/>
<path d="M241.2 333.6h0m-.5 .1h0m2.1 0h0m-1.5 .2h0m2.5 0h0m1-.1h0m1 0h0m-.5 0h0m-1.6-.1h0m1.5-.1h0m-2.1-.1h0" stroke="#54AEF3" stroke-width="1"/>
<path d="M238.7 334.1h0m5.3 .1h0" stroke="#54AEF4" stroke-width="1"/>
<path d="M239.8 334.6h0m0-.1h0m6.1 .2h0m-.3-.1h0m-2-.1h0m.4-.2h0m2.2 .2h0" stroke="#55AFF4" stroke-width="1"/>
<path d="M240.5 334.8h0m1.6 .2h0m.2 .1h0m.7-.2h0" stroke="#55AFF5" stroke-width="1"/>
<path d="M242 335.2h0m1.9 0h0" stroke="#55B0F5" stroke-width="1"/>
<path d="M240.7 335.6h0m2 .2h0m1.4 .1h0m1.2-.1h0m-1.6 0h0m1.6-.3h0m.8 .4h0" stroke="#55B0F6" stroke-width="1"/>
<path d="M241 335.9h0m2 .1h0m2-.1h0" stroke="#56B1F7" stroke-width="1"/>
<circle cx="203.4" cy="297.5" r=".8" fill="#111"/>
<circle cx="221.6" cy="292.5" r=".8" fill="#111"/>
<circle cx="226.6" cy="295.2" r=".8" fill="#111"/>
<text x="183.3" y="254.2" font-size="3.3" font-weight="bold" fill="#222">Pseudotime</text>
<defs><linearGradient id="pg"><stop offset="0" stop-color="#132B43"/><stop offset="1" stop-color="#56B1F7"/></linearGradient></defs>
<rect x="204.2" y="250.3" width="20.8" height="5.1" fill="url(#pg)"/>
<text x="205.2" y="259.4" font-size="2.7" text-anchor="middle" fill="#333">0</text>
<text x="208.9" y="259.4" font-size="2.7" text-anchor="middle" fill="#333">5</text>
<text x="212.7" y="259.4" font-size="2.7" text-anchor="middle" fill="#333">10</text>
<text x="216.4" y="259.4" font-size="2.7" text-anchor="middle" fill="#333">15</text>
<text x="220.2" y="259.4" font-size="2.7" text-anchor="middle" fill="#333">20</text>
<text x="223.9" y="259.4" font-size="2.7" text-anchor="middle" fill="#333">25</text>
<text x="246.5" y="242.5" font-size="8.5" font-weight="bold">H</text>
<line x1="257.8" y1="263.5" x2="257.8" y2="339.9" stroke="#333" stroke-width=".5"/>
<line x1="256.5" y1="264.8" x2="257.8" y2="264.8" stroke="#333" stroke-width=".4"/>
<text x="255.9" y="266.3" font-size="4.3" text-anchor="end" font-weight="bold" fill="#222">8</text>
<line x1="256.5" y1="282.9" x2="257.8" y2="282.9" stroke="#333" stroke-width=".4"/>
<text x="255.9" y="284.4" font-size="4.3" text-anchor="end" font-weight="bold" fill="#222">4</text>
<line x1="256.5" y1="300.9" x2="257.8" y2="300.9" stroke="#333" stroke-width=".4"/>
<text x="255.9" y="302.4" font-size="4.3" text-anchor="end" font-weight="bold" fill="#222">0</text>
<line x1="256.5" y1="318.9" x2="257.8" y2="318.9" stroke="#333" stroke-width=".4"/>
<text x="255.9" y="320.4" font-size="4.3" text-anchor="end" font-weight="bold" fill="#222">-4</text>
<line x1="256.5" y1="337" x2="257.8" y2="337" stroke="#333" stroke-width=".4"/>
<text x="255.9" y="338.5" font-size="4.3" text-anchor="end" font-weight="bold" fill="#222">-8</text>
<line x1="257.8" y1="339.7" x2="325.6" y2="339.7" stroke="#333" stroke-width=".5"/>
<line x1="270.3" y1="339.7" x2="270.3" y2="341" stroke="#333" stroke-width=".4"/>
<text x="270.3" y="344.9" font-size="4.4" text-anchor="middle" font-weight="bold" fill="#222">-10</text>
<line x1="285.1" y1="339.7" x2="285.1" y2="341" stroke="#333" stroke-width=".4"/>
<text x="285.1" y="344.9" font-size="4.4" text-anchor="middle" font-weight="bold" fill="#222">-5</text>
<line x1="299.9" y1="339.7" x2="299.9" y2="341" stroke="#333" stroke-width=".4"/>
<text x="299.9" y="344.9" font-size="4.4" text-anchor="middle" font-weight="bold" fill="#222">0</text>
<line x1="314.7" y1="339.7" x2="314.7" y2="341" stroke="#333" stroke-width=".4"/>
<text x="314.7" y="344.9" font-size="4.4" text-anchor="middle" font-weight="bold" fill="#222">5</text>
<line x1="328.6" y1="339.7" x2="395.6" y2="339.7" stroke="#333" stroke-width=".5"/>
<line x1="341.4" y1="339.7" x2="341.4" y2="341" stroke="#333" stroke-width=".4"/>
<text x="341.4" y="344.9" font-size="4.4" text-anchor="middle" font-weight="bold" fill="#222">-10</text>
<line x1="356.2" y1="339.7" x2="356.2" y2="341" stroke="#333" stroke-width=".4"/>
<text x="356.2" y="344.9" font-size="4.4" text-anchor="middle" font-weight="bold" fill="#222">-5</text>
<line x1="371" y1="339.7" x2="371" y2="341" stroke="#333" stroke-width=".4"/>
<text x="371" y="344.9" font-size="4.4" text-anchor="middle" font-weight="bold" fill="#222">0</text>
<line x1="385.8" y1="339.7" x2="385.8" y2="341" stroke="#333" stroke-width=".4"/>
<text x="385.8" y="344.9" font-size="4.4" text-anchor="middle" font-weight="bold" fill="#222">5</text>
<text x="327.5" y="350" font-size="4.6" text-anchor="middle" font-weight="bold" fill="#222">Component 1</text>
<text x="251" y="301" font-size="4.6" text-anchor="middle" font-weight="bold" fill="#222" transform="rotate(-90 251 301)">Component 2</text>
<text x="293.5" y="265" font-size="4.6" text-anchor="middle" font-weight="bold" fill="#222">AD</text>
<text x="363.4" y="265" font-size="4.6" text-anchor="middle" font-weight="bold" fill="#222">Normal</text>
<text x="304.5" y="254.5" font-size="2.9" font-weight="bold" fill="#333">Group</text>
<circle cx="319.2" cy="253.3" r="1.7" fill="#F8766D"/>
<text x="321.6" y="254.5" font-size="3" font-weight="bold" fill="#333">AD</text>
<circle cx="332" cy="253.3" r="1.7" fill="#00BFC4"/>
<text x="334.6" y="254.5" font-size="3" font-weight="bold" fill="#333">Normal</text>
<polygon points="265.2,302.9 270.9,300.5 280.2,298.2 288.6,296.7 289.1,297.5 287.7,299.3 280.2,305.9 270.9,310.9 266.2,313.1" fill="#F8766D" stroke="#F8766D" stroke-width="0.5" stroke-linejoin="round" opacity="0.3"/>
<polygon points="289.2,296.9 289.8,295.5 294.6,292 298.2,290.5 301.8,289.8 303.9,291.2 303.9,292.9 301.8,294.8 298.2,297.6 294.6,300.5 289.8,303.3 289.1,300.1" fill="#F8766D" stroke="#F8766D" stroke-width="0.5" stroke-linejoin="round" opacity="0.4"/>
<polygon points="307.7,293.4 310.2,289.8 313.1,287 314.3,284.2 313.8,280 313.8,276.4 315,276.4 316.4,281.4 316.7,284.2 317.6,286.3 316.7,288.4 313.8,290.5 310.7,292.7 308.4,294.8" fill="#F8766D" stroke="#F8766D" stroke-width="0.5" stroke-linejoin="round" opacity="0.5"/>
<polygon points="301.2,268.3 302.3,267.3 304.2,267.4 305.4,269 305.2,273.5 305,277.2 304.8,283.8 304.7,289.7 304.2,292.3 303.2,292.3 303,287.5 302.7,282.3 302.3,277.2 301.3,274.2" fill="#F8766D" stroke="#F8766D" stroke-width="0.5" stroke-linejoin="round" opacity="0.5"/>
<polygon points="307.3,294.8 308,294.8 312.6,306.7 317.3,318.1 321.5,323.7 323.9,325.8 323.5,335 320.3,335.3 317.3,331.4 316.7,327.9 313.8,319.5 310.2,309.6" fill="#F8766D" stroke="#F8766D" stroke-width="0.5" stroke-linejoin="round" opacity="0.45"/>
<path d="M260.9 309.1h0m-.4 .2h0m-.1 .7h0m.5 1.1h0m2.8 4.3h0m-.5-.3h0m.2-.6h0m-1.5-.3h0m1-.4h0m-.1-1.1h0m-1.3-.5h0m.7-.1h0m.3-.2h0m-.8-.3h0m1.3 0h0m-.7-.7h0m-.2-.3h0m-.2-.8h0m1.3-.3h0m-1.4-.5h0m.7-.1h0m-.1-.1h0m.5-.9h0m.4-.7h0m-.7-.3h0m-.2-.1h0m.3 0h0m1.1-.2h0m-1.9-1.1h0m-.1 0h0m0-.1h0m.7-.1h0m-1.2-.8h0m2.5-.3h0m-2.6 0h0m2.5-.8h0m-.5-.6h0m-1.2-.7h0m.9-.1h0m1.3-.3h0m1.3 1.1h0m.3 .4h0m-1.8 .1h0m1.8 0h0m-.7 .1h0m1.4 .2h0m-.8 .3h0m.7 .2h0m-.3 .1h0m.7 0h0m-.9 .2h0m-1 .3h0m1.3 0h0m-.5 .2h0m.8 .1h0m-.7 .7h0m1.1 .1h0m-2.3 .2h0m2 0h0m-1.2 .3h0m1.4 0h0m0 .1h0m-2.4 .2h0m1.7 0h0m.7 0h0m-1.1 .1h0m-.4 0h0m.9 .5h0m-.2 0h0m-1.5 .1h0m1.3 .4h0m-1.6 .1h0m2.7 .1h0m-.8 .1h0m.4 0h0m-1.4 .1h0m-1 .5h0m.7 .1h0m.3 0h0m0 .1h0m.4 .1h0m1 0h0m-.6 .2h0m.9 .5h0m-.7 .1h0m.1 .1h0m-.2 0h0m-.1 .1h0m1 0h0m-1 0h0m.7 .1h0m0 .3h0m-2.2 .5h0m2.2 0h0m.3 .1h0m-2.7 .1h0m.8 .1h0m-.6 .1h0m.1 .4h0m2.3 .3h0m-.5 .1h0m-.3 .1h0m.5 0h0m-2.1 .3h0m2 .4h0m-1.5 .3h0m-.9 0h0m1 1.1h0m.7 .2h0m-.5 .2h0m0 .1h0m-.9 .5h0m2.9-2.6h0m.1-.1h0m0-.5h0m.3-.1h0m.4 0h0m.8-.2h0m-.3 0h0m-1 0h0m.6-.2h0m-1 0h0m2.4-.3h0m-1.7-.1h0m1.4-.1h0m-1.8-.2h0m2 0h0m-2.4-.1h0m1.3-.2h0m1.1-.1h0m-.8-.1h0m-1.6 0h0m.9 0h0m-.4-.4h0m-.3-.2h0m.5-.1h0m2.1 0h0m-1.1 0h0m-.9-.3h0m-.5 0h0m2.3-.1h0m-1.9 0h0m-.4-.5h0m.3-.4h0m1.3-.1h0m-1.5 0h0m1.2-.1h0m1.2-.1h0m.1 0h0m-1.1-.1h0m-1.4-.1h0m-.2 0h0m.2-.2h0m1.4-.2h0m-1.4-.1h0m.6-.1h0m.2-.1h0m1.5-.3h0m-.6-.1h0m-.3-.1h0m-1.3-.1h0m.8 0h0m-.7-.2h0m.8-.1h0m-.7-.1h0m.5-.4h0m-1.1 0h0m1.5-.1h0m-.9 0h0m1.9 0h0m-1.4-.1h0m1-.1h0m-1.8 0h0m2.2-.1h0m-2.3 0h0m.8-.1h0m1.5-.1h0m-1.5-.1h0m-.8 0h0m1.5-.2h0m-.8-.1h0m-.7-.2h0m1.8 0h0m.3-.4h0m-1.5 0h0m.5-.2h0m-.7 0h0m-.6-.2h0m.4-.2h0m1.6 0h0m-.2-.1h0m.1 0h0m-1.4-.1h0m1.3-.1h0m-1.3-.1h0m1.6-.2h0m.3-.2h0m-.5-.2h0m-.6 0h0m-.4-.3h0m1.6 0h0m-1.2-.2h0m-.5-.1h0m1.9-.1h0m-1.7-.1h0m1.1-.2h0m2.3-1.1h0m.2 .1h0m-.4 .2h0m1.2 0h0m-.4 .1h0m-1.8 0h0m2.3 .3h0m-1.3 0h0m-.5 .2h0m1 .1h0m-.8 0h0m-.7 .3h0m2.5 .1h0m-.5 .2h0m-1.3 0h0m1.7 .1h0m-1.7 .2h0m-.1 .5h0m-.1 0h0m-.5 .1h0m2.5 .2h0m-1.6 .1h0m1.7 .2h0m-2.5 0h0m1.2 0h0m-1.1 .2h0m.2 0h0m.1 0h0m0 .3h0m1.7 .1h0m-1.6 .4h0m1.6 .1h0m.2 .2h0m-1.2 0h0m1 .1h0m-2.4 .2h0m.2 .1h0m.1 0h0m1.5 .1h0m.1 0h0m0 .1h0m-1.4 .4h0m1.7 0h0m-2.2 0h0m1 .1h0m1 0h0m-.8 0h0m.4 .4h0m1.2 .1h0m-1.2 .2h0m-1.4 0h0m.5 .3h0m0 .1h0m1.5 .1h0m-.3 0h0m-.7 0h0m.5 .1h0m-1.6 .2h0m1.7 .1h0m.4 .1h0m-.4 .1h0m-.4 .3h0m0 .3h0m-.8 .1h0m0 .2h0m1.9 .1h0m-.9 0h0m-1.4 .3h0m1.4 0h0m-1.5 .1h0m.3 0h0m1.5 .1h0m.5 .1h0m-2.5 .1h0m1.1 .1h0m.6 .1h0m-.5 .1h0m-.5 0h0m-.1 .1h0m.8 .3h0m-.7 0h0m.3 .1h0m1.1 .1h0m-1.4 0h0m.3 .2h0m-.4 .2h0m2.9-1.2h0m-.3-.1h0m.4 0h0m1-.7h0m-.6-.1h0m.4 0h0m-.1-.2h0m-1.3 0h0m1.1-.1h0m-.9 0h0m1.9-.2h0m-1.7-.1h0m2.5-.1h0m-1-.1h0m-.8 0h0m-.7-.1h0m.7-.1h0m.6-.2h0m1.2 0h0m-.4-.2h0m.2-.2h0m-1.8 0h0m.7 0h0m.7-.4h0m-2-.9h0m2.4-.1h0m-.9-.2h0m.9-.1h0m-1.5-.1h0m.2-.2h0m-.1 0h0m.2 0h0m.8 0h0m-2-.2h0m1.2-.2h0m1.4 0h0m-.7-.1h0m-1.3-.2h0m1.3-.4h0m-.7-.1h0m-.3-.1h0m-.1 0h0m-1.1 0h0m0-.1h0m.4-.1h0m1.9 0h0m0-.5h0m.4-.1h0m-2.7 0h0m.6-.1h0m0-.1h0m2.3-.1h0m-1.6-.1h0m.7 0h0m-1.6-.1h0m2.1-.1h0m.1 0h0m-2-.1h0m.4-.1h0m1.1-.1h0m.7 0h0m-2.3-.3h0m.5-.1h0m.7-.1h0m-.9-.1h0m1.3-.3h0m-1-.1h0m1.6-.1h0m-1.9 0h0m-.5-.1h0m.2-.1h0m.4 0h0m-.2 0h0m1.7-.1h0m-2.1-.2h0m1.7-.1h0m.7-.1h0m-2.5 0h0m1 0h0m-.5-.1h0m4.9-1h0m-.7 .3h0m-.5 .2h0m1.3 0h0m-.9 .1h0m.3 .2h0m-1.2 .1h0m.5 0h0m1 .2h0m-2.3 .3h0m-.1 .3h0m2.5 .1h0m-2 0h0m1.8 .2h0m-.2 .1h0m-.2 0h0m-.9 0h0m1.6 .1h0m-.3 0h0m-.5 .2h0m-.3 .6h0m-.6 0h0m.1 .5h0m1.5 .1h0m-2 .1h0m2 0h0m-.1 .2h0m-.6 0h0m-1.8 .1h0m1.6 .4h0m.7 .1h0m-2.3 .2h0m2.7 .2h0m-1.3 .1h0m-.1 .1h0m-1 .1h0m.6 .1h0m1.8 .1h0m-.3 0h0m.3 0h0m-2.2 0h0m2.3 .7h0m-.3 .1h0m-1.8 .1h0m.8 .1h0m-1.2 .6h0m.4 0h0m1.4 .1h0m.6 .3h0m-2.1 0h0m1.4 .4h0m-.1 0h0m-.9 .1h0m.9 .1h0m-1.6 0h0m1.3 .1h0m-.4 0h0m.5 .1h0m-1.6 .2h0m0 .1h0m0 .5h0m3.6-1.9h0m-.1-.2h0m.1-.4h0m.2 0h0m0-.2h0m-.4-.5h0m1.5 0h0m-1.2-.4h0m-.1 0h0m1.6-.1h0m-.4-.1h0m-.7-.2h0m.7 0h0m-.5-.2h0m.5-.1h0m-.9-.2h0m-.8 0h0m1.5-.2h0m-1.4 0h0m2.3-.1h0m-.6-.1h0m.2-.1h0m.4-.1h0m-.9-.2h0m.3-.1h0m-1.1-.1h0m.2-.3h0m-.9-.2h0m-.1-.1h0m1.7 0h0m-.6 0h0m0-.3h0m-1.1 0h0m2.4-.1h0m-.5 0h0m.6 0h0m-2.2-.1h0m-.1 0h0m1.3-.3h0m.5-.1h0m-.9-.1h0m-.5 0h0m.6-.1h0m-.6-.2h0m1.7 0h0m.1-.1h0m-1-.1h0m1.2-.1h0m-2.4-.1h0m2.6-.2h0m-2.7-.2h0m2.6 0h0m-2.3-.2h0m1.2 0h0m.5-.2h0m-1.6 0h0m2.1-.1h0m-1.4 0h0m.9-.2h0m-1-.2h0m-.8-.1h0m.9-.1h0m1 0h0m-.3-.1h0m-1.1-.1h0m.3 0h0m.1-.1h0m1-.2h0m2.2-.5h0m.5 0h0m-1.1 0h0m1 .2h0m.4 .4h0m0 .3h0m.5 .1h0m-.6 0h0m-1.2 .1h0m1.6 .1h0m-.1 .2h0m-.4 .2h0m.2 0h0m-1.8 .2h0m.6 .1h0m.4 .1h0m.5 0h0m-.8 .2h0m-.1 0h0m.7 .1h0m.5 .1h0m-.4 0h0m-.5 .1h0m-.1 .3h0m-.9 0h0m1.9 .1h0m-.8 .1h0m-1.4 .1h0m1.6 .1h0m.8 0h0m-1.2 .2h0m1.6 .1h0m-.3 .2h0m-.9 0h0m.3 0h0m-.3 .1h0m-1.1 0h0m.3 .1h0m.4 .1h0m1.1 0h0m-1.4 .1h0m.4 .1h0m.2 .3h0m-.9 .1h0m.8 .2h0m-.8 .1h0m.6 .3h0m-.8 .1h0m2.9-1.8h0m-.2-.1h0m.5-.2h0m-.4-.1h0m.6-.1h0m-.5-.2h0m.2-.4h0m-.5-.2h0m.4-.2h0m.4 0h0m1.4-.3h0m-1.2-.1h0m1.3 0h0m-2-.3h0m.3-.1h0m.8 0h0m-.3-.2h0m0-.1h0m-1 0h0m1.5-.1h0m-1.2-.1h0m-.4 0h0m2.3-.1h0m-2.2-.1h0m2.2-.1h0m.4-.2h0m-.2-.2h0m-2.6 0h0m1.3-.1h0m.1-.1h0m1.2 0h0m-.6-.5h0m.8-2h0m-.2-.1h0m-.2-.6h0m.3-1.9h0m-.7-.4h0m.2-.3h0m-.9-.3h0m.4-.1h0m.9-.1h0m-1.4-.1h0m1.2 0h0m-.3-.6h0m-.2-.2h0m.8-.1h0m-.3 0h0m.4-.5h0m-.1-.1h0m-.1-.2h0m.2-.1h0m-.5-.1h0m-.9-.2h0m2.2 3.8h0m.2 .1h0m-.2 .7h0m-.1 .4h0m.2 .4h0m.5 .3h0m-1.2 .3h0m.3 .3h0m.3 .2h0m.1 .2h0m2.1 0h0m-1.3 .1h0m-1.2 .1h0m.1 .2h0m1.3 .1h0m-1.2 .6h0m.9 0h0m-1.1 .1h0m.3 .2h0m1.5 .3h0m-2.1 .5h0m2.7 0h0m-.2 .2h0m-1 .6h0m.5 .1h0m-.7 .2h0m0 .7h0m0 .1h0m.4 .6h0m-.3 .1h0m.3 .6h0m.3 .1h0m-.1 .5h0m.6 .4h0m-.4 .3h0m1.5-.3h0m1.8-1.2h0m-1.6 0h0m.3-.2h0m.8-.1h0m-1.4-1.1h0m.2 0h0m-.5-.1h0m-.1-.6h0m.2-.3h0m2.1-.1h0m-1.6-.2h0m-.6-.2h0m-.1-.3h0m2.1-.1h0m-2 0h0m1.2-.3h0m-.9-.7h0m1.6-.2h0m-1 0h0m1.6-.1h0m-1.9-.2h0m-.3-.1h0m1.5-.3h0m0-.2h0m-.2-.1h0m.3-.2h0m-.8 0h0m.9-.2h0m-.9-.2h0m.2-.3h0m-.4-.7h0m1.8-.5h0m-.7-.2h0m.6-.3h0m2.5-1.4h0m-.2 .5h0m.4 .1h0m-.6 0h0m.8 .6h0m-1.2 .6h0m-1.3 .5h0m2.6 .1h0m-.3 0h0m.2 0h0m-1.6 .5h0m.6 .3h0m.9 .1h0m-2.4 .2h0m.5 .1h0m2.1 .2h0m-.6 0h0m-2.2 .2h0m.7 .8h0m-.2 .1h0m-.1 .7h0m-.3 .3h0m2.1 .1h0m-.4 .2h0m-1.8 .2h0m1.7 .2h0m-.1 .3h0m-.6 .1h0m.9 0h0m.3 .1h0m-1.1 .1h0m.7 .5h0m-.5 .1h0m-.6 1.1h0m-.6 .3h0m.1 0h0m3.1-3h0m.4-.2h0m.8-.3h0m-1.3-.1h0m.6-.4h0m.9-.5h0m-1.4-.1h0m.4 0h0m1.2-.5h0m1-.4h0m-.6-.1h0m-2.3-.2h0m2.5-.1h0m-1.4-.3h0m1.7-.2h0m-1.2-.4h0m-.2-.1h0m.4-.2h0m-1.8-.2h0m1.1-.2h0m-1 0h0m1.8-.1h0m.9-.2h0m-.9-.6h0m-1.5-.4h0m.5-.2h0m-.7 0h0m-.1-.4h0m2.2 0h0m.1-.1h0m-1.4-.1h0m.5-.4h0m4.1-22.9h0m-.6 0h0m0 .9h0m0 1h0m-.6 .7h0m.7 .2h0m.4 0h0m-.5 .3h0m.5 .6h0m-.8 .9h0m.5 .6h0m.1 .4h0m.4 .9h0m-.7 .9h0m.6 .4h0m-.5 .9h0m.5 .9h0m-.2 .2h0m0 .7h0m.3 2.9h0m0 .5h0m.2 .2h0m-2.9 8.8h0m.8 .2h0m-.7 .1h0m1.3 .2h0m.8 0h0m-1.3 0h0m-.8 .3h0m2 .5h0m-1.9 0h0m2.6 .1h0m-1.9 .1h0m.1 .6h0m1.3 0h0m-.3 .2h0m-1.5 .5h0m.2 .2h0m2.2 .2h0m-2.1 0h0m1.1 .3h0m-.2 .3h0m-.1 .2h0m-1.4 .5h0m4.6-1.2h0m.8 0h0m-.1-.9h0m-1.2-.1h0m-.4-.1h0m1.6 0h0m-2.4-.1h0m1 0h0m-.8-.3h0m.4 0h0m1.4 0h0m-1.1 0h0m-.8-.3h0m.9-.1h0m-.9-.2h0m.6-.2h0m.1-1.2h0m0-.1h0m-.6-1.8h0m.1 0h0m-.3-.3h0m1-.1h0m.5-.4h0m-1.3-.1h0m0-.4h0m-.3-.2h0m1.3-.5h0m-1.2-1.9h0m1.1-.2h0m.4-.3h0m-.7 0h0m-.4-.1h0m-.4-.1h0m1-.4h0m-.9 0h0m1.3 0h0m-.7-.4h0m-.7 0h0m1.7-.2h0m-1.6 0h0m.4 0h0m1.1-.2h0m-.9-.6h0m-.1-.3h0m.1-.7h0m.3-.6h0m-.5-.2h0m-.4-.1h0m.7-.4h0m-.7 0h0m1.7-.1h0m-1.7-.2h0m-.2-.4h0m.2-.4h0m1.6-.1h0m-.2-.2h0m-.5 0h0m.2-.5h0m-1.1-.1h0m-.2-.1h0m.4-.2h0m1-.1h0m-.9-.3h0m.8-.3h0m-.5-.1h0m.1-.1h0m.2-.1h0m.7-.1h0m-1.6-.1h0m1.3-.7h0m-.1-.2h0m-.2-.5h0m-.9-.1h0m1.4-.7h0m.1 0h0m-1.1-.1h0m1.4-.5h0m.1-.1h0m-2-.6h0m.8-.6h0m-.2-.1h0m1.3-.7h0m-.8-.3h0m-.3-.2h0m-.2-.3h0m.7-.1h0m-.5-.4h0m1.1-.2h0m-1.1-.1h0m-.2-.2h0m.6-.2h0m.2-.2h0m.6-.2h0m-1.8-.2h0m.6 0h0m1-.1h0m-1.6 0h0m.2 0h0m.3-.5h0m-.2-.3h0m-.6-.2h0m5.6 24.4h0m.1 .9h0m-2.8 .1h0m.4 .2h0m-.2 .2h0m2.4 .1h0m-.3 .1h0m.6 .2h0m-2.7 .4h0m.1 .1h0m.2 .1h0m1.1 .5h0m.5 1.2h0m0 .6h0m.3 0h0m-.2 .3h0m-.3 0h0m.3 .4h0m0 .3h0m.1 .3h0m0 .3h0m.3 .5h0m-.1 1h0m.1 .5h0m.3 1h0m-.2 .1h0m3.2 12.6h0m-.1-.3h0m-.2-.4h0m.2-.9h0m-.6-1.6h0m.3-.6h0m-.6-.5h0m.2-.5h0m-.8-.1h0m1-.3h0m.1-.5h0m0-.1h0m-1.3-.3h0m0-.1h0m1.7 0h0m-1-.1h0m1-.5h0m-1.7 0h0m.2-.1h0m.4 0h0m1.1-.3h0m-.2-.5h0m-.3-.3h0m-.6-.5h0m-.9-.2h0m1.5-.1h0m-.8-.1h0m-1.1-.1h0m.3-.8h0m1.3-.2h0m.4-.4h0m-.9-.4h0m-1-.2h0m-.4-.5h0m1.6 0h0m-.9-1.3h0m-.5-.1h0m0-.3h0m.2-.5h0m-.4-.1h0m.5 0h0m-.3-.2h0m.5-.2h0m-.7-.1h0m.7-.1h0m.1-6.3h0m-.3-.3h0m.2-.2h0m-.4-.2h0m2.2-.7h0m-1.8 0h0m-.7 0h0m2.5-.1h0m-2-.1h0m.9-.2h0m1.1-.4h0m-1.2-.1h0m-.1-.3h0m.1 0h0m0-.1h0m.7 0h0m-.3-.1h0m.3-.1h0m.4 0h0m-.1-.1h0m-.3-.4h0m-.5-.1h0m.9-.1h0m.3-.1h0m-.2-.5h0m0-.1h0m2.4-12.7h0m.3 0h0m-.4 .1h0m1 .1h0m-.7 .1h0m0 2h0m0 .3h0m-.1 .2h0m.5 .1h0m-.3 .4h0m.2 .9h0m-.2 .4h0m.5 1.4h0m-.5 1h0m.4 .3h0m-.2 .4h0m.4 .4h0m-.2 .6h0m-.6 .3h0m-.2 .2h0m-.1 .3h0m0 .5h0m-.3 .9h0m1 .1h0m-1.2 .2h0m1.6 .6h0m-1.3 0h0m-.2 0h0m-.5 .4h0m-.2 .1h0m-.6 .3h0m2.2 .1h0m-1.4 .1h0m-.9 .4h0m2.4 .2h0m-1.2 .1h0m1.2 .1h0m-1.5 .1h0m.5 .1h0m-1.3 .1h0m.4 .6h0m.3 0h0m-.7 0h0m.4 .2h0m-.3 15.5h0m.3 .7h0m-.4 .7h0m.9 .1h0m0 .3h0m-.1 .2h0m.5 .2h0m-.7 .5h0m.3 .1h0m-.8 .3h0m.1 .3h0m-.3 0h0m0 .1h0m.4 .5h0m1.3 0h0m-1.3 .2h0m1.7 0h0m-.8 0h0m-.6 .2h0m0 .4h0m.7 .3h0m-1.3 .3h0m1.2 .1h0m.4 .1h0m.6 .1h0m-2.2 .2h0m.4 0h0m.5 .1h0m1 .3h0m-1.9 .1h0m1.2 .2h0m.7 0h0m.2 .1h0m-1.1 .3h0m.7 .4h0m-1.7 0h0m.3 .4h0m2.5 .2h0m-2.1 .3h0m1 .1h0m0 .1h0m.9 .2h0m-.5 .1h0m.5 .5h0m-1.5 .1h0m.5 .6h0m-.6 .7h0m1.1 .1h0m.2 0h0m.3 0h0m-.2 .2h0m-1.2 .4h0m.8 .3h0m-.4 .1h0m1 .5h0m-.3 .7h0m.2 .2h0m0 .3h0m.3 .4h0m0 .1h0m2.5 10.4h0m.4 0h0m-.2-.2h0m0-.8h0m-.4-.2h0m-.1-.1h0m.8-.3h0m-.6-.5h0m-.4-.4h0m.7-.2h0m-.5-.1h0m.4-.1h0m.1 0h0m.3-.5h0m-.1-1.6h0m-.9-.1h0m.1-.1h0m0-.2h0m-.6 0h0m.2 0h0m.8-.2h0m.2-.1h0m-.7 0h0m.5-.5h0m.2-.3h0m.1-.1h0m-2.2-.2h0m.9 0h0m1.3-.3h0m-1.5-.1h0m1-.1h0m-.4-.1h0m.8 0h0m-.3-.2h0m-1.2-.4h0m.6 0h0m-1.1 0h0m1.3-.3h0m.8-.1h0m-2 0h0m.8-.2h0m0-.1h0m.6-.1h0m.1-.1h0m-1-.1h0m1.6 0h0m-.1-.1h0m-.4 0h0m-1.3-.1h0m0-.1h0m-1 0h0m1.3-.4h0m-.6-.3h0m1.8-.1h0m-1.2-.1h0m.4-.2h0m-.4-.1h0m-.1 0h0m1.5-.4h0m-2.3-.4h0m2.4 0h0m-1.4-.1h0m.6 0h0m.2-.1h0m-1.1-.2h0m-.9 0h0m1.5 0h0m-.5-.1h0m.2-.3h0m-.8-.5h0m.6-.1h0m.1-.1h0m.1 0h0m-.8-.1h0m-.2 0h0m1.4-.2h0m-.3 0h0m-1.4-.4h0m.3 0h0m1.4-.5h0m-.2 0h0m0-.3h0m-1.5-.2h0m.4-.1h0m-.3-.2h0m.7 0h0m-.4 0h0m.9 0h0m-1-.6h0m-.4 0h0m.4-.2h0m-.1 0h0m-.3-1.2h0m.3-.2h0m-.3-.5h0m.3-24.2h0m.1-.2h0m0-.7h0m.4-.4h0m.3-.1h0m.3 0h0m-.4-.3h0m-.3 0h0m-.6-.2h0m.9 0h0m1.1-.2h0m-.2-.2h0m.2-.4h0m-1.8 0h0m.1-.1h0m-.1-.3h0m1.5 0h0m.5-.1h0m-.7 0h0m-1.1 0h0m1-.1h0m-.2-.1h0m.7-.1h0m-.6-.1h0m-1.4-.4h0m1.2-.1h0m.1-.1h0m-.7-.1h0m-.2-.1h0m1.1-.2h0m-.6 0h0m.9-.1h0m-.6 0h0m.2-.2h0m-.3 0h0m.1-.1h0m.6 0h0m-1.7-.2h0m.5-.5h0m.4-.3h0m.1 0h0m-.7-.6h0m.1-.3h0m-.4-.5h0m.7-.4h0m.4-.2h0m-.3-.1h0m-.7-.2h0m-.1-.1h0m.8 0h0m-.3-.6h0m-.5-.5h0m.7-.3h0m-.6-.2h0m.3-.8h0m2.6 41.1h0m0 .1h0m1.6 1.6h0m-.6 .2h0m.8 .1h0m-.8 .4h0m-1.1 0h0m.5 .3h0m.7 0h0m0 .1h0m.4 0h0m-1.3 .2h0m1 0h0m-.3 0h0m-.4 .1h0m1.5 .1h0m-1.9 .5h0m.9 .1h0m-.8 .2h0m.6 0h0m1.3 0h0m-2.2 .1h0m.3 .2h0m1.7 .1h0m-1.8 .2h0m1.8 .2h0m-.3 0h0m-1.1 .1h0m-.5 .4h0m-.1 .1h0m1.3 0h0m1.4 .2h0m-2.7 .3h0m2 .1h0m.1 .4h0m.5 .2h0m.1 0h0m-2.6 0h0m1.1 .1h0m-.4 0h0m.2 .3h0m.1 .3h0m.6 .3h0m-.3 .1h0m-1 0h0m-.1 .2h0m.5 .3h0m1.1 .2h0m.1 .1h0m-.4 .1h0m.2 .1h0m.9 .1h0m-.2 .1h0m-1.1 0h0m.4 0h0m-1.1 .2h0m1.3 .3h0m.6 .3h0m-2.5 0h0m1.5 .1h0m-.6 0h0m1.1 .4h0m-1.2 .1h0m1.9 0h0m-2.2 .4h0m1.9 .6h0m-1.7 .3h0m1.3 .3h0m-.8 0h0m0 .4h0m-.7 0h0m1.6 0h0m-2 .4h0m1.2 .5h0m.8 .1h0m-.3 .4h0m-.6 .1h0m1.3 .3h0m-.7 .1h0m.1 0h0m-.3 .2h0m.6 .8h0m.8 .3h0m.5-.1h0m1.8-.1h0m-.4-.3h0m-.6-.2h0m.1-.2h0m.9 0h0m0-.1h0m-.3 0h0m-2 0h0m.5-.2h0m.9 0h0m-1-.5h0m1.1-.1h0m-.7 0h0m1.2-.2h0m.1-.2h0m-.6-.2h0m.1-.1h0m.6-.1h0m-.2-.8h0m-1.5 0h0m-.5-.1h0m1.9 0h0m-.6-.1h0m-.4 0h0m0-.1h0m.6 0h0m.1-.2h0m-.6 0h0m.6 0h0m-.5 0h0m.2 0h0m-.4 0h0m-.4-.1h0m1.1-.2h0m.2-.1h0m-.1-.2h0m.9 0h0m-1.7-.1h0m1-.5h0m-1.9-.2h0m2.4-.3h0m-1.8-.2h0m.2-.7h0m.8-.1h0m-.3-.3h0m.2 0h0m1.1 0h0m-1.6-.1h0m-.8-.1h0m1.3-.2h0m-1.4 0h0m2.4-.1h0m.2-.3h0m-.4-.1h0m-.9-.1h0m1.2 0h0m-.4-.2h0m-.8-.3h0m-1.5 0h0m1.5-.1h0m0-.3h0m-.4-.2h0m-.2 0h0m-.2 0h0m-.4-.1h0m.9-.1h0m-.8 0h0m1.6-.1h0m-.1-.3h0m-1.9-.2h0m.1 0h0m.5-.3h0m-.6-.3h0m1.5-.1h0m-.4 0h0" stroke="#F8766D" stroke-width="1.1"/>
<circle cx="288.8" cy="297.1" r=".8" fill="#111"/>
<circle cx="303.9" cy="292.1" r=".8" fill="#111"/>
<circle cx="308" cy="294.8" r=".8" fill="#111"/>
<polyline points="337.8,308.1 359.9,297.1 375,292.1 379.1,294.8 390.6,326.3 388.3,331" fill="none" stroke="#111" stroke-width="0.45"/>
<polyline points="375,292.1 375.3,277.4" fill="none" stroke="#111" stroke-width="0.45"/>
<polyline points="379.1,294.8 385.5,285.6" fill="none" stroke="#111" stroke-width="0.45"/>
<circle cx="359.9" cy="297.1" r=".8" fill="#111"/>
<circle cx="375" cy="292.1" r=".8" fill="#111"/>
<circle cx="379.1" cy="294.8" r=".8" fill="#111"/>
<polygon points="332.1,303.1 333.6,301.3 335.4,301.5 336.5,303.7 337.1,308.1 337.3,313.1 336.8,315.2 334.9,315.8 333.1,314.9 331.7,313.1 331.2,309.8 331.5,305.9" fill="#00BFC4" stroke="#00BFC4" stroke-width="0.8" stroke-linejoin="round" opacity="0.6"/>
<polygon points="336.3,302.9 342,300.5 351.3,298.2 359.7,296.7 360.2,297.5 358.8,299.3 351.3,305.9 342,310.9 337.3,313.1" fill="#00BFC4" stroke="#00BFC4" stroke-width="0.5" stroke-linejoin="round" opacity="0.3"/>
<path d="M332.9 302.2h0m-.2 .4h0m0 .4h0m.2 .3h0m-.6 .3h0m.6 .2h0m-.9 .1h0m.8 0h0m-.3 0h0m0 .5h0m-.4 0h0m.1 0h0m.3 .5h0m-.1 .5h0m-.8 1.1h0m1.3 .1h0m-.7 .1h0m-.2 .1h0m-.3 .7h0m1.2 .4h0m-.8 .1h0m.7 .2h0m.1 0h0m-.6 .1h0m.3 .3h0m-1.1 0h0m.3 .2h0m.4 .3h0m.7 0h0m-.9 .2h0m.9 0h0m-1.7 .2h0m.7 .2h0m.3 .4h0m-.2 .2h0m.4 0h0m-.6 0h0m1.1 .1h0m0 .1h0m-.5 .1h0m.3 .1h0m-.5 .1h0m-.5 .1h0m.8 .7h0m-.4 .3h0m.4 .1h0m.1 .1h0m-.9 .2h0m0 .6h0m.2 .3h0m.3 .1h0m.2 .3h0m.5 .6h0m0 .5h0m1.5 .8h0m-.1-.1h0m1-.1h0m-.2-.3h0m.8 0h0m-.1-.1h0m-1.5 0h0m-.7-.1h0m2.1-.1h0m.2-.8h0m-2.2 0h0m.6 0h0m.1 0h0m-.4 0h0m.4-.1h0m1.5 0h0m-1.7-.1h0m.5 0h0m-.5-.1h0m1.2-.1h0m-.5 0h0m-.4-.1h0m.8 0h0m-.1-.6h0m.7-.1h0m-2.5-.1h0m.9-.1h0m-.3 0h0m-.4-.1h0m-.2-.1h0m1.3 0h0m-.8-.3h0m-.3 0h0m1.1-.1h0m-1.1 0h0m2 0h0m-1.1-.3h0m1.2-.2h0m-2.7-.2h0m.4-.1h0m.1 0h0m1.1-.2h0m.5 0h0m.2-.2h0m-.1 0h0m-1.6-.2h0m1.6 0h0m.1-.5h0m-.3-.1h0m.2-.1h0m.1 0h0m.2-.1h0m.2-.3h0m-1.7-.1h0m1.9 0h0m-2.2-.1h0m2-.1h0m-2.3-.1h0m-.2-.2h0m1.9-.1h0m-1.2-.2h0m1.5 0h0m-.2-.2h0m-.3-.1h0m-1.3-.4h0m1.6 0h0m-1.2-.1h0m.4 0h0m-.9-.2h0m1.9-.1h0m-1.4-.3h0m1.8 0h0m-1.5 0h0m.8-.1h0m-2.1-.2h0m2.6-.1h0m-1.1-.2h0m1.4-.1h0m-.3-.1h0m-2.4-.6h0m2.7 0h0m-1.6 0h0m-1.2-.3h0m.6-.1h0m-.2 0h0m.6-.3h0m1.7-.1h0m-2.4-.1h0m-.2 0h0m.6-.4h0m-.4 0h0m.7-.1h0m-1 0h0m.2-.1h0m.4-.4h0m0-.1h0m1.2-.2h0m-.7 0h0m-.8-.1h0m.6-.2h0m-.9-.2h0m.3 0h0m-.4-.8h0m.5-.4h0m.9-.1h0m.6 0h0m-1.5 0h0m-.2-.1h0m1-.1h0m.5 0h0m-.8-.1h0m2.1 1.6h0m1.5 0h0m-.2 .1h0m.4 0h0m.1 .1h0m.4 0h0m-.7 0h0m-1.3 .2h0m2.1 .2h0m-1.5 .2h0m-.1 0h0m1.1 .4h0m-.6 .1h0m-.1 .2h0m.1 .4h0m-.5 .5h0m-.6 .1h0m1.4 .1h0m-.4 .1h0m-.7 .3h0m.8 .1h0m.3 .1h0m.4 0h0m-.3 0h0m.9 .2h0m-.3 0h0m-.9 0h0m1 0h0m-2.3 .1h0m.1 0h0m.3 0h0m2.4 .1h0m-.1 0h0m-1.8 .4h0m-1 .1h0m1.3 0h0m.1 .4h0m.5 0h0m-.3 .1h0m-.1 .3h0m-.7 .2h0m1.6 0h0m-1.1 .3h0m0 .2h0m.9 .1h0m-.7 .1h0m-.1 0h0m-1.4 .1h0m2.7 .1h0m-.4 .1h0m-1.2 .2h0m1.3 .1h0m-.6 0h0m.3 0h0m-1.2 .4h0m-.2 0h0m1.7 0h0m-1 .1h0m-1.2 .2h0m2 .1h0m-.6 .1h0m.5 .1h0m-1.6 .3h0m1.8 0h0m-.5 0h0m-.4 .1h0m-.3 .2h0m1.8 .2h0m-2.7 .1h0m2.3 0h0m-1.3 .2h0m-1.2 .2h0m.6 .1h0m.1 .1h0m1.5 0h0m-.1 .1h0m-1.2 .1h0m1.7 0h0m-2.1 .2h0m.6 .3h0m.7 0h0m.4 0h0m-1 .1h0m.3 0h0m-1.2 .4h0m.8 .2h0m-.2 .2h0m-.2 .2h0m-.5 .2h0m.2 .3h0m.4 .2h0m-.4 .4h0m4.5-3.6h0m.9-.3h0m-2.3-.1h0m-.3 0h0m1.4-.1h0m-.6-.1h0m-.9-.2h0m2.7-.3h0m-1.9-.1h0m1.4-.3h0m-2.2 0h0m.6-.1h0m.3-.1h0m1.7-.2h0m-1.5-.1h0m-.1-.4h0m1.4-.1h0m.4-.1h0m-.9-.3h0m-.1 0h0m.3 0h0m-.2-.1h0m-1.9-.2h0m.8-.5h0m.5 0h0m-.8 0h0m1.7-.1h0m-.4 0h0m-1-.2h0m-.1-.2h0m-.5-.2h0m1.4-.2h0m-.7 0h0m-.8-.1h0m.9 0h0m1.1-.1h0m-2 0h0m2.2-.1h0m.1-.1h0m-.5-.1h0m-.7-.2h0m1.5-.6h0m-2.7-.2h0m1.9 0h0m-1 0h0m-.3-.2h0m.1-.1h0m.7-.2h0m.9-.1h0m-1.8-.3h0m1.7-.1h0m-.1 0h0m.7 0h0m-.4 0h0m-1.1-.2h0m-1.3-.1h0m1.7-.1h0m0-.1h0m.7-.1h0m-2.2 0h0m.5-.4h0m.5-.6h0m.1-.3h0m-.9-.4h0m.5-.1h0m-.3-.2h0m2-.1h0m1.7-1h0m-1.4 .3h0m2.7 .3h0m-1.3 0h0m-.1 .3h0m.8 .1h0m-.3 .2h0m-.7 .1h0m-.7 .2h0m1.8 0h0m.6 .4h0m-.3 0h0m-2.4 0h0m2.4 .1h0m-1.7 .1h0m-.5 .5h0m.3 .3h0m.9 .3h0m-.7 .1h0m-.5 .3h0m.8 .1h0m.9 .3h0m.4 .1h0m-.6 .1h0m-1.5 .1h0m-.3 0h0m.2 .6h0m2.3 .1h0m.2 .5h0m-1.1 .2h0m.3 0h0m.1 .1h0m-.4 0h0m-.4 .1h0m1.7 .1h0m-1.4 .1h0m-1.5 .1h0m.3 .1h0m-.1 .7h0m1.6 0h0m-1.1 .3h0m-.4 .1h0m1.9 .1h0m-.2 0h0m.3 .1h0m-2.2 .1h0m.1 .5h0m2.2 .1h0m-.6 .1h0m-1 .1h0m-.7 .6h0m1.5 .1h0m-.6 .2h0m.6 0h0m1.7-1.2h0m.1-.3h0m.7 0h0m.2-.1h0m.5-.1h0m.5-.1h0m-.4 0h0m-.6-.1h0m-.1-.2h0m-.5 0h0m1.9-.1h0m-.4-.3h0m-.9 0h0m.7-.2h0m.7 0h0m-1.4-.1h0m.5-.1h0m-.1 0h0m-.1 0h0m1-.2h0m.2-.2h0m.1 0h0m-.4-.1h0m-1.1 0h0m.9-.1h0m-.7-.1h0m1.3-.2h0m-2.6 0h0m1.1 0h0m-.3 0h0m-.4-.3h0m.5-.2h0m1.2-.1h0m-1.3-.2h0m-.8-.2h0m.8-.3h0m-.9 0h0m1.7 0h0m-.1-.1h0m0-.1h0m1-.1h0m-1.6 0h0m-.1-.2h0m0-.3h0m1.1-.2h0m.3-.1h0m0-.2h0m-1.6 0h0m1.4-.1h0m-.8-.2h0m1 0h0m-.6-.1h0m.7-.1h0m.3-.1h0m-.4-.1h0m-2.3 0h0m1-.1h0m.4-.1h0m.2-.2h0m.3 0h0m-.4-.2h0m.7-.4h0m-1.2 0h0m1.3 0h0m-2.3-.3h0m1.9 0h0m-1.6-.2h0m1.8-.3h0m-1.2-.1h0m1.1 0h0m.3-.2h0m-1.3 0h0m-.1 0h0m1-.2h0m-1.5 0h0m-.4-.3h0m.4-.1h0m.3-.1h0m.9 0h0m-.6-.4h0m1.4-.3h0m2.9-.5h0m-.2 0h0m-.4 .5h0m-.2 .4h0m-1.4 .5h0m-.2 .1h0m1.2 .1h0m-.5 0h0m.1 0h0m1.4 0h0m.3 0h0m-.7 .3h0m-1.1 .2h0m.4 .2h0m-1.2 .8h0m.3 0h0m1.6 .2h0m.8 .2h0m-2.4 .2h0m1.7 .5h0m-.9 .4h0m-.6 0h0m1.1 .2h0m.5 .2h0m-2 0h0m1.8 .1h0m-.5 .1h0m.2 .1h0m-1.2 .4h0m.8 0h0m1.3 .2h0m-.5 0h0m-1 .4h0m-1 .7h0m.9 .4h0m-.3 0h0m-.6 0h0m1.1 .1h0m-1 .4h0m1.1 .1h0m2.2-1.3h0m-.2-.3h0m.2-1h0m-.2-.1h0m1.7-.1h0m-.1 0h0m-.2-.1h0m-1.1-.3h0m1.8-.3h0m-.9 0h0m.9-.5h0m-.7-.1h0m.1-.2h0m.4-.2h0m-.5-.3h0m.3 0h0m.3-.1h0m-1-.2h0m-1.1-.1h0m2.7-.3h0m-1.6-.1h0m-1.2-.1h0m1.6-.1h0m-1-.2h0m.3-.2h0m1.2-.3h0m-.3 0h0m-1 0h0m.6-.1h0m1.2-.4h0m-1.4-.7h0m.5-.3h0m.5-.1h0m-2.1-.1h0m1.7-.1h0m.6 0h0m2.6-1h0m.6 0h0m-1.3 .1h0m.9 .2h0m.4 .1h0m.3 .2h0m-1.2 .5h0m-1.5 .5h0m.1 .2h0m2.5 .3h0m-2.1 .4h0m-.7 .2h0m2.1 0h0m-.9 .2h0m-.9 .2h0m2.4 .1h0m-.3 0h0m-.6 .2h0m-1.4 .1h0m.2 0h0m-.2 .6h0m1.4 .2h0m-1.6 .1h0m-.1 .2h0m1.3 .1h0m-1.3 1.3h0m3.3-4.1h0m.1-.3h0m.3 0h0m1.5-.3h0m-.4-.1h0m-1.7-.1h0m1.1-.3h0m.9-.5h0m-1.1-.4h0m1.1-.2h0m0-.3h0m.2-2.6h0m.1-.5h0m-.8-.1h0m-.2-2.1h0m.5-.7h0m-.4-.2h0m-1.3-1.1h0m.5-.7h0m2.6 5.6h0m-.3 .9h0m2.2 4.4h0m-.9 .7h0m-.7 .4h0m2.7-2.4h0m.2-.8h0m.1-.4h0m1.3-.6h0m-.1-.1h0m-.8-.3h0m1.4-.1h0m-.2-.1h0m-.4-1.3h0m3-1.4h0m-.5 .4h0m-1.1 .3h0m1.2 .3h0m.9 .4h0m-.9 .8h0m1.4 0h0m0 .5h0m-1.5 0h0m-1.1 1.2h0m-.1 .6h0m4.1-2.7h0m.9-1.6h0m3.2-2h0m.2 .9h0m.1 0h0m-.3 .1h0m-1.2 0h0" stroke="#00BFC4" stroke-width="1.1"/>
<path d="M374.7 267.9h0m0 .4h0m-.3 .8h0m-.1 .1h0m-.4 0h0m-.3 .4h0m.9 .6h0m0 1.1h0m-1.1 3.1h0m1.1 .1h0m-.1 0h0m-1.2 .2h0m1.4 1.3h0m-1 .3h0m1.3 13.4h0m-.1 1.5h0m.4-6.2h0m-.2-13.3h0m.1-1h0m6 21.1h0m2.2-2.7h0m1.3 21.9h0m3.3 23.1h0m1.2-.1h0m-.9-.8h0m1.4-1h0m.2 0h0m-1.4-.2h0m1.2-1.2h0m-.6-1.4h0m-.5-.1h0m-.2-.9h0m.8-.2h0m-.1-7.6h0m1.2 2.8h0m.7 3.3h0m-.8 6.8h0" stroke="#00BFC4" stroke-width="1.1"/>
<circle cx="359.9" cy="297.1" r=".8" fill="#111"/>
<circle cx="375" cy="292.1" r=".8" fill="#111"/>
<circle cx="379.1" cy="294.8" r=".8" fill="#111"/>
<text x="3.2" y="365.5" font-size="8.5" font-weight="bold">I</text>
<linearGradient id="h1"><stop offset="0" stop-color="#C80000"/><stop offset="0.062" stop-color="#FA460E"/><stop offset="0.125" stop-color="#9CEE6A"/><stop offset="0.188" stop-color="#8AEB80"/><stop offset="0.25" stop-color="#78E896"/><stop offset="0.312" stop-color="#73E79C"/><stop offset="0.375" stop-color="#6FE6A2"/><stop offset="0.438" stop-color="#6AE5A8"/><stop offset="0.5" stop-color="#65E4AE"/><stop offset="0.562" stop-color="#5FE4B4"/><stop offset="0.625" stop-color="#5AE3BA"/><stop offset="0.688" stop-color="#54E3C0"/><stop offset="0.75" stop-color="#52E2C3"/><stop offset="0.812" stop-color="#50E2C4"/><stop offset="0.875" stop-color="#4FE2C5"/><stop offset="0.938" stop-color="#4EE2C6"/><stop offset="1" stop-color="#4DE2C8"/></linearGradient>
<rect x="23.4" y="371" width="132.8" height="3.9" fill="url(#h1)"/>
<linearGradient id="h2"><stop offset="0" stop-color="#C80000"/><stop offset="0.062" stop-color="#FA460E"/><stop offset="0.125" stop-color="#9CEE6A"/><stop offset="0.188" stop-color="#8AEB80"/><stop offset="0.25" stop-color="#78E896"/><stop offset="0.312" stop-color="#73E79C"/><stop offset="0.375" stop-color="#6FE6A2"/><stop offset="0.438" stop-color="#6AE5A8"/><stop offset="0.5" stop-color="#65E4AE"/><stop offset="0.562" stop-color="#5FE4B4"/><stop offset="0.625" stop-color="#5AE3BA"/><stop offset="0.688" stop-color="#54E3C0"/><stop offset="0.75" stop-color="#52E2C3"/><stop offset="0.812" stop-color="#50E2C4"/><stop offset="0.875" stop-color="#4FE2C5"/><stop offset="0.938" stop-color="#4EE2C6"/><stop offset="1" stop-color="#4DE2C8"/></linearGradient>
<rect x="23.4" y="374.3" width="132.8" height="3.9" fill="url(#h2)"/>
<linearGradient id="h3"><stop offset="0" stop-color="#CC0201"/><stop offset="0.062" stop-color="#D40704"/><stop offset="0.125" stop-color="#E6F82A"/><stop offset="0.188" stop-color="#92ED76"/><stop offset="0.25" stop-color="#80E98D"/><stop offset="0.312" stop-color="#72E79E"/><stop offset="0.375" stop-color="#6DE6A4"/><stop offset="0.438" stop-color="#68E5AB"/><stop offset="0.5" stop-color="#62E4B1"/><stop offset="0.562" stop-color="#5CE3B7"/><stop offset="0.625" stop-color="#58E3BC"/><stop offset="0.688" stop-color="#56E3BE"/><stop offset="0.75" stop-color="#54E3C0"/><stop offset="0.812" stop-color="#52E2C2"/><stop offset="0.875" stop-color="#50E2C4"/><stop offset="0.938" stop-color="#4EE2C6"/><stop offset="1" stop-color="#4DE2C8"/></linearGradient>
<rect x="23.4" y="377.6" width="132.8" height="3.9" fill="url(#h3)"/>
<linearGradient id="h4"><stop offset="0" stop-color="#CC0201"/><stop offset="0.062" stop-color="#D40704"/><stop offset="0.125" stop-color="#E6F82A"/><stop offset="0.188" stop-color="#92ED76"/><stop offset="0.25" stop-color="#80E98D"/><stop offset="0.312" stop-color="#72E79E"/><stop offset="0.375" stop-color="#6DE6A4"/><stop offset="0.438" stop-color="#68E5AB"/><stop offset="0.5" stop-color="#62E4B1"/><stop offset="0.562" stop-color="#5CE3B7"/><stop offset="0.625" stop-color="#58E3BC"/><stop offset="0.688" stop-color="#56E3BE"/><stop offset="0.75" stop-color="#54E3C0"/><stop offset="0.812" stop-color="#52E2C2"/><stop offset="0.875" stop-color="#50E2C4"/><stop offset="0.938" stop-color="#4EE2C6"/><stop offset="1" stop-color="#4DE2C8"/></linearGradient>
<rect x="23.4" y="380.8" width="132.8" height="3.9" fill="url(#h4)"/>
<linearGradient id="h5"><stop offset="0" stop-color="#CC0201"/><stop offset="0.062" stop-color="#F5330C"/><stop offset="0.125" stop-color="#BFF44A"/><stop offset="0.188" stop-color="#8DEC7D"/><stop offset="0.25" stop-color="#7DE990"/><stop offset="0.312" stop-color="#72E79E"/><stop offset="0.375" stop-color="#6DE6A4"/><stop offset="0.438" stop-color="#68E5AB"/><stop offset="0.5" stop-color="#62E4B1"/><stop offset="0.562" stop-color="#5CE3B7"/><stop offset="0.625" stop-color="#58E3BC"/><stop offset="0.688" stop-color="#56E3BE"/><stop offset="0.75" stop-color="#54E3C0"/><stop offset="0.812" stop-color="#52E2C2"/><stop offset="0.875" stop-color="#50E2C4"/><stop offset="0.938" stop-color="#4EE2C6"/><stop offset="1" stop-color="#4DE2C8"/></linearGradient>
<rect x="23.4" y="384.1" width="132.8" height="3.9" fill="url(#h5)"/>
<linearGradient id="h6"><stop offset="0" stop-color="#F32E0C"/><stop offset="0.062" stop-color="#FA440E"/><stop offset="0.125" stop-color="#FF970F"/><stop offset="0.188" stop-color="#FDEC1A"/><stop offset="0.25" stop-color="#E8F628"/><stop offset="0.312" stop-color="#BDF44B"/><stop offset="0.375" stop-color="#92ED76"/><stop offset="0.438" stop-color="#77E897"/><stop offset="0.5" stop-color="#69E5A9"/><stop offset="0.562" stop-color="#58E3BC"/><stop offset="0.625" stop-color="#4AE2CB"/><stop offset="0.688" stop-color="#42E1D2"/><stop offset="0.75" stop-color="#3CDFD9"/><stop offset="0.812" stop-color="#37DEDD"/><stop offset="0.875" stop-color="#37DEDD"/><stop offset="0.938" stop-color="#37DEDD"/><stop offset="1" stop-color="#37DEDD"/></linearGradient>
<rect x="23.4" y="387.4" width="132.8" height="3.9" fill="url(#h6)"/>
<linearGradient id="h7"><stop offset="0" stop-color="#EF210B"/><stop offset="0.062" stop-color="#F6370D"/><stop offset="0.125" stop-color="#FF930F"/><stop offset="0.188" stop-color="#FDEC1A"/><stop offset="0.25" stop-color="#E8F628"/><stop offset="0.312" stop-color="#BDF44B"/><stop offset="0.375" stop-color="#92ED76"/><stop offset="0.438" stop-color="#77E897"/><stop offset="0.5" stop-color="#69E5A9"/><stop offset="0.562" stop-color="#58E3BC"/><stop offset="0.625" stop-color="#4AE2CB"/><stop offset="0.688" stop-color="#42E1D2"/><stop offset="0.75" stop-color="#3CDFD9"/><stop offset="0.812" stop-color="#37DEDD"/><stop offset="0.875" stop-color="#37DEDD"/><stop offset="0.938" stop-color="#37DEDD"/><stop offset="1" stop-color="#37DEDD"/></linearGradient>
<rect x="23.4" y="390.6" width="132.8" height="3.9" fill="url(#h7)"/>
<linearGradient id="h8"><stop offset="0" stop-color="#FB480E"/><stop offset="0.062" stop-color="#FF600F"/><stop offset="0.125" stop-color="#FFA00F"/><stop offset="0.188" stop-color="#FDEC1A"/><stop offset="0.25" stop-color="#E8F628"/><stop offset="0.312" stop-color="#BDF44B"/><stop offset="0.375" stop-color="#92ED76"/><stop offset="0.438" stop-color="#77E897"/><stop offset="0.5" stop-color="#69E5A9"/><stop offset="0.562" stop-color="#58E3BC"/><stop offset="0.625" stop-color="#4AE2CB"/><stop offset="0.688" stop-color="#42E1D2"/><stop offset="0.75" stop-color="#3CDFD9"/><stop offset="0.812" stop-color="#37DEDD"/><stop offset="0.875" stop-color="#37DEDD"/><stop offset="0.938" stop-color="#37DEDD"/><stop offset="1" stop-color="#37DEDD"/></linearGradient>
<rect x="23.4" y="393.9" width="132.8" height="3.9" fill="url(#h8)"/>
<linearGradient id="h9"><stop offset="0" stop-color="#EF210B"/><stop offset="0.062" stop-color="#F6370D"/><stop offset="0.125" stop-color="#FF930F"/><stop offset="0.188" stop-color="#FDEC1A"/><stop offset="0.25" stop-color="#E8F628"/><stop offset="0.312" stop-color="#BDF44B"/><stop offset="0.375" stop-color="#92ED76"/><stop offset="0.438" stop-color="#77E897"/><stop offset="0.5" stop-color="#69E5A9"/><stop offset="0.562" stop-color="#58E3BC"/><stop offset="0.625" stop-color="#4AE2CB"/><stop offset="0.688" stop-color="#42E1D2"/><stop offset="0.75" stop-color="#3CDFD9"/><stop offset="0.812" stop-color="#37DEDD"/><stop offset="0.875" stop-color="#37DEDD"/><stop offset="0.938" stop-color="#37DEDD"/><stop offset="1" stop-color="#37DEDD"/></linearGradient>
<rect x="23.4" y="397.2" width="132.8" height="3.9" fill="url(#h9)"/>
<linearGradient id="h10"><stop offset="0" stop-color="#FB480E"/><stop offset="0.062" stop-color="#FF600F"/><stop offset="0.125" stop-color="#FFA00F"/><stop offset="0.188" stop-color="#FDEC1A"/><stop offset="0.25" stop-color="#E8F628"/><stop offset="0.312" stop-color="#BDF44B"/><stop offset="0.375" stop-color="#92ED76"/><stop offset="0.438" stop-color="#77E897"/><stop offset="0.5" stop-color="#69E5A9"/><stop offset="0.562" stop-color="#58E3BC"/><stop offset="0.625" stop-color="#4AE2CB"/><stop offset="0.688" stop-color="#42E1D2"/><stop offset="0.75" stop-color="#3CDFD9"/><stop offset="0.812" stop-color="#37DEDD"/><stop offset="0.875" stop-color="#37DEDD"/><stop offset="0.938" stop-color="#37DEDD"/><stop offset="1" stop-color="#37DEDD"/></linearGradient>
<rect x="23.4" y="400.5" width="132.8" height="3.9" fill="url(#h10)"/>
<linearGradient id="h11"><stop offset="0" stop-color="#FB480E"/><stop offset="0.062" stop-color="#FF600F"/><stop offset="0.125" stop-color="#FFA00F"/><stop offset="0.188" stop-color="#FDEC1A"/><stop offset="0.25" stop-color="#E8F628"/><stop offset="0.312" stop-color="#BDF44B"/><stop offset="0.375" stop-color="#92ED76"/><stop offset="0.438" stop-color="#77E897"/><stop offset="0.5" stop-color="#69E5A9"/><stop offset="0.562" stop-color="#58E3BC"/><stop offset="0.625" stop-color="#4AE2CB"/><stop offset="0.688" stop-color="#42E1D2"/><stop offset="0.75" stop-color="#3CDFD9"/><stop offset="0.812" stop-color="#37DEDD"/><stop offset="0.875" stop-color="#37DEDD"/><stop offset="0.938" stop-color="#37DEDD"/><stop offset="1" stop-color="#37DEDD"/></linearGradient>
<rect x="23.4" y="403.8" width="132.8" height="3.9" fill="url(#h11)"/>
<linearGradient id="h12"><stop offset="0" stop-color="#FB480E"/><stop offset="0.062" stop-color="#FF600F"/><stop offset="0.125" stop-color="#FFA00F"/><stop offset="0.188" stop-color="#FDEC1A"/><stop offset="0.25" stop-color="#E8F628"/><stop offset="0.312" stop-color="#BDF44B"/><stop offset="0.375" stop-color="#92ED76"/><stop offset="0.438" stop-color="#77E897"/><stop offset="0.5" stop-color="#69E5A9"/><stop offset="0.562" stop-color="#58E3BC"/><stop offset="0.625" stop-color="#4AE2CB"/><stop offset="0.688" stop-color="#42E1D2"/><stop offset="0.75" stop-color="#3CDFD9"/><stop offset="0.812" stop-color="#37DEDD"/><stop offset="0.875" stop-color="#37DEDD"/><stop offset="0.938" stop-color="#37DEDD"/><stop offset="1" stop-color="#37DEDD"/></linearGradient>
<rect x="23.4" y="407" width="132.8" height="3.9" fill="url(#h12)"/>
<linearGradient id="h13"><stop offset="0" stop-color="#F32E0C"/><stop offset="0.062" stop-color="#FA440E"/><stop offset="0.125" stop-color="#FF970F"/><stop offset="0.188" stop-color="#FDEC1A"/><stop offset="0.25" stop-color="#E8F628"/><stop offset="0.312" stop-color="#BDF44B"/><stop offset="0.375" stop-color="#92ED76"/><stop offset="0.438" stop-color="#77E897"/><stop offset="0.5" stop-color="#69E5A9"/><stop offset="0.562" stop-color="#58E3BC"/><stop offset="0.625" stop-color="#4AE2CB"/><stop offset="0.688" stop-color="#42E1D2"/><stop offset="0.75" stop-color="#3CDFD9"/><stop offset="0.812" stop-color="#37DEDD"/><stop offset="0.875" stop-color="#37DEDD"/><stop offset="0.938" stop-color="#37DEDD"/><stop offset="1" stop-color="#37DEDD"/></linearGradient>
<rect x="23.4" y="410.3" width="132.8" height="3.9" fill="url(#h13)"/>
<linearGradient id="h14"><stop offset="0" stop-color="#FF550F"/><stop offset="0.062" stop-color="#FF700F"/><stop offset="0.125" stop-color="#FFA50F"/><stop offset="0.188" stop-color="#FDEC1A"/><stop offset="0.25" stop-color="#E8F628"/><stop offset="0.312" stop-color="#BDF44B"/><stop offset="0.375" stop-color="#92ED76"/><stop offset="0.438" stop-color="#77E897"/><stop offset="0.5" stop-color="#69E5A9"/><stop offset="0.562" stop-color="#58E3BC"/><stop offset="0.625" stop-color="#4AE2CB"/><stop offset="0.688" stop-color="#42E1D2"/><stop offset="0.75" stop-color="#3CDFD9"/><stop offset="0.812" stop-color="#37DEDD"/><stop offset="0.875" stop-color="#37DEDD"/><stop offset="0.938" stop-color="#37DEDD"/><stop offset="1" stop-color="#37DEDD"/></linearGradient>
<rect x="23.4" y="413.6" width="132.8" height="3.9" fill="url(#h14)"/>
<linearGradient id="h15"><stop offset="0" stop-color="#E41008"/><stop offset="0.062" stop-color="#EE1D0B"/><stop offset="0.125" stop-color="#FF8A0F"/><stop offset="0.188" stop-color="#FDEC1A"/><stop offset="0.25" stop-color="#E8F628"/><stop offset="0.312" stop-color="#BDF44B"/><stop offset="0.375" stop-color="#92ED76"/><stop offset="0.438" stop-color="#77E897"/><stop offset="0.5" stop-color="#69E5A9"/><stop offset="0.562" stop-color="#58E3BC"/><stop offset="0.625" stop-color="#4AE2CB"/><stop offset="0.688" stop-color="#42E1D2"/><stop offset="0.75" stop-color="#3CDFD9"/><stop offset="0.812" stop-color="#37DEDD"/><stop offset="0.875" stop-color="#37DEDD"/><stop offset="0.938" stop-color="#37DEDD"/><stop offset="1" stop-color="#37DEDD"/></linearGradient>
<rect x="23.4" y="416.9" width="132.8" height="3.9" fill="url(#h15)"/>
<linearGradient id="h16"><stop offset="0" stop-color="#F73B0D"/><stop offset="0.062" stop-color="#FE510F"/><stop offset="0.125" stop-color="#FF9C0F"/><stop offset="0.188" stop-color="#FDEC1A"/><stop offset="0.25" stop-color="#E8F628"/><stop offset="0.312" stop-color="#BDF44B"/><stop offset="0.375" stop-color="#92ED76"/><stop offset="0.438" stop-color="#77E897"/><stop offset="0.5" stop-color="#69E5A9"/><stop offset="0.562" stop-color="#58E3BC"/><stop offset="0.625" stop-color="#4AE2CB"/><stop offset="0.688" stop-color="#42E1D2"/><stop offset="0.75" stop-color="#3CDFD9"/><stop offset="0.812" stop-color="#37DEDD"/><stop offset="0.875" stop-color="#37DEDD"/><stop offset="0.938" stop-color="#37DEDD"/><stop offset="1" stop-color="#37DEDD"/></linearGradient>
<rect x="23.4" y="420.1" width="132.8" height="3.9" fill="url(#h16)"/>
<linearGradient id="h17"><stop offset="0" stop-color="#FB480E"/><stop offset="0.062" stop-color="#FF600F"/><stop offset="0.125" stop-color="#FFA00F"/><stop offset="0.188" stop-color="#FDEC1A"/><stop offset="0.25" stop-color="#E8F628"/><stop offset="0.312" stop-color="#BDF44B"/><stop offset="0.375" stop-color="#92ED76"/><stop offset="0.438" stop-color="#77E897"/><stop offset="0.5" stop-color="#69E5A9"/><stop offset="0.562" stop-color="#58E3BC"/><stop offset="0.625" stop-color="#4AE2CB"/><stop offset="0.688" stop-color="#42E1D2"/><stop offset="0.75" stop-color="#3CDFD9"/><stop offset="0.812" stop-color="#37DEDD"/><stop offset="0.875" stop-color="#37DEDD"/><stop offset="0.938" stop-color="#37DEDD"/><stop offset="1" stop-color="#37DEDD"/></linearGradient>
<rect x="23.4" y="423.4" width="132.8" height="3.9" fill="url(#h17)"/>
<linearGradient id="h18"><stop offset="0" stop-color="#FF550F"/><stop offset="0.062" stop-color="#FF700F"/><stop offset="0.125" stop-color="#FFA50F"/><stop offset="0.188" stop-color="#FDEC1A"/><stop offset="0.25" stop-color="#E8F628"/><stop offset="0.312" stop-color="#BDF44B"/><stop offset="0.375" stop-color="#92ED76"/><stop offset="0.438" stop-color="#77E897"/><stop offset="0.5" stop-color="#69E5A9"/><stop offset="0.562" stop-color="#58E3BC"/><stop offset="0.625" stop-color="#4AE2CB"/><stop offset="0.688" stop-color="#42E1D2"/><stop offset="0.75" stop-color="#3CDFD9"/><stop offset="0.812" stop-color="#37DEDD"/><stop offset="0.875" stop-color="#37DEDD"/><stop offset="0.938" stop-color="#37DEDD"/><stop offset="1" stop-color="#37DEDD"/></linearGradient>
<rect x="23.4" y="426.7" width="132.8" height="3.9" fill="url(#h18)"/>
<linearGradient id="h19"><stop offset="0" stop-color="#F73B0D"/><stop offset="0.062" stop-color="#FE510F"/><stop offset="0.125" stop-color="#FF9C0F"/><stop offset="0.188" stop-color="#FDEC1A"/><stop offset="0.25" stop-color="#E8F628"/><stop offset="0.312" stop-color="#BDF44B"/><stop offset="0.375" stop-color="#92ED76"/><stop offset="0.438" stop-color="#77E897"/><stop offset="0.5" stop-color="#69E5A9"/><stop offset="0.562" stop-color="#58E3BC"/><stop offset="0.625" stop-color="#4AE2CB"/><stop offset="0.688" stop-color="#42E1D2"/><stop offset="0.75" stop-color="#3CDFD9"/><stop offset="0.812" stop-color="#37DEDD"/><stop offset="0.875" stop-color="#37DEDD"/><stop offset="0.938" stop-color="#37DEDD"/><stop offset="1" stop-color="#37DEDD"/></linearGradient>
<rect x="23.4" y="430" width="132.8" height="3.9" fill="url(#h19)"/>
<linearGradient id="h20"><stop offset="0" stop-color="#FF550F"/><stop offset="0.062" stop-color="#FF700F"/><stop offset="0.125" stop-color="#FFA50F"/><stop offset="0.188" stop-color="#FDEC1A"/><stop offset="0.25" stop-color="#E8F628"/><stop offset="0.312" stop-color="#BDF44B"/><stop offset="0.375" stop-color="#92ED76"/><stop offset="0.438" stop-color="#77E897"/><stop offset="0.5" stop-color="#69E5A9"/><stop offset="0.562" stop-color="#58E3BC"/><stop offset="0.625" stop-color="#48E2CD"/><stop offset="0.688" stop-color="#3DE0D8"/><stop offset="0.75" stop-color="#33DCE1"/><stop offset="0.812" stop-color="#29D9EA"/><stop offset="0.875" stop-color="#0CC3FC"/><stop offset="0.938" stop-color="#057BFB"/><stop offset="1" stop-color="#0C69F5"/></linearGradient>
<rect x="23.4" y="433.2" width="132.8" height="3.9" fill="url(#h20)"/>
<linearGradient id="h21"><stop offset="0" stop-color="#EF210B"/><stop offset="0.062" stop-color="#F6370D"/><stop offset="0.125" stop-color="#FF930F"/><stop offset="0.188" stop-color="#FDEC1A"/><stop offset="0.25" stop-color="#E8F628"/><stop offset="0.312" stop-color="#BDF44B"/><stop offset="0.375" stop-color="#92ED76"/><stop offset="0.438" stop-color="#77E897"/><stop offset="0.5" stop-color="#69E5A9"/><stop offset="0.562" stop-color="#58E3BC"/><stop offset="0.625" stop-color="#48E2CD"/><stop offset="0.688" stop-color="#3DE0D8"/><stop offset="0.75" stop-color="#33DCE1"/><stop offset="0.812" stop-color="#29D9EA"/><stop offset="0.875" stop-color="#0CC3FC"/><stop offset="0.938" stop-color="#057BFB"/><stop offset="1" stop-color="#0C69F5"/></linearGradient>
<rect x="23.4" y="436.5" width="132.8" height="3.9" fill="url(#h21)"/>
<linearGradient id="h22"><stop offset="0" stop-color="#E41008"/><stop offset="0.062" stop-color="#EE1D0B"/><stop offset="0.125" stop-color="#FF8A0F"/><stop offset="0.188" stop-color="#FDEC1A"/><stop offset="0.25" stop-color="#E8F628"/><stop offset="0.312" stop-color="#BDF44B"/><stop offset="0.375" stop-color="#92ED76"/><stop offset="0.438" stop-color="#77E897"/><stop offset="0.5" stop-color="#69E5A9"/><stop offset="0.562" stop-color="#58E3BC"/><stop offset="0.625" stop-color="#49E2CB"/><stop offset="0.688" stop-color="#40E1D4"/><stop offset="0.75" stop-color="#39DEDB"/><stop offset="0.812" stop-color="#31DCE2"/><stop offset="0.875" stop-color="#21D5F1"/><stop offset="0.938" stop-color="#0AC2FD"/><stop offset="1" stop-color="#03A8FF"/></linearGradient>
<rect x="23.4" y="439.8" width="132.8" height="3.9" fill="url(#h22)"/>
<linearGradient id="h23"><stop offset="0" stop-color="#F73B0D"/><stop offset="0.062" stop-color="#FE510F"/><stop offset="0.125" stop-color="#FF9C0F"/><stop offset="0.188" stop-color="#FDEC1A"/><stop offset="0.25" stop-color="#E8F628"/><stop offset="0.312" stop-color="#BDF44B"/><stop offset="0.375" stop-color="#92ED76"/><stop offset="0.438" stop-color="#77E897"/><stop offset="0.5" stop-color="#69E5A9"/><stop offset="0.562" stop-color="#58E3BC"/><stop offset="0.625" stop-color="#4AE2CB"/><stop offset="0.688" stop-color="#42E1D2"/><stop offset="0.75" stop-color="#3CDFD9"/><stop offset="0.812" stop-color="#37DEDD"/><stop offset="0.875" stop-color="#37DEDD"/><stop offset="0.938" stop-color="#37DEDD"/><stop offset="1" stop-color="#37DEDD"/></linearGradient>
<rect x="23.4" y="443.1" width="132.8" height="3.9" fill="url(#h23)"/>
<linearGradient id="h24"><stop offset="0" stop-color="#E41008"/><stop offset="0.062" stop-color="#EE1D0B"/><stop offset="0.125" stop-color="#FF8A0F"/><stop offset="0.188" stop-color="#FDEC1A"/><stop offset="0.25" stop-color="#E8F628"/><stop offset="0.312" stop-color="#BDF44B"/><stop offset="0.375" stop-color="#92ED76"/><stop offset="0.438" stop-color="#77E897"/><stop offset="0.5" stop-color="#69E5A9"/><stop offset="0.562" stop-color="#58E3BC"/><stop offset="0.625" stop-color="#4AE2CB"/><stop offset="0.688" stop-color="#42E1D2"/><stop offset="0.75" stop-color="#3CDFD9"/><stop offset="0.812" stop-color="#37DEDD"/><stop offset="0.875" stop-color="#37DEDD"/><stop offset="0.938" stop-color="#37DEDD"/><stop offset="1" stop-color="#37DEDD"/></linearGradient>
<rect x="23.4" y="446.3" width="132.8" height="3.4" fill="url(#h24)"/>
<linearGradient id="h25"><stop offset="0" stop-color="#1221D3"/><stop offset="0.062" stop-color="#1434DF"/><stop offset="0.125" stop-color="#0380FD"/><stop offset="0.188" stop-color="#11C8F9"/><stop offset="0.25" stop-color="#2EDBE5"/><stop offset="0.312" stop-color="#52E2C2"/><stop offset="0.375" stop-color="#6AE5A7"/><stop offset="0.438" stop-color="#84EA87"/><stop offset="0.5" stop-color="#A5F05F"/><stop offset="0.562" stop-color="#C0F449"/><stop offset="0.625" stop-color="#DBF932"/><stop offset="0.688" stop-color="#EDF425"/><stop offset="0.75" stop-color="#FAEE1C"/><stop offset="0.812" stop-color="#FFDC17"/><stop offset="0.875" stop-color="#FF920F"/><stop offset="0.938" stop-color="#F0240B"/><stop offset="1" stop-color="#C80000"/></linearGradient>
<rect x="23.4" y="451.3" width="132.8" height="3.1" fill="url(#h25)"/>
<linearGradient id="h26"><stop offset="0" stop-color="#1221D3"/><stop offset="0.062" stop-color="#1434DF"/><stop offset="0.125" stop-color="#0380FD"/><stop offset="0.188" stop-color="#11C8F9"/><stop offset="0.25" stop-color="#2EDBE5"/><stop offset="0.312" stop-color="#52E2C2"/><stop offset="0.375" stop-color="#6AE5A7"/><stop offset="0.438" stop-color="#84EA87"/><stop offset="0.5" stop-color="#A5F05F"/><stop offset="0.562" stop-color="#C0F449"/><stop offset="0.625" stop-color="#DBF932"/><stop offset="0.688" stop-color="#EDF425"/><stop offset="0.75" stop-color="#FAEE1C"/><stop offset="0.812" stop-color="#FFDC17"/><stop offset="0.875" stop-color="#FF920F"/><stop offset="0.938" stop-color="#F0240B"/><stop offset="1" stop-color="#C80000"/></linearGradient>
<rect x="23.4" y="454" width="132.8" height="2.8" fill="url(#h26)"/>
<linearGradient id="h27"><stop offset="0" stop-color="#101ACD"/><stop offset="0.062" stop-color="#1427D9"/><stop offset="0.125" stop-color="#0C6AF5"/><stop offset="0.188" stop-color="#20D4F2"/><stop offset="0.25" stop-color="#32DCE2"/><stop offset="0.312" stop-color="#3CDFD8"/><stop offset="0.375" stop-color="#48E2CD"/><stop offset="0.438" stop-color="#63E4B1"/><stop offset="0.5" stop-color="#8BEB7F"/><stop offset="0.562" stop-color="#C8F641"/><stop offset="0.625" stop-color="#E4F82B"/><stop offset="0.688" stop-color="#EBF526"/><stop offset="0.75" stop-color="#EBF526"/><stop offset="0.812" stop-color="#EBF526"/><stop offset="0.875" stop-color="#EAF527"/><stop offset="0.938" stop-color="#E8F628"/><stop offset="1" stop-color="#E6F82A"/></linearGradient>
<rect x="23.4" y="458.9" width="132.8" height="3.9" fill="url(#h27)"/>
<linearGradient id="h28"><stop offset="0" stop-color="#1221D3"/><stop offset="0.062" stop-color="#1430DE"/><stop offset="0.125" stop-color="#0970F7"/><stop offset="0.188" stop-color="#20D4F2"/><stop offset="0.25" stop-color="#32DCE2"/><stop offset="0.312" stop-color="#3CDFD8"/><stop offset="0.375" stop-color="#48E2CD"/><stop offset="0.438" stop-color="#63E4B1"/><stop offset="0.5" stop-color="#8BEB7F"/><stop offset="0.562" stop-color="#C9F641"/><stop offset="0.625" stop-color="#E8F729"/><stop offset="0.688" stop-color="#F0F223"/><stop offset="0.75" stop-color="#F0F223"/><stop offset="0.812" stop-color="#F0F223"/><stop offset="0.875" stop-color="#EFF324"/><stop offset="0.938" stop-color="#EDF425"/><stop offset="1" stop-color="#EBF526"/></linearGradient>
<rect x="23.4" y="462.2" width="132.8" height="3.9" fill="url(#h28)"/>
<linearGradient id="h29"><stop offset="0" stop-color="#143AE2"/><stop offset="0.062" stop-color="#144BEA"/><stop offset="0.125" stop-color="#0183FE"/><stop offset="0.188" stop-color="#20D4F2"/><stop offset="0.25" stop-color="#32DCE2"/><stop offset="0.312" stop-color="#3CDFD8"/><stop offset="0.375" stop-color="#48E2CD"/><stop offset="0.438" stop-color="#63E4B1"/><stop offset="0.5" stop-color="#8BEB7F"/><stop offset="0.562" stop-color="#C8F641"/><stop offset="0.625" stop-color="#E4F82B"/><stop offset="0.688" stop-color="#EBF526"/><stop offset="0.75" stop-color="#EBF526"/><stop offset="0.812" stop-color="#EBF526"/><stop offset="0.875" stop-color="#EAF527"/><stop offset="0.938" stop-color="#E8F628"/><stop offset="1" stop-color="#E6F82A"/></linearGradient>
<rect x="23.4" y="465.6" width="132.8" height="3.9" fill="url(#h29)"/>
<linearGradient id="h30"><stop offset="0" stop-color="#1431DE"/><stop offset="0.062" stop-color="#1442E6"/><stop offset="0.125" stop-color="#047DFC"/><stop offset="0.188" stop-color="#20D4F2"/><stop offset="0.25" stop-color="#32DCE2"/><stop offset="0.312" stop-color="#3CDFD8"/><stop offset="0.375" stop-color="#48E2CD"/><stop offset="0.438" stop-color="#5EE4B5"/><stop offset="0.5" stop-color="#78E896"/><stop offset="0.562" stop-color="#B2F254"/><stop offset="0.625" stop-color="#F1F222"/><stop offset="0.688" stop-color="#FFAC10"/><stop offset="0.75" stop-color="#FFC113"/><stop offset="0.812" stop-color="#FCEC1B"/><stop offset="0.875" stop-color="#EEF324"/><stop offset="0.938" stop-color="#EAF527"/><stop offset="1" stop-color="#E6F82A"/></linearGradient>
<rect x="23.4" y="468.9" width="132.8" height="3.9" fill="url(#h30)"/>
<linearGradient id="h31"><stop offset="0" stop-color="#105FF1"/><stop offset="0.062" stop-color="#0872F8"/><stop offset="0.125" stop-color="#029FFF"/><stop offset="0.188" stop-color="#20D4F2"/><stop offset="0.25" stop-color="#32DCE2"/><stop offset="0.312" stop-color="#3CDFD8"/><stop offset="0.375" stop-color="#48E2CD"/><stop offset="0.438" stop-color="#5EE4B5"/><stop offset="0.5" stop-color="#78E896"/><stop offset="0.562" stop-color="#B2F254"/><stop offset="0.625" stop-color="#F1F222"/><stop offset="0.688" stop-color="#FFAC10"/><stop offset="0.75" stop-color="#FFC113"/><stop offset="0.812" stop-color="#FCEC1B"/><stop offset="0.875" stop-color="#EEF324"/><stop offset="0.938" stop-color="#EAF527"/><stop offset="1" stop-color="#E6F82A"/></linearGradient>
<rect x="23.4" y="472.3" width="132.8" height="3.9" fill="url(#h31)"/>
<linearGradient id="h32"><stop offset="0" stop-color="#047DFC"/><stop offset="0.062" stop-color="#0191FF"/><stop offset="0.125" stop-color="#04B5FF"/><stop offset="0.188" stop-color="#20D4F2"/><stop offset="0.25" stop-color="#32DCE2"/><stop offset="0.312" stop-color="#3CDFD8"/><stop offset="0.375" stop-color="#48E2CD"/><stop offset="0.438" stop-color="#5EE4B5"/><stop offset="0.5" stop-color="#78E896"/><stop offset="0.562" stop-color="#B2F254"/><stop offset="0.625" stop-color="#F1F222"/><stop offset="0.688" stop-color="#FFAC10"/><stop offset="0.75" stop-color="#FFC113"/><stop offset="0.812" stop-color="#FCEC1B"/><stop offset="0.875" stop-color="#EEF324"/><stop offset="0.938" stop-color="#EAF527"/><stop offset="1" stop-color="#E6F82A"/></linearGradient>
<rect x="23.4" y="475.6" width="132.8" height="3.9" fill="url(#h32)"/>
<linearGradient id="h33"><stop offset="0" stop-color="#05BEFF"/><stop offset="0.062" stop-color="#13CAF8"/><stop offset="0.125" stop-color="#1CD1F4"/><stop offset="0.188" stop-color="#20D4F2"/><stop offset="0.25" stop-color="#32DCE2"/><stop offset="0.312" stop-color="#3CDFD8"/><stop offset="0.375" stop-color="#48E2CD"/><stop offset="0.438" stop-color="#63E4B1"/><stop offset="0.5" stop-color="#8BEB7F"/><stop offset="0.562" stop-color="#C9F641"/><stop offset="0.625" stop-color="#E8F729"/><stop offset="0.688" stop-color="#F0F223"/><stop offset="0.75" stop-color="#F0F223"/><stop offset="0.812" stop-color="#F0F223"/><stop offset="0.875" stop-color="#EFF324"/><stop offset="0.938" stop-color="#EDF425"/><stop offset="1" stop-color="#EBF526"/></linearGradient>
<rect x="23.4" y="478.9" width="132.8" height="3.9" fill="url(#h33)"/>
<linearGradient id="h34"><stop offset="0" stop-color="#0CC4FB"/><stop offset="0.062" stop-color="#1BD0F4"/><stop offset="0.125" stop-color="#20D5F1"/><stop offset="0.188" stop-color="#20D4F2"/><stop offset="0.25" stop-color="#32DCE2"/><stop offset="0.312" stop-color="#3CDFD8"/><stop offset="0.375" stop-color="#48E2CD"/><stop offset="0.438" stop-color="#5EE4B5"/><stop offset="0.5" stop-color="#78E896"/><stop offset="0.562" stop-color="#BDF44B"/><stop offset="0.625" stop-color="#FFEB19"/><stop offset="0.688" stop-color="#FF960F"/><stop offset="0.75" stop-color="#FF850F"/><stop offset="0.812" stop-color="#FF920F"/><stop offset="0.875" stop-color="#FFD316"/><stop offset="0.938" stop-color="#FDEC1A"/><stop offset="1" stop-color="#F0F223"/></linearGradient>
<rect x="23.4" y="482.3" width="132.8" height="3.9" fill="url(#h34)"/>
<linearGradient id="h35"><stop offset="0" stop-color="#04B3FF"/><stop offset="0.062" stop-color="#0CC3FC"/><stop offset="0.125" stop-color="#17CDF6"/><stop offset="0.188" stop-color="#20D4F2"/><stop offset="0.25" stop-color="#32DCE2"/><stop offset="0.312" stop-color="#3CDFD8"/><stop offset="0.375" stop-color="#48E2CD"/><stop offset="0.438" stop-color="#5EE4B5"/><stop offset="0.5" stop-color="#78E896"/><stop offset="0.562" stop-color="#BDF44B"/><stop offset="0.625" stop-color="#FFEB19"/><stop offset="0.688" stop-color="#FF6A0F"/><stop offset="0.75" stop-color="#F32E0C"/><stop offset="0.812" stop-color="#FB490E"/><stop offset="0.875" stop-color="#FFD316"/><stop offset="0.938" stop-color="#FDEC1A"/><stop offset="1" stop-color="#F0F223"/></linearGradient>
<rect x="23.4" y="485.6" width="132.8" height="3.9" fill="url(#h35)"/>
<linearGradient id="h36"><stop offset="0" stop-color="#14CAF8"/><stop offset="0.062" stop-color="#22D6F0"/><stop offset="0.125" stop-color="#26D8ED"/><stop offset="0.188" stop-color="#20D4F2"/><stop offset="0.25" stop-color="#32DCE2"/><stop offset="0.312" stop-color="#3CDFD8"/><stop offset="0.375" stop-color="#48E2CD"/><stop offset="0.438" stop-color="#5EE4B5"/><stop offset="0.5" stop-color="#78E896"/><stop offset="0.562" stop-color="#BDF44B"/><stop offset="0.625" stop-color="#FFEB19"/><stop offset="0.688" stop-color="#FF6A0F"/><stop offset="0.75" stop-color="#F32E0C"/><stop offset="0.812" stop-color="#FB490E"/><stop offset="0.875" stop-color="#FFD316"/><stop offset="0.938" stop-color="#FDEC1A"/><stop offset="1" stop-color="#F0F223"/></linearGradient>
<rect x="23.4" y="489" width="132.8" height="3.9" fill="url(#h36)"/>
<linearGradient id="h37"><stop offset="0" stop-color="#0192FF"/><stop offset="0.062" stop-color="#03A7FF"/><stop offset="0.125" stop-color="#08C1FD"/><stop offset="0.188" stop-color="#20D4F2"/><stop offset="0.25" stop-color="#32DCE2"/><stop offset="0.312" stop-color="#3CDFD8"/><stop offset="0.375" stop-color="#48E2CD"/><stop offset="0.438" stop-color="#5EE4B5"/><stop offset="0.5" stop-color="#78E896"/><stop offset="0.562" stop-color="#BDF44B"/><stop offset="0.625" stop-color="#FFEB19"/><stop offset="0.688" stop-color="#FF960F"/><stop offset="0.75" stop-color="#FF850F"/><stop offset="0.812" stop-color="#FF920F"/><stop offset="0.875" stop-color="#FFD316"/><stop offset="0.938" stop-color="#FDEC1A"/><stop offset="1" stop-color="#F0F223"/></linearGradient>
<rect x="23.4" y="492.3" width="132.8" height="3.9" fill="url(#h37)"/>
<linearGradient id="h38"><stop offset="0" stop-color="#1431DE"/><stop offset="0.062" stop-color="#1442E6"/><stop offset="0.125" stop-color="#047DFC"/><stop offset="0.188" stop-color="#20D4F2"/><stop offset="0.25" stop-color="#32DCE2"/><stop offset="0.312" stop-color="#3CDFD8"/><stop offset="0.375" stop-color="#48E2CD"/><stop offset="0.438" stop-color="#63E4B1"/><stop offset="0.5" stop-color="#8BEB7F"/><stop offset="0.562" stop-color="#C9F641"/><stop offset="0.625" stop-color="#EFF324"/><stop offset="0.688" stop-color="#FAEE1C"/><stop offset="0.75" stop-color="#FAEE1C"/><stop offset="0.812" stop-color="#FAEE1C"/><stop offset="0.875" stop-color="#F9EE1D"/><stop offset="0.938" stop-color="#F7EF1E"/><stop offset="1" stop-color="#F5F020"/></linearGradient>
<rect x="23.4" y="495.7" width="132.8" height="3.9" fill="url(#h38)"/>
<linearGradient id="h39"><stop offset="0" stop-color="#1221D3"/><stop offset="0.062" stop-color="#1430DE"/><stop offset="0.125" stop-color="#0970F7"/><stop offset="0.188" stop-color="#20D4F2"/><stop offset="0.25" stop-color="#32DCE2"/><stop offset="0.312" stop-color="#3CDFD8"/><stop offset="0.375" stop-color="#48E2CD"/><stop offset="0.438" stop-color="#63E4B1"/><stop offset="0.5" stop-color="#8BEB7F"/><stop offset="0.562" stop-color="#C9F641"/><stop offset="0.625" stop-color="#E8F729"/><stop offset="0.688" stop-color="#F0F223"/><stop offset="0.75" stop-color="#F0F223"/><stop offset="0.812" stop-color="#F0F223"/><stop offset="0.875" stop-color="#EFF324"/><stop offset="0.938" stop-color="#EDF425"/><stop offset="1" stop-color="#EBF526"/></linearGradient>
<rect x="23.4" y="499" width="132.8" height="3.9" fill="url(#h39)"/>
<linearGradient id="h40"><stop offset="0" stop-color="#143AE2"/><stop offset="0.062" stop-color="#144BEA"/><stop offset="0.125" stop-color="#0183FE"/><stop offset="0.188" stop-color="#20D4F2"/><stop offset="0.25" stop-color="#32DCE2"/><stop offset="0.312" stop-color="#3CDFD8"/><stop offset="0.375" stop-color="#48E2CD"/><stop offset="0.438" stop-color="#63E4B1"/><stop offset="0.5" stop-color="#8BEB7F"/><stop offset="0.562" stop-color="#C9F641"/><stop offset="0.625" stop-color="#E8F729"/><stop offset="0.688" stop-color="#F0F223"/><stop offset="0.75" stop-color="#F0F223"/><stop offset="0.812" stop-color="#F0F223"/><stop offset="0.875" stop-color="#EFF324"/><stop offset="0.938" stop-color="#EDF425"/><stop offset="1" stop-color="#EBF526"/></linearGradient>
<rect x="23.4" y="502.3" width="132.8" height="3.9" fill="url(#h40)"/>
<linearGradient id="h41"><stop offset="0" stop-color="#1455EE"/><stop offset="0.062" stop-color="#0C68F4"/><stop offset="0.125" stop-color="#0298FF"/><stop offset="0.188" stop-color="#20D4F2"/><stop offset="0.25" stop-color="#32DCE2"/><stop offset="0.312" stop-color="#3CDFD8"/><stop offset="0.375" stop-color="#48E2CD"/><stop offset="0.438" stop-color="#63E4B1"/><stop offset="0.5" stop-color="#8BEB7F"/><stop offset="0.562" stop-color="#C8F641"/><stop offset="0.625" stop-color="#E4F82B"/><stop offset="0.688" stop-color="#EBF526"/><stop offset="0.75" stop-color="#EBF526"/><stop offset="0.812" stop-color="#EBF526"/><stop offset="0.875" stop-color="#EAF527"/><stop offset="0.938" stop-color="#E8F628"/><stop offset="1" stop-color="#E6F82A"/></linearGradient>
<rect x="23.4" y="505.7" width="132.8" height="3.9" fill="url(#h41)"/>
<linearGradient id="h42"><stop offset="0" stop-color="#1443E6"/><stop offset="0.062" stop-color="#1454EE"/><stop offset="0.125" stop-color="#008AFF"/><stop offset="0.188" stop-color="#20D4F2"/><stop offset="0.25" stop-color="#32DCE2"/><stop offset="0.312" stop-color="#3CDFD8"/><stop offset="0.375" stop-color="#48E2CD"/><stop offset="0.438" stop-color="#63E4B1"/><stop offset="0.5" stop-color="#8BEB7F"/><stop offset="0.562" stop-color="#C8F641"/><stop offset="0.625" stop-color="#E4F82B"/><stop offset="0.688" stop-color="#EBF526"/><stop offset="0.75" stop-color="#EBF526"/><stop offset="0.812" stop-color="#EBF526"/><stop offset="0.875" stop-color="#EAF527"/><stop offset="0.938" stop-color="#E8F628"/><stop offset="1" stop-color="#E6F82A"/></linearGradient>
<rect x="23.4" y="509" width="132.8" height="3.9" fill="url(#h42)"/>
<linearGradient id="h43"><stop offset="0" stop-color="#03A8FF"/><stop offset="0.062" stop-color="#05BDFF"/><stop offset="0.125" stop-color="#12C9F9"/><stop offset="0.188" stop-color="#20D4F2"/><stop offset="0.25" stop-color="#32DCE2"/><stop offset="0.312" stop-color="#3CDFD8"/><stop offset="0.375" stop-color="#48E2CD"/><stop offset="0.438" stop-color="#5EE4B5"/><stop offset="0.5" stop-color="#78E896"/><stop offset="0.562" stop-color="#A7F05D"/><stop offset="0.625" stop-color="#D4F838"/><stop offset="0.688" stop-color="#ECF425"/><stop offset="0.75" stop-color="#F3F121"/><stop offset="0.812" stop-color="#F8EF1E"/><stop offset="0.875" stop-color="#FFCA14"/><stop offset="0.938" stop-color="#FF7E0F"/><stop offset="1" stop-color="#FF650F"/></linearGradient>
<rect x="23.4" y="512.4" width="132.8" height="3.9" fill="url(#h43)"/>
<linearGradient id="h44"><stop offset="0" stop-color="#05BEFF"/><stop offset="0.062" stop-color="#13CAF8"/><stop offset="0.125" stop-color="#1CD1F4"/><stop offset="0.188" stop-color="#20D4F2"/><stop offset="0.25" stop-color="#32DCE2"/><stop offset="0.312" stop-color="#3CDFD8"/><stop offset="0.375" stop-color="#48E2CD"/><stop offset="0.438" stop-color="#5EE4B5"/><stop offset="0.5" stop-color="#78E896"/><stop offset="0.562" stop-color="#A7F05D"/><stop offset="0.625" stop-color="#D4F838"/><stop offset="0.688" stop-color="#ECF425"/><stop offset="0.75" stop-color="#F3F121"/><stop offset="0.812" stop-color="#F8EF1E"/><stop offset="0.875" stop-color="#FFCA14"/><stop offset="0.938" stop-color="#FF7E0F"/><stop offset="1" stop-color="#FF650F"/></linearGradient>
<rect x="23.4" y="515.7" width="132.8" height="3.9" fill="url(#h44)"/>
<linearGradient id="h45"><stop offset="0" stop-color="#0192FF"/><stop offset="0.062" stop-color="#03A7FF"/><stop offset="0.125" stop-color="#08C1FD"/><stop offset="0.188" stop-color="#20D4F2"/><stop offset="0.25" stop-color="#32DCE2"/><stop offset="0.312" stop-color="#3CDFD8"/><stop offset="0.375" stop-color="#48E2CD"/><stop offset="0.438" stop-color="#63E4B1"/><stop offset="0.5" stop-color="#8BEB7F"/><stop offset="0.562" stop-color="#C9F641"/><stop offset="0.625" stop-color="#E8F729"/><stop offset="0.688" stop-color="#F0F223"/><stop offset="0.75" stop-color="#F0F223"/><stop offset="0.812" stop-color="#F0F223"/><stop offset="0.875" stop-color="#EFF324"/><stop offset="0.938" stop-color="#EDF425"/><stop offset="1" stop-color="#EBF526"/></linearGradient>
<rect x="23.4" y="519" width="132.8" height="3.9" fill="url(#h45)"/>
<linearGradient id="h46"><stop offset="0" stop-color="#029DFF"/><stop offset="0.062" stop-color="#04B2FF"/><stop offset="0.125" stop-color="#0DC5FB"/><stop offset="0.188" stop-color="#20D4F2"/><stop offset="0.25" stop-color="#32DCE2"/><stop offset="0.312" stop-color="#3CDFD8"/><stop offset="0.375" stop-color="#48E2CD"/><stop offset="0.438" stop-color="#63E4B1"/><stop offset="0.5" stop-color="#8BEB7F"/><stop offset="0.562" stop-color="#C9F641"/><stop offset="0.625" stop-color="#E8F729"/><stop offset="0.688" stop-color="#F0F223"/><stop offset="0.75" stop-color="#F0F223"/><stop offset="0.812" stop-color="#F0F223"/><stop offset="0.875" stop-color="#EFF324"/><stop offset="0.938" stop-color="#EDF425"/><stop offset="1" stop-color="#EBF526"/></linearGradient>
<rect x="23.4" y="522.4" width="132.8" height="3.9" fill="url(#h46)"/>
<linearGradient id="h47"><stop offset="0" stop-color="#047DFC"/><stop offset="0.062" stop-color="#0191FF"/><stop offset="0.125" stop-color="#04B5FF"/><stop offset="0.188" stop-color="#20D4F2"/><stop offset="0.25" stop-color="#32DCE2"/><stop offset="0.312" stop-color="#3CDFD8"/><stop offset="0.375" stop-color="#48E2CD"/><stop offset="0.438" stop-color="#63E4B1"/><stop offset="0.5" stop-color="#8BEB7F"/><stop offset="0.562" stop-color="#C9F641"/><stop offset="0.625" stop-color="#EBF526"/><stop offset="0.688" stop-color="#F5F020"/><stop offset="0.75" stop-color="#F5F020"/><stop offset="0.812" stop-color="#F5F020"/><stop offset="0.875" stop-color="#F4F020"/><stop offset="0.938" stop-color="#F2F122"/><stop offset="1" stop-color="#F0F223"/></linearGradient>
<rect x="23.4" y="525.7" width="132.8" height="3.9" fill="url(#h47)"/>
<linearGradient id="h48"><stop offset="0" stop-color="#04B3FF"/><stop offset="0.062" stop-color="#0CC3FC"/><stop offset="0.125" stop-color="#17CDF6"/><stop offset="0.188" stop-color="#20D4F2"/><stop offset="0.25" stop-color="#32DCE2"/><stop offset="0.312" stop-color="#3CDFD8"/><stop offset="0.375" stop-color="#48E2CD"/><stop offset="0.438" stop-color="#5EE4B5"/><stop offset="0.5" stop-color="#78E896"/><stop offset="0.562" stop-color="#B2F254"/><stop offset="0.625" stop-color="#EBF526"/><stop offset="0.688" stop-color="#FFC814"/><stop offset="0.75" stop-color="#FF800F"/><stop offset="0.812" stop-color="#FF9F0F"/><stop offset="0.875" stop-color="#FFEA19"/><stop offset="0.938" stop-color="#ECF426"/><stop offset="1" stop-color="#E6F82A"/></linearGradient>
<rect x="23.4" y="529.1" width="132.8" height="3.9" fill="url(#h48)"/>
<linearGradient id="h49"><stop offset="0" stop-color="#03A8FF"/><stop offset="0.062" stop-color="#05BDFF"/><stop offset="0.125" stop-color="#12C9F9"/><stop offset="0.188" stop-color="#20D4F2"/><stop offset="0.25" stop-color="#32DCE2"/><stop offset="0.312" stop-color="#3CDFD8"/><stop offset="0.375" stop-color="#48E2CD"/><stop offset="0.438" stop-color="#5EE4B5"/><stop offset="0.5" stop-color="#78E896"/><stop offset="0.562" stop-color="#B2F254"/><stop offset="0.625" stop-color="#EBF526"/><stop offset="0.688" stop-color="#FFC814"/><stop offset="0.75" stop-color="#FF800F"/><stop offset="0.812" stop-color="#FF9F0F"/><stop offset="0.875" stop-color="#FFEA19"/><stop offset="0.938" stop-color="#ECF426"/><stop offset="1" stop-color="#E6F82A"/></linearGradient>
<rect x="23.4" y="532.4" width="132.8" height="3.9" fill="url(#h49)"/>
<linearGradient id="h50"><stop offset="0" stop-color="#0192FF"/><stop offset="0.062" stop-color="#03A7FF"/><stop offset="0.125" stop-color="#08C1FD"/><stop offset="0.188" stop-color="#20D4F2"/><stop offset="0.25" stop-color="#32DCE2"/><stop offset="0.312" stop-color="#3CDFD8"/><stop offset="0.375" stop-color="#48E2CD"/><stop offset="0.438" stop-color="#63E4B1"/><stop offset="0.5" stop-color="#8BEB7F"/><stop offset="0.562" stop-color="#C9F641"/><stop offset="0.625" stop-color="#E8F729"/><stop offset="0.688" stop-color="#F0F223"/><stop offset="0.75" stop-color="#F0F223"/><stop offset="0.812" stop-color="#F0F223"/><stop offset="0.875" stop-color="#EFF324"/><stop offset="0.938" stop-color="#EDF425"/><stop offset="1" stop-color="#EBF526"/></linearGradient>
<rect x="23.4" y="535.8" width="132.8" height="3.3" fill="url(#h50)"/>
<rect x="20.4" y="449.6" width="135.8" height="1.7" fill="#fff"/>
<rect x="20.4" y="456.8" width="135.8" height="2.1" fill="#fff"/>
<rect x="20.6" y="371" width="2.6" height="78.6" fill="#F4A09A"/>
<rect x="20.6" y="451.3" width="2.6" height="5.5" fill="#9DB8E8"/>
<rect x="20.6" y="458.9" width="2.6" height="80.2" fill="#27C266"/>
<line x1="11.2" y1="401" x2="11.2" y2="469" stroke="#666" stroke-width=".5"/>
<line x1="11.2" y1="401" x2="18.8" y2="401" stroke="#666" stroke-width=".5"/>
<line x1="11.2" y1="469" x2="18.5" y2="469" stroke="#666" stroke-width=".5"/>
<line x1="18.8" y1="374" x2="18.8" y2="448" stroke="#666" stroke-width=".3"/>
<line x1="18.5" y1="452" x2="18.5" y2="537" stroke="#666" stroke-width=".3"/>
<line x1="18.5" y1="452" x2="20.4" y2="452" stroke="#666" stroke-width=".3"/>
<line x1="18.8" y1="376" x2="20.4" y2="376" stroke="#999" stroke-width=".2"/>
<line x1="18.8" y1="381" x2="20.4" y2="381" stroke="#999" stroke-width=".2"/>
<line x1="18.8" y1="386" x2="20.4" y2="386" stroke="#999" stroke-width=".2"/>
<line x1="18.8" y1="391" x2="20.4" y2="391" stroke="#999" stroke-width=".2"/>
<line x1="18.8" y1="396" x2="20.4" y2="396" stroke="#999" stroke-width=".2"/>
<line x1="18.8" y1="401" x2="20.4" y2="401" stroke="#999" stroke-width=".2"/>
<line x1="18.8" y1="406" x2="20.4" y2="406" stroke="#999" stroke-width=".2"/>
<line x1="18.8" y1="411" x2="20.4" y2="411" stroke="#999" stroke-width=".2"/>
<line x1="18.8" y1="416" x2="20.4" y2="416" stroke="#999" stroke-width=".2"/>
<line x1="18.8" y1="421" x2="20.4" y2="421" stroke="#999" stroke-width=".2"/>
<line x1="18.8" y1="426" x2="20.4" y2="426" stroke="#999" stroke-width=".2"/>
<line x1="18.8" y1="431" x2="20.4" y2="431" stroke="#999" stroke-width=".2"/>
<line x1="18.8" y1="436" x2="20.4" y2="436" stroke="#999" stroke-width=".2"/>
<line x1="18.8" y1="441" x2="20.4" y2="441" stroke="#999" stroke-width=".2"/>
<line x1="18.8" y1="446" x2="20.4" y2="446" stroke="#999" stroke-width=".2"/>
<line x1="18.5" y1="462" x2="20.4" y2="462" stroke="#999" stroke-width=".2"/>
<line x1="18.5" y1="467" x2="20.4" y2="467" stroke="#999" stroke-width=".2"/>
<line x1="18.5" y1="472" x2="20.4" y2="472" stroke="#999" stroke-width=".2"/>
<line x1="18.5" y1="477" x2="20.4" y2="477" stroke="#999" stroke-width=".2"/>
<line x1="18.5" y1="482" x2="20.4" y2="482" stroke="#999" stroke-width=".2"/>
<line x1="18.5" y1="487" x2="20.4" y2="487" stroke="#999" stroke-width=".2"/>
<line x1="18.5" y1="492" x2="20.4" y2="492" stroke="#999" stroke-width=".2"/>
<line x1="18.5" y1="497" x2="20.4" y2="497" stroke="#999" stroke-width=".2"/>
<line x1="18.5" y1="502" x2="20.4" y2="502" stroke="#999" stroke-width=".2"/>
<line x1="18.5" y1="507" x2="20.4" y2="507" stroke="#999" stroke-width=".2"/>
<line x1="18.5" y1="512" x2="20.4" y2="512" stroke="#999" stroke-width=".2"/>
<line x1="18.5" y1="517" x2="20.4" y2="517" stroke="#999" stroke-width=".2"/>
<line x1="18.5" y1="522" x2="20.4" y2="522" stroke="#999" stroke-width=".2"/>
<line x1="18.5" y1="527" x2="20.4" y2="527" stroke="#999" stroke-width=".2"/>
<line x1="18.5" y1="532" x2="20.4" y2="532" stroke="#999" stroke-width=".2"/>
<text x="22" y="541" font-size="2.2" fill="#666" transform="rotate(90 22 541)">Cluster</text>
<text x="157.4" y="373.5" font-size="2.5" fill="#555">C1QA</text>
<text x="157.4" y="376.8" font-size="2.5" fill="#555">CD74</text>
<text x="157.4" y="380.1" font-size="2.5" fill="#555">APOC1</text>
<text x="157.4" y="383.4" font-size="2.5" fill="#555">FTL</text>
<text x="157.4" y="386.6" font-size="2.5" fill="#555">SLC40A1</text>
<text x="157.4" y="389.9" font-size="2.5" fill="#555">FCGR3A</text>
<text x="157.4" y="393.2" font-size="2.5" fill="#555">CD163</text>
<text x="157.4" y="396.5" font-size="2.5" fill="#555">C1QB</text>
<text x="157.4" y="399.7" font-size="2.5" fill="#555">C1QC</text>
<text x="157.4" y="403" font-size="2.5" fill="#555">CTSB</text>
<text x="157.4" y="406.3" font-size="2.5" fill="#555">APOE</text>
<text x="157.4" y="409.6" font-size="2.5" fill="#555">MS4A7</text>
<text x="157.4" y="412.8" font-size="2.5" fill="#555">CD68</text>
<text x="157.4" y="416.1" font-size="2.5" fill="#555">TMEM176B</text>
<text x="157.4" y="419.4" font-size="2.5" fill="#555">FOLR2</text>
<text x="157.4" y="422.7" font-size="2.5" fill="#555">SELENOP</text>
<text x="157.4" y="425.9" font-size="2.5" fill="#555">MAF</text>
<text x="157.4" y="429.2" font-size="2.5" fill="#555">RNASE1</text>
<text x="157.4" y="432.5" font-size="2.5" fill="#555">PLD4</text>
<text x="157.4" y="435.8" font-size="2.5" fill="#555">NUPR1</text>
<text x="157.4" y="439" font-size="2.5" fill="#555">EFHD2</text>
<text x="157.4" y="442.3" font-size="2.5" fill="#555">TGFBI</text>
<text x="157.4" y="445.6" font-size="2.5" fill="#555">GPNMB</text>
<text x="157.4" y="448.9" font-size="2.5" fill="#555">CTSL</text>
<text x="157.4" y="453.5" font-size="2.5" fill="#555">MARCO</text>
<text x="157.4" y="456.3" font-size="2.5" fill="#555">FTH1</text>
<text x="157.4" y="461.5" font-size="2.5" fill="#555">ENO1</text>
<text x="157.4" y="464.8" font-size="2.5" fill="#555">S100A8</text>
<text x="157.4" y="468.2" font-size="2.5" fill="#555">LYZ</text>
<text x="157.4" y="471.5" font-size="2.5" fill="#555">S100A9</text>
<text x="157.4" y="474.8" font-size="2.5" fill="#555">VCAN</text>
<text x="157.4" y="478.2" font-size="2.5" fill="#555">IL1B</text>
<text x="157.4" y="481.5" font-size="2.5" fill="#555">FCN1</text>
<text x="157.4" y="484.9" font-size="2.5" fill="#555">MTND1P23</text>
<text x="157.4" y="488.2" font-size="2.5" fill="#555">CXCL8</text>
<text x="157.4" y="491.5" font-size="2.5" fill="#555">G0S2</text>
<text x="157.4" y="494.9" font-size="2.5" fill="#555">NEAT1</text>
<text x="157.4" y="498.2" font-size="2.5" fill="#555">SLC11A1</text>
<text x="157.4" y="501.6" font-size="2.5" fill="#555">CD14</text>
<text x="157.4" y="504.9" font-size="2.5" fill="#555">S100A12</text>
<text x="157.4" y="508.3" font-size="2.5" fill="#555">RNASE2</text>
<text x="157.4" y="511.6" font-size="2.5" fill="#555">MNDA</text>
<text x="157.4" y="514.9" font-size="2.5" fill="#555">SOD2</text>
<text x="157.4" y="518.3" font-size="2.5" fill="#555">CSF3R</text>
<text x="157.4" y="521.6" font-size="2.5" fill="#555">FOS</text>
<text x="157.4" y="525" font-size="2.5" fill="#555">EREG</text>
<text x="157.4" y="528.3" font-size="2.5" fill="#555">LST1</text>
<text x="157.4" y="531.6" font-size="2.5" fill="#555">AIF1</text>
<text x="157.4" y="535" font-size="2.5" fill="#555">IL1RN</text>
<text x="157.4" y="538.3" font-size="2.5" fill="#555">NAMPT</text>
<text x="172.6" y="379.2" font-size="5.2" font-weight="bold" fill="#222">Cluster</text>
<rect x="172.7" y="380.3" width="6.5" height="6.5" fill="#27C266"/>
<text x="181.4" y="385.6" font-size="4.8" font-weight="bold" fill="#333">1</text>
<rect x="172.7" y="387.3" width="6.5" height="6.5" fill="#F4A09A"/>
<text x="181.4" y="392.6" font-size="4.8" font-weight="bold" fill="#333">2</text>
<rect x="172.7" y="394.3" width="6.5" height="6.5" fill="#9DB8E8"/>
<text x="181.4" y="399.6" font-size="4.8" font-weight="bold" fill="#333">3</text>
<linearGradient id="cb" x1="0" y1="0" x2="0" y2="1"><stop offset="0.000" stop-color="#C80000"/><stop offset="0.083" stop-color="#EB140A"/><stop offset="0.167" stop-color="#FF550F"/><stop offset="0.250" stop-color="#FFA50F"/><stop offset="0.308" stop-color="#FFEB19"/><stop offset="0.358" stop-color="#E1FA2D"/><stop offset="0.417" stop-color="#A5F05F"/><stop offset="0.467" stop-color="#78E896"/><stop offset="0.500" stop-color="#64E4AF"/><stop offset="0.550" stop-color="#41E1D4"/><stop offset="0.600" stop-color="#23D7F0"/><stop offset="0.667" stop-color="#05BEFF"/><stop offset="0.750" stop-color="#0087FF"/><stop offset="0.833" stop-color="#1455EE"/><stop offset="0.917" stop-color="#1428DA"/><stop offset="1.000" stop-color="#0A05B9"/></linearGradient>
<rect x="174.5" y="411.2" width="4.8" height="75" fill="url(#cb)"/>
<text x="181.2" y="412.9" font-size="3.2" fill="#333">3</text>
<text x="181.2" y="425.3" font-size="3.2" fill="#333">2</text>
<text x="181.2" y="437.6" font-size="3.2" fill="#333">1</text>
<text x="181.2" y="450" font-size="3.2" fill="#333">0</text>
<text x="181.2" y="462.4" font-size="3.2" fill="#333">-1</text>
<text x="181.2" y="474.8" font-size="3.2" fill="#333">-2</text>
<text x="181.2" y="487.1" font-size="3.2" fill="#333">-3</text>
<text x="198.4" y="366" font-size="8.5" font-weight="bold">J</text>
<text x="285.8" y="373.6" font-size="3.2" text-anchor="middle" fill="#333">C1QA</text>
<line x1="212.2" y1="376.3" x2="212.2" y2="395" stroke="#333" stroke-width=".5"/>
<line x1="211" y1="377.9" x2="212.2" y2="377.9" stroke="#333" stroke-width=".4"/>
<text x="210.5" y="379.1" font-size="3.4" text-anchor="end">100</text>
<line x1="211" y1="384.9" x2="212.2" y2="384.9" stroke="#333" stroke-width=".4"/>
<text x="210.5" y="386.1" font-size="3.4" text-anchor="end">10</text>
<line x1="211" y1="392.9" x2="212.2" y2="392.9" stroke="#333" stroke-width=".4"/>
<text x="210.5" y="394.1" font-size="3.4" text-anchor="end">1</text>
<line x1="218.6" y1="389.9" x2="271.1" y2="389.9" stroke="#F8766D" stroke-width="1.25" stroke-dasharray=".9 .25"/>
<line x1="271.1" y1="389.9" x2="296.1" y2="389.9" stroke="#53B400" stroke-width="1.25" stroke-dasharray=".9 .25"/>
<line x1="269.6" y1="389.9" x2="277.8" y2="389.9" stroke="#C49A00" stroke-width="1.25" stroke-dasharray=".9 .25"/>
<line x1="294.6" y1="389.9" x2="298.2" y2="389.9" stroke="#00C094" stroke-width="1.25" stroke-dasharray=".9 .25"/>
<line x1="296.1" y1="389.9" x2="320.6" y2="389.9" stroke="#FB61D7" stroke-width="1.25" stroke-dasharray=".9 .25"/>
<line x1="312.9" y1="389.9" x2="327.2" y2="389.9" stroke="#00B6EB" stroke-width="1.25" stroke-dasharray=".9 .25"/>
<line x1="326.7" y1="389.9" x2="354.3" y2="389.9" stroke="#A58AFF" stroke-width="1.25" stroke-dasharray=".9 .25"/>
<line x1="218.6" y1="391.9" x2="271.1" y2="391.9" stroke="#F8766D" stroke-width="1.25" stroke-dasharray=".9 .25"/>
<line x1="271.1" y1="391.9" x2="296.1" y2="391.9" stroke="#53B400" stroke-width="1.25" stroke-dasharray=".9 .25"/>
<line x1="269.6" y1="391.9" x2="277.8" y2="391.9" stroke="#C49A00" stroke-width="1.25" stroke-dasharray=".9 .25"/>
<line x1="294.6" y1="391.9" x2="298.2" y2="391.9" stroke="#00C094" stroke-width="1.25" stroke-dasharray=".9 .25"/>
<line x1="296.1" y1="391.9" x2="320.6" y2="391.9" stroke="#FB61D7" stroke-width="1.25" stroke-dasharray=".9 .25"/>
<line x1="312.9" y1="391.9" x2="327.2" y2="391.9" stroke="#00B6EB" stroke-width="1.25" stroke-dasharray=".9 .25"/>
<line x1="326.7" y1="391.9" x2="354.3" y2="391.9" stroke="#A58AFF" stroke-width="1.25" stroke-dasharray=".9 .25"/>
<line x1="218.6" y1="393.9" x2="271.1" y2="393.9" stroke="#F8766D" stroke-width="1.25" stroke-dasharray=".9 .25"/>
<line x1="271.1" y1="393.9" x2="296.1" y2="393.9" stroke="#53B400" stroke-width="1.25" stroke-dasharray=".9 .25"/>
<line x1="269.6" y1="393.9" x2="277.8" y2="393.9" stroke="#C49A00" stroke-width="1.25" stroke-dasharray=".9 .25"/>
<line x1="294.6" y1="393.9" x2="298.2" y2="393.9" stroke="#00C094" stroke-width="1.25" stroke-dasharray=".9 .25"/>
<line x1="296.1" y1="393.9" x2="320.6" y2="393.9" stroke="#FB61D7" stroke-width="1.25" stroke-dasharray=".9 .25"/>
<line x1="312.9" y1="393.9" x2="327.2" y2="393.9" stroke="#00B6EB" stroke-width="1.25" stroke-dasharray=".9 .25"/>
<line x1="326.7" y1="393.9" x2="354.3" y2="393.9" stroke="#A58AFF" stroke-width="1.25" stroke-dasharray=".9 .25"/>
<polygon points="218.6,379.8 244.9,382.6 271.1,385.3 271.1,388.2 218.6,388.2" fill="#F8766D" fill-opacity="0.85"/>
<path d="M218.6 383.2h0m.1 5.3h0m0 .9h0m.9-.5h0m1.1 0h0m-1.3-.6h0m1.7-.2h0m.8-.4h0m-1.9 0h0m.3-.5h0m.9-.1h0m-1.4-1.3h0m-.6-.2h0m.3-1.1h0m2.2-.4h0m-.6 0h0m-1.1-.3h0m-.7-.1h0m2.6-.9h0m-2.1-1.1h0m.9-.5h0m0-.2h0m-1.3-.1h0m-.3-.2h0m2.8-.9h0m-.2 0h0m1.4 1.1h0m1.3 .5h0m-.4 .4h0m-.6 .6h0m.5 1.1h0m.6 .1h0m-2.2 0h0m.3 .5h0m2.2 .4h0m-2.4 .3h0m1 .3h0m.6 1.2h0m-1.1 .2h0m-.3 0h0m.8 .2h0m.6 .9h0m-1 .1h0m.1 .4h0m1.3 .1h0m-1.8 .6h0m-.5 0h0m2.3 .3h0m0 .1h0m2.1 .4h0m.7-.4h0m.5-.2h0m-.1 0h0m-1.3 0h0m-.3-.1h0m1.3-.9h0m-2.3-1.4h0m.6-.1h0m1.7 0h0m-1.7-.9h0m1.2-1.3h0m-1.8-.2h0m2.4-.3h0m-1.5-.1h0m.5-.2h0m0-.1h0m1.4-1.1h0m-.3 0h0m-.4-1h0m.4-.5h0m-1.9-.6h0m-.1-.2h0m5.4 .6h0m-1.8 1h0m-.6 .6h0m1.2 1h0m-1.2 .1h0m-.2 .6h0m.7 .6h0m-.7 .5h0m1.6 0h0m-1 .1h0m1.9 .1h0m-1.2 .3h0m1.1 0h0m-1.8 .3h0m.9 .3h0m-.6 .3h0m.3 .5h0m-.7 .3h0m-.5 .4h0m-.2 .1h0m.5 .2h0m.6 .1h0m-.7 .4h0m-.4 .2h0m.8 0h0m-.2 .2h0m.1 0h0m-.7 .2h0m5.4 .6h0m-1-.1h0m-.4-.1h0m1.7-.2h0m-1.6-.4h0m-.5-1.3h0m-.6 0h0m2.4 0h0m-.7-.4h0m-1.1-.1h0m0-.4h0m.8-.1h0m1.3-.8h0m-1.7-.2h0m-.6-.6h0m1.5-.2h0m-1.6-.1h0m-.3-.4h0m-.1-.1h0m.8 0h0m-.6-1.5h0m2.3-.7h0m-1.7-1.2h0m3.8 .7h0m-.9 1.1h0m1.5 .5h0m0 .7h0m-.5 0h0m-.4 .1h0m.3 .5h0m-1.6 .4h0m2.1 .2h0m-.5 .3h0m.5 0h0m-2 .4h0m.6 0h0m.1 .2h0m-.2 .2h0m.5 .6h0m.5 .4h0m.6 .5h0m.5 .1h0m-1.1 0h0m.4 .7h0m-.3 .4h0m-.1 0h0m.1 .2h0m-1.7 .2h0m1.9 .1h0m-1.5 .2h0m3.5-1h0m.6-.6h0m-.4 0h0m1.4-.2h0m-.9-.2h0m1.2-.2h0m-2-.8h0m2.1-.8h0m-2.5-.5h0m1.2-.2h0m-.3 0h0m-.3-.1h0m1.6-.1h0m-2.3-.3h0m.1-.1h0m0-1.2h0m1.2-.2h0m-1.5-.4h0m2.3-1.1h0m.7 .4h0m2.5 .2h0m-2.3 1.2h0m-.2 0h0m2.8 .2h0m-1.6 .8h0m-.8 .3h0m1.9 .3h0m-1.8 .5h0m-.4 0h0m2.5 .2h0m.2 .4h0m-1.3 .2h0m.3 .6h0m-1.4 .5h0m2 .4h0m-.1 .1h0m-1.6 .3h0m-.7 .7h0m.4 0h0m0 .1h0m-.5 0h0m.4 .1h0m2.5 .1h0m-1.8 .3h0m-.2 .1h0m3.6 .1h0m-.1-.2h0m1.3-.3h0m-.2 0h0m-.6 0h0m.1 0h0m.7-.8h0m-1.9-.7h0m1.1-.2h0m-1.9-.3h0m2.7-.4h0m-1.9-.2h0m1.9-.1h0m-2-.3h0m1.5-.2h0m-2-.2h0m1 0h0m.1-.4h0m-1.2-.2h0m1.5-.2h0m-1.2-.4h0m-.1-.2h0m.9-.3h0m-.2-.9h0m1.9-.5h0m-2.4-.3h0m-.4-.1h0m1.3-.7h0m2.1 .5h0m1.4 .7h0m.8 .4h0m-2.4 .1h0m1.4 .5h0m.5 .3h0m-2 .2h0m.3 .1h0m1.4 .3h0m-.4 .2h0m1 .1h0m-2.4 .4h0m1.3 .4h0m-.5 .2h0m1.3 0h0m-.1 .1h0m-.7 .3h0m.9 .2h0m-1.2 0h0m-.6 .1h0m1.7 .1h0m-.3 .3h0m-.2 .3h0m.8 .2h0m.3 .1h0m-1.5 0h0m-.3 0h0m1 .2h0m-.3 .8h0m-1 0h0m-.7 .9h0m3.7-.3h0m.3-.6h0m1.9-.1h0m-2.3-.3h0m1-.4h0m-.7-.3h0m.5-.4h0m-.1-.2h0m.4-.3h0m-.8 0h0m-.2 0h0m1.7-.5h0m-1.6-.4h0m1.6-1.2h0m.2-.1h0m-2.4-.2h0m.7-.4h0m1-.1h0m.2-.1h0m-1.4-.5h0m-.2-.4h0m4 .4h0m-1 0h0m.9 .2h0m.5 .3h0m-1 .2h0m.8 .5h0m1 .3h0m-1.1 .6h0m-.7 .1h0m-.6 .1h0m1 .2h0m.2 0h0m.1 .1h0m-.8 .6h0m-.4 .5h0m-.2 0h0m.6 .1h0m.3 .3h0m.9 0h0m.8 .2h0m-1.5 .1h0m1.4 .5h0m-1.3 .7h0m-.1 .5h0m-1.1 .1h0m2.6 0h0m0 .1h0m.9 .1h0m-.6-.1h0m1.3-.4h0m-1.2-.1h0m0-.7h0m.6-.6h0m-.4-.8h0m2.5-.1h0m-2.1-.1h0m-.4-.3h0m1.2 0h0m-.9-.2h0m.6-.2h0m-.7-.1h0m2.2-.2h0m-.3-.2h0m-1.3 0h0m1.4-.8h0m-.2-1.4h0m2.7 .5h0m-1.3 .2h0m.3 .5h0m1.4 .2h0m-.4 .1h0m-2.1 .1h0m1 .1h0m-.6 .4h0m1.2 .1h0m-.8 .3h0m.2 .7h0m1.4 .1h0m-1.6 0h0m1.9 .2h0m-1.3 .2h0m1.5 .3h0m-1.5 0h0m-.9 .1h0m1 .2h0m1 0h0m-.5 .3h0m.6 .1h0m-.3 .1h0m-1.3 .1h0m.8 .4h0m.9 .9h0m2 .1h0m.5-.2h0m.7 0h0m-2-.1h0m1-.2h0m.8-.1h0m-2.4-.2h0m.7-.2h0m.9-.4h0m-1.2-.3h0m.9 0h0m.7 0h0m-2.3-.1h0m2.1 0h0m-.6-.1h0m.8-.4h0m-.5-.1h0m-1.2-.3h0m-.1-.5h0m1.1-.9h0m.6-.1h0m.3-.1h0m-2.1-.1h0m-.1-.7h0m0-.3h0m0-.1h0m1.4-.1h0m-1.5 0h0m4.6 .6h0m-1.7 .1h0m2.6 .5h0m-.7 .2h0m-1.8 0h0m2.7 .2h0m-1.4 .3h0m-.2 .4h0m.7 0h0m-1.9 .6h0m-.1 0h0m2.5 .2h0m-2.3 0h0m1.3 .5h0m0 .5h0m-.4 0h0m1.4 .4h0m-1.5 .3h0m1.3 0h0m-.5 0h0m-1.5 .2h0m-.3 .5h0m4.6-.1h0m-1.6-.4h0m2.5-.1h0m-.6-.1h0m-.2-.4h0m.8-.2h0m-2.5-.5h0m2.4 0h0m-1.3-.2h0m.8-.5h0m.4-.5h0m-.4-.1h0m.2 0h0m.5-.2h0m-.1-.4h0m-.8-.6h0m.6 0h0m-1.9-.1h0m1.7 0h0m.4-.1h0m1.3 .2h0m0 .7h0m.1 .2h0m-.8 0h0m.7 1.5h0m-.8 .8h0" stroke="#F8766D" stroke-width="1.2"/>
<polygon points="271.1,383.3 283.6,384.6 296.1,385.8 296.1,390.4 271.1,390.4" fill="#53B400" fill-opacity="0.2"/>
<path d="M271.2 384.6h0m.3 2.6h0m1.3 .8h0m-1.1 .6h0m-.1 .9h0m.5 .4h0m.4 0h0m-.9 0h0m.7 .1h0m-1.1 1.1h0m.2 .1h0m.6 .2h0m2-1.1h0m1.5-.1h0m.4-1h0m-2.1-.2h0m-.6-.2h0m.5-.7h0m1.9-.1h0m-2-.2h0m0-.2h0m-.3-.5h0m.7-.2h0m.7-.6h0m-1.5-.3h0m.7-.3h0m1.4-.6h0m-.5-.7h0m-.6-.8h0m1.8-.1h0m1.7 1.7h0m.9 .2h0m-1.5 .6h0m-.4 .2h0m.3 .8h0m.1 .1h0m-.4 .2h0m.1 .3h0m2.1 .4h0m-1.4 .7h0m.4 .1h0m-1 .3h0m.1 .2h0m1.5 .1h0m-2.3 .3h0m-.2 .2h0m.6 .2h0m-.3 1.3h0m.9 .1h0m3.1 .3h0m.3-1.1h0m.1-.1h0m-1.4-.2h0m.5-.3h0m-.6-.1h0m2.1-.2h0m-1.4-.2h0m2-.5h0m-.2-.1h0m-.7-.1h0m.6-.7h0m-2.6 0h0m1.5-1.1h0m-.6-.4h0m-.5-.2h0m2.5-.5h0m-1.9 0h0m-.4-.5h0m1-.1h0m-1.6-.2h0m1.9-.9h0m1.3 1h0m1.5 .3h0m.5 .5h0m.6 .7h0m-.1 .2h0m-2.7 0h0m.8 .5h0m1.5 .5h0m-1.5 .8h0m1.6 0h0m-1 .1h0m1.4 .4h0m-.8 .8h0m-.9 .1h0m.8 .5h0m0 .2h0m-1.9 0h0m4.4 0h0m.1-.3h0m.4-.1h0m.9-.1h0m-1.9-1.1h0m1.2-.1h0m.1-.9h0m-.4-.1h0m.8-1h0m-1.3-.3h0m-1.3-1.9h0m2.8-.7h0m-1.3 0h0m1.5 .3h0m.2 .6h0m-.1 .2h0m2 .8h0m.4 .9h0m-1.5 0h0m1.3 1h0m-2 .7h0m.8 .4h0m4.5 1.6h0m-.2-.3h0m.2-.8h0m-2.5-.1h0m2.4-.1h0m-2.2-.1h0m.8-.3h0m-.2-.3h0m2-.1h0m0-.3h0m-1-1.1h0m.2-.8h0m-1.8-1.3h0m4.6-.4h0m-.2 .5h0m-1.1 .3h0m1.3 .6h0m-1.2 .8h0m-.5 .2h0m0 .1h0m-.1 .4h0m1.7 .5h0m-.2 .2h0m-.5 .1h0m.9 .5h0m-.1 0h0m-.5 .1h0m-1.2 .2h0m.2 .2h0m.3 .9h0m-.7 .2h0m1.2 0h0m.6 .2h0" stroke="#53B400" stroke-width="1.2"/>
<path d="M269.9 385.1h0m2.5-1.4h0m-.9 .5h0m1.3 .3h0m-1.8 .4h0m-.9 .4h0m.4 .1h0m.3 .2h0m-.3 .2h0m0 .1h0m2.2 .1h0m-2.3 0h0m1.7 .7h0m-1.6 0h0m1.7 .4h0m0 .2h0m-.4 .1h0m-.7 .5h0m1.5 .3h0m.2 .5h0m-1.3 .1h0m-.1 .3h0m2.7-.2h0m-.6 0h0m1.1-.2h0m-.9-.2h0m1.2-.4h0m-1.9-.1h0m2.8-.1h0m-.6-.1h0m-.9-.1h0m.3 0h0m-1.3-.2h0m.1-.3h0m.4 0h0m1.1-.1h0m.9-.4h0m-.4 0h0m-.3-.8h0m-.9-.3h0m1.6-.5h0m-1.1-.1h0m-.2-.5h0m-1.3-.2h0m2.6-.1h0m-.1-.2h0m1.1-.5h0m-.1 .7h0m-.3 1h0m1.3 .4h0m-.7 .2h0m0 .3h0m-.9 .6h0m.7 .4h0m-.8 .6h0m1.3 .1h0m-.8 .6h0m0 .8h0" stroke="#C49A00" stroke-width="1.2"/>
<path d="M296.4 386.4h0m-.1 1.5h0m-1 .9h0m-.6 .3h0m2 .6h0m1-1.2h0m-.1-2.6h0" stroke="#00C094" stroke-width="1.2"/>
<path d="M296.5 384.5h0m-.1 2.9h0m.3 1.9h0m1.2 1.4h0m.1-.7h0m.2-.6h0m1 0h0m-1.3-.3h0m-.4-1.2h0m1.3-2.1h0m-1.1-1.6h0m5.1 .6h0m-1.1 .9h0m.2 1.1h0m0 .7h0m-1.8 2.7h0m1.4 .7h0m3.7-1h0m-1.2-4.2h0m-.3-1h0m3.4 1h0m.8 1.8h0m.4 .7h0m-.2 1.4h0m-1.3 .4h0m3.8-1.4h0m.2-1.9h0m1-.2h0m-1.3-.1h0m2.5 .2h0m-1 2.1h0m1.6 1h0m4 .9h0m-.9-1h0m-.5-1h0m-.3-.6h0m-.7-1.5h0m2.3-.1h0m-1.6-.8h0m3.4-.3h0m.4 .9h0m-.7 0h0m-.9 1.4h0m2.2 1.3h0m-.2 .7h0m-.9 .3h0m1 .2h0m-1.2 0h0m-.9 .2h0m2.4 .1h0m-2.1 .1h0m1.5 .3h0" stroke="#FB61D7" stroke-width="1.2"/>
<path d="M313.9 387.2h0m.7 .4h0m.1 .2h0m-.6 2.1h0m3.5-1.1h0m-.9-2.5h0m.5-.8h0m3-.3h0m-1.9 .9h0m.7 1.2h0m.3 0h0m1.6 1.5h0m-2.7 1.4h0m0 .5h0m3-.4h0m1.3 0h0m-1.2-.4h0m.7-.5h0m1-1.4h0m-1.4-1.6h0m1.3-.7h0m3.9-.3h0m-.8 1.1h0m-1.2 1h0m1.1 .1h0m.8 2.1h0" stroke="#00B6EB" stroke-width="1.2"/>
<path d="M326.8 388.2h0m2 2.7h0m-.2-.7h0m-.2-.1h0m0-.3h0m-1.4-.5h0m2-1.4h0m-1.2-.9h0m1.2-.6h0m0-.2h0m3-.2h0m.9 .5h0m-1.8 .4h0m.2 1.6h0m1.2 1.4h0m-1.9 .2h0m.9 .1h0m-.7 .1h0m-.2 .5h0m2.3 .2h0m-1.5 .1h0m2.8-.4h0m-.2-1h0m-.5-.3h0m2.4-1.2h0m-1.2-1.2h0m-1.2-.7h0m2.8-.7h0m.1 2.5h0m2.3 .6h0m-.6 .4h0m-1.9 .2h0m.1 .3h0m2.3 .4h0m-2 1h0m3 .1h0m2-1.3h0m-1-.4h0m.1-1h0m.3 0h0m.5-.1h0m-2.2-.8h0m1.8-1.1h0m-.1-1.4h0m.3-.3h0m-.3-.1h0m-.5-.6h0m4.3 .8h0m-1.1 0h0m-.7 .4h0m.9 .3h0m.5 .4h0m-2.1 0h0m1.1 0h0m-1 .1h0m-.4 0h0m.7 .8h0m.2 .1h0m.5 0h0m.6 .2h0m-1.2 .1h0m.3 0h0m-1 .8h0m.3 .1h0m.5 .3h0m.1 0h0m.1 .8h0m-.3 .3h0m1.5 .6h0m-1 .1h0m2 .1h0m-.2-1h0m.4-.6h0m0-.9h0m.6-.6h0m.9-.1h0m-.3 0h0m-.6-.4h0m-.9-1.1h0m1.4-.3h0m.2-1.3h0m2.2 .2h0m-.5 .4h0m1.1 .1h0m.3 .1h0m-1.5 .1h0m1.9 .1h0m.6 .1h0m-2.6 .7h0m2.5 .3h0m-2.1 0h0m1.3 .3h0m.2 0h0m-1.6 .1h0m.7 .9h0m-1.2 .2h0m.9 0h0m1.7 .8h0m-2.7 1.5h0m2.1 .5h0m-.2 .3h0m.2 .2h0m.1 .2h0m2-.1h0m1.5-1.7h0m.2-.6h0m-1.8-.9h0m-.1-1.1h0" stroke="#A58AFF" stroke-width="1.2"/>
<path d="M218.6 382.8C231.3 382.8 231.3 385 244.1 385C256.9 385 256.9 388.3 269.6 388.3C277.2 388.3 277.2 392.5 284.9 392.5C290 392.5 290 394.4 295.1 394.4C307.9 394.4 307.9 395.2 320.6 395.2C335.9 395.2 335.9 394.4 351.2 394.4" stroke="#111" stroke-width=".8" fill="none" opacity=".9"/>
<text x="285.8" y="402.7" font-size="3.2" text-anchor="middle" fill="#333">C1QB</text>
<line x1="212.2" y1="402.8" x2="212.2" y2="421.7" stroke="#333" stroke-width=".5"/>
<line x1="211" y1="404.8" x2="212.2" y2="404.8" stroke="#333" stroke-width=".4"/>
<text x="210.5" y="406" font-size="3.4" text-anchor="end">100</text>
<line x1="211" y1="412.8" x2="212.2" y2="412.8" stroke="#333" stroke-width=".4"/>
<text x="210.5" y="414" font-size="3.4" text-anchor="end">10</text>
<line x1="211" y1="420.7" x2="212.2" y2="420.7" stroke="#333" stroke-width=".4"/>
<text x="210.5" y="421.9" font-size="3.4" text-anchor="end">1</text>
<line x1="218.6" y1="417.1" x2="271.1" y2="417.1" stroke="#F8766D" stroke-width="1.25" stroke-dasharray=".9 .25"/>
<line x1="271.1" y1="417.1" x2="296.1" y2="417.1" stroke="#53B400" stroke-width="1.25" stroke-dasharray=".9 .25"/>
<line x1="269.6" y1="417.1" x2="277.8" y2="417.1" stroke="#C49A00" stroke-width="1.25" stroke-dasharray=".9 .25"/>
<line x1="294.6" y1="417.1" x2="298.2" y2="417.1" stroke="#00C094" stroke-width="1.25" stroke-dasharray=".9 .25"/>
<line x1="296.1" y1="417.1" x2="320.6" y2="417.1" stroke="#FB61D7" stroke-width="1.25" stroke-dasharray=".9 .25"/>
<line x1="312.9" y1="417.1" x2="327.2" y2="417.1" stroke="#00B6EB" stroke-width="1.25" stroke-dasharray=".9 .25"/>
<line x1="326.7" y1="417.1" x2="354.3" y2="417.1" stroke="#A58AFF" stroke-width="1.25" stroke-dasharray=".9 .25"/>
<line x1="218.6" y1="419.1" x2="271.1" y2="419.1" stroke="#F8766D" stroke-width="1.25" stroke-dasharray=".9 .25"/>
<line x1="271.1" y1="419.1" x2="296.1" y2="419.1" stroke="#53B400" stroke-width="1.25" stroke-dasharray=".9 .25"/>
<line x1="269.6" y1="419.1" x2="277.8" y2="419.1" stroke="#C49A00" stroke-width="1.25" stroke-dasharray=".9 .25"/>
<line x1="294.6" y1="419.1" x2="298.2" y2="419.1" stroke="#00C094" stroke-width="1.25" stroke-dasharray=".9 .25"/>
<line x1="296.1" y1="419.1" x2="320.6" y2="419.1" stroke="#FB61D7" stroke-width="1.25" stroke-dasharray=".9 .25"/>
<line x1="312.9" y1="419.1" x2="327.2" y2="419.1" stroke="#00B6EB" stroke-width="1.25" stroke-dasharray=".9 .25"/>
<line x1="326.7" y1="419.1" x2="354.3" y2="419.1" stroke="#A58AFF" stroke-width="1.25" stroke-dasharray=".9 .25"/>
<line x1="218.6" y1="421.1" x2="271.1" y2="421.1" stroke="#F8766D" stroke-width="1.25" stroke-dasharray=".9 .25"/>
<line x1="271.1" y1="421.1" x2="296.1" y2="421.1" stroke="#53B400" stroke-width="1.25" stroke-dasharray=".9 .25"/>
<line x1="269.6" y1="421.1" x2="277.8" y2="421.1" stroke="#C49A00" stroke-width="1.25" stroke-dasharray=".9 .25"/>
<line x1="294.6" y1="421.1" x2="298.2" y2="421.1" stroke="#00C094" stroke-width="1.25" stroke-dasharray=".9 .25"/>
<line x1="296.1" y1="421.1" x2="320.6" y2="421.1" stroke="#FB61D7" stroke-width="1.25" stroke-dasharray=".9 .25"/>
<line x1="312.9" y1="421.1" x2="327.2" y2="421.1" stroke="#00B6EB" stroke-width="1.25" stroke-dasharray=".9 .25"/>
<line x1="326.7" y1="421.1" x2="354.3" y2="421.1" stroke="#A58AFF" stroke-width="1.25" stroke-dasharray=".9 .25"/>
<polygon points="218.6,406.3 244.9,409.1 271.1,411.8 271.1,415.2 218.6,415.2" fill="#F8766D" fill-opacity="0.85"/>
<path d="M221.2 416.2h0m-.4-.7h0m1.1-.1h0m-2.9 0h0m2.1-.1h0m-1.6-.4h0m-.3-.5h0m1.5-.6h0m-.7-.2h0m-.5-.1h0m2.4-.3h0m-2.6-.2h0m1.9-.3h0m.2-.8h0m-.5-.2h0m-.1-.8h0m-.9-.1h0m1-1.1h0m1-.4h0m-.9-.7h0m-.1 0h0m-.2-1.4h0m-.5-.1h0m-1.2-.3h0m.7-.3h0m1.6-.4h0m-1.2 0h0m4.7 .8h0m-2 .4h0m-.8 .4h0m.8 .4h0m1 .7h0m.7 1.4h0m-.1 .5h0m-.2 0h0m-1.8 0h0m2.4 .9h0m-1.9 .1h0m1.6 0h0m-2.4 .1h0m-.1 .2h0m.9 .7h0m1.5 .1h0m.1 .1h0m-1.5 .1h0m.9 .4h0m-1.3 .1h0m2.3 0h0m-2 .2h0m1.6 0h0m-.3 .7h0m-.8 0h0m.7 .9h0m3.6 1h0m-.1-.2h0m-1.2-.3h0m1.5 0h0m-2.2 0h0m.9-.1h0m1-.5h0m-.3-.7h0m-.9-.3h0m.9-.5h0m-2.2-.7h0m1.6-.1h0m-1.7-.1h0m2.9-.1h0m0-.1h0m-.7-.4h0m-2.2-.7h0m1.7 0h0m.1-.2h0m1.1-.6h0m-2.4-.7h0m2.2-.3h0m.2-1.6h0m-.9-.4h0m.4-.2h0m.7 .3h0m2.8 1.1h0m-2.4 .7h0m1.8 .2h0m-.1 .5h0m-2.2 .6h0m1.3 0h0m.1 .7h0m-1 .3h0m2.4 .1h0m-2.1 1.3h0m2.1 .2h0m-2.5 .4h0m.5 .3h0m.7 .3h0m-1.5 .4h0m2.1 .2h0m-1.3 .5h0m-.6 .4h0m.6 0h0m2.3 .5h0m1.3-.3h0m-.5-.4h0m.2-.1h0m1.4-.9h0m-1.3-.4h0m-1.1-.1h0m1-.4h0m1.8-.1h0m-2.1-.2h0m.6-.7h0m.8-.1h0m.1-1.5h0m-.8-.2h0m.7-.7h0m-1-.2h0m-.4-.2h0m-.2 0h0m-.1-.3h0m-.2-.5h0m2.3-.2h0m-.5-.7h0m1.3 .8h0m.7 .1h0m.6 .1h0m-.8 .8h0m-.3 .5h0m.5 .4h0m-1.1 .4h0m1.7 .6h0m.2 .7h0m-.9 .3h0m-.4 .6h0m-.4 0h0m.2 .4h0m1.1 .4h0m-1.4 .2h0m1.1 .1h0m-1.1 1.2h0m.6 .6h0m0 .2h0m4.9-.1h0m-1.4-.6h0m1.6-1h0m-1.7-.1h0m-.4-.3h0m1.4-.4h0m.6-.1h0m-.8 0h0m-.4-.4h0m-1.3-.3h0m.1-.8h0m.4-.4h0m-.5-.5h0m.1-.8h0m2.1-.1h0m-1.2-.6h0m-.4-.3h0m-.1-.5h0m1.7-.3h0m-.7-.1h0m0-.2h0m-.9-.1h0m1.8-.3h0m-.6-.2h0m.4-.2h0m1.4 1.1h0m.7 .6h0m.7 .1h0m-1.9 0h0m1.7 .1h0m-.5 .2h0m-.6 .2h0m.9 .1h0m-.2 2h0m.4 1.1h0m.4 .2h0m-.8 .2h0m0 .1h0m-.2 .1h0m-1.4 1h0m.6 .4h0m1.3 .3h0m-1.6 .1h0m3.5 .5h0m-.5-.6h0m2.4-.4h0m-2.2-.4h0m-.4-.1h0m0-.2h0m2.3 0h0m-.6-1.3h0m-1.1 0h0m-.3-1h0m.9-.2h0m.2-1.1h0m1.2-.9h0m.2-.7h0m-2.7 0h0m2.3 0h0m-1.5-.7h0m2.1 .2h0m.1 .2h0m.8 .1h0m.2 1.4h0m-.1 .3h0m-.6 .8h0m.3 .1h0m1.4 .1h0m.1 .3h0m-1.7 .9h0m-.4 0h0m2.6 .1h0m-1.1 .5h0m.6 .4h0m-2 .1h0m-.3 .1h0m2.2 .1h0m-.7 0h0m1 .1h0m-.7 0h0m.6 .4h0m-.4 .2h0m.8 .3h0m-1.4 .1h0m.6 0h0m-1.6 .2h0m2 .1h0m-1.3 0h0m2.2 0h0m.1-.2h0m2.2-.3h0m-2.2 0h0m-.3-1h0m2.8-.1h0m-.4-.3h0m-.3-.2h0m-.4-.2h0m-1.8 0h0m0-.1h0m1.7-.3h0m.1 0h0m-.1-.1h0m-.1-.3h0m.2-.2h0m-.4-.2h0m.8-.1h0m.2-.1h0m-2.2-.4h0m2.3-.1h0m-1.6-.1h0m-.4-.1h0m.3-1.3h0m1.6-.4h0m1.2-.4h0m1.6 .4h0m-1.7 .1h0m.5 1.3h0m1.6 .2h0m-.4 .7h0m-2 .1h0m2.3 1.5h0m-.1 .1h0m-.3 .2h0m-1.8 .1h0m0 .1h0m1.9 0h0m-2 0h0m1.5 0h0m.2 .1h0m-.3 .4h0m.6 .4h0m-2 .3h0m2.2 .1h0m-1.2 .5h0m-.1 .2h0m1.6 .1h0m2.2 0h0m.5 0h0m0-.1h0m-.5-.3h0m-.7-.3h0m-.8-.2h0m.5-.2h0m1.2 0h0m-1.5-.4h0m-.2-.1h0m.2-.3h0m.1-.6h0m2.2-.2h0m-.9-.1h0m.8-.7h0m-.2 0h0m-2.2-.4h0m.8-.2h0m-.9-.1h0m1.2-.1h0m-.9-.1h0m2-.5h0m-2.1-.2h0m0-.2h0m.7-.1h0m.9-.2h0m-.7-.2h0m-.1-.1h0m-.3-.4h0m-.1-.2h0m-.6-.3h0m4.2 .7h0m-1.3 .5h0m1 0h0m1.7 .1h0m-.4 0h0m-2 .1h0m-.1 1.1h0m1.7 .5h0m-.6 0h0m.3 .2h0m-.3 .1h0m1 .1h0m-.8 .4h0m1.2 .3h0m-1 .2h0m-1.4 .4h0m1.9 .6h0m-1.8 .1h0m1.2 .1h0m-.5 .5h0m-.1 .3h0m1.5 .3h0m-1.5 .2h0m.5 0h0m.6 .1h0m1.4-.1h0m1.4-.1h0m-1.9-.1h0m.9-.2h0m-.2 0h0m1-.2h0m-1.5-.2h0m.7-.1h0m.6-.2h0m-.1-.4h0m1-.5h0m-.7-.4h0m.9-.2h0m-2.6-.2h0m2.1-.1h0m-2.1-.1h0m.7-.1h0m1.5-.2h0m.5-.3h0m-1-.4h0m.2 0h0m-2-.1h0m1.6-1.3h0m-1.2-.1h0m1.8-.2h0m-1.3-.1h0m1.9-.5h0m1.6 .4h0m-.9 .6h0m.8 .1h0m.8 .2h0m-.2 0h0m-1.4 .9h0m-.2 .4h0m2.5 .1h0m-.3 .4h0m-1 .1h0m1.2 0h0m-2.7 .4h0m.5 .1h0m-.2 .4h0m2.1 0h0m.3 .1h0m-.7 .2h0m.6 .1h0m-.6 0h0m-.4 .2h0m.6 0h0m-1.1 .2h0m-.8 .2h0m.1 0h0m-.5 0h0m.9 .1h0m-.4 0h0m1.9 0h0m-1.7 .1h0m.1 .4h0m-.1 .7h0m3.3-.1h0m1.1-.3h0m-.8-.1h0m-.2-.1h0m1.3-.4h0m-1.9-.7h0m1.3-.1h0m-1.4-.2h0m2-.1h0m.2 0h0m-1.4-.3h0m1.7 0h0m-1.4-.2h0m-.6-.3h0m.7-.4h0m-1.5-.1h0m-.1-.1h0m2.4-.1h0m-1.7-.2h0m.8-.5h0m-.1-.7h0m-.6 0h0m1.7-.2h0m-.9-.3h0m-1.5-.1h0m.9-.2h0m2 1h0m.2 .4h0m.8 .3h0m-.5 1h0m-.4 .9h0m.6 .1h0m.1 0h0m-.8 1.4h0m.2 0h0m.5 .5h0m-.7 0h0" stroke="#F8766D" stroke-width="1.2"/>
<polygon points="271.1,409.8 283.6,410.8 296.1,411.8 296.1,417.4 271.1,417.4" fill="#53B400" fill-opacity="0.2"/>
<path d="M272 409.3h0m.2 .3h0m.6 .3h0m-1.7 .2h0m.3 0h0m1.4 .7h0m-1.5 .7h0m.2 3.7h0m-.3 1.6h0m3.3 1.8h0m-1.2-.2h0m.6-.2h0m1.6-.7h0m-2.2-.5h0m.7-1.2h0m.3-.1h0m-.4-.6h0m2-.3h0m-1.3-.6h0m-1.5 0h0m.2-.5h0m1.6-2.1h0m-.4-.1h0m.3-.7h0m-.5-.5h0m.9-.6h0m-1.3-.1h0m2.2 .3h0m2.6 .4h0m-1.5 .2h0m-1.2 .4h0m2.5 .2h0m-.3 1h0m.6 .8h0m-1.9 0h0m.5 .2h0m1.5 .1h0m-2.7 .9h0m.6 .2h0m1.4 .3h0m-2.2 .4h0m0 .2h0m1.8 1.9h0m.4 .5h0m-1.7 .3h0m.1 .1h0m5.1-.1h0m-.9-.7h0m.4-.2h0m-.8-.4h0m-.9-2h0m.8-.3h0m.8-.9h0m-2.1-1.1h0m1.7-.1h0m-1.4-.1h0m.6-.9h0m1.9-.1h0m.1-.7h0m-.6 0h0m2.9-.1h0m.4 1.1h0m-.8 .1h0m.9 2.1h0m-.6 .2h0m-1.4 .4h0m.7 .5h0m.6 .1h0m.2 .4h0m.7 0h0m-.3 .2h0m-.1 .1h0m-1.8 .8h0m-.2 0h0m2.2 .2h0m-1.7 0h0m-.7 1h0m2.4 .1h0m.1 .4h0m.8-.4h0m1.7-1h0m-2-.6h0m-.3-.8h0m1.1-.2h0m1.3-.2h0m.2-.2h0m-1.5-.3h0m.1-.1h0m-.2-.1h0m1-1h0m.3-.8h0m-.9-.5h0m2.4-.3h0m2 .1h0m-1.1 .7h0m.7 .4h0m-1.9 .1h0m.1 .6h0m1.8 .3h0m-1.6 0h0m1.6 .3h0m-1.4 .2h0m-.5 .1h0m1 .5h0m.2 .4h0m-.4 .2h0m-.5 .1h0m1 .1h0m.2 .7h0m-1.2 1.6h0m2.6 .4h0m1.3 0h0m0-.1h0m.7-.5h0m.4-.1h0m-2.5-.3h0m2-.1h0m.2-.2h0m-.1 0h0m-1.3-.1h0m1.5-.6h0m-.9-.1h0m-1.5-.2h0m2.4-.1h0m-.9-.9h0m-1.3-.1h0m2.3-1h0m-2.5-.1h0m2.6-.2h0m-2.7-.9h0m0-.2h0m1.3 0h0m-.4-.3h0m-.1-.8h0m2.9 2.3h0m.4 .2h0m.5 0h0m.4 .9h0m-1.8 .5h0m.2 1.8h0m-.3 1h0" stroke="#53B400" stroke-width="1.2"/>
<path d="M269.8 415.5h0m-.1-.9h0m0-.5h0m.2-.6h0m.7-2.7h0m1.9 .3h0m-1.9 .4h0m-.5 .2h0m.6 .2h0m.3 .3h0m0 .1h0m-.9 .1h0m2 .1h0m.6 .5h0m-.7 .3h0m-1.4 .4h0m2.2 .3h0m-.6 0h0m-.2 0h0m-.8 .7h0m-.4 0h0m-.6 .7h0m-.1 .4h0m2.1 .4h0m2.1-.5h0m-.7-.1h0m1.5 0h0m.8-.4h0m-1.9-.2h0m-.7-.2h0m1.6-.2h0m.9-.3h0m-2-.1h0m.2-.2h0m-.9-.2h0m.8-.1h0m-.7-.1h0m.1-.1h0m1.9-.3h0m-1.2-.3h0m.7-.8h0m-.7-.1h0m1.3 0h0m-.2-.7h0m.8-.2h0m-2.1-.3h0m2-.1h0m-2.4-.5h0m4.1 .5h0m-.3 .8h0m-.9 .2h0m.8 .9h0m-.7 .3h0m.7 .9h0m-.7 0h0m-.3 1.2h0m1 .3h0m0 .4h0" stroke="#C49A00" stroke-width="1.2"/>
<path d="M295.9 415.3h0m.9 0h0m-.3 .8h0m-1 .5h0m2.6 .5h0m-.7-.2h0m-.4-1.8h0" stroke="#00C094" stroke-width="1.2"/>
<path d="M299.4 417.1h0m-1-1.1h0m0-2h0m-1.2-.5h0m1.4-.4h0m1.1-.6h0m-2.4-1h0m4.7 1.8h0m-1.1 .9h0m.9 0h0m-.5 .4h0m.3 .3h0m-1.5 1.9h0m.4 .9h0m4.4-2.5h0m0-.8h0m2.5-1.9h0m-.8 1.8h0m1.9 .1h0m-2.2 .9h0m2 .2h0m-1.7 1.7h0m1.7 0h0m-2 .4h0m1 .1h0m.7 .4h0m3.8-2h0m-.7-.2h0m.1-1.1h0m-1.2-.5h0m1.6-.3h0m-1.4-2h0m2.8-.1h0m-.4 .3h0m.9 1.5h0m-.2 0h0m1.6 2.7h0m-1.6 .8h0m.9 .1h0m-.9 .1h0m2.8-.1h0m1-.1h0m-.3-.1h0m-.4-1.3h0m1.5-.1h0m2.1-.2h0m-.1 .8h0m-1.5 .2h0m-.1 .4h0m.1 .5h0m1.4 .2h0m-1.3 .4h0" stroke="#FB61D7" stroke-width="1.2"/>
<path d="M314.8 414.2h0m.1 1.4h0m-1.5 1.5h0m.1 .9h0m3.4-.1h0m-1.8-3.2h0m.3-.7h0m.5-.4h0m.5-.9h0m3.4-.8h0m.9 1.3h0m-1.5 .3h0m.4 .3h0m1 .3h0m-.4 .1h0m-1.3 1.8h0m1.7 .4h0m2.6-1.1h0m-1.1-.6h0m3.5-2.5h0m-1.4 2.5h0m-.2 1.2h0m2.7 .8h0m-1.1 .1h0m1.4-.8h0m.1-2.3h0" stroke="#00B6EB" stroke-width="1.2"/>
<path d="M327 417.9h0m1.2-.2h0m1.5-.1h0m-2.3-.2h0m.7-.1h0m1.6-.2h0m-1.5-.5h0m-.2-1.5h0m.7-1.7h0m1.7-.1h0m1.9 .1h0m.4 0h0m-.9 1.1h0m-1.5 .4h0m.9 .3h0m1.2 .4h0m-1.5 0h0m.2 0h0m-.7 .2h0m-.3 .1h0m2.4 .3h0m-.7 .1h0m.6 0h0m-1.8 .8h0m4.2 .6h0m1-.1h0m-2.7-1.2h0m1.5-.3h0m-1.5-.2h0m2-.8h0m.8-.3h0m-2.7-.8h0m2.2-.4h0m2.5-.8h0m-.2 .3h0m.1 1.8h0m-.8 1.6h0m-.6 .3h0m1.8 .1h0m-1.2 0h0m1.5 .3h0m-1.3 .2h0m-.5 .1h0m4.5 .2h0m-1.8-.2h0m2.1-2.5h0m.4-.1h0m-1.6-.4h0m.1-.3h0m1.3-.3h0m.1 0h0m-1.7-.1h0m1.3-.4h0m-1.2-1h0m2.1-.8h0m2.2 .4h0m-.4 .1h0m-1.8 .1h0m.1 .6h0m1.9 .4h0m-1.9 .5h0m.1 .6h0m1.7 .3h0m.4 0h0m0 .5h0m-2.5 1.2h0m5.4 1.5h0m.3-1h0m-1.2-.1h0m-.9-1.6h0m1.6-.2h0m-1.5-.1h0m1.2-.4h0m-1.8-.3h0m2.3-.4h0m-.7-.2h0m-.1-.2h0m.1-1.1h0m2.3-.7h0m.9 .5h0m-1.4 .3h0m1.5 .5h0m.2 .1h0m-.8 0h0m.2 .1h0m-.3 .3h0m-.8 .1h0m2.2 .1h0m-2.6 0h0m2 .4h0m.1 0h0m-2.3 0h0m2.7 .3h0m-.9 .1h0m-.2 .1h0m-1.4 0h0m2 .5h0m-.3 .6h0m.5 1.2h0m3 .1h0m0-.3h0m-.5-.2h0m-1.4-.1h0m.7-1.3h0m0-.8h0m1.2-.4h0m-.6-1.1h0" stroke="#A58AFF" stroke-width="1.2"/>
<path d="M218.6 410.5C231.3 410.5 231.3 412.5 244.1 412.5C256.9 412.5 256.9 415.5 269.6 415.5C277.2 415.5 277.2 419.5 284.9 419.5C290 419.5 290 421.3 295.1 421.3C307.9 421.3 307.9 422 320.6 422C335.9 422 335.9 421 351.2 421" stroke="#111" stroke-width=".8" fill="none" opacity=".9"/>
<text x="285.8" y="431.8" font-size="3.2" text-anchor="middle" fill="#333">C1QC</text>
<line x1="212.2" y1="431.8" x2="212.2" y2="450.7" stroke="#333" stroke-width=".5"/>
<line x1="211" y1="435.9" x2="212.2" y2="435.9" stroke="#333" stroke-width=".4"/>
<text x="210.5" y="437.1" font-size="3.4" text-anchor="end">30</text>
<line x1="211" y1="439.7" x2="212.2" y2="439.7" stroke="#333" stroke-width=".4"/>
<text x="210.5" y="440.9" font-size="3.4" text-anchor="end">10</text>
<line x1="211" y1="443.9" x2="212.2" y2="443.9" stroke="#333" stroke-width=".4"/>
<text x="210.5" y="445.1" font-size="3.4" text-anchor="end">3</text>
<line x1="211" y1="447.8" x2="212.2" y2="447.8" stroke="#333" stroke-width=".4"/>
<text x="210.5" y="449" font-size="3.4" text-anchor="end">1</text>
<line x1="218.6" y1="446.3" x2="271.1" y2="446.3" stroke="#F8766D" stroke-width="1.25" stroke-dasharray=".9 .25"/>
<line x1="271.1" y1="446.3" x2="296.1" y2="446.3" stroke="#53B400" stroke-width="1.25" stroke-dasharray=".9 .25"/>
<line x1="269.6" y1="446.3" x2="277.8" y2="446.3" stroke="#C49A00" stroke-width="1.25" stroke-dasharray=".9 .25"/>
<line x1="294.6" y1="446.3" x2="298.2" y2="446.3" stroke="#00C094" stroke-width="1.25" stroke-dasharray=".9 .25"/>
<line x1="296.1" y1="446.3" x2="320.6" y2="446.3" stroke="#FB61D7" stroke-width="1.25" stroke-dasharray=".9 .25"/>
<line x1="312.9" y1="446.3" x2="327.2" y2="446.3" stroke="#00B6EB" stroke-width="1.25" stroke-dasharray=".9 .25"/>
<line x1="326.7" y1="446.3" x2="354.3" y2="446.3" stroke="#A58AFF" stroke-width="1.25" stroke-dasharray=".9 .25"/>
<line x1="218.6" y1="448.3" x2="271.1" y2="448.3" stroke="#F8766D" stroke-width="1.25" stroke-dasharray=".9 .25"/>
<line x1="271.1" y1="448.3" x2="296.1" y2="448.3" stroke="#53B400" stroke-width="1.25" stroke-dasharray=".9 .25"/>
<line x1="269.6" y1="448.3" x2="277.8" y2="448.3" stroke="#C49A00" stroke-width="1.25" stroke-dasharray=".9 .25"/>
<line x1="294.6" y1="448.3" x2="298.2" y2="448.3" stroke="#00C094" stroke-width="1.25" stroke-dasharray=".9 .25"/>
<line x1="296.1" y1="448.3" x2="320.6" y2="448.3" stroke="#FB61D7" stroke-width="1.25" stroke-dasharray=".9 .25"/>
<line x1="312.9" y1="448.3" x2="327.2" y2="448.3" stroke="#00B6EB" stroke-width="1.25" stroke-dasharray=".9 .25"/>
<line x1="326.7" y1="448.3" x2="354.3" y2="448.3" stroke="#A58AFF" stroke-width="1.25" stroke-dasharray=".9 .25"/>
<line x1="218.6" y1="450.3" x2="271.1" y2="450.3" stroke="#F8766D" stroke-width="1.25" stroke-dasharray=".9 .25"/>
<line x1="271.1" y1="450.3" x2="296.1" y2="450.3" stroke="#53B400" stroke-width="1.25" stroke-dasharray=".9 .25"/>
<line x1="269.6" y1="450.3" x2="277.8" y2="450.3" stroke="#C49A00" stroke-width="1.25" stroke-dasharray=".9 .25"/>
<line x1="294.6" y1="450.3" x2="298.2" y2="450.3" stroke="#00C094" stroke-width="1.25" stroke-dasharray=".9 .25"/>
<line x1="296.1" y1="450.3" x2="320.6" y2="450.3" stroke="#FB61D7" stroke-width="1.25" stroke-dasharray=".9 .25"/>
<line x1="312.9" y1="450.3" x2="327.2" y2="450.3" stroke="#00B6EB" stroke-width="1.25" stroke-dasharray=".9 .25"/>
<line x1="326.7" y1="450.3" x2="354.3" y2="450.3" stroke="#A58AFF" stroke-width="1.25" stroke-dasharray=".9 .25"/>
<polygon points="218.6,435.3 244.9,438.1 271.1,440.8 271.1,444.2 218.6,444.2" fill="#F8766D" fill-opacity="0.85"/>
<path d="M218.6 437.8h0m.1 1h0m.2 3h0m0 2h0m-.3 .3h0m2.2 1h0m-.2-.6h0m1.2 0h0m-.5-.4h0m-1.8-.1h0m2-.1h0m-2.5 0h0m.5-.6h0m2.1-.9h0m-2.2-.5h0m.6 0h0m.3-.1h0m-1.1-.8h0m1-.4h0m-.9-.1h0m2.1 0h0m-1.1-.8h0m1.2 0h0m-.6-.4h0m-.7-1h0m1.4-1.1h0m-2.6-.9h0m.7-.7h0m4.6 .4h0m.4 .1h0m-2.5 .4h0m1.4 .4h0m1.1 2h0m-.4 .4h0m-1.8 .8h0m1.6 1.3h0m-1.2 0h0m.4 .2h0m-1.1 .7h0m2.5 .7h0m-2.6 .2h0m2.7 .1h0m-2.8 .9h0m1 .9h0m4-.1h0m-.6 0h0m.1-.4h0m.9-.2h0m-.1-.6h0m-.3-.1h0m-1.3-.8h0m-.2 0h0m2.2-.6h0m-.3-.3h0m-.3-1h0m-1.8 0h0m1.6-.1h0m.8-.8h0m-1.3-.3h0m-1.1-.8h0m1.3-.4h0m.7-.1h0m-2.1 0h0m-.1-1.1h0m3-.1h0m.4 .3h0m0 .5h0m.6 .8h0m-1 .5h0m1.6 .1h0m.4 .2h0m-1.3 .4h0m-.6 .4h0m.4 .7h0m1.3 .7h0m-1 .2h0m.3 0h0m.2 .2h0m-.9 0h0m.4 .7h0m1.8 .2h0m-.5 .1h0m.6 0h0m-.4 .1h0m-.9 .5h0m-.5 .2h0m.6 .1h0m-.3 .7h0m.1 0h0m.1 .3h0m-.4 .2h0m3.8-.8h0m-1 0h0m1.1-.3h0m-.2-.3h0m1-.8h0m-.2-.6h0m-2.1 0h0m2.4-.8h0m-2.2-.7h0m2.1-.1h0m-.5-.5h0m-.4-.2h0m-.4 0h0m1.4-1.3h0m-1.3-.7h0m-.6-.3h0m-1 0h0m1.2-.8h0m-.6-.7h0m1.6-.4h0m1.8 .6h0m.9 .7h0m-1.6 .4h0m2.2 .4h0m-1 .7h0m-1.4 .5h0m1.5 .1h0m-.1 .3h0m-.8 .2h0m.5 0h0m-.3 .3h0m.6 .4h0m-.7 1.3h0m.2 .2h0m.2 .1h0m-1 .2h0m.6 .1h0m1.1 .1h0m-1.1 .5h0m-.2 .2h0m-.2 .2h0m2.5 .1h0m-1.6 .7h0m1.6 .2h0m-2.2 0h0m-.1 .4h0m-.3 0h0m4.3 .2h0m0-.1h0m.8-.5h0m-1.8-.1h0m1.7-.1h0m-.8 0h0m1.3-.3h0m-1.5 0h0m1.5 0h0m-1.7-.4h0m0-1.1h0m-.4-.6h0m.5-.2h0m-.4-1.2h0m-.4-.4h0m.6 0h0m.5-.1h0m-.7-.9h0m2 0h0m-1.4-.2h0m.9-1.1h0m-.5-.3h0m1.6-.6h0m.2 1.2h0m2.1 .6h0m-2.5 .2h0m.5 .4h0m1.9 0h0m-.4 0h0m-1.6 .3h0m1.9 1.4h0m-.9 0h0m.7 .1h0m-.8 .1h0m-1.1 .3h0m-.4 .2h0m.2 .4h0m1.2 .3h0m1.2 .1h0m-.9 .4h0m-1.1 .1h0m-.2 .1h0m-.1 .6h0m.1 .3h0m2.3 .6h0m-.5 0h0m-1.8 .1h0m1.2 .4h0m-.4 .1h0m3.2 .4h0m.3-.4h0m.6-.1h0m-1.6-.7h0m1.7-.2h0m-1.8-.4h0m1.8 0h0m-2.4-.2h0m.7 0h0m1.7-.3h0m-1.9-1.5h0m-.4-.1h0m1.9-.2h0m.4-.2h0m0-.3h0m.5-.8h0m-2.8-.1h0m1-.1h0m1.3-.6h0m.1-.5h0m-2.2-.1h0m2.5-.5h0m-2.3-1h0m3.6 1.3h0m1.5 .1h0m-.1 .1h0m-1.4 0h0m-.5 .6h0m.9 .2h0m-1.3 .3h0m-.1 .3h0m.8 .2h0m1.2 .2h0m-1.8 0h0m-.2 .3h0m.8 .4h0m1.5 .8h0m.5 0h0m-1.3 .4h0m-1.6 .1h0m2.2 .6h0m-1.4 0h0m.1 0h0m.5 .1h0m1.3 0h0m.1 0h0m-1.4 .2h0m.9 0h0m-1.1 .1h0m.7 .2h0m-.1 .6h0m-1.3 .4h0m.4 .6h0m1.2 .2h0m1-1h0m.1-.1h0m2-2.4h0m.3-.2h0m-1.6-.2h0m-.4-.6h0m2.3-.3h0m-.2-.7h0m-.6-.1h0m-.7-.3h0m-1.3 0h0m1.4-.1h0m4.5-.9h0m-2.8 .5h0m.9 .1h0m1.8 .4h0m-.9 .3h0m-1 .4h0m.5 .3h0m-.7 .1h0m1.1 .1h0m.4 0h0m-1.9 0h0m0 .1h0m.4 .6h0m-.1 0h0m.5 .3h0m1.6 .3h0m-2.3 .4h0m.2 .2h0m.7 .1h0m.7 .5h0m.7 0h0m-1.6 .2h0m.6 .2h0m-.3 .3h0m-.9 .2h0m1.9 0h0m.3 .3h0m-1.7 .2h0m3.9-.1h0m-.8 0h0m1.5-.3h0m-1-.1h0m-1.2-.1h0m2 0h0m-1.6-.3h0m-.8 0h0m2.6-.2h0m-1.7-.5h0m1.7-.1h0m-1.4-.1h0m.6 0h0m-.2-.1h0m0-.3h0m-1.3-.6h0m.4-.6h0m-.7-.2h0m2.1 0h0m.5-.2h0m-.5-.9h0m-1-.4h0m1.6-.4h0m.2 0h0m-.7-.2h0m.1-.2h0m-1.9 0h0m5.4 .4h0m-1.9 .4h0m1.2 .1h0m-.3 1h0m-1.1 .6h0m-.1 .2h0m.6 0h0m1.7 .3h0m-.6 .7h0m-.4 .3h0m0 .2h0m-1.2 .3h0m-.1 .3h0m.4 .9h0m1.3 .4h0m2.3 .3h0m-.7 0h0m.2-.2h0m.9 0h0m-1.9-.5h0m2.4-.2h0m-.3-.2h0m-.2-.3h0m.8 0h0m-1-.6h0m.4-.1h0m.7-.1h0m-2.8-.6h0m.3-.4h0m-.1-.1h0m2.4-.4h0m-2.4-.3h0m0-.2h0m1.8-.3h0m-.7-.2h0m1.4-.8h0m-2-.2h0m1.9-.3h0m1 .5h0m1.3 0h0m-1.7 .9h0m.8 0h0m.8 .1h0m.1 .3h0m-.3 .1h0m-1.7 .7h0m2.7 .1h0m-1.2 .1h0m-.6 0h0m-.6 .2h0m.5 .1h0m-.1 .6h0m-.4 .5h0m1.3 .7h0m.6 .7h0m-.2 .1h0m-.5 .3h0m.5 0h0m.6 .2h0m3.3-.6h0m-2.4-.2h0m.2-.6h0m-.5-.3h0m0-.4h0m2.3-.5h0m-1.2-.1h0m-1.2-.2h0m2.1 0h0m-.5-.2h0m-.8-.4h0m.4-.1h0m.8-.5h0m-2.1-.3h0m2-.3h0m.2-.2h0m-1.4-.2h0m-.2-.1h0m1.1-.4h0m2.3 2.2h0m-.4 .7h0m-.3 .3h0m.1 .8h0" stroke="#F8766D" stroke-width="1.2"/>
<polygon points="271.1,438.8 283.6,439.8 296.1,440.8 296.1,445.9 271.1,445.9" fill="#53B400" fill-opacity="0.2"/>
<path d="M272.2 440.9h0m.6 2.3h0m-.6 2h0m-.9 .1h0m.9 .2h0m2.7 .8h0m.3-.2h0m-.3 0h0m.9 0h0m-1.1-1h0m.8-.9h0m0-.2h0m-2.2-1.2h0m0-.7h0m1.9-.8h0m-.5-.9h0m1-.2h0m-.5-1.1h0m-2.1-.2h0m1.8 0h0m-.8-.1h0m4.6 .3h0m-2.7 .3h0m.3 1.7h0m2.4 .1h0m-.2 0h0m-1.2 .5h0m-.3 .7h0m.3 .7h0m-1.2 .1h0m2.4 .2h0m-2.1 1.1h0m2.4 .6h0m-1.4 .1h0m1.3 .3h0m-2.2 .2h0m.2 .3h0m.9 .1h0m.3 .4h0m1.8 .2h0m1-.5h0m.7-.4h0m-1.3-.4h0m-.9 0h0m.8-.1h0m.1-.2h0m1.7-.4h0m-1.7-.3h0m-.2 0h0m1.9-2.3h0m-1 0h0m-.9-.2h0m1.8-.6h0m0-2.1h0m2.1-.4h0m-1 .4h0m1.8 .3h0m-1 .7h0m0 1.4h0m-.4 .5h0m1.3 1.5h0m-.5 0h0m.8 .6h0m-.2 .3h0m-1.4 .3h0m0 .3h0m1.3 1h0m.3 .2h0m-2.8 0h0m2.5 .4h0m2.4-.5h0m.1 0h0m-1.7-.3h0m.1-.3h0m1.1-.7h0m-1.2-.9h0m1-.3h0m1.5-2.4h0m-.5-.2h0m.6-.8h0m-1.7-.7h0m2 .8h0m.3 .8h0m1.3 .7h0m-1.3 .4h0m-.3 1.6h0m.3 .1h0m2.4 .1h0m-2.1 .4h0m1.6 .1h0m-.4 0h0m-.7 0h0m1.6 .2h0m-1.6 .1h0m-.1 .3h0m.3 .3h0m.5 .1h0m-1 0h0m.7 1h0m1.6 .1h0m1.2-.4h0m-.5-.6h0m.7 0h0m-1.1-.1h0m.1-2.8h0m-.7-.4h0m.4-.8h0m-.4-.9h0m2.7-.3h0m.8-.3h0m0 1.5h0m.4 1.4h0m.1 .1h0m-.5 .2h0m1.3 .2h0m-1.3 .1h0m.2 .3h0m1.4 .1h0m-1 0h0m-.4 .2h0m.1 .2h0m.8 0h0m-1.3 .8h0m.1 .2h0m1.6 .2h0m-.4 .5h0m.4 .1h0m-1.4 .3h0m.6 0h0m-.6 .3h0" stroke="#53B400" stroke-width="1.2"/>
<path d="M269.9 443.9h0m-.1-.1h0m.1-3.3h0m2.8-.5h0m0 .2h0m-2.5 .5h0m-.2 .3h0m2.4 .1h0m-1.6 .2h0m-.7 0h0m1 .2h0m1.3 .1h0m-2.4 .1h0m2.2 .1h0m.6 .2h0m-.4 0h0m-1.9 .2h0m1.4 .3h0m-.8 .1h0m.1 0h0m1.4 .7h0m-1.1 .1h0m-.3 .1h0m1.7 .5h0m-.1 0h0m0 .4h0m-.3 .1h0m-.6 .3h0m.2 .1h0m3.2-.1h0m.3-.4h0m-1.5-.1h0m1.5-.4h0m-2.5-.3h0m2 0h0m-1.6-.9h0m0-.1h0m1.6-.1h0m-1.4-.1h0m2.1-.1h0m-2.1-.3h0m2.1-.1h0m-1.4 0h0m-1.3-1.1h0m1.5-1.2h0m3.1 .4h0m-1 .1h0m.3 .7h0m.7 1.1h0m-.9 .6h0m-.4 .4h0m.7 .3h0m-.1 0h0m-.6 .2h0m1.1 .1h0m-1 .9h0m-.2 .2h0m.6 .1h0" stroke="#C49A00" stroke-width="1.2"/>
<path d="M296 443.2h0m.2 1.2h0m.1 .6h0m1.6-.2h0m.2-.7h0m-.8-.5h0m-.3-.3h0" stroke="#00C094" stroke-width="1.2"/>
<path d="M296.2 441.4h0m.1 4.1h0m3.4 1.6h0m-2.4-1.1h0m2.3-.1h0m-.2-.7h0m-.9-.9h0m1.4-1.7h0m2.5-1.8h0m-.3 1.1h0m-1.6 .2h0m1.4 1.2h0m-.4 1.4h0m-1.1 1.1h0m2.3 .1h0m-2 1h0m1.3 0h0m1.2 .1h0m2.1-1.1h0m-.9-.2h0m.9-1.8h0m1.9-1.2h0m.7 1.5h0m-.3 .4h0m-.7 .6h0m1.6 1.4h0m2.9-.3h0m-2.1-.5h0m.8-2.2h0m.7-1.5h0m.2-.3h0m3.7-.7h0m-.5 1.6h0m-1.6 1.5h0m2.1 1.3h0m-1.3 .3h0m4.3 .5h0m-.3-.2h0m0-.4h0m-2.3-.2h0m2.2-.2h0m-2-.3h0m2.6-.7h0m-.8-.2h0m-1-.9h0m-.4-.3h0m-.4-1h0m1.1-.9h0m2.3 .5h0m-.1 2.8h0m-.5 1.7h0m.4 .6h0" stroke="#FB61D7" stroke-width="1.2"/>
<path d="M313.2 443.9h0m1 2.1h0m3.6 1h0m-1.9-.7h0m1.3-.4h0m.3-.3h0m.2-.1h0m-.6-3h0m-1.5-.8h0m1.4-.4h0m3 .7h0m.6 .4h0m-.5 .6h0m-.5 1.3h0m-.6 .9h0m-.8 .5h0m2.4 .1h0m.2 0h0m3 .2h0m-.6-.6h0m-.1-.1h0m.6-.2h0m-.7-1.1h0m-1.3-1.6h0m2.7 1.7h0m2.6 1.6h0" stroke="#00B6EB" stroke-width="1.2"/>
<path d="M328.9 445.7h0m-1.9-.2h0m1.3-1.3h0m.1-.4h0m.2-.4h0m-.5-.7h0m1.3-.3h0m1.9-.2h0m-.3 .7h0m.6 .4h0m.1 .4h0m-.8 1.3h0m1.1 .5h0m-1.8 .9h0m5.4 .6h0m-1.1-.5h0m-1.4-.1h0m2.3-.4h0m0-.3h0m.3-.3h0m-1.4-.2h0m0-2.9h0m-1.1-.3h0m4.7-.1h0m-1.6 .3h0m1.9 .2h0m-1.2 1.5h0m1.1 .3h0m-1.7 .2h0m2.3 1.8h0m-2.4 .1h0m5.1-.5h0m-1.5-.6h0m1-.6h0m-1.3-.7h0m1.4 0h0m-.7-.3h0m1.5 0h0m-1.2-.1h0m-.6-.2h0m1.6-.4h0m.3-1.5h0m-.1 0h0m-.7-.2h0m-.1 0h0m-.4-.2h0m.9-.3h0m1.1-.4h0m2 .3h0m-.8 .2h0m-1.3 .2h0m.9 1h0m-.8 0h0m2 .3h0m-.9 .1h0m-1.3 .3h0m.9 0h0m1.1 .9h0m-2 .3h0m1.3 .6h0m.9 .5h0m-1.9 .2h0m2.1 .3h0m-1.2 .5h0m-1.5 0h0m.9 .3h0m4.3-.3h0m-1.4-.8h0m-.8-.9h0m1.8-.2h0m-.6-.5h0m.9-.1h0m.1-.2h0m.4-.1h0m-.6-.4h0m-1.4-.1h0m1.5-.1h0m0-.2h0m0-.5h0m-.9-.3h0m.4-.3h0m-1.4-.3h0m2.5-.6h0m-1.9-.2h0m3.2 .1h0m1.3 1.1h0m-2 .4h0m1.5 1h0m-.5 .1h0m1.4 .1h0m-.1 .1h0m-1.3 .2h0m-.7 .2h0m2.1 .5h0m-2.1 0h0m.3 .5h0m1.2 .3h0m.5 .6h0m-2.4 .2h0m2.5 1h0m2.5-.7h0m.5-.1h0m-1.8-.1h0m.7-.8h0m.9-.2h0m-2.3-1h0m1.9-.3h0m-1.1-.9h0" stroke="#A58AFF" stroke-width="1.2"/>
<path d="M218.6 439.5C231.3 439.5 231.3 441.5 244.1 441.5C256.9 441.5 256.9 444.5 269.6 444.5C277.2 444.5 277.2 448.3 284.9 448.3C290 448.3 290 450.2 295.1 450.2C307.9 450.2 307.9 451 320.6 451C335.9 451 335.9 450 351.2 450" stroke="#111" stroke-width=".8" fill="none" opacity=".9"/>
<text x="285.8" y="459.5" font-size="3.2" text-anchor="middle" fill="#333">EFHD2</text>
<line x1="212.2" y1="460" x2="212.2" y2="480.8" stroke="#333" stroke-width=".5"/>
<line x1="211" y1="463.9" x2="212.2" y2="463.9" stroke="#333" stroke-width=".4"/>
<text x="210.5" y="465.1" font-size="3.4" text-anchor="end">10</text>
<line x1="211" y1="471" x2="212.2" y2="471" stroke="#333" stroke-width=".4"/>
<text x="210.5" y="472.2" font-size="3.4" text-anchor="end">3</text>
<line x1="211" y1="476.5" x2="212.2" y2="476.5" stroke="#333" stroke-width=".4"/>
<text x="210.5" y="477.7" font-size="3.4" text-anchor="end">1</text>
<line x1="218.6" y1="472.6" x2="271.1" y2="472.6" stroke="#F8766D" stroke-width="1.25" stroke-dasharray=".9 .25"/>
<line x1="271.1" y1="472.6" x2="296.1" y2="472.6" stroke="#53B400" stroke-width="1.25" stroke-dasharray=".9 .25"/>
<line x1="269.6" y1="472.6" x2="277.8" y2="472.6" stroke="#C49A00" stroke-width="1.25" stroke-dasharray=".9 .25"/>
<line x1="294.6" y1="472.6" x2="298.2" y2="472.6" stroke="#00C094" stroke-width="1.25" stroke-dasharray=".9 .25"/>
<line x1="296.1" y1="472.6" x2="320.6" y2="472.6" stroke="#FB61D7" stroke-width="1.25" stroke-dasharray=".9 .25"/>
<line x1="312.9" y1="472.6" x2="327.2" y2="472.6" stroke="#00B6EB" stroke-width="1.25" stroke-dasharray=".9 .25"/>
<line x1="326.7" y1="472.6" x2="354.3" y2="472.6" stroke="#A58AFF" stroke-width="1.25" stroke-dasharray=".9 .25"/>
<line x1="218.6" y1="475.9" x2="271.1" y2="475.9" stroke="#F8766D" stroke-width="1.25" stroke-dasharray=".9 .25"/>
<line x1="271.1" y1="475.9" x2="296.1" y2="475.9" stroke="#53B400" stroke-width="1.25" stroke-dasharray=".9 .25"/>
<line x1="269.6" y1="475.9" x2="277.8" y2="475.9" stroke="#C49A00" stroke-width="1.25" stroke-dasharray=".9 .25"/>
<line x1="294.6" y1="475.9" x2="298.2" y2="475.9" stroke="#00C094" stroke-width="1.25" stroke-dasharray=".9 .25"/>
<line x1="296.1" y1="475.9" x2="320.6" y2="475.9" stroke="#FB61D7" stroke-width="1.25" stroke-dasharray=".9 .25"/>
<line x1="312.9" y1="475.9" x2="327.2" y2="475.9" stroke="#00B6EB" stroke-width="1.25" stroke-dasharray=".9 .25"/>
<line x1="326.7" y1="475.9" x2="354.3" y2="475.9" stroke="#A58AFF" stroke-width="1.25" stroke-dasharray=".9 .25"/>
<line x1="218.6" y1="479.1" x2="271.1" y2="479.1" stroke="#F8766D" stroke-width="1.25" stroke-dasharray=".9 .25"/>
<line x1="271.1" y1="479.1" x2="296.1" y2="479.1" stroke="#53B400" stroke-width="1.25" stroke-dasharray=".9 .25"/>
<line x1="269.6" y1="479.1" x2="277.8" y2="479.1" stroke="#C49A00" stroke-width="1.25" stroke-dasharray=".9 .25"/>
<line x1="294.6" y1="479.1" x2="298.2" y2="479.1" stroke="#00C094" stroke-width="1.25" stroke-dasharray=".9 .25"/>
<line x1="296.1" y1="479.1" x2="320.6" y2="479.1" stroke="#FB61D7" stroke-width="1.25" stroke-dasharray=".9 .25"/>
<line x1="312.9" y1="479.1" x2="327.2" y2="479.1" stroke="#00B6EB" stroke-width="1.25" stroke-dasharray=".9 .25"/>
<line x1="326.7" y1="479.1" x2="354.3" y2="479.1" stroke="#A58AFF" stroke-width="1.25" stroke-dasharray=".9 .25"/>
<polygon points="218.6,465.3 244.9,465.3 271.1,465.3 271.1,470.4 218.6,470.4" fill="#F8766D" fill-opacity="0.08"/>
<path d="M218.8 468.7h0m.1 2h0m2.6 .4h0m-1.5-.1h0m.3-.3h0m.1-.2h0m-.8-.1h0m2.1-.9h0m-2.3-.6h0m-.4-.3h0m.3-.1h0m-.2 0h0m2.5-.8h0m-2-2.2h0m1.8-.4h0m2.2 1.7h0m.1 .7h0m-.3 0h0m-1 1h0m-.1 .4h0m.1 0h0m-.1 1.2h0m1.1 .4h0m-1.3 .3h0m.6 0h0m1.4 .1h0m-1 .2h0m2.8 .4h0m1.3-1h0m-1.8 0h0m-.1-.1h0m1.4 0h0m-1.6-.1h0m1.1 0h0m1.4-.3h0m-1.4-.1h0m.9-.1h0m-1.2-.3h0m-.3 0h0m2-.1h0m-1.8-1.3h0m-.1-.2h0m.8-.2h0m-.6 0h0m.6-.7h0m.8-.2h0m-.8-.1h0m1.8 1.4h0m1.7 .5h0m-.9 0h0m1 .4h0m-.5 .1h0m0 .2h0m.8 .1h0m-2 .2h0m2.4 .2h0m-2 .1h0m1.7 1.2h0m.1 0h0m1.6 .2h0m.4-.2h0m-.6-.4h0m.4-.3h0m-1.4 0h0m2.3-.1h0m.6-.7h0m-1.2-1h0m-.9-.6h0m1.4-1.5h0m1.4-.7h0m.5 .8h0m.6 .8h0m-.6 1.5h0m1.3 .5h0m-2.3 0h0m1 .7h0m1.1 .4h0m-2.1 0h0m1 .1h0m1.6 .4h0m.2 .3h0m.7-.3h0m.4-.1h0m-.2-.2h0m0-.1h0m1.5-.1h0m-1.7-.3h0m.7-.3h0m-.7-.1h0m-.2-.1h0m-.1-.2h0m.3-.2h0m-.2-.3h0m1.2-.1h0m-.3-1h0m2.1-2.5h0m.1 .1h0m1.6 1.5h0m-1 .3h0m1.1 .2h0m.7 .5h0m-2.6 .6h0m.4 .7h0m-.7 0h0m1.4 .7h0m.7 .6h0m.8 .5h0m2.9 .2h0m-1.4-.5h0m.8-.1h0m-.2-.4h0m-.5-.7h0m.2-.6h0m1.1-.2h0m-.8-1.5h0m3.3-.2h0m-2.3 .6h0m1 0h0m.2 .1h0m-1.1 .2h0m.3 .1h0m.7 .1h0m-.5 .7h0m2.3 .2h0m0 .7h0m-2.4 0h0m1.9 .4h0m-2.1 .8h0m.5 .5h0m3.9-.2h0m-.7-.2h0m-.6-.2h0m-.1-.2h0m1-.1h0m-1.2-.1h0m1.2 0h0m-1.3-.6h0m1.4-.1h0m-.8-.5h0m-.3 0h0m2.3-.2h0m-.5-1h0m.6-.2h0m-2-.1h0m.6 0h0m1-1.2h0m.6-.6h0m-2.9-.2h0m4.2 2.6h0m.9 .2h0m-.7 .1h0m-1.3 0h0m1.2 .1h0m1.5 .4h0m-1 .3h0m.5 .3h0m-2.1 .5h0m1.4 .3h0m2.5 1h0m1.6-2.2h0m-2.7-.1h0m1.4-.6h0m-1.1-.4h0m.1-1.2h0m.8-.8h0m4 0h0m.3 1.7h0m-2.4 0h0m.3 .4h0m1.6 .1h0m.3 .3h0m.3 .3h0m-1.3 .1h0m.9 .3h0m-1 .2h0m1.3 0h0m-.9 .3h0m0 .2h0m-1.4 .1h0m2.5 .4h0m1.4-.6h0m1.4-.7h0m-1.9 0h0m0-.5h0m1.4 0h0m-1.5-.7h0m1.3-1.5h0m0-.1h0m3.8 .6h0m-2.2 .3h0m1.6 .3h0m-1.5 .1h0m2.4 1.6h0m-1.5 0h0m-.6 .4h0m-.1 .3h0m1.9 .1h0m-2.3 .2h0m2 .3h0m-1.1 .1h0m-1.2 .3h0m2.9 .2h0m.5-.4h0m-.2-.5h0m1.2-.8h0m-.5-.1h0m1.7 0h0m-.3-.2h0m-1.5-.7h0m.6-.2h0m-.3 0h0m.3-.3h0m-.1-.1h0m0-.9h0m2.7 1h0m-.8 1.1h0m.5 .7h0m-.2 .3h0m-.2 .1h0m-.1 .2h0" stroke="#F8766D" stroke-width="1.2"/>
<polygon points="271.1,463.3 283.6,463.3 296.1,463.3 296.1,470 271.1,470" fill="#53B400" fill-opacity="0.45"/>
<path d="M272.6 462.5h0m-.6 .4h0m.1 .7h0m-.3 4.1h0m.6 2.2h0m-.4 .5h0m.1 .2h0m1.1 0h0m.8-.5h0m.2-.6h0m-.3-1.3h0m.8-.1h0m.9-.4h0m-2 0h0m2-1.3h0m-.2-.3h0m-2.3-1.2h0m.5 0h0m2.1-.7h0m0-.8h0m.2-.1h0m-.4-.1h0m-.5-.3h0m.7 0h0m1.3 .2h0m.3 1.7h0m-.1 .7h0m.3 .2h0m.3 .9h0m-1.3 .9h0m2.1 1.2h0m-.5 .3h0m.2 .2h0m-.6 .4h0m-1.2 .3h0m2.2 .4h0m-2.3 .3h0m2.5 0h0m1.7 .7h0m.3-.1h0m1-.7h0m-2 0h0m-.3-.2h0m2-1.9h0m.2-.9h0m-1.1-.2h0m-1.5-.1h0m2.4-.2h0m-1.7-.5h0m.9-.8h0m-.1-.3h0m1.2-.2h0m-1.7 0h0m-.9-.2h0m1.1-.1h0m-.2-.5h0m1.3-.7h0m-1.8 0h0m2.1-.6h0m2.9-.1h0m-1.8 .1h0m-.8 0h0m2 3.3h0m-.2 .5h0m-1.6 1.2h0m2.2 .1h0m-2.1 .7h0m.6 .1h0m.1 .1h0m1.7 .5h0m-2.4 .7h0m1.9 .1h0m-.9 .4h0m2.3-.7h0m1.5-.7h0m-1.7-.4h0m1.1-.1h0m-1.2-.1h0m1.7-.3h0m-1.3-.1h0m1.1 0h0m-1.1-.5h0m.7-.2h0m-.7-.2h0m1.8-.4h0m-1.4-.2h0m.7-.2h0m.3-.9h0m2.6-2.1h0m-.3 0h0m.3 .8h0m.2 0h0m-.3 2h0m-.5 0h0m.3 .6h0m-.6 .5h0m-.4 .1h0m1.9 0h0m.2 .2h0m-.3 1.5h0m-1.9 .2h0m4.2 0h0m.3-.9h0m-.1-1.2h0m-1.8-1.5h0m1.6-.6h0m-1.1-.3h0m2.3-.8h0m-1.3-.2h0m-1.1-.6h0m1.2-.2h0m3.3 1.7h0m-1.5 .5h0m.9 2.2h0m.3 .6h0m-.7 1.8h0m-.6 1h0" stroke="#53B400" stroke-width="1.2"/>
<path d="M269.8 467.2h0m-.2-2h0m2.6 0h0m.7 .3h0m-1.5 .8h0m-1.1 1.1h0m.1 .8h0m1.6 .6h0m-.7 0h0m0 .4h0m-1 .3h0m.7 .1h0m1.4 .2h0m-.9 0h0m-1.3 .2h0m3.6 1.2h0m.5-.8h0m-1.3-.2h0m.7-.5h0m-.4-.2h0m.6-.3h0m-.9-.7h0m2-.9h0m.8-.7h0m-.8-.4h0m.6-.6h0m0-1h0m-1.8-.6h0m3.8 3.1h0m-1.3 1.7h0m.5 1.6h0m-.1 .1h0" stroke="#C49A00" stroke-width="1.2"/>
<path d="M295.5 466.7h0m-.3 1.7h0m.8 1.1h0m-.6 1.3h0m2.6 0h0m-.8-.5h0m-.2-2.6h0" stroke="#00C094" stroke-width="1.2"/>
<polygon points="296.1,462.3 308.4,462.3 320.6,462.3 320.6,469.9 296.1,469.9" fill="#FB61D7" fill-opacity="0.4"/>
<path d="M296.9 462.2h0m-.2 2.2h0m-.2 1.6h0m.4 3.5h0m-.2 .8h0m3.2-.3h0m-1.9-.5h0m0-.2h0m-.8 0h0m.1-.5h0m.2-.3h0m2.3-.1h0m-1.3-.4h0m-.9-.4h0m-.6-1h0m.4-.4h0m1.5-.3h0m-.2-.8h0m0-.6h0m.1 0h0m-1.4-.6h0m4.1-2.3h0m-.6 .4h0m-.3 .2h0m1.1 .1h0m.5 .5h0m-.2 .1h0m-.9 1.2h0m.7 .2h0m-.1 0h0m-.3 .2h0m-1.3 .9h0m0 .6h0m2.7 .9h0m-1.3 .1h0m0 1.1h0m-1.1 .7h0m.8 .6h0m-.4 0h0m-.6 .8h0m3.1 .5h0m.2 0h0m1.5-.1h0m.1-.6h0m-.6-.2h0m.1-.3h0m-1.5-.1h0m.5-.3h0m.7-.2h0m-.3-.4h0m1.2-.9h0m.7-.7h0m-1.6-.4h0m-1-1.3h0m.4-.5h0m.9-.5h0m-1.3-.5h0m2.5 0h0m3-2.1h0m-2.1 0h0m1 1h0m.4 2.2h0m-1.9 .8h0m1.8 .2h0m-1.8 2.1h0m.5 0h0m-.2 .7h0m.4 0h0m1.4 .5h0m-.9 .2h0m.9 1.1h0m-.5 .1h0m1 0h0m-2.6 .4h0m2 0h0m-1 .1h0m4.2-.9h0m.1-.7h0m-2.1-.1h0m.3-.5h0m.8-.4h0m1.1-.5h0m-1.3-.4h0m.7-.1h0m-.9-1.2h0m1-.7h0m-.6 0h0m1.3-.6h0m-1.1-.5h0m1.2-.5h0m-1.7-.8h0m2.5 .2h0m1.7 .9h0m.1 .7h0m-1.2 .7h0m.5 .3h0m-.2 .6h0m.4 1h0m-.8 0h0m-.4 .9h0m1.5 .7h0m.5 0h0m-1.3 .4h0m-1 .7h0m2.4 0h0m-.5 .5h0m-.2 .2h0m-2.1 0h0m3.3 .1h0m1.5-.3h0m-.6-.1h0m.3-.4h0m.2-.5h0m.8-.2h0m-.6-.5h0m-1.5-.9h0m.5-.6h0m.8-1.9h0m-1.7-1.2h0m1.4-.1h0m.8 0h0m-1.4-.3h0m-.2-1h0m1.9-.4h0m-1.9-.2h0m4.3-.2h0m0 .3h0m-.1 .5h0m.1 .5h0m-.3 .8h0m-1.2 .9h0m1.7 .1h0m-.5 1.2h0m-.5 1h0m1.3 .1h0m-2.4 .6h0m1.7 .2h0m-.3 .7h0m-1.2 .9h0m1.9 0h0m.1 .4h0m-.4 .2h0m-1.4 .5h0" stroke="#FB61D7" stroke-width="1.2"/>
<polygon points="312.9,461.8 320.1,461.8 327.2,461.8 327.2,469.8 312.9,469.8" fill="#00B6EB" fill-opacity="0.45"/>
<path d="M313.1 464.1h0m1.4 .2h0m-.6 .6h0m-.7 .2h0m-.2 0h0m1.4 1.5h0m-.5 .1h0m.3 .3h0m.1 .1h0m-1.1 .1h0m.3 .2h0m.8 .2h0m-.8 .2h0m-.5 .2h0m.7 .7h0m-.2 .1h0m.5 1.1h0m-.6 .4h0m4.5 .5h0m0-.1h0m-.6-.1h0m-2.3-.2h0m.8-.9h0m-.7 0h0m2-.6h0m-1.7-.1h0m.7-1h0m0-.3h0m-.6-.1h0m.2-.1h0m2.2-.2h0m-.5 0h0m.1-1h0m-.2-.2h0m.3-1h0m-1.6-1h0m0-1.5h0m-.8-.7h0m5.5 .9h0m-.4 0h0m-1 .7h0m-.3 .2h0m-.8 .2h0m1.9 .4h0m.5 .6h0m-1.7 .3h0m1.6 .3h0m-1.9 .4h0m2.3 .2h0m-.3 .3h0m-1.8 .9h0m1.5 .3h0m-1.6 .1h0m-.7 .1h0m.3 .7h0m1.1 .1h0m.6 .5h0m-.5 .4h0m.5 0h0m.1 .3h0m.6 .6h0m.4 .6h0m.4-.1h0m1.4-.3h0m0-1.1h0m.7-.2h0m-2.5-.4h0m2 0h0m-1.1-.3h0m.5-.1h0m-1-.3h0m-.2-1.1h0m2.5-.4h0m-1.9-1h0m0-1.7h0m1.9-.6h0m-2.8-.4h0m.6-.7h0m.9-.2h0m.7-.3h0m2.8-.4h0m-1.7 2.6h0m2.3 .1h0m-1.4 .3h0m1.5 .3h0m-1.9 .2h0m.5 .7h0m-.1 .3h0m.8 .5h0m.3 0h0m-2.2 .6h0m1.4 .8h0m.5 0h0m-.3 .9h0m.3 0h0m.7 1h0m-.2 .3h0m-2.5 .2h0m.8 .1h0m-.5 .4h0m1.6 .1h0m-1.8 .4h0m3-.5h0m.1-6.8h0" stroke="#00B6EB" stroke-width="1.2"/>
<polygon points="326.7,462.3 340.5,462.6 354.3,462.8 354.3,470.7 326.7,470.7" fill="#A58AFF" fill-opacity="0.45"/>
<path d="M326.7 465.8h0m.2 5h0m2.4 1.2h0m-.1-.8h0m-1.5-.6h0m.7-.3h0m.3-.2h0m.8-.3h0m-1.6-.3h0m1-.5h0m-1-.1h0m-.8-.1h0m2.1-.4h0m.2-2.6h0m-1.5-.1h0m.6-.1h0m1.3-.2h0m.1-.3h0m-1.4-.4h0m-.1-.2h0m-.4-.1h0m.6-.4h0m-1.2-.1h0m1.1-.3h0m1.3-.1h0m-.4-.3h0m-1.4-.2h0m1.7-.1h0m-.2-.3h0m0-.5h0m-1.6-.2h0m2.8 .1h0m-.3 .7h0m-.2 .6h0m.6 .2h0m1.4 0h0m-1.7 .1h0m.6 .9h0m.8 .4h0m-1.1 .5h0m1.9 0h0m-2.6 .1h0m-.1 0h0m2.8 1.7h0m0 .6h0m-2.4 .4h0m.8 .1h0m-.3 .3h0m2 .4h0m-.6 .4h0m-.5 0h0m-.8 .1h0m-.8 .3h0m1.6 1h0m-1.3 .3h0m2.1 .5h0m2.4 .2h0m-.8-.3h0m-.2-.3h0m-.1-.7h0m.9-.3h0m.5-.6h0m-1 0h0m1.2-.3h0m-1.7-.4h0m-.7-.5h0m.2-.1h0m-.3-.4h0m2.3-.2h0m-2-1.4h0m2.4-.4h0m-2.2-.8h0m2.2-.6h0m0-.1h0m-2.5-1.1h0m1.7-.2h0m-.5-.2h0m-.1-.3h0m1.3-.2h0m-.7-.2h0m-1.1-.4h0m3.1 .8h0m.4 .1h0m1.5 .7h0m-.1 .4h0m-1.2 .2h0m-1.2 .2h0m.3 .1h0m-.1 .4h0m.7 0h0m.5 0h0m1 .3h0m-1.4 .6h0m-1 .2h0m1.4 1h0m-1.1 .4h0m.3 .4h0m.3 .4h0m-.8 .5h0m.9 .5h0m.7 .6h0m-1.6 .4h0m.6 .2h0m-.2 .1h0m.5 .1h0m-1.3 0h0m2.8 .7h0m-1.9 .2h0m1.7 0h0m-1.1 .8h0m3-.5h0m-.9-.3h0m2.3-.5h0m0-.5h0m-2.7 0h0m.8-.2h0m-.5-.1h0m1.4-.5h0m.3-.1h0m.2-.3h0m-1.4-.2h0m0-.4h0m.5-.4h0m.9-.6h0m-.7-.3h0m-.1-.4h0m-.6-.8h0m.5-.7h0m1-.2h0m.3-.2h0m-1-.3h0m-.4-.1h0m-.2-.7h0m.4-.1h0m.8-.1h0m.1-.1h0m-.1-.2h0m.5-.2h0m-.1-1.1h0m-.5-.1h0m.2-.2h0m-1.1-.2h0m.7-.4h0m2.7-.2h0m-.1 .6h0m.1 .5h0m.5 .3h0m-1.6 .2h0m-.3 .3h0m.2 .2h0m-.2 0h0m.2 0h0m2.1 .1h0m-1.3 .4h0m.9 0h0m-.1 .1h0m-2.1 .5h0m1.9 0h0m.4 0h0m-2.4 .2h0m2.2 .2h0m.4 .3h0m-2.6 .5h0m1.4 0h0m-.6 .1h0m1 .1h0m.1 .3h0m.7 0h0m.3 .5h0m-.7 .1h0m-.4 .1h0m-.5 .2h0m.3 0h0m1 0h0m-.8 .3h0m.1 .1h0m-.4 0h0m.2 .1h0m.6 .1h0m-1 0h0m-.2 .1h0m-1 .1h0m.4 0h0m-.2 .2h0m1.1 .3h0m-1.1 .1h0m.3 .1h0m.8 0h0m0 .2h0m-1.4 0h0m2.3 .2h0m-1.3 .1h0m-.2 .1h0m-.1 .2h0m-.6 .4h0m.2 0h0m.5 .2h0m1.4 .2h0m-.7 .8h0m-1.2 .1h0m.7 0h0m-.9 .3h0m1.4 0h0m1.4 .2h0m0 .2h0m1.4 .2h0m-.1-.5h0m-.1 0h0m-.1-.1h0m1.7 0h0m-.8-.2h0m.2-.1h0m-1.9-.9h0m1.8 0h0m-.8-.2h0m.8-.3h0m.7 0h0m-.1-.5h0m-2.3-.2h0m.9-.1h0m.4 0h0m1.2-.2h0m-2.4-.1h0m2.1-.2h0m-.3-.1h0m-2.2-.1h0m1.2-.1h0m1-.4h0m-.4-.3h0m.5-.1h0m-1-.3h0m.5-.2h0m-.2-.7h0m-.7-.3h0m-.8-.3h0m1.3 0h0m.5-.1h0m-1.6-.1h0m.4-.4h0m1.5-.1h0m-1.9-.1h0m.9-.1h0m1.2 0h0m-.2-.2h0m-.1-.2h0m.3-.5h0m-1.5 0h0m1.9-.8h0m-1-.1h0m-1.8-.3h0m2.4-.1h0m-.7-.1h0m-.8-1.2h0m5-.2h0m-.6 .1h0m-.4 1.2h0m-1 .6h0m1.7 .2h0m-.3 .1h0m-1.5 .2h0m.3 .1h0m.2 1.1h0m1.4 0h0m-1.7 0h0m.7 .4h0m1.2 0h0m-1.6 .1h0m-.6 .3h0m-.5 .3h0m.1 .6h0m.6 .2h0m.8 .3h0m.1 .1h0m.9 .4h0m-1.7 .1h0m1.1 0h0m-1.4 .1h0m.8 .2h0m1.2 .2h0m-1.7 .3h0m1.6 .5h0m-.2 .1h0m-1 .2h0m1.3 .3h0m0 .4h0m-1.7 .3h0m-.7 1.2h0m-.1 .3h0m3 .4h0m.5-.3h0m2.1-.2h0m-.4-.1h0m0-.4h0m0-.1h0m-.9-.3h0m-.4-.6h0m-.6-.1h0m.9-.4h0m1.5-.8h0m-.3-.2h0m-2.3-.2h0m2.1 0h0m-.2-.2h0m-1.5-.2h0m1.5-.5h0m-1-.8h0m1.7 0h0m-.8-.1h0m-.4-.3h0m.6-.1h0m.3-.3h0m-2.1-.8h0m2.3 0h0m-1.6-2.4h0" stroke="#A58AFF" stroke-width="1.2"/>
<path d="M218.6 480C231.3 480 231.3 478.6 244.1 478.6C256.9 478.6 256.9 476.8 269.6 476.8C282.4 476.8 282.4 474.3 295.1 474.3C307.9 474.3 307.9 471.8 320.6 471.8C335.9 471.8 335.9 469.4 351.2 469.4" stroke="#111" stroke-width=".8" fill="none" opacity=".9"/>
<text x="285.8" y="488.9" font-size="3.2" text-anchor="middle" fill="#333">ENO1</text>
<line x1="212.2" y1="489" x2="212.2" y2="510" stroke="#333" stroke-width=".5"/>
<line x1="211" y1="490.4" x2="212.2" y2="490.4" stroke="#333" stroke-width=".4"/>
<text x="210.5" y="491.6" font-size="3.4" text-anchor="end">30</text>
<line x1="211" y1="495.3" x2="212.2" y2="495.3" stroke="#333" stroke-width=".4"/>
<text x="210.5" y="496.5" font-size="3.4" text-anchor="end">10</text>
<line x1="211" y1="500.1" x2="212.2" y2="500.1" stroke="#333" stroke-width=".4"/>
<text x="210.5" y="501.3" font-size="3.4" text-anchor="end">3</text>
<line x1="211" y1="505" x2="212.2" y2="505" stroke="#333" stroke-width=".4"/>
<text x="210.5" y="506.2" font-size="3.4" text-anchor="end">1</text>
<line x1="218.6" y1="503.4" x2="271.1" y2="503.4" stroke="#F8766D" stroke-width="1.25" stroke-dasharray=".9 .25"/>
<line x1="271.1" y1="503.4" x2="296.1" y2="503.4" stroke="#53B400" stroke-width="1.25" stroke-dasharray=".9 .25"/>
<line x1="269.6" y1="503.4" x2="277.8" y2="503.4" stroke="#C49A00" stroke-width="1.25" stroke-dasharray=".9 .25"/>
<line x1="294.6" y1="503.4" x2="298.2" y2="503.4" stroke="#00C094" stroke-width="1.25" stroke-dasharray=".9 .25"/>
<line x1="296.1" y1="503.4" x2="320.6" y2="503.4" stroke="#FB61D7" stroke-width="1.25" stroke-dasharray=".9 .25"/>
<line x1="312.9" y1="503.4" x2="327.2" y2="503.4" stroke="#00B6EB" stroke-width="1.25" stroke-dasharray=".9 .25"/>
<line x1="326.7" y1="503.4" x2="354.3" y2="503.4" stroke="#A58AFF" stroke-width="1.25" stroke-dasharray=".9 .25"/>
<line x1="218.6" y1="506.5" x2="271.1" y2="506.5" stroke="#F8766D" stroke-width="1.25" stroke-dasharray=".9 .25"/>
<line x1="271.1" y1="506.5" x2="296.1" y2="506.5" stroke="#53B400" stroke-width="1.25" stroke-dasharray=".9 .25"/>
<line x1="269.6" y1="506.5" x2="277.8" y2="506.5" stroke="#C49A00" stroke-width="1.25" stroke-dasharray=".9 .25"/>
<line x1="294.6" y1="506.5" x2="298.2" y2="506.5" stroke="#00C094" stroke-width="1.25" stroke-dasharray=".9 .25"/>
<line x1="296.1" y1="506.5" x2="320.6" y2="506.5" stroke="#FB61D7" stroke-width="1.25" stroke-dasharray=".9 .25"/>
<line x1="312.9" y1="506.5" x2="327.2" y2="506.5" stroke="#00B6EB" stroke-width="1.25" stroke-dasharray=".9 .25"/>
<line x1="326.7" y1="506.5" x2="354.3" y2="506.5" stroke="#A58AFF" stroke-width="1.25" stroke-dasharray=".9 .25"/>
<line x1="218.6" y1="509.5" x2="271.1" y2="509.5" stroke="#F8766D" stroke-width="1.25" stroke-dasharray=".9 .25"/>
<line x1="271.1" y1="509.5" x2="296.1" y2="509.5" stroke="#53B400" stroke-width="1.25" stroke-dasharray=".9 .25"/>
<line x1="269.6" y1="509.5" x2="277.8" y2="509.5" stroke="#C49A00" stroke-width="1.25" stroke-dasharray=".9 .25"/>
<line x1="294.6" y1="509.5" x2="298.2" y2="509.5" stroke="#00C094" stroke-width="1.25" stroke-dasharray=".9 .25"/>
<line x1="296.1" y1="509.5" x2="320.6" y2="509.5" stroke="#FB61D7" stroke-width="1.25" stroke-dasharray=".9 .25"/>
<line x1="312.9" y1="509.5" x2="327.2" y2="509.5" stroke="#00B6EB" stroke-width="1.25" stroke-dasharray=".9 .25"/>
<line x1="326.7" y1="509.5" x2="354.3" y2="509.5" stroke="#A58AFF" stroke-width="1.25" stroke-dasharray=".9 .25"/>
<polygon points="218.6,494.8 244.9,494.8 271.1,494.8 271.1,500.6 218.6,500.6" fill="#F8766D" fill-opacity="0.12"/>
<path d="M218.9 498.3h0m-.3 2.6h0m3.3-.6h0m-2.5-.7h0m1.7-.4h0m.4-.9h0m-.2-1h0m3.5-1.2h0m0 .2h0m-1.5 0h0m-1 .7h0m0 1.4h0m2 .6h0m.2 .4h0m-2 .1h0m.1 .3h0m2.2 .1h0m.1 1h0m1.7 .7h0m.9-.9h0m-1.2-.4h0m-1.3-.4h0m.6-.2h0m.1-.2h0m1.4-.3h0m.7-.3h0m-2.1 0h0m2.1-1h0m0-1.5h0m-1-.4h0m3.5-1.4h0m-2.2 1.2h0m2.3 .8h0m-1.6 .5h0m.1 1.8h0m-.8 0h0m2.1 .2h0m.5 0h0m-2.2 .1h0m.1 .1h0m2.1 0h0m-.7 .6h0m-.9 .3h0m.5 .1h0m-.5 .3h0m.4 .1h0m1.3 .2h0m-2.3 .1h0m1.2 .1h0m-.3 0h0m.8 .4h0m1.6 .1h0m2-.3h0m-1.4-.3h0m-1-.4h0m.1-.4h0m1.5-.2h0m.6 0h0m-1.9-.2h0m-.6 0h0m-.1-.2h0m.2 0h0m1.2-.7h0m1.5-.1h0m-2.8-.3h0m2.6-1.3h0m-1.9-1.2h0m4.5-.5h0m-1.2 1.5h0m1.5 .1h0m-1.1 .9h0m-.4 1.1h0m1.7 .7h0m-.7 .5h0m.8 .5h0m-2.2 .5h0m.7 .4h0m4.1 0h0m-2.1-.2h0m.5-.5h0m2-.2h0m-.2-.7h0m-.9-.5h0m.6-.3h0m-1-.5h0m1.4-.4h0m-1.6-.7h0m.1-.1h0m4.3-.3h0m.1 .3h0m-.4 1.9h0m-1.1 0h0m.8 .2h0m-.5 .5h0m-.2 .8h0m1 .1h0m-.7 .1h0m-.4 .1h0m2.4 .6h0m2.1-.5h0m0-.4h0m-2.3-.1h0m1-.4h0m1.2-2h0m-2.2-.1h0m-.4-.1h0m.9-.8h0m1.7-.1h0m0-.2h0m2.6-.2h0m.4 .5h0m-.6 .3h0m-1.8 1h0m2.1 1.9h0m-1.1 0h0m.7 1.1h0m1.3 0h0m.1-.2h0m1.5-.4h0m-1.6 0h0m1.3-.2h0m.7-.1h0m-1.3-.1h0m.4 0h0m0-.2h0m-1.1-.1h0m.4-.1h0m1.5 0h0m-1.7 0h0m1.4-.1h0m.1-.3h0m-1.1-.3h0m-.1 0h0m.1-.6h0m.8-.5h0m.7-.4h0m-2.1-.2h0m1.6-.4h0m.3-.5h0m-.1-.6h0m-.9-.1h0m-.5-1.4h0m3 1h0m1.6 .2h0m-2 .3h0m.8 .2h0m.6 .2h0m-1.6 0h0m.6 .4h0m.2 1.1h0m-.5 .1h0m.4 .3h0m1.5 .5h0m-1.7 .1h0m.8 .2h0m1.6 .2h0m-1.2 0h0m-.2 .2h0m.7 .6h0m-.7 0h0m1.3 .2h0m-1.1 .2h0m-.2 .1h0m0 .4h0m4.4-.5h0m-1.7 0h0m.1-.1h0m-1-.2h0m1.2-.2h0m.1-.1h0m.4-.9h0m-.2-.6h0m-1.3 0h0m.8-.9h0m-.8-.9h0m3.4-1.9h0m-.7 .1h0m.1 1.2h0m0 .2h0m2.4 .7h0m-2.2 1.1h0m2.2 .4h0m-.6 .2h0m.7 .3h0m.1 0h0m-1.7 .3h0m.6 .8h0m-1.3 0h0m-.5 .3h0m.2 .3h0m3.4 .7h0m.6-.5h0m.2-.3h0m.3-.8h0m-.3 0h0m1.5-.4h0m-.4-.5h0m-.9-.1h0m-1 0h0m1.2-.1h0m.3-.1h0m-.3-.2h0m-1.1-2.1h0m3.6-2.1h0m-.2 1.9h0m1.1 1.2h0m-.8 .7h0m-1.2 1.6h0m1.6 .3h0m-1.5 .1h0m1.2 .1h0m.7 .4h0m-1.8 0h0m-.1 .3h0m2.3 .4h0m2.7-.2h0m.3-.2h0m.3-.3h0m-2.2-.2h0m-.5 0h0m1-.1h0m-.4-.4h0m1 0h0m-1.8-.3h0m1.4 0h0m.7-.4h0m-1.8-1.6h0m-.3-.7h0m0-.4h0m.9-.7h0m3.2-1.2h0m-.1 2.7h0m-.5 1.1h0" stroke="#F8766D" stroke-width="1.2"/>
<polygon points="271.1,492.8 283.6,492.8 296.1,492.8 296.1,499.9 271.1,499.9" fill="#53B400" fill-opacity="0.45"/>
<path d="M271.6 492.5h0m.5 .8h0m-.2 1.8h0m.1 2h0m.4 .3h0m-1 .7h0m1 .5h0m.2 .4h0m-1.3 .4h0m.1 .6h0m.8 0h0m-.4 .2h0m2.8 .3h0m-.4-.8h0m.7-.2h0m0-.4h0m.8-.7h0m-1.7-1.3h0m1 0h0m-1.1-.1h0m-.4-1h0m.9-.3h0m-.9-.1h0m1.8-.1h0m-1.4-1.4h0m1.9-.9h0m3-1h0m-.8 .6h0m-1.2 1.2h0m2 .3h0m-2.1 .1h0m0 .2h0m-.2 .1h0m.4 .2h0m1.6 .1h0m-2.5 .2h0m2.4 .1h0m0 .2h0m.3 .8h0m-2.3 .3h0m.9 1.7h0m2.4 2.2h0m.2-.6h0m1.4-.1h0m-1.2-.3h0m1.8-.6h0m-1.3-.5h0m-.8 0h0m1.9-1h0m-.2-.6h0m-1.8-.7h0m-.7-.5h0m2.8-1.5h0m-.6-.2h0m-1.7-.9h0m3.4-1h0m-.8 .7h0m2.1 .2h0m-1.5 .5h0m1.8 .9h0m-1.9 .1h0m.5 .5h0m1 .4h0m0 .8h0m-.4 .3h0m-1.6 .9h0m-.1 .2h0m1.1 .8h0m-.4 .2h0m1.8 0h0m-.5 .9h0m.1 .4h0m-1.3 .2h0m1.4 1h0m1.6-.3h0m1.7 0h0m0-.2h0m-2.4-.1h0m.8-.5h0m.1-.1h0m-.9-1.5h0m1.1 0h0m1.3 0h0m-2.1-.5h0m1.9-.1h0m.3-.3h0m-1.4-.3h0m.6-2.1h0m-.8-1.4h0m.6-.4h0m-.1-.1h0m.5-.6h0m.4-.5h0m2.8 .3h0m-.1 1.1h0m.2 .3h0m-1.8 .4h0m1.3 2.3h0m-.6 .9h0m1.4 .9h0m-.8 2.1h0m-.5 0h0m2.3 .6h0m.2-.8h0m1.3-.4h0m-1.1 0h0m.4-.4h0m1-.5h0m-1.5-.2h0m.2-1.7h0m1.8-.1h0m-.9-.3h0m-1-.1h0m.5-.1h0m.6 0h0m.4-.5h0m-1.6-.2h0m.7-.1h0m-.4-1h0m-.7-.5h0m1-2h0m2.6 .3h0m.4 1.4h0m-1 3.1h0m1.2 .2h0m-.5 .5h0m.3 .4h0m-1.1 .8h0m.9 1h0m-.5 .4h0" stroke="#53B400" stroke-width="1.2"/>
<path d="M270 495.3h0m.4 .2h0m.6 .4h0m1.3 .1h0m-.2 .4h0m.1 .7h0m-.9 .7h0m-.8 .2h0m.6 1.2h0m1.1 .1h0m0 .4h0m-2.1 .6h0m2.3 .2h0m-.1 .3h0m-.1 .1h0m3.3-1.1h0m-1.4-.5h0m-.8-1.9h0m1.9-.7h0m-.3-.8h0m.8 0h0m-1.2-.4h0m-1.5-2.4h0m4 .7h0m.4 .1h0m.2 1.6h0m-.6 .8h0m.7 1.1h0m-.7 .3h0m-.9 1h0m.1 .6h0m.1 .9h0" stroke="#C49A00" stroke-width="1.2"/>
<path d="M296.9 494.2h0m-1.9 .2h0m1.6 1h0m.3 .5h0m-1.2 0h0m1.9 2.9h0m-.4-.9h0" stroke="#00C094" stroke-width="1.2"/>
<polygon points="296.1,492.3 308.4,492.3 320.6,492.3 320.6,499.9 296.1,499.9" fill="#FB61D7" fill-opacity="0.4"/>
<path d="M296.3 491.8h0m.3 8.4h0m3-.1h0m-2.4 0h0m.4-.1h0m-.2-.4h0m2.3-.1h0m-.3-.9h0m.3 0h0m-1-.2h0m.8-.6h0m-.4-.6h0m.3-.2h0m-1.6-.1h0m-.1-2.1h0m1.5-.4h0m.4-.9h0m-.3-.2h0m.5-.7h0m-2.4-.5h0m1.8-.3h0m2-.3h0m1.3 .2h0m-.3 .1h0m.2 .1h0m-.3 .2h0m.5 .3h0m-.1 .1h0m-.4 .4h0m-.4 .1h0m-1.3 .8h0m-.1 2.3h0m2.2 .5h0m-2.1 .2h0m-.1 .1h0m.2 0h0m1.2 0h0m.8 .1h0m-2.2 .8h0m.6 1h0m.2 .1h0m.1 1.4h0m-.2 .2h0m-.6 .4h0m2.6-.5h0m1.1-.4h0m-.9-.1h0m1.6-.5h0m-.4-.9h0m-.3-.4h0m-.9-.1h0m2-1.3h0m.6-.5h0m-.2-.3h0m.3 0h0m-2.5-1.2h0m0-.8h0m1.3-.9h0m.1-.1h0m.4-.1h0m3.6-1.2h0m.1 .3h0m-2.3 .1h0m2.2 .2h0m-2.6 .1h0m.8 .3h0m1 .1h0m-1.5 .4h0m1.1 .5h0m-.2 .9h0m0 .4h0m.1 .1h0m-1.2 .5h0m.2 .5h0m-.3 .2h0m2.7 1.7h0m-1.5 0h0m-.7 .2h0m1 .3h0m.3 .5h0m.1 .1h0m-.4 .2h0m.3 .1h0m-.8 0h0m.4 .2h0m-.3 .3h0m0 .2h0m-.8 .1h0m-.1 .4h0m2.2 .4h0m3.2-1h0m-.5-.2h0m-2 0h0m1.8-.2h0m.5-.2h0m-1.6-1.4h0m.7-.2h0m.9-1.1h0m-1.4-.2h0m.6-.2h0m.8 0h0m-1.9-.7h0m.8-.2h0m.5-.2h0m-1.7-.1h0m.7-.7h0m-.3-.2h0m2-.6h0m.2-.1h0m2.4-1.3h0m-1.8 .6h0m1.7 .3h0m.3 1.2h0m-2.3 1.6h0m2.5 0h0m0 .1h0m-.4 .6h0m-2.2 .4h0m.6 .4h0m.2 1.6h0m.4 0h0m-.7 .4h0m-.5 .2h0m.5 1h0m1.1 .1h0m2.7 .4h0m-1.3-.3h0m1.1-.3h0m-.1-.6h0m1-.6h0m-.5 0h0m1-.1h0m-1.7-.1h0m.4 0h0m-.1-.1h0m.8-.2h0m-1.7-.3h0m.6-.1h0m1.4-.7h0m-1.3 0h0m.6-.3h0m-.8-.4h0m-.8-.3h0m1.1-.8h0m1.6-1.8h0m-.9 0h0m.2-.3h0m-1.1-.9h0m-.8-.2h0m1.8-1h0m2.7 1.1h0m-1.3 1.1h0m-.1 .5h0m1.7 .3h0m-.7 .4h0m.3 .9h0m-.4 .1h0m-.6 .1h0m0 .9h0m.5 .1h0m.6 .3h0m-.1 .3h0m.2 .3h0m-.5 0h0m1.2 .3h0m-.1 .7h0m-1.8 .8h0m1.3 .7h0" stroke="#FB61D7" stroke-width="1.2"/>
<polygon points="312.9,491.8 320.1,491.8 327.2,491.8 327.2,499.8 312.9,499.8" fill="#00B6EB" fill-opacity="0.45"/>
<path d="M314.5 491.9h0m.2 .7h0m-.6 .1h0m-1 .4h0m.9 .9h0m-.7 .2h0m.1 .1h0m.1 .4h0m-.4 .5h0m.7 0h0m-.3 .4h0m0 1h0m.8 .8h0m.2 .1h0m.4 0h0m0 2.1h0m-1.4 0h0m.3 .1h0m.3 .4h0m-.9 .2h0m.8 .2h0m-.4 .1h0m-.1 .2h0m-.5 .3h0m3.8-.4h0m.3-.3h0m.2-.2h0m-.8-.6h0m-.2-.1h0m-.4 0h0m-.3-.1h0m1-.1h0m1.1-.2h0m-.7 0h0m0-.6h0m-.7-.9h0m-1-.4h0m.3-.8h0m1.4-.5h0m-.7 0h0m-.9-.9h0m2.2-.1h0m.2-.7h0m-.9-1.1h0m-1.1-.1h0m1.1-.1h0m-1.2-.3h0m2.1-.2h0m-2-.2h0m1-.2h0m.8-.4h0m2.5 0h0m-.9 .5h0m.7 0h0m-.3 0h0m-1.2 .3h0m1.8 .3h0m-.8 .8h0m1.1 .5h0m-2.2 .3h0m1.2 .3h0m1.2 1h0m-2 0h0m-.1 .2h0m1.2 .6h0m.4 .2h0m-.2 .1h0m-1.1 0h0m1.1 .4h0m-1.1 .2h0m-.8 1.4h0m2 .6h0m0 .4h0m-2 .1h0m2.3 .1h0m-2.3 .6h0m2.3 .1h0m3.5 .1h0m-1.5-.1h0m1.5-.2h0m-1.4-.3h0m-.6-.7h0m1.4-.2h0m-.8-.2h0m1.1-.2h0m.3-.3h0m-1.7-.3h0m.7-.9h0m-1.4-1.3h0m2.2-.5h0m-2.7-.3h0m1-.1h0m.9-.5h0m-.9 0h0m1.9-1h0m-1.5-.6h0m-.4-.2h0m-.7 0h0m2.2-.4h0m.2-.2h0m-2.2-.3h0m.5-.2h0m4.8 0h0m-.1 .7h0m-1.1 0h0m-.3 1.2h0m-.3 .2h0m0 .4h0m.9 0h0m-.8 .2h0m1.1 .1h0m-1 .9h0m.1 .1h0m1.1 .3h0m-2.1 .1h0m1.3 1h0m.7 .1h0m-.8 .6h0m-.1 .2h0m.2 0h0m-1.4 .2h0m1.5 0h0m-1.6 .1h0m2.5 .5h0m-.7 .5h0m-1.4 .8h0m1.9 .3h0m.5 .4h0m-2.3 .1h0" stroke="#00B6EB" stroke-width="1.2"/>
<polygon points="326.7,492.3 340.5,492.3 354.3,492.3 354.3,500.7 326.7,500.7" fill="#A58AFF" fill-opacity="0.45"/>
<path d="M326.8 498.5h0m.2 3.3h0m2.2-.2h0m-.9-.2h0m1.6-.8h0m-2.6-.2h0m0-.2h0m0-.1h0m.4-1.4h0m1.6-.2h0m.2-.1h0m-.3-.8h0m-2-.2h0m1.8 0h0m-.8-1.4h0m-.4-.2h0m.6-.2h0m-1.1-.6h0m.2 0h0m.7-.5h0m.1 0h0m.9-.1h0m.6-.7h0m-2.2-1.9h0m2.4 .4h0m2.7 .6h0m-2.5 .2h0m1.5 .1h0m1.2 .5h0m-2 .6h0m.1 .2h0m1.2 .1h0m-1.8 0h0m.2 .1h0m-.4 .2h0m1.3 .4h0m-.3 .2h0m1.7 0h0m-.7 .7h0m.5 .4h0m-1.9 .1h0m1.8 .4h0m-.2 0h0m-.6 1.7h0m-1 .5h0m-.8 .8h0m1.6 1.2h0m1.3 .1h0m-.3 .1h0m3.2 .4h0m-1-.3h0m-.9-.2h0m.3-.1h0m.6-.2h0m-1.2-.4h0m.9-1.5h0m1.4-.2h0m-1.3-.2h0m.2-.3h0m.7-1h0m-.2-.2h0m.6-1.2h0m-1.6-.1h0m.2-1.2h0m0-.2h0m-.5-.1h0m1.1-.7h0m-1.2 0h0m0-.1h0m-.4-.1h0m-.1-.3h0m0-.1h0m4.8-.3h0m0 .6h0m-.1 .2h0m-1 .1h0m-.7 .1h0m.4 .2h0m.4 .4h0m1.3 .9h0m-1.7 .1h0m-.3 .6h0m.7 .1h0m1.5 .6h0m0 .1h0m-1.4 0h0m1.6 .4h0m-1.3 .5h0m.4 .8h0m-.5 .3h0m-1.5 .5h0m.5 0h0m1.1 .2h0m.5 .1h0m.6 .3h0m-2.2 .3h0m2.4 .1h0m-1.9 .2h0m-.3 .1h0m.8 .3h0m1.3 .1h0m-1.9 .7h0m-.7 .1h0m1.3 .1h0m3.5 .1h0m-1.4-.8h0m-.6-.3h0m.4 0h0m-.2-.2h0m1.1 0h0m.1-.3h0m1.1-.1h0m-1.7-.4h0m0-.7h0m1.3 0h0m-.9-.2h0m1.5 0h0m-2.5-.3h0m1.5 0h0m0-.6h0m1 0h0m-.2 0h0m-2.5-.2h0m2.6-.4h0m-2-.1h0m-.2-.1h0m.8-.3h0m-.4-.6h0m.1-.1h0m1.2-.1h0m.4-.4h0m-.5-.1h0m-2-.4h0m2 0h0m-.2 0h0m.5-.2h0m-.2 0h0m-.3-.2h0m-.3-.1h0m.3-.1h0m-.3-.4h0m-.4-.2h0m.9-.1h0m.4-.1h0m-2.2-.2h0m2.3 0h0m-.3-.1h0m-1-.1h0m.2-.1h0m-.3-.1h0m.4-.1h0m.4-.1h0m.2-.6h0m-.4-.5h0m1.2 0h0m-1.4-1.1h0m-.4-.4h0m4.7 0h0m-2.1 .4h0m.3 .1h0m.4 .3h0m-.7 .5h0m2.1 0h0m-1.5 .3h0m-.5 0h0m1.6 .1h0m-2 0h0m1.4 .1h0m.4 0h0m.3 .2h0m-2.1 .2h0m2.5 .1h0m-2.4 .2h0m-.5 .1h0m1.1 .4h0m.2 0h0m.5 .3h0m-.6 .2h0m-.4 .4h0m.8 .1h0m.1 .2h0m-1.7 0h0m1.5 .1h0m-.2 .2h0m.2 .1h0m.8 .1h0m-.1 0h0m-.7 .1h0m.4 .2h0m.8 .1h0m-1.2 0h0m-.7 .3h0m.1 0h0m-.7 .5h0m.1 .1h0m2.4 .1h0m-1.1 .2h0m.3 .1h0m.1 .1h0m-1.7 0h0m.6 .2h0m1.6 .1h0m-1.3 .5h0m1.5 .5h0m-.6 0h0m-2.1 .1h0m.9 .3h0m.5 .2h0m-1 0h0m1.9 .1h0m-1 .2h0m1.1 0h0m-.3 .4h0m-1.3 .2h0m.6 0h0m-.5 .2h0m.3 .4h0m-.3 .8h0m-.3 .1h0m.5 .4h0m4.4 .4h0m-.7-.2h0m.2-.4h0m-1-.2h0m0-.1h0m1.8-.2h0m-.7-.7h0m.1-.2h0m0-.2h0m-1.8-.2h0m1.9-.2h0m-2.1-.2h0m-.2 0h0m2.1 0h0m-.9-.5h0m.3 0h0m-1.1-.1h0m1.3-.2h0m.3-.1h0m.9 0h0m-2.9-.1h0m1.6-.4h0m-1.6 0h0m1.8-.2h0m1-1h0m-1-.3h0m.4-.3h0m-.4-.2h0m1.1-.1h0m-1.5-.1h0m.1-.1h0m-.9-.4h0m1.3-.2h0m-1.8 0h0m.7-.1h0m.7-.2h0m.8-.1h0m-2.2-.2h0m2.4 0h0m0-.1h0m.3-.1h0m-.2 0h0m-.2-.5h0m-.6-.5h0m.9-.3h0m-1.5-.1h0m-1-.1h0m1.9-.1h0m.7-.2h0m-.6 0h0m0-.1h0m-1.2-.1h0m1.3-1.2h0m.3-.2h0m-2.5-.2h0m1.8-.1h0m-.8-.1h0m4.1 .6h0m.1 .3h0m-.1 .3h0m-1.9 .1h0m.4 .4h0m-.7 .1h0m2.2 .3h0m.3 .3h0m.1 0h0m-.9 .1h0m.1 0h0m1.1 .4h0m-.5 0h0m.4 0h0m-1.6 .2h0m-1.2 .1h0m2.5 0h0m-.3 .1h0m-1.8 .1h0m-.3 .5h0m1.9 .2h0m-.2 .3h0m.5 .2h0m-.1 .1h0m-1.5 .1h0m-.7 .3h0m.4 .1h0m.5 .1h0m0 .1h0m0 .2h0m2 .2h0m-1.5 .1h0m-1.4 .1h0m.1 0h0m.3 .1h0m2.2 0h0m-2.3 .1h0m.6 .1h0m.7 .3h0m.6 0h0m.3 .3h0m.2 .3h0m-1.6 .2h0m0 .3h0m-.9 .2h0m2.4 .1h0m-1.6 .2h0m1.2 .3h0m-.3 .6h0m.1 .3h0m-1.9 0h0m2.1 .3h0m-2.2 .1h0m1.5 .6h0m1.4 .1h0m-2 0h0m2 .8h0m-2.4 .4h0m3-.7h0m2.2-.2h0m-.4-.1h0m.3 0h0m-1.9-.2h0m1.4-.1h0m-1.8-.2h0m1.4-1.4h0m-.8-.8h0m-.8-.3h0m0-.2h0m2.6-.1h0m-2.3-.3h0m.1-.3h0m-.5-.5h0m.9-.1h0m1.6 0h0m-1-.2h0m-.8 0h0m-.7 0h0m2.7-.7h0m-2-.3h0m.3-.4h0m-.8-.2h0m1.4-.3h0m-1.1-.1h0m1.8-.7h0m-1-1.2h0m-1-.7h0m2.8 2.9h0" stroke="#A58AFF" stroke-width="1.2"/>
<path d="M218.6 507.6C231.3 507.6 231.3 506 244.1 506C256.9 506 256.9 504.2 269.6 504.2C282.4 504.2 282.4 502 295.1 502C307.9 502 307.9 500.2 320.6 500.2C335.9 500.2 335.9 498.5 351.2 498.5" stroke="#111" stroke-width=".8" fill="none" opacity=".9"/>
<text x="285.8" y="517.7" font-size="3.2" text-anchor="middle" fill="#333">MTND1P23</text>
<line x1="212.2" y1="520" x2="212.2" y2="538.8" stroke="#333" stroke-width=".5"/>
<line x1="211" y1="522.4" x2="212.2" y2="522.4" stroke="#333" stroke-width=".4"/>
<text x="210.5" y="523.6" font-size="3.4" text-anchor="end">10</text>
<line x1="211" y1="528.6" x2="212.2" y2="528.6" stroke="#333" stroke-width=".4"/>
<text x="210.5" y="529.8" font-size="3.4" text-anchor="end">3</text>
<line x1="211" y1="534.1" x2="212.2" y2="534.1" stroke="#333" stroke-width=".4"/>
<text x="210.5" y="535.3" font-size="3.4" text-anchor="end">1</text>
<line x1="218.6" y1="534.6" x2="271.1" y2="534.6" stroke="#F8766D" stroke-width="1.25" stroke-dasharray=".9 .25"/>
<line x1="271.1" y1="534.6" x2="296.1" y2="534.6" stroke="#53B400" stroke-width="1.25" stroke-dasharray=".9 .25"/>
<line x1="269.6" y1="534.6" x2="277.8" y2="534.6" stroke="#C49A00" stroke-width="1.25" stroke-dasharray=".9 .25"/>
<line x1="294.6" y1="534.6" x2="298.2" y2="534.6" stroke="#00C094" stroke-width="1.25" stroke-dasharray=".9 .25"/>
<line x1="296.1" y1="534.6" x2="320.6" y2="534.6" stroke="#FB61D7" stroke-width="1.25" stroke-dasharray=".9 .25"/>
<line x1="312.9" y1="534.6" x2="327.2" y2="534.6" stroke="#00B6EB" stroke-width="1.25" stroke-dasharray=".9 .25"/>
<line x1="326.7" y1="534.6" x2="354.3" y2="534.6" stroke="#A58AFF" stroke-width="1.25" stroke-dasharray=".9 .25"/>
<line x1="218.6" y1="537.3" x2="271.1" y2="537.3" stroke="#F8766D" stroke-width="1.25" stroke-dasharray=".9 .25"/>
<line x1="271.1" y1="537.3" x2="296.1" y2="537.3" stroke="#53B400" stroke-width="1.25" stroke-dasharray=".9 .25"/>
<line x1="269.6" y1="537.3" x2="277.8" y2="537.3" stroke="#C49A00" stroke-width="1.25" stroke-dasharray=".9 .25"/>
<line x1="294.6" y1="537.3" x2="298.2" y2="537.3" stroke="#00C094" stroke-width="1.25" stroke-dasharray=".9 .25"/>
<line x1="296.1" y1="537.3" x2="320.6" y2="537.3" stroke="#FB61D7" stroke-width="1.25" stroke-dasharray=".9 .25"/>
<line x1="312.9" y1="537.3" x2="327.2" y2="537.3" stroke="#00B6EB" stroke-width="1.25" stroke-dasharray=".9 .25"/>
<line x1="326.7" y1="537.3" x2="354.3" y2="537.3" stroke="#A58AFF" stroke-width="1.25" stroke-dasharray=".9 .25"/>
<path d="M221.5 534h0m.2-1.5h0m2.7 .1h0m-1 .7h0m-.3 .4h0m-1.1 .6h0m3.7-.9h0m0-1.6h0m1.1-2.5h0m2.3 .5h0m-1.1 .5h0m3 3.1h0m.7-.8h0m3.2-1.7h0m.1 3.3h0m4.1-4.4h0m3.5 4.8h0m1.2-2h0m2-1h0m3.7 2.2h0m1.7-.9h0m3.7-3.8h0m-1.7 .3h0m.7 2h0m2.8-.3h0m2.9 .2h0m2.1 2.8h0m.3-1.3h0m1.7-.3h0m.3-1.3h0m1.8 .7h0m4.6 1.2h0" stroke="#F8766D" stroke-width="1.2"/>
<path d="M272.2 522.5h0m.1 6.6h0m-1.1 1.4h0m1 .3h0m2-1.6h0m-1.1-.1h0m2.3-3.9h0m-2.1-2.9h0m2.9-1.2h0m.5 5.4h0m1 1.3h0m-.5 .1h0m.1 1.3h0m.8 .8h0m-.1 .1h0m-2 1.4h0m3-3.2h0m.1-.3h0m.8-.7h0m4.8-3.4h0m-.8 2.8h0m-1.8 .7h0m.4 .5h0m2.3 .6h0m-1.4 .2h0m.5 .9h0m2.8 .4h0m1-.2h0m-2.7-4.6h0m.7-1.3h0m4.5 .6h0m-2.2 .7h0m2.1 1.6h0m.5 4.5h0m.3 1.1h0m2-.9h0m-.8-1.2h0m.5-1h0m.6-.9h0m.3-.7h0m-2.5-.3h0m1.1-1.1h0m-.5-3.5h0m3.2 1.3h0m-.7 5.5h0" stroke="#53B400" stroke-width="1.2"/>
<path d="M269.7 527h0m2.9-6.2h0m-2.6 4h0m2.2 .9h0m-.4 .7h0m-1.7 0h0m1.7 2.1h0m-.2 2.4h0m2.4-2h0m.9-.7h0m.4-1.1h0m-2.3-1.3h0m1.5-.1h0m1.3-.1h0m-2.8-.7h0m1.3-.3h0m-.6-.1h0m1.5-1.8h0m-.6-.6h0m2.3 1.1h0m.2 .9h0m-.7 1.5h0m.6 1.4h0" stroke="#C49A00" stroke-width="1.2"/>
<path d="M296.7 527.3h0m1.1 2.3h0m-.2-.9h0m.5-.9h0m-.7-.1h0" stroke="#00C094" stroke-width="1.2"/>
<polygon points="296.1,521.8 308.4,521.8 320.6,521.8 320.6,530.7 296.1,530.7" fill="#FB61D7" fill-opacity="0.25"/>
<path d="M296.7 527.3h0m.2 4.2h0m2.5-.3h0m-2.4-.2h0m2.1-.2h0m-1.1 0h0m.5-2.4h0m-1.4-.1h0m.2-1.6h0m0-.1h0m2.6-.5h0m-.2-1.8h0m-1.8-3h0m1.3-.1h0m.2-.2h0m2.5 1.8h0m.5 3h0m-1.6 .7h0m.5 .1h0m-.8 1.4h0m2 .4h0m-1.7 1.3h0m1.8 .8h0m-1.3 .2h0m-1.3 .2h0m1.5 .2h0m-.3 .3h0m3.8 .2h0m-1.5-1.5h0m-.1-.3h0m1.5-.3h0m-.3-1.6h0m-1.4-.1h0m1.9-.4h0m-.6-.7h0m-1.4-.6h0m.2-1.4h0m1.5-.9h0m0-.1h0m.2-1.8h0m1.1 .2h0m1.5 1.8h0m-1.5 .6h0m.6 .8h0m-.5 .4h0m.3 .2h0m1.8 1.5h0m-.6 .6h0m-1.4 .9h0m2.6 .7h0m-.2 0h0m0 .2h0m-2.4 1h0m1.5 .4h0m3.7-.3h0m-2.2-1.9h0m1.9-.5h0m-2.1-3.2h0m2.2-1.3h0m-1.2-.2h0m1.6-.5h0m-2.1-1.4h0m5.1-.4h0m-2.2 .1h0m2.3 4.7h0m-.3 .4h0m-1.1 1.4h0m.4 .1h0m-1.4 2h0m-.3 .2h0m1.4 .2h0m1.6 1.4h0m1.1-.8h0m0-.9h0m1.1 0h0m.2-.2h0m-.7-1.1h0m.2-2h0m-1.4-.8h0m.1-1.5h0m1.6-.4h0m1.2-2.8h0m-.1 2.2h0m-.4 .5h0m2.5 4.5h0m-1.7 .5h0m-.1 .8h0m.5 .6h0m-.2 .3h0m-.9 .6h0" stroke="#FB61D7" stroke-width="1.2"/>
<polygon points="312.9,521.3 320.1,521.3 327.2,521.3 327.2,529.7 312.9,529.7" fill="#00B6EB" fill-opacity="0.35"/>
<path d="M314.1 522.3h0m0 .4h0m-.2 .2h0m.9 .1h0m-.5 .7h0m-.8 .7h0m-.1 4h0m1.3 .6h0m-.2 1.3h0m2 .4h0m-1.5-.5h0m1 0h0m-1-.4h0m2.9-.7h0m-1.5-.3h0m-.8-.3h0m1.2-1h0m-.2-.1h0m1.3-.7h0m-2.7-.2h0m2.1-.2h0m.3 0h0m-1.1-.8h0m.6-.1h0m-1.5-.6h0m1.8 0h0m-.2-.6h0m.7-.5h0m-1 0h0m.3-.2h0m.1 0h0m.2-.2h0m-.2-.2h0m1.3-2.3h0m1.2 0h0m.9 0h0m-.6 .7h0m.8 .5h0m-1.8 .3h0m1.6 1.1h0m-.4 1h0m-1.9 1.6h0m-.4 .1h0m1.6 .2h0m-1.3 .9h0m.1 .1h0m2.4 .3h0m-.3 0h0m-1.8 .3h0m1.3 .1h0m-2 .2h0m.3 .3h0m2.5 .6h0m-1.8 .3h0m-.3 1.1h0m.8 .2h0m1.7-.4h0m-.1-.1h0m.1-2h0m1.3-.2h0m.4-.7h0m-1.6-.9h0m1.8-.1h0m-.4-.2h0m0-.4h0m-.5-.6h0m-.4-.9h0m-.4-.1h0m.2-.7h0m1.8 0h0m-1-.8h0m-.3-.4h0m.5-2h0m3.6 .5h0m-1.8 .6h0m1.3 .3h0m-1.5 1.1h0m2.1 .1h0m-1.5 .4h0m1 .6h0m.3 .1h0m-2 .4h0m2.1 .4h0m-2.1 .5h0m1.3 0h0m-.3 .8h0m1.3 .7h0m.4 1.5h0m-2.3 1.9h0m.8 .7h0m1.7-8.2h0" stroke="#00B6EB" stroke-width="1.2"/>
<polygon points="326.7,524.8 340.5,524.8 354.3,524.8 354.3,532.8 326.7,532.8" fill="#A58AFF" fill-opacity="0.1"/>
<path d="M327.8 533.7h0m1.7-.7h0m-2.3-.9h0m2.7-.5h0m-1.6-.9h0m1.1-1h0m.3-.4h0m-.7-1.3h0m-.9-2.6h0m4-.5h0m.5 1h0m-.4 1.4h0m-.3 1.4h0m-1.2 1h0m.7 1.4h0m1.1 1.4h0m-1.4 .2h0m1.5 1.1h0m1.9-1.5h0m.7-.2h0m-1.2-.7h0m-.9-.4h0m2.2-.8h0m-1.3-.2h0m.4-2.7h0m1.6-2h0m0 1h0m2.7 .2h0m-2.3 4.3h0m1.6 .8h0m-1.1 .8h0m-.3 .2h0m.3 .1h0m-.5 .1h0m1.2 .7h0m1.5 .3h0m.7-.6h0m.8-4.7h0m.7 0h0m-1.6-1.6h0m1.7 0h0m-1-2.8h0m3.9 4.1h0m.3 2.2h0m-.9 2.1h0m.1 .7h0m-1.6 .7h0m2.8-.8h0m.5-2.4h0m.7-1.2h0m-.4-.1h0m.5 0h0m.1-.3h0m2.5-4.9h0m-.2 .3h0m.1 1.1h0m-.4 .4h0m0 4.2h0m1.8 2.5h0m.4 .4h0m1.8 .5h0m1-3h0m-1.5 0h0m-.4-1.2h0m2.1-1.3h0m-2-1.2h0m1.9-.7h0m0-.3h0m-1.5 0h0m.8-.2h0m1.4 4h0" stroke="#A58AFF" stroke-width="1.2"/>
<path d="M218.6 537.6C256.9 537.6 256.9 537.6 295.1 537.6C301.5 537.6 301.5 537.2 307.9 537.2C315.2 537.2 315.2 534 322.6 534C329.3 534 329.3 535.3 335.9 535.3C343.5 535.3 343.5 537.3 351.2 537.3" stroke="#111" stroke-width=".8" fill="none" opacity=".9"/>
<line x1="212.2" y1="539.8" x2="360.5" y2="539.8" stroke="#333" stroke-width=".5"/>
<line x1="218.6" y1="539.8" x2="218.6" y2="541" stroke="#333" stroke-width=".4"/>
<text x="218.6" y="543.2" font-size="3.3" text-anchor="middle" fill="#111">0</text>
<line x1="269.6" y1="539.8" x2="269.6" y2="541" stroke="#333" stroke-width=".4"/>
<text x="269.6" y="543.2" font-size="3.3" text-anchor="middle" fill="#111">10</text>
<line x1="320.6" y1="539.8" x2="320.6" y2="541" stroke="#333" stroke-width=".4"/>
<text x="320.6" y="543.2" font-size="3.3" text-anchor="middle" fill="#111">20</text>
<text x="286.4" y="547" font-size="4.4" text-anchor="middle" fill="#111">Pseudo-time</text>
<text x="202.6" y="456.8" font-size="4.1" text-anchor="middle" fill="#111" transform="rotate(-90 202.6 456.8)">Relative Expression</text>
<text x="367.6" y="419" font-size="5.2" font-weight="bold" fill="#222">State</text>
<circle cx="369.5" cy="427" r="2.2" fill="#F8766D"/>
<text x="379.2" y="428.9" font-size="5" font-weight="bold" fill="#222">1</text>
<circle cx="369.5" cy="435.5" r="2.2" fill="#C49A00"/>
<text x="379.2" y="437.4" font-size="5" font-weight="bold" fill="#222">2</text>
<circle cx="369.5" cy="444" r="2.2" fill="#53B400"/>
<text x="379.2" y="445.9" font-size="5" font-weight="bold" fill="#222">3</text>
<circle cx="369.5" cy="452.4" r="2.2" fill="#00C094"/>
<text x="379.2" y="454.3" font-size="5" font-weight="bold" fill="#222">4</text>
<circle cx="369.5" cy="460.9" r="2.2" fill="#00B6EB"/>
<text x="379.2" y="462.8" font-size="5" font-weight="bold" fill="#222">5</text>
<circle cx="369.5" cy="469.4" r="2.2" fill="#A58AFF"/>
<text x="379.2" y="471.3" font-size="5" font-weight="bold" fill="#222">6</text>
<circle cx="369.5" cy="477.9" r="2.2" fill="#FB61D7"/>
<text x="379.2" y="479.8" font-size="5" font-weight="bold" fill="#222">7</text>
</svg></body></html>
